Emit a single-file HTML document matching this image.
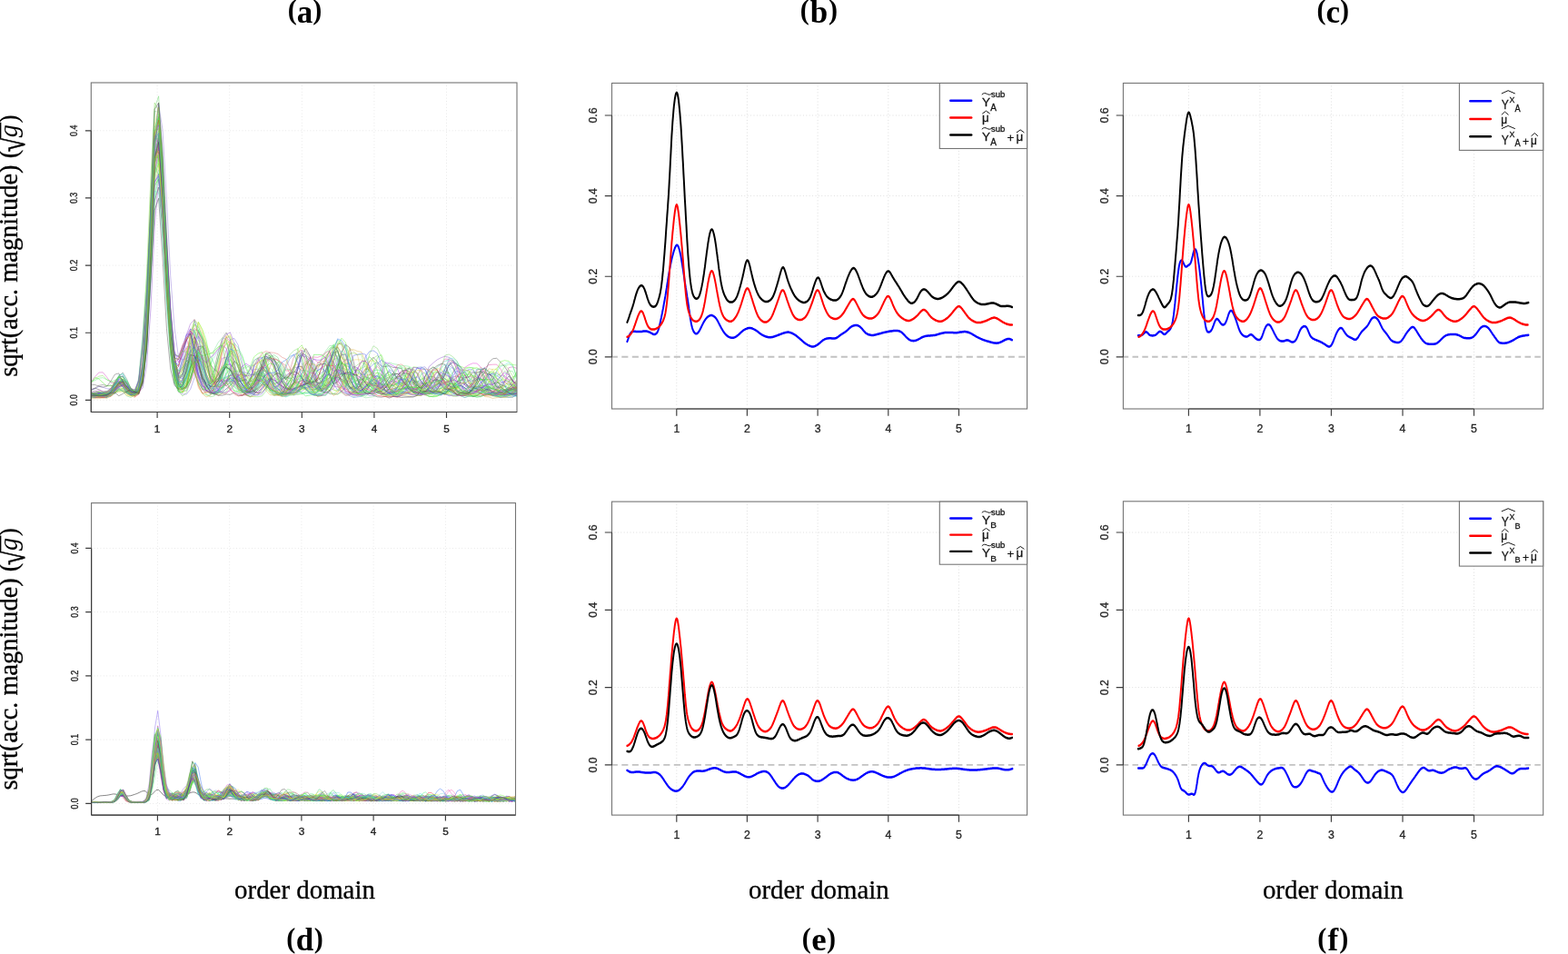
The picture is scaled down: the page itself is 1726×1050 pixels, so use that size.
<!DOCTYPE html>
<html lang="en"><head><meta charset="utf-8"><title>Order domain spectra</title>
<style>html,body{margin:0;padding:0;background:#fff}body{width:1726px;height:1050px;overflow:hidden}svg{display:block}</style>
</head><body>
<svg width="1726" height="1050" viewBox="0 0 1726 1050" role="img" aria-label="Order domain spectra, panels (a) to (f)">
<rect width="1726" height="1050" fill="#fff"/>
<g id="panel-a">
<path d="M173.1 94.0V451.5M252.7 94.0V451.5M332.3 94.0V451.5M411.9 94.0V451.5M491.5 94.0V451.5M103.3 440.3H566.0M103.3 366.2H566.0M103.3 292.1H566.0M103.3 217.9H566.0M103.3 143.8H566.0" fill="none" stroke="#e8e8e8" stroke-width="1" stroke-dasharray="1 2.4"/>
<clipPath id="cp-a"><rect x="100.3" y="91.0" width="468.7" height="362.5"/></clipPath>
<g fill="none" stroke-width="0.72" stroke-linejoin="round" stroke-opacity="0.58" clip-path="url(#cp-a)">
<path d="M100.2 436.4L104.6 437.7L108.9 436.8L113.3 437.1L117.7 435.6L122.1 433.8L126.5 430.2L130.8 428.8L135.2 430.4L139.6 435.8L144 437.4L148.3 435.1L152.7 430.5L157.1 409.7L161.5 345.3L165.9 228.2L170.2 119.7L174.6 105.8L179 174.4L183.4 272.8L187.7 357.5L192.1 406.2L196.5 420L200.9 412.5L205.3 400L209.6 396.1L214 408.5L218.4 422.8L222.8 432.8L227.1 434.9L231.5 434.8L235.9 431.5L240.3 423.5L244.7 413.4L249 401.6L253.4 396L257.8 399.9L262.2 412.1L266.6 423.7L270.9 425.1L275.3 418.2L279.7 410.7L284.1 408.5L288.4 410.4L292.8 417L297.2 422L301.6 427.5L306 434.3L310.3 433.5L314.7 432.6L319.1 431.2L323.5 427.8L327.8 424.9L332.2 424.2L336.6 426.9L341 430.7L345.4 433.6L349.7 434.3L354.1 430.8L358.5 421.6L362.9 407.5L367.2 395.6L371.6 394.1L376 398.8L380.4 409.7L384.8 422L389.1 427.5L393.5 428L397.9 427.3L402.3 423.9L406.6 422.2L411 422.3L415.4 426.8L419.8 432.3L424.2 432.7L428.5 433.3L432.9 435L437.3 433.8L441.7 428.3L446 421L450.4 416.6L454.8 418.2L459.2 420.6L463.6 417.9L467.9 414.2L472.3 408.5L476.7 410.9L481.1 419.7L485.5 427.1L489.8 431.8L494.2 430.8L498.6 428.6L503 426.9L507.3 425.6L511.7 430.6L516.1 431.3L520.5 430.4L524.9 430.7L529.2 432.8L533.6 432.4L538 434.4L542.4 435.9L546.7 436.7L551.1 436.7L555.5 434.9L559.9 434.7L564.3 433.9L568.6 431.3L569.5 431.1" stroke="#5fd35f"/>
<path d="M100.2 437.4L104.6 437.5L108.9 437.4L113.3 436.7L117.7 436.1L122.1 434.8L126.5 432.3L130.8 430.2L135.2 430.6L139.6 431.9L144 434.8L148.3 433.1L152.7 419.2L157.1 375.1L161.5 299.1L165.9 196.1L170.2 113.1L174.6 122.3L179 204.5L183.4 305.2L187.7 378.6L192.1 416.5L196.5 431L200.9 431.8L205.3 423.4L209.6 408.7L214 395.1L218.4 392L222.8 400.3L227.1 417.5L231.5 427.7L235.9 431.4L240.3 429.8L244.7 420.6L249 412.7L253.4 404L257.8 398L262.2 401.2L266.6 413.6L270.9 427.4L275.3 432.1L279.7 426.9L284.1 415.4L288.4 402.1L292.8 397.6L297.2 408.6L301.6 423.3L306 431.3L310.3 435.3L314.7 436.5L319.1 435.2L323.5 434.8L327.8 434.2L332.2 433.5L336.6 430.8L341 424.7L345.4 419L349.7 416.2L354.1 414L358.5 408.9L362.9 396.5L367.2 382L371.6 375.4L376 379.4L380.4 399.8L384.8 420.9L389.1 431.5L393.5 434.2L397.9 429.1L402.3 420.3L406.6 405L411 394.1L415.4 391.5L419.8 395L424.2 403L428.5 414.3L432.9 421.6L437.3 423.6L441.7 414.6L446 406.5L450.4 405.2L454.8 411.4L459.2 419.3L463.6 424.9L467.9 424.3L472.3 426.8L476.7 429.9L481.1 430.5L485.5 431L489.8 430.2L494.2 423.7L498.6 415.7L503 413.5L507.3 415L511.7 418.3L516.1 419.3L520.5 415.4L524.9 410.3L529.2 408.5L533.6 420.2L538 432.8L542.4 435.3L546.7 436.1L551.1 437L555.5 437.6L559.9 437.4L564.3 436.8L568.6 435.1L569.5 434.4" stroke="#7ad84a"/>
<path d="M100.2 430.2L104.6 427.1L108.9 424.3L113.3 423.5L117.7 424.6L122.1 423.9L126.5 427.3L130.8 425.5L135.2 423.6L139.6 425.1L144 429.9L148.3 432.9L152.7 433L157.1 418.4L161.5 371L165.9 271.1L170.2 159L174.6 128.3L179 181.5L183.4 276.9L187.7 359.2L192.1 401L196.5 411.4L200.9 406.5L205.3 397.4L209.6 394.5L214 401.6L218.4 414.6L222.8 424.9L227.1 426.6L231.5 419.5L235.9 406.2L240.3 387.1L244.7 372.5L249 366.1L253.4 373.6L257.8 402.4L262.2 422.6L266.6 431.4L270.9 430.1L275.3 419.8L279.7 402.3L284.1 394.2L288.4 403.6L292.8 419.9L297.2 430.3L301.6 435L306 435.1L310.3 434.3L314.7 434.9L319.1 433.4L323.5 431.5L327.8 430L332.2 427.6L336.6 426.1L341 425.7L345.4 424.4L349.7 423.3L354.1 420.9L358.5 418.5L362.9 415.6L367.2 409.3L371.6 405.9L376 410.4L380.4 418.4L384.8 425.5L389.1 428L393.5 424.6L397.9 416.2L402.3 406.1L406.6 407L411 414.3L415.4 423.6L419.8 430.6L424.2 435L428.5 436.4L432.9 436.2L437.3 436.4L441.7 435.7L446 436L450.4 436.6L454.8 436.3L459.2 435.2L463.6 428.7L467.9 420.2L472.3 414.9L476.7 414.2L481.1 417.5L485.5 420.1L489.8 413.2L494.2 401.3L498.6 396.5L503 401.7L507.3 414.1L511.7 423.9L516.1 426.8L520.5 424L524.9 417.6L529.2 410.4L533.6 408L538 414L542.4 420.6L546.7 426.1L551.1 431.6L555.5 434.6L559.9 434.5L564.3 431.7L568.6 429.2L569.5 428.7" stroke="#535353"/>
<path d="M100.2 435.6L104.6 436.7L108.9 436.9L113.3 437.3L117.7 436.6L122.1 435.3L126.5 432.2L130.8 428.8L135.2 428.8L139.6 432.1L144 434L148.3 435L152.7 430.9L157.1 412.6L161.5 361.9L165.9 270.1L170.2 183.8L174.6 157.2L179 196.7L183.4 274.6L187.7 348.8L192.1 397.3L196.5 419.3L200.9 420.8L205.3 408.7L209.6 397.7L214 397.6L218.4 411.2L222.8 426.3L227.1 434.2L231.5 436.7L235.9 435.8L240.3 430.8L244.7 425.3L249 422.6L253.4 416.2L257.8 420.8L262.2 427.7L266.6 431.2L270.9 434.7L275.3 436.3L279.7 436.6L284.1 436.7L288.4 435.8L292.8 430.4L297.2 419L301.6 403.8L306 398.1L310.3 400.7L314.7 413.2L319.1 416.3L323.5 405.1L327.8 391.4L332.2 392L336.6 407.7L341 425.9L345.4 431.8L349.7 430.5L354.1 420.2L358.5 396.3L362.9 385.5L367.2 379.7L371.6 383.6L376 406.1L380.4 414.9L384.8 416.7L389.1 416.9L393.5 419.4L397.9 421.8L402.3 418.7L406.6 416.4L411 413.6L415.4 413.4L419.8 420.6L424.2 429L428.5 432.9L432.9 435.5L437.3 434.2L441.7 432.6L446 433.2L450.4 432.4L454.8 431.2L459.2 430.8L463.6 431.3L467.9 433.1L472.3 432.6L476.7 430.2L481.1 423.2L485.5 414.3L489.8 403.8L494.2 399.6L498.6 403.5L503 412.4L507.3 422.6L511.7 427.6L516.1 426.9L520.5 422.2L524.9 416.7L529.2 417.3L533.6 421.6L538 427.4L542.4 433.1L546.7 435.5L551.1 435.8L555.5 433.6L559.9 432.3L564.3 432.2L568.6 431.1L569.5 431.3" stroke="#5edd58"/>
<path d="M100.2 435.1L104.6 434L108.9 436.3L113.3 434L117.7 434.9L122.1 435.8L126.5 432.9L130.8 425.7L135.2 422.7L139.6 428.4L144 432.4L148.3 434L152.7 429L157.1 406.3L161.5 339.7L165.9 234.6L170.2 143.1L174.6 142.4L179 200.2L183.4 281.4L187.7 353.8L192.1 399.8L196.5 422.4L200.9 427L205.3 414.4L209.6 385.3L214 352.4L218.4 358.8L222.8 372.6L227.1 403.5L231.5 415.3L235.9 408.3L240.3 393.4L244.7 378.7L249 376.7L253.4 389.6L257.8 406.9L262.2 422.1L266.6 431L270.9 434.5L275.3 434.6L279.7 432.6L284.1 424.5L288.4 411.8L292.8 394.8L297.2 390.9L301.6 392.9L306 396.7L310.3 408.9L314.7 418.4L319.1 425.8L323.5 431.6L327.8 434L332.2 432.8L336.6 432.4L341 431.3L345.4 429.8L349.7 426.9L354.1 424.5L358.5 424.2L362.9 426.3L367.2 418.9L371.6 415.3L376 417.2L380.4 423.4L384.8 432L389.1 433.4L393.5 433.5L397.9 434.1L402.3 436.1L406.6 433.4L411 433.8L415.4 427.2L419.8 417.9L424.2 404.1L428.5 398.8L432.9 400.6L437.3 401.2L441.7 403L446 417.8L450.4 425.4L454.8 431L459.2 433.9L463.6 433L467.9 429.7L472.3 427.2L476.7 426.7L481.1 423.8L485.5 417L489.8 411.5L494.2 415.5L498.6 424.6L503 431.1L507.3 430.7L511.7 430.1L516.1 431.9L520.5 433.4L524.9 435L529.2 432.2L533.6 431.5L538 431.8L542.4 432.7L546.7 433.8L551.1 435.5L555.5 434.4L559.9 432.5L564.3 430L568.6 427.1L569.5 428.4" stroke="#4fe66f"/>
<path d="M100.2 434.5L104.6 435L108.9 435L113.3 433.4L117.7 434.6L122.1 430.3L126.5 422.4L130.8 418.4L135.2 420.5L139.6 429.4L144 433.9L148.3 434.3L152.7 431.9L157.1 423.7L161.5 387L165.9 310.4L170.2 217.3L174.6 186.9L179 235.8L183.4 317.5L187.7 383.8L192.1 416.6L196.5 426.4L200.9 417.2L205.3 396.4L209.6 365.6L214 356.5L218.4 364.6L222.8 375.7L227.1 393.1L231.5 401L235.9 393L240.3 386.3L244.7 382.1L249 388.7L253.4 410.5L257.8 425.7L262.2 431.6L266.6 431.8L270.9 429.9L275.3 426.1L279.7 421.1L284.1 417L288.4 416.7L292.8 422.1L297.2 429.8L301.6 433.6L306 434.6L310.3 435.4L314.7 432.9L319.1 430.9L323.5 423.1L327.8 416.7L332.2 414.1L336.6 421.1L341 427.1L345.4 429.4L349.7 432.1L354.1 434.2L358.5 431.2L362.9 422.1L367.2 400.4L371.6 378L376 378L380.4 382.1L384.8 388.5L389.1 404.6L393.5 419.1L397.9 424.6L402.3 425.9L406.6 424.9L411 426.5L415.4 430.7L419.8 433.3L424.2 434.3L428.5 433.4L432.9 430.3L437.3 429.2L441.7 427.9L446 423.1L450.4 421.3L454.8 423.6L459.2 427.4L463.6 430.4L467.9 432.3L472.3 433.3L476.7 432.5L481.1 431.5L485.5 426L489.8 417.4L494.2 406.9L498.6 404.5L503 411.3L507.3 418.4L511.7 421.8L516.1 419.2L520.5 414.1L524.9 405.9L529.2 404.9L533.6 415.2L538 425.3L542.4 427.7L546.7 429.6L551.1 432.5L555.5 432.8L559.9 428.8L564.3 420.1L568.6 412.4L569.5 412.6" stroke="#70dfd4"/>
<path d="M100.2 437.1L104.6 437.7L108.9 437L113.3 437.6L117.7 437.4L122.1 431.8L126.5 422.9L130.8 416.9L135.2 419.8L139.6 427.8L144 434.4L148.3 435.9L152.7 429.9L157.1 403.9L161.5 343.3L165.9 247.8L170.2 165.8L174.6 160.9L179 223.2L183.4 309.1L187.7 378L192.1 412.9L196.5 414.4L200.9 392L205.3 372.7L209.6 362.3L214 363.9L218.4 394.5L222.8 416.1L227.1 421.2L231.5 421.1L235.9 417.9L240.3 412.7L244.7 406.9L249 401.4L253.4 401.2L257.8 405.9L262.2 413.8L266.6 423.5L270.9 429.3L275.3 432.2L279.7 431.7L284.1 426L288.4 418L292.8 418.1L297.2 426.6L301.6 430.7L306 433.3L310.3 436.3L314.7 435.8L319.1 434.2L323.5 433.5L327.8 430.1L332.2 426.2L336.6 426.7L341 428.5L345.4 428.9L349.7 428L354.1 419.2L358.5 407.6L362.9 397.7L367.2 398.2L371.6 409.6L376 423.4L380.4 432L384.8 435.4L389.1 437.5L393.5 436.8L397.9 436.3L402.3 432.5L406.6 424.4L411 411.8L415.4 400.4L419.8 396.3L424.2 399.1L428.5 403.3L432.9 408.4L437.3 416.5L441.7 422.4L446 427.9L450.4 428L454.8 431.3L459.2 434.8L463.6 435.1L467.9 433.2L472.3 426.7L476.7 420.9L481.1 414.5L485.5 409.5L489.8 407.5L494.2 414.4L498.6 423.6L503 431L507.3 435.6L511.7 437.6L516.1 435.7L520.5 436.2L524.9 435.5L529.2 432L533.6 429.6L538 428.7L542.4 430.5L546.7 432.8L551.1 432L555.5 431.9L559.9 427.3L564.3 423.5L568.6 418.9L569.5 419.4" stroke="#3568e7"/>
<path d="M100.2 435.2L104.6 434.9L108.9 436L113.3 437.1L117.7 437.6L122.1 435.3L126.5 430.2L130.8 421.6L135.2 421.2L139.6 429.3L144 433L148.3 432L152.7 415.9L157.1 366.4L161.5 306.1L165.9 238.3L170.2 182.9L174.6 193.1L179 258.3L183.4 337L187.7 394.2L192.1 421.8L196.5 427.7L200.9 416.7L205.3 395.6L209.6 367L214 353.6L218.4 363.2L222.8 387.1L227.1 404.6L231.5 402.3L235.9 385.1L240.3 376.7L244.7 371.8L249 373.6L253.4 396.6L257.8 408.3L262.2 409.7L266.6 406.4L270.9 402.1L275.3 405.1L279.7 409.1L284.1 412.3L288.4 409.6L292.8 407.8L297.2 414.4L301.6 425L306 432.9L310.3 435.7L314.7 435.4L319.1 431.1L323.5 429.2L327.8 428.9L332.2 428.1L336.6 427.3L341 423.9L345.4 418.2L349.7 407.9L354.1 393.8L358.5 386.3L362.9 380.4L367.2 380.4L371.6 396.2L376 412.1L380.4 425.5L384.8 433.1L389.1 436.7L393.5 435L397.9 435.9L402.3 437.8L406.6 437.4L411 436.7L415.4 434.3L419.8 428.9L424.2 422L428.5 416.3L432.9 415.6L437.3 416.4L441.7 412.6L446 411.2L450.4 412.1L454.8 418.4L459.2 427.1L463.6 430.5L467.9 431.6L472.3 430.7L476.7 429.6L481.1 428.2L485.5 427.3L489.8 422.5L494.2 416.1L498.6 417.7L503 428.8L507.3 436.1L511.7 437.4L516.1 436.3L520.5 435.9L524.9 437.5L529.2 436L533.6 433.3L538 426.4L542.4 419.9L546.7 416L551.1 419.6L555.5 424.6L559.9 432.6L564.3 434.3L568.6 435.7L569.5 437.3" stroke="#6bda84"/>
<path d="M100.2 433.2L104.6 432.5L108.9 434.5L113.3 435.2L117.7 434.2L122.1 431.9L126.5 426.8L130.8 416.3L135.2 413.7L139.6 421.7L144 431L148.3 433.9L152.7 430.9L157.1 417.7L161.5 373L165.9 285.1L170.2 191.9L174.6 167.1L179 206.1L183.4 274.8L187.7 342.7L192.1 391L196.5 414L200.9 417.1L205.3 409.4L209.6 395L214 381.3L218.4 370.2L222.8 377.6L227.1 387.2L231.5 406.2L235.9 420.5L240.3 429.9L244.7 431.5L249 428.1L253.4 424.2L257.8 418L262.2 414.3L266.6 418.9L270.9 423.9L275.3 418.8L279.7 402.8L284.1 397.4L288.4 393.8L292.8 392L297.2 395.3L301.6 399.5L306 415.8L310.3 427L314.7 430.6L319.1 428.6L323.5 420.5L327.8 406.3L332.2 391.4L336.6 392.8L341 396.9L345.4 413.5L349.7 426.5L354.1 428.2L358.5 426.6L362.9 419.7L367.2 416L371.6 415.3L376 417.5L380.4 421.8L384.8 426.7L389.1 431.3L393.5 432.5L397.9 430.5L402.3 425.9L406.6 422.3L411 422.8L415.4 425.4L419.8 421.9L424.2 412.2L428.5 408.7L432.9 412.7L437.3 415.5L441.7 418.6L446 420.4L450.4 426.7L454.8 431.4L459.2 432.3L463.6 433.4L467.9 430.8L472.3 427.9L476.7 425.5L481.1 422.7L485.5 422.8L489.8 427.7L494.2 430L498.6 432L503 434L507.3 434.3L511.7 433L516.1 432.6L520.5 433.9L524.9 431.7L529.2 428.1L533.6 425L538 425.6L542.4 428.4L546.7 430.5L551.1 432.8L555.5 429.9L559.9 428.3L564.3 428.5L568.6 428.1L569.5 428.1" stroke="#4a12f4"/>
<path d="M100.2 428.8L104.6 427.9L108.9 425.4L113.3 426.2L117.7 427.8L122.1 428L126.5 423.5L130.8 421.4L135.2 424.7L139.6 430.7L144 434.9L148.3 434.1L152.7 429.2L157.1 408.1L161.5 345L165.9 239.3L170.2 152L174.6 158.8L179 231.8L183.4 320.7L187.7 387.9L192.1 421.8L196.5 431.4L200.9 433.9L205.3 433.9L209.6 428.5L214 415.6L218.4 398.4L222.8 390.9L227.1 398.3L231.5 413.3L235.9 422.1L240.3 419.9L244.7 410.3L249 401.9L253.4 400.5L257.8 405L262.2 414.8L266.6 423.6L270.9 430.2L275.3 431.1L279.7 430.6L284.1 421.3L288.4 410.5L292.8 398.8L297.2 392.9L301.6 396.4L306 404.8L310.3 414.9L314.7 423.2L319.1 426.4L323.5 421.9L327.8 403.9L332.2 385.8L336.6 387.1L341 391.3L345.4 403.4L349.7 419.5L354.1 429.2L358.5 430.2L362.9 424.5L367.2 418.1L371.6 413.1L376 411.1L380.4 411.5L384.8 410.6L389.1 411.5L393.5 418L397.9 426.7L402.3 432.9L406.6 435.5L411 435.1L415.4 432.2L419.8 427L424.2 414.9L428.5 406.8L432.9 409.2L437.3 416.4L441.7 417.2L446 418.8L450.4 426.4L454.8 425.8L459.2 424.2L463.6 419.8L467.9 423.7L472.3 430.4L476.7 430.4L481.1 425.7L485.5 416.3L489.8 406.5L494.2 402.3L498.6 405.2L503 412.7L507.3 418.8L511.7 417.5L516.1 410.8L520.5 409L524.9 412.3L529.2 419.9L533.6 428.1L538 433.8L542.4 435.2L546.7 433L551.1 431L555.5 430.3L559.9 430.2L564.3 431.7L568.6 432.8L569.5 432" stroke="#715cda"/>
<path d="M100.2 419.9L104.6 414.7L108.9 410L113.3 409.8L117.7 415.3L122.1 421.2L126.5 421.6L130.8 419.2L135.2 420.7L139.6 426.4L144 432L148.3 433.2L152.7 431.4L157.1 418.9L161.5 376.6L165.9 278.8L170.2 163.2L174.6 127.9L179 187.9L183.4 287L187.7 368.1L192.1 410.2L196.5 423.6L200.9 420.5L205.3 405.1L209.6 382.6L214 370.6L218.4 380.3L222.8 401L227.1 417.4L231.5 428.1L235.9 431.6L240.3 429.1L244.7 423.9L249 418L253.4 413.6L257.8 413.9L262.2 419.7L266.6 426.2L270.9 430.5L275.3 431.3L279.7 431.2L284.1 422.2L288.4 409.1L292.8 394.9L297.2 395.2L301.6 403.2L306 416.7L310.3 427.6L314.7 432.9L319.1 433.3L323.5 432.2L327.8 431.2L332.2 421.6L336.6 405.6L341 394L345.4 395.3L349.7 398.6L354.1 400.7L358.5 414.8L362.9 422.7L367.2 425L371.6 425.8L376 426.8L380.4 428.4L384.8 427.9L389.1 424.5L393.5 417.9L397.9 411.6L402.3 405.8L406.6 404.1L411 411.1L415.4 417.3L419.8 424.5L424.2 429.6L428.5 431.4L432.9 430.9L437.3 429.3L441.7 427.2L446 428.2L450.4 426.9L454.8 427.7L459.2 427L463.6 423.1L467.9 422.3L472.3 424.4L476.7 416.8L481.1 409.4L485.5 413.7L489.8 420.3L494.2 419.6L498.6 414.5L503 413.9L507.3 415.7L511.7 415L516.1 414.5L520.5 415L524.9 417.5L529.2 424.8L533.6 428L538 429.8L542.4 430.3L546.7 432.3L551.1 429.5L555.5 421.5L559.9 404.7L564.3 403.8L568.6 405.3L569.5 405.8" stroke="#d031b9"/>
<path d="M100.2 435L104.6 435L108.9 434.3L113.3 436L117.7 436.1L122.1 434L126.5 431.7L130.8 428.9L135.2 427.2L139.6 430.7L144 431.4L148.3 430.3L152.7 426.1L157.1 400.9L161.5 335.2L165.9 234.5L170.2 151.8L174.6 153L179 221.5L183.4 313.5L187.7 380.1L192.1 410.2L196.5 415.8L200.9 406.5L205.3 390L209.6 378L214 375.7L218.4 384L222.8 400.8L227.1 417.8L231.5 425.5L235.9 430.2L240.3 434.9L244.7 433L249 431.4L253.4 423.6L257.8 414.5L262.2 411.2L266.6 418.1L270.9 425.2L275.3 431.3L279.7 430.8L284.1 426.7L288.4 419.3L292.8 410.4L297.2 404.9L301.6 409.2L306 422.1L310.3 430.5L314.7 431.1L319.1 428.3L323.5 422.1L327.8 413.5L332.2 407.4L336.6 407.8L341 409.4L345.4 407.4L349.7 401.4L354.1 395.4L358.5 388.4L362.9 383.1L367.2 381.6L371.6 398.2L376 414.2L380.4 423L384.8 422.8L389.1 419.9L393.5 418.4L397.9 417.2L402.3 416.9L406.6 418.8L411 423.8L415.4 429.6L419.8 430.6L424.2 430.6L428.5 431.5L432.9 429.4L437.3 426.4L441.7 422.3L446 420.4L450.4 419.8L454.8 420.8L459.2 420.6L463.6 417.7L467.9 415.9L472.3 418.7L476.7 423.4L481.1 428.6L485.5 433.2L489.8 433.7L494.2 434.3L498.6 436L503 436.3L507.3 435.1L511.7 433.5L516.1 433.9L520.5 435.3L524.9 434.3L529.2 432.5L533.6 427.6L538 420.7L542.4 417.3L546.7 414.3L551.1 411.2L555.5 403.2L559.9 401.1L564.3 401.4L568.6 401.9L569.5 402.1" stroke="#65f059"/>
<path d="M100.2 431.6L104.6 433L108.9 433.2L113.3 432.8L117.7 432.9L122.1 432.3L126.5 428L130.8 420.9L135.2 414.9L139.6 418.4L144 427L148.3 429.3L152.7 419.4L157.1 384.5L161.5 312.2L165.9 216.3L170.2 155L174.6 170.1L179 238.4L183.4 321.1L187.7 383.4L192.1 415.8L196.5 426.8L200.9 428L205.3 421.8L209.6 405.7L214 386.9L218.4 374.4L222.8 378L227.1 396.6L231.5 416.1L235.9 425.6L240.3 425.4L244.7 415.2L249 395.5L253.4 377L257.8 380.6L262.2 393.8L266.6 415.2L270.9 426.8L275.3 428.7L279.7 425.8L284.1 420.7L288.4 414.5L292.8 413.3L297.2 418.8L301.6 424.8L306 429.4L310.3 432.6L314.7 432.9L319.1 432.8L323.5 433.1L327.8 431.4L332.2 426.3L336.6 423L341 421.1L345.4 424.8L349.7 428.7L354.1 428.1L358.5 421.5L362.9 408.5L367.2 390.7L371.6 377.6L376 379.3L380.4 384L384.8 392.6L389.1 404.1L393.5 408L397.9 405.3L402.3 402.9L406.6 407.5L411 412.7L415.4 420.5L419.8 427.7L424.2 430.1L428.5 431.5L432.9 432.2L437.3 429.9L441.7 424.8L446 418.3L450.4 412.1L454.8 408.9L459.2 410.2L463.6 415L467.9 422.3L472.3 427.2L476.7 428.6L481.1 430.8L485.5 431.7L489.8 430.5L494.2 430.9L498.6 431L503 427.8L507.3 424.4L511.7 419.2L516.1 410.1L520.5 405.5L524.9 404.6L529.2 407.7L533.6 414L538 419.8L542.4 421.3L546.7 421.1L551.1 418.3L555.5 418L559.9 419.4L564.3 426L568.6 430L569.5 430.9" stroke="#83f913"/>
<path d="M100.2 433.8L104.6 433.3L108.9 433L113.3 432.9L117.7 433.6L122.1 431.6L126.5 426.9L130.8 421.3L135.2 420.6L139.6 426.7L144 431.4L148.3 432.6L152.7 432L157.1 426.7L161.5 402.3L165.9 341L170.2 249.9L174.6 197.6L179 225.6L183.4 296.9L187.7 365.3L192.1 405.2L196.5 413.2L200.9 399.8L205.3 381.8L209.6 380.9L214 399.9L218.4 419.7L222.8 428.7L227.1 429.8L231.5 425.6L235.9 412.6L240.3 394.2L244.7 374.7L249 368.2L253.4 365.8L257.8 377.5L262.2 395.4L266.6 410.1L270.9 423.6L275.3 430.5L279.7 429.4L284.1 423L288.4 406.8L292.8 394.7L297.2 395.2L301.6 401.8L306 412L310.3 423.1L314.7 431.7L319.1 432.2L323.5 428.5L327.8 426.9L332.2 421.3L336.6 419.1L341 420.1L345.4 422.9L349.7 427.8L354.1 431.2L358.5 431.5L362.9 432.8L367.2 433.8L371.6 433.6L376 430.5L380.4 426.6L384.8 412.1L389.1 403.3L393.5 404.9L397.9 413.4L402.3 422.2L406.6 425.1L411 424.3L415.4 421.6L419.8 421.9L424.2 425.6L428.5 429.6L432.9 432.1L437.3 431.8L441.7 431.1L446 431.9L450.4 433.7L454.8 432.8L459.2 428.4L463.6 422.7L467.9 414.2L472.3 403.6L476.7 399.6L481.1 396L485.5 393.7L489.8 392.2L494.2 393.3L498.6 396.1L503 407.7L507.3 423.9L511.7 431.4L516.1 431.7L520.5 428.5L524.9 427.2L529.2 426.7L533.6 424.5L538 422.4L542.4 422.3L546.7 421.7L551.1 420.5L555.5 420.4L559.9 422.9L564.3 423.7L568.6 427.1L569.5 427.3" stroke="#813bc8"/>
<path d="M100.2 432.3L104.6 433.7L108.9 435.6L113.3 434.3L117.7 434.8L122.1 434.2L126.5 430.3L130.8 424.1L135.2 418.4L139.6 419.7L144 427.6L148.3 431.7L152.7 429L157.1 417.2L161.5 374.5L165.9 283.7L170.2 181.7L174.6 147.8L179 192.3L183.4 272.1L187.7 347.4L192.1 398.1L196.5 421.7L200.9 429.9L205.3 430L209.6 419L214 401.3L218.4 389.4L222.8 396L227.1 414.1L231.5 427L235.9 432.7L240.3 430.1L244.7 419.9L249 410.6L253.4 407.4L257.8 409.7L262.2 412.8L266.6 419.2L270.9 425.5L275.3 422.7L279.7 414.8L284.1 410.3L288.4 409.6L292.8 413.4L297.2 421.8L301.6 427.2L306 428.5L310.3 428.2L314.7 422.7L319.1 422.8L323.5 427.8L327.8 430.6L332.2 433.1L336.6 433L341 433.2L345.4 434.5L349.7 435.5L354.1 432.4L358.5 429.4L362.9 425.9L367.2 419.4L371.6 418L376 417.3L380.4 420.3L384.8 425.7L389.1 430.3L393.5 429.5L397.9 420.5L402.3 410.6L406.6 407.1L411 416.3L415.4 427L419.8 431.7L424.2 434.2L428.5 435.3L432.9 434.1L437.3 436.1L441.7 433.2L446 434.1L450.4 431.8L454.8 428.6L459.2 422.6L463.6 411.7L467.9 409.9L472.3 420.2L476.7 428.4L481.1 427.5L485.5 418.5L489.8 406L494.2 394.3L498.6 394.4L503 397.6L507.3 405.2L511.7 417.9L516.1 428.3L520.5 432L524.9 434.2L529.2 433.8L533.6 430.3L538 424.6L542.4 417.5L546.7 409.6L551.1 403.1L555.5 401.8L559.9 398.9L564.3 403.3L568.6 414L569.5 414.8" stroke="#3edace"/>
<path d="M100.2 434.5L104.6 432.9L108.9 431.3L113.3 432L117.7 434.1L122.1 432.4L126.5 427.4L130.8 422.3L135.2 422.5L139.6 427.4L144 433.4L148.3 433.8L152.7 427L157.1 404.1L161.5 346L165.9 252.1L170.2 171.1L174.6 164.8L179 228L183.4 319.1L187.7 385.4L192.1 418.7L196.5 431.2L200.9 432L205.3 424.5L209.6 409.7L214 393.1L218.4 391L222.8 401.9L227.1 414.8L231.5 422.7L235.9 414.6L240.3 393.3L244.7 379.3L249 374.5L253.4 389.2L257.8 410.9L262.2 426.5L266.6 431.5L270.9 431.2L275.3 430.5L279.7 428.8L284.1 419.4L288.4 408.4L292.8 397L297.2 392.7L301.6 394.8L306 401.6L310.3 413.9L314.7 424.7L319.1 429.6L323.5 429.9L327.8 427.5L332.2 422.9L336.6 418.6L341 419.4L345.4 419.5L349.7 416.8L354.1 416.8L358.5 424.5L362.9 430.1L367.2 433.5L371.6 434.1L376 431.5L380.4 425L384.8 414.1L389.1 407.7L393.5 407.6L397.9 411.4L402.3 418.6L406.6 424.5L411 427.7L415.4 429.6L419.8 430.4L424.2 433L428.5 435L432.9 434.6L437.3 433.6L441.7 433.7L446 426.6L450.4 416L454.8 403.9L459.2 404.3L463.6 409.5L467.9 421.6L472.3 428.6L476.7 431.1L481.1 432.4L485.5 430.7L489.8 426.7L494.2 418L498.6 409.4L503 401.9L507.3 403.4L511.7 405.1L516.1 404.2L520.5 405.1L524.9 417.9L529.2 426.8L533.6 432.9L538 434.5L542.4 434L546.7 434.7L551.1 433.1L555.5 432.4L559.9 428.7L564.3 427.8L568.6 428.3L569.5 428.1" stroke="#5ef110"/>
<path d="M100.2 435.6L104.6 434.5L108.9 434.5L113.3 436L117.7 434.8L122.1 433.1L126.5 433.5L130.8 428L135.2 423.3L139.6 426.4L144 432.4L148.3 434L152.7 431L157.1 414.4L161.5 364L165.9 271.2L170.2 180.5L174.6 162.4L179 221.7L183.4 309.5L187.7 377.7L192.1 408.4L196.5 407.6L200.9 397L205.3 389.7L209.6 389.7L214 397.9L218.4 410.2L222.8 421.2L227.1 429.1L231.5 433.6L235.9 432.4L240.3 429.8L244.7 417.7L249 398.2L253.4 373.9L257.8 372.4L262.2 379.8L266.6 399.2L270.9 419.2L275.3 429.3L279.7 434.1L284.1 434.8L288.4 433.7L292.8 427L297.2 416.6L301.6 410.3L306 413L310.3 420.4L314.7 426.4L319.1 432.5L323.5 435L327.8 432.5L332.2 430.8L336.6 427.2L341 425.3L345.4 419.3L349.7 413.1L354.1 410.2L358.5 407.4L362.9 397.4L367.2 388.2L371.6 392.4L376 407.1L380.4 421.9L384.8 432.1L389.1 434.8L393.5 434.8L397.9 433.1L402.3 430.8L406.6 425.3L411 416.6L415.4 412.7L419.8 418.3L424.2 424.1L428.5 430.9L432.9 433.4L437.3 433.4L441.7 432.3L446 431.3L450.4 427.8L454.8 423.1L459.2 414L463.6 404.4L467.9 403.8L472.3 408.7L476.7 418.7L481.1 428.7L485.5 432.6L489.8 433.2L494.2 435.8L498.6 433.9L503 432.1L507.3 428.7L511.7 421.6L516.1 418.6L520.5 423.7L524.9 429.7L529.2 431.8L533.6 422.8L538 414.6L542.4 411L546.7 410L551.1 413.7L555.5 413.9L559.9 417.5L564.3 426L568.6 432.5L569.5 432.8" stroke="#7461db"/>
<path d="M100.2 434.6L104.6 436.3L108.9 435.6L113.3 435.7L117.7 435.3L122.1 434.6L126.5 430.5L130.8 424.2L135.2 422.4L139.6 426.7L144 431.2L148.3 433.6L152.7 432L157.1 413.6L161.5 351L165.9 231.4L170.2 122.4L174.6 123.4L179 206.5L183.4 312.4L187.7 386.6L192.1 421.1L196.5 430.4L200.9 431.5L205.3 425.8L209.6 414.1L214 401.8L218.4 390.5L222.8 386.6L227.1 392.7L231.5 403.6L235.9 414L240.3 418.9L244.7 415.3L249 401.5L253.4 388.2L257.8 382L262.2 388L266.6 402.1L270.9 416.7L275.3 420.7L279.7 412.5L284.1 401.2L288.4 395.7L292.8 402.5L297.2 420L301.6 427.2L306 432L310.3 433.5L314.7 432L319.1 430.2L323.5 428.7L327.8 423L332.2 415.2L336.6 411.7L341 415.2L345.4 420.8L349.7 427.2L354.1 430.7L358.5 427.6L362.9 421.1L367.2 416.3L371.6 417L376 419.7L380.4 425.3L384.8 430.2L389.1 431.7L393.5 433.8L397.9 434.3L402.3 431.7L406.6 426.1L411 418.1L415.4 414.8L419.8 416.8L424.2 418.8L428.5 419.7L432.9 420.4L437.3 423.5L441.7 428.8L446 426.7L450.4 421.7L454.8 421L459.2 426.6L463.6 425.9L467.9 420.3L472.3 410.4L476.7 403.7L481.1 407.1L485.5 418.2L489.8 425.2L494.2 429.1L498.6 430.9L503 426.7L507.3 419.1L511.7 413.5L516.1 410.3L520.5 413.9L524.9 422.5L529.2 429.2L533.6 433L538 433.7L542.4 435.2L546.7 436.6L551.1 436L555.5 436.6L559.9 434.2L564.3 432.9L568.6 434.3L569.5 436.2" stroke="#71d775"/>
<path d="M100.2 433.1L104.6 433.1L108.9 434.3L113.3 433.6L117.7 432.7L122.1 429.3L126.5 423.7L130.8 412.6L135.2 412L139.6 420.2L144 427.4L148.3 430.4L152.7 427.2L157.1 406.2L161.5 348.5L165.9 248.7L170.2 147.7L174.6 117.5L179 179.6L183.4 284.3L187.7 366.5L192.1 404.2L196.5 411.3L200.9 399.9L205.3 386.9L209.6 381.4L214 387.1L218.4 404.2L222.8 417.9L227.1 425L231.5 425.3L235.9 420.6L240.3 415.6L244.7 410L249 405L253.4 405.4L257.8 413.9L262.2 423.3L266.6 427.1L270.9 431.3L275.3 432.3L279.7 428.2L284.1 419.7L288.4 403.7L292.8 394L297.2 395L301.6 397.4L306 403L310.3 418L314.7 427.2L319.1 431.6L323.5 433.2L327.8 430.3L332.2 424.8L336.6 421.6L341 421L345.4 420.2L349.7 421.5L354.1 421.6L358.5 414.4L362.9 411.8L367.2 416.5L371.6 423.4L376 425.6L380.4 424.8L384.8 421.1L389.1 420.6L393.5 423.1L397.9 423.9L402.3 423.1L406.6 423.6L411 424.2L415.4 425.7L419.8 427.3L424.2 426.4L428.5 425.6L432.9 427.1L437.3 429.8L441.7 431.5L446 433.3L450.4 433.8L454.8 434.5L459.2 431.2L463.6 431.1L467.9 428.4L472.3 419.5L476.7 409L481.1 404.2L485.5 400.9L489.8 397.6L494.2 396L498.6 396.7L503 399.7L507.3 404L511.7 408.7L516.1 415.7L520.5 419.2L524.9 417.8L529.2 417.7L533.6 417.7L538 417.5L542.4 419.1L546.7 424.5L551.1 428.8L555.5 428.7L559.9 428.7L564.3 430.1L568.6 432.3L569.5 431.6" stroke="#3ec8a3"/>
<path d="M100.2 432.1L104.6 433.5L108.9 432.9L113.3 432L117.7 430.6L122.1 429.5L126.5 425.7L130.8 420L135.2 418.7L139.6 421.7L144 428.5L148.3 431.2L152.7 427.3L157.1 409.8L161.5 355.2L165.9 258.8L170.2 158.9L174.6 130.8L179 176L183.4 258.5L187.7 337.7L192.1 390.9L196.5 416.5L200.9 421.9L205.3 413.5L209.6 393.6L214 363.4L218.4 363.1L222.8 371.1L227.1 381.7L231.5 392L235.9 400.3L240.3 412.1L244.7 416.1L249 415.8L253.4 417.6L257.8 423.9L262.2 428.5L266.6 429.7L270.9 429.1L275.3 425.1L279.7 418.2L284.1 413.7L288.4 413.3L292.8 415.2L297.2 418.9L301.6 422.6L306 421.1L310.3 416.7L314.7 415.3L319.1 416.3L323.5 418.1L327.8 422.6L332.2 426.7L336.6 428.2L341 430.7L345.4 433.1L349.7 430.3L354.1 427.9L358.5 416.8L362.9 407.7L367.2 405L371.6 411.4L376 419.6L380.4 418.5L384.8 411.4L389.1 414.8L393.5 424.3L397.9 422.9L402.3 415.6L406.6 416.4L411 424.7L415.4 430.4L419.8 430.1L424.2 426.6L428.5 422.5L432.9 415.2L437.3 406L441.7 404.9L446 405.1L450.4 411.6L454.8 421.9L459.2 428.6L463.6 430.4L467.9 431.7L472.3 433.3L476.7 432.9L481.1 433.5L485.5 433.2L489.8 432.6L494.2 431.6L498.6 431.7L503 426.9L507.3 419.6L511.7 412L516.1 407.7L520.5 413.5L524.9 421.7L529.2 427.5L533.6 429L538 426.3L542.4 423.2L546.7 421.3L551.1 422.4L555.5 425.9L559.9 429.5L564.3 431.2L568.6 430.6L569.5 432.6" stroke="#34f351"/>
<path d="M100.2 434.7L104.6 433.8L108.9 434L113.3 433.4L117.7 432.8L122.1 432L126.5 427.4L130.8 421L135.2 421L139.6 428.1L144 433.1L148.3 432.1L152.7 425L157.1 406L161.5 353.4L165.9 267.7L170.2 192.4L174.6 180.1L179 228.4L183.4 304L187.7 370L192.1 411.1L196.5 425.2L200.9 428.7L205.3 425.2L209.6 405.7L214 374.6L218.4 354.4L222.8 362.7L227.1 374.9L231.5 396.7L235.9 416.3L240.3 418.1L244.7 408.6L249 395.5L253.4 386.3L257.8 387.5L262.2 397.7L266.6 410.3L270.9 413.1L275.3 404.5L279.7 392.7L284.1 389.2L288.4 387.5L292.8 397.4L297.2 415.5L301.6 428.6L306 433.5L310.3 434.6L314.7 433.7L319.1 432.7L323.5 432.4L327.8 431.8L332.2 427.9L336.6 419.7L341 412.6L345.4 407.9L349.7 408.1L354.1 413.6L358.5 417.1L362.9 410.2L367.2 396.4L371.6 381.1L376 372.2L380.4 377L384.8 393.3L389.1 413.4L393.5 427.9L397.9 432.2L402.3 430.5L406.6 422.8L411 409.5L415.4 393.7L419.8 390.5L424.2 401.6L428.5 414.9L432.9 418.9L437.3 415.2L441.7 412.3L446 413.9L450.4 420.1L454.8 420.9L459.2 424.9L463.6 428.3L467.9 429.9L472.3 433L476.7 433.7L481.1 431.5L485.5 432L489.8 433.7L494.2 430.7L498.6 425.4L503 420.8L507.3 414.2L511.7 413.3L516.1 412.6L520.5 413.6L524.9 414.9L529.2 418.2L533.6 418.2L538 417.7L542.4 418L546.7 407.9L551.1 398.1L555.5 396.7L559.9 397.5L564.3 401.2L568.6 414.8L569.5 418.3" stroke="#4cf81c"/>
<path d="M100.2 433.8L104.6 435.7L108.9 435L113.3 435.4L117.7 435.2L122.1 433.3L126.5 428.5L130.8 420.7L135.2 417.9L139.6 421.8L144 431L148.3 431L152.7 426.7L157.1 403.6L161.5 344.7L165.9 246.3L170.2 169.2L174.6 166.9L179 218.1L183.4 294.3L187.7 359.4L192.1 402.8L196.5 422.8L200.9 428.9L205.3 425.2L209.6 406.5L214 378.1L218.4 365.4L222.8 373.2L227.1 384.3L231.5 401.5L235.9 406.7L240.3 410.2L244.7 421L249 424.9L253.4 420.8L257.8 416L262.2 417.2L266.6 423.1L270.9 427.5L275.3 427.1L279.7 422L284.1 412.4L288.4 398.7L292.8 392.6L297.2 393.7L301.6 396.3L306 400.5L310.3 410.3L314.7 416.6L319.1 413.3L323.5 405.2L327.8 391.8L332.2 387.7L336.6 391.2L341 402.8L345.4 416.6L349.7 422L354.1 420.3L358.5 412.9L362.9 400.1L367.2 386.8L371.6 381.9L376 388.5L380.4 402.9L384.8 417.4L389.1 425.5L393.5 427.6L397.9 422.1L402.3 409.8L406.6 397.7L411 393.4L415.4 398.2L419.8 403.1L424.2 403.5L428.5 402.6L432.9 404.5L437.3 404.3L441.7 405.5L446 412.8L450.4 421.1L454.8 428L459.2 432.9L463.6 429.7L467.9 426.3L472.3 421.4L476.7 413.9L481.1 409.5L485.5 412.8L489.8 416.7L494.2 421.8L498.6 428L503 422.8L507.3 420.9L511.7 422.2L516.1 425.4L520.5 426.2L524.9 425.1L529.2 426L533.6 431.1L538 431.7L542.4 434.1L546.7 432.4L551.1 432.2L555.5 429.6L559.9 428.1L564.3 428.9L568.6 430.4L569.5 430.7" stroke="#444444"/>
<path d="M100.2 434.3L104.6 433.3L108.9 434.6L113.3 434.6L117.7 433.1L122.1 431.6L126.5 429.1L130.8 426.9L135.2 430.6L139.6 431.4L144 434.2L148.3 433.7L152.7 432.2L157.1 421.9L161.5 383.1L165.9 293.4L170.2 179.3L174.6 114.8L179 142.8L183.4 219.3L187.7 303.3L192.1 361.3L196.5 393.1L200.9 396.2L205.3 394.5L209.6 392.9L214 398.2L218.4 407.1L222.8 418.2L227.1 425.1L231.5 429.7L235.9 428.9L240.3 427L244.7 423.2L249 420.2L253.4 420.5L257.8 421.8L262.2 425.5L266.6 428.8L270.9 426.2L275.3 416L279.7 406.4L284.1 406.8L288.4 411.6L292.8 422.4L297.2 429.4L301.6 430.4L306 429.5L310.3 428.9L314.7 422.8L319.1 412.7L323.5 404.2L327.8 404.4L332.2 407.9L336.6 414L341 422.9L345.4 427.8L349.7 427.6L354.1 422.6L358.5 407.3L362.9 391.7L367.2 390.3L371.6 403.4L376 420.1L380.4 430.8L384.8 432.8L389.1 434.7L393.5 431.5L397.9 429.7L402.3 425.4L406.6 421.2L411 419.1L415.4 419.2L419.8 422.7L424.2 425.7L428.5 423.9L432.9 417.6L437.3 413.6L441.7 417.3L446 422.6L450.4 424.6L454.8 421.6L459.2 419.7L463.6 421.8L467.9 423.9L472.3 419.3L476.7 415.6L481.1 420.1L485.5 424.3L489.8 423.1L494.2 424.2L498.6 427.3L503 430.4L507.3 429.4L511.7 426.7L516.1 421.7L520.5 422.5L524.9 428.1L529.2 430L533.6 432.5L538 434.4L542.4 432L546.7 431.8L551.1 432.7L555.5 432.8L559.9 433.3L564.3 433.6L568.6 431.1L569.5 429.9" stroke="#8567d5"/>
<path d="M100.2 434L104.6 433.4L108.9 433.5L113.3 432.2L117.7 431.4L122.1 432.9L126.5 429.9L130.8 422.7L135.2 417.1L139.6 419.9L144 428L148.3 431.6L152.7 425.1L157.1 399.5L161.5 337.6L165.9 245.3L170.2 173.2L174.6 173.7L179 234.1L183.4 313.9L187.7 377L192.1 411.6L196.5 424.3L200.9 427.8L205.3 427.1L209.6 416.5L214 405.2L218.4 395.8L222.8 394.7L227.1 404.9L231.5 417.2L235.9 422.7L240.3 419.7L244.7 408.7L249 395.1L253.4 387.6L257.8 391.8L262.2 403.6L266.6 416.6L270.9 425.6L275.3 427.8L279.7 421.3L284.1 413.4L288.4 411.2L292.8 415.7L297.2 424.6L301.6 430.9L306 433.1L310.3 432.1L314.7 430L319.1 427L323.5 421.5L327.8 417.6L332.2 416.5L336.6 418.2L341 420.6L345.4 424.5L349.7 430.7L354.1 429.8L358.5 426.7L362.9 423.5L367.2 420.2L371.6 414L376 411.2L380.4 412.3L384.8 412.5L389.1 414.4L393.5 417.7L397.9 417.8L402.3 420.6L406.6 424.6L411 428.8L415.4 431.6L419.8 432.8L424.2 434L428.5 432.9L432.9 431.6L437.3 434L441.7 430.1L446 431L450.4 431.6L454.8 429L459.2 428.5L463.6 426.8L467.9 427.6L472.3 429.7L476.7 432.6L481.1 431.9L485.5 432.2L489.8 432.6L494.2 429.4L498.6 425.6L503 422.3L507.3 414.6L511.7 409.3L516.1 415.6L520.5 425.9L524.9 430.1L529.2 427.9L533.6 418L538 409.8L542.4 409.1L546.7 416.6L551.1 425.2L555.5 431.7L559.9 431.1L564.3 430.3L568.6 428.7L569.5 428.5" stroke="#3ef221"/>
<path d="M100.2 437L104.6 435.7L108.9 436.3L113.3 437.5L117.7 436L122.1 436.3L126.5 431.5L130.8 431.6L135.2 431.1L139.6 435.2L144 435.1L148.3 435.4L152.7 425.3L157.1 396.7L161.5 334L165.9 242.7L170.2 172.3L174.6 172.5L179 226.1L183.4 301.2L187.7 366L192.1 403.6L196.5 415.4L200.9 407.1L205.3 388.7L209.6 367.8L214 357.4L218.4 365.7L222.8 378.9L227.1 402L231.5 418.9L235.9 424L240.3 417.8L244.7 407.2L249 400.3L253.4 402.7L257.8 413L262.2 424.8L266.6 432.6L270.9 435L275.3 437.1L279.7 435.8L284.1 433.9L288.4 429.9L292.8 425.2L297.2 423.3L301.6 422.6L306 424.9L310.3 429.8L314.7 433L319.1 433.4L323.5 433.3L327.8 431.1L332.2 428.9L336.6 428.4L341 426.4L345.4 424.5L349.7 423.8L354.1 427.6L358.5 429.2L362.9 422.1L367.2 405.3L371.6 391.4L376 392.3L380.4 399.2L384.8 399L389.1 396L393.5 395.8L397.9 396L402.3 399.7L406.6 407.9L411 416.6L415.4 425.7L419.8 431.9L424.2 431.3L428.5 425.4L432.9 422.9L437.3 429.2L441.7 434.1L446 434.5L450.4 435.5L454.8 433.7L459.2 432L463.6 430.5L467.9 430.4L472.3 432.5L476.7 431.2L481.1 430.5L485.5 427.8L489.8 430.2L494.2 433.4L498.6 435.8L503 435.7L507.3 433.5L511.7 435L516.1 427.6L520.5 421.9L524.9 408.9L529.2 404.3L533.6 407.3L538 419.2L542.4 426.2L546.7 431L551.1 435.3L555.5 436.5L559.9 435.6L564.3 437.4L568.6 433.4L569.5 434.2" stroke="#eed147"/>
<path d="M100.2 435.1L104.6 435.3L108.9 434.1L113.3 433.8L117.7 433.9L122.1 433.1L126.5 428.9L130.8 421L135.2 421.3L139.6 427.8L144 432.1L148.3 432.5L152.7 428.2L157.1 411L161.5 354.9L165.9 245.2L170.2 137.1L174.6 118L179 187.3L183.4 288.3L187.7 371.1L192.1 412.6L196.5 427.4L200.9 431.2L205.3 423.8L209.6 403.9L214 373.4L218.4 354.6L222.8 363.8L227.1 380.1L231.5 407.7L235.9 419.9L240.3 409L244.7 388.6L249 371L253.4 368.5L257.8 382.6L262.2 404L266.6 419.3L270.9 424.1L275.3 420.1L279.7 409.1L284.1 399.2L288.4 395.3L292.8 400.7L297.2 410.3L301.6 421.9L306 428.2L310.3 431.4L314.7 430L319.1 427.4L323.5 423.4L327.8 422.4L332.2 423.2L336.6 426.2L341 429.6L345.4 428.6L349.7 425.4L354.1 420.8L358.5 420L362.9 422.2L367.2 428.5L371.6 431.5L376 427.4L380.4 420.5L384.8 415.4L389.1 412.3L393.5 412.1L397.9 411.8L402.3 406.4L406.6 397.7L411 396.6L415.4 400.6L419.8 406.4L424.2 416.2L428.5 425.3L432.9 430.3L437.3 430.8L441.7 427.8L446 417.5L450.4 408.5L454.8 409.8L459.2 420.9L463.6 429.2L467.9 430.4L472.3 424.3L476.7 413L481.1 405.5L485.5 406.6L489.8 411.8L494.2 420.5L498.6 427.5L503 427.5L507.3 421.8L511.7 421.3L516.1 420.7L520.5 423.2L524.9 419.8L529.2 418.7L533.6 417.1L538 411.6L542.4 406.2L546.7 406.5L551.1 413.9L555.5 420.6L559.9 424.5L564.3 426.4L568.6 425.5L569.5 425.4" stroke="#e7e524"/>
<path d="M100.2 434.4L104.6 432.4L108.9 430.7L113.3 433.7L117.7 432.7L122.1 432.4L126.5 429.4L130.8 423.4L135.2 423L139.6 428.3L144 432.4L148.3 432.8L152.7 430.5L157.1 417.4L161.5 372.6L165.9 283.9L170.2 191.3L174.6 172.4L179 232.2L183.4 319L187.7 385.2L192.1 420.2L196.5 430.1L200.9 432.1L205.3 426.2L209.6 414.8L214 399.2L218.4 385L222.8 382.2L227.1 394.8L231.5 409.3L235.9 419.2L240.3 420.5L244.7 413L249 401.2L253.4 391L257.8 385.1L262.2 385.4L266.6 392.9L270.9 406.4L275.3 416.1L279.7 417.8L284.1 411.6L288.4 406.3L292.8 407L297.2 413.8L301.6 422.4L306 428.7L310.3 431.9L314.7 431.4L319.1 428.5L323.5 421.4L327.8 415.2L332.2 413.4L336.6 415.8L341 417.6L345.4 422.3L349.7 425.9L354.1 425L358.5 414.2L362.9 401.2L367.2 400.9L371.6 404.5L376 404.9L380.4 406.4L384.8 411.6L389.1 418L393.5 425.2L397.9 429.7L402.3 432.2L406.6 430.2L411 423.7L415.4 419.7L419.8 417.8L424.2 414.3L428.5 412.5L432.9 411.4L437.3 417L441.7 425.5L446 428.9L450.4 430.8L454.8 428.1L459.2 423.8L463.6 422L467.9 421L472.3 423.6L476.7 427.3L481.1 424L485.5 418.3L489.8 410.6L494.2 410.5L498.6 417.4L503 425.3L507.3 430.2L511.7 430.7L516.1 429.8L520.5 428.2L524.9 427.7L529.2 424.4L533.6 425.1L538 430L542.4 431.3L546.7 432.3L551.1 433.3L555.5 431.2L559.9 429.3L564.3 426.2L568.6 423L569.5 424" stroke="#5af649"/>
<path d="M100.2 434.6L104.6 434.8L108.9 436L113.3 435.9L117.7 433.6L122.1 433.5L126.5 432.9L130.8 427L135.2 419.7L139.6 421.3L144 428.7L148.3 433.6L152.7 431.7L157.1 412.3L161.5 353.2L165.9 245.1L170.2 146.6L174.6 141.4L179 199.7L183.4 283.9L187.7 357.1L192.1 400.8L196.5 422.6L200.9 431.8L205.3 429.5L209.6 421L214 405.9L218.4 393.2L222.8 392.7L227.1 404.4L231.5 417.6L235.9 424.2L240.3 416.2L244.7 404.2L249 394.2L253.4 386.1L257.8 390L262.2 404.2L266.6 413.3L270.9 414.2L275.3 406L279.7 401.2L284.1 399.2L288.4 397.2L292.8 395.3L297.2 397.5L301.6 405.2L306 414.8L310.3 424.1L314.7 429.1L319.1 429.3L323.5 423.2L327.8 412.6L332.2 402.8L336.6 397.6L341 401L345.4 409.7L349.7 419.6L354.1 426.3L358.5 424.9L362.9 420.1L367.2 413.9L371.6 413.1L376 417.1L380.4 420.6L384.8 420.9L389.1 415L393.5 406L397.9 398.1L402.3 396.9L406.6 405.4L411 417.4L415.4 425.9L419.8 431.8L424.2 434.8L428.5 434.7L432.9 434.8L437.3 434.7L441.7 433.7L446 432L450.4 430.2L454.8 425.4L459.2 413.5L463.6 407.1L467.9 406.1L472.3 407.2L476.7 410.2L481.1 423.8L485.5 432.5L489.8 434.8L494.2 431.7L498.6 425.8L503 415.2L507.3 406.9L511.7 407.4L516.1 407.7L520.5 415.1L524.9 427.5L529.2 433.5L533.6 435.3L538 436L542.4 435.6L546.7 434.3L551.1 434.7L555.5 435.7L559.9 435.5L564.3 434.6L568.6 433.5L569.5 434.5" stroke="#d49e49"/>
<path d="M100.2 428.5L104.6 427.3L108.9 428.8L113.3 431L117.7 430.8L122.1 427.2L126.5 420.1L130.8 414.9L135.2 417.9L139.6 425.8L144 431.6L148.3 433.9L152.7 428.9L157.1 403L161.5 335.1L165.9 220.5L170.2 120.4L174.6 113.2L179 177.9L183.4 276L187.7 358.2L192.1 405.2L196.5 423.1L200.9 423.2L205.3 415L209.6 403.9L214 398.3L218.4 403L222.8 413.4L227.1 423.4L231.5 430.7L235.9 434.4L240.3 432.1L244.7 427.1L249 419.7L253.4 416.7L257.8 419.5L262.2 424.8L266.6 429.4L270.9 434.5L275.3 436.4L279.7 434.3L284.1 428.5L288.4 423.9L292.8 422.7L297.2 427L301.6 433.1L306 434L310.3 433.8L314.7 425.5L319.1 419L323.5 410.4L327.8 403.6L332.2 403.3L336.6 411L341 419.7L345.4 421.1L349.7 416L354.1 405L358.5 393.4L362.9 386.7L367.2 381.7L371.6 385.5L376 401.7L380.4 415.7L384.8 425.8L389.1 428.9L393.5 425.9L397.9 425.6L402.3 429.6L406.6 432.1L411 435.2L415.4 436.8L419.8 437.1L424.2 436.3L428.5 438.1L432.9 436.4L437.3 436.6L441.7 437.5L446 437.2L450.4 437.1L454.8 437L459.2 435.4L463.6 429L467.9 414.6L472.3 406.8L476.7 404.2L481.1 406.4L485.5 416.2L489.8 420.8L494.2 424.4L498.6 427L503 425.8L507.3 424.1L511.7 426.7L516.1 432.1L520.5 436.7L524.9 435.6L529.2 436L533.6 434.6L538 433L542.4 432.1L546.7 428.8L551.1 426.4L555.5 419.8L559.9 414L564.3 418.9L568.6 428L569.5 427.5" stroke="#3a3a3a"/>
<path d="M100.2 421.5L104.6 415.6L108.9 417.1L113.3 421.3L117.7 424.8L122.1 424.8L126.5 423.1L130.8 421.4L135.2 426.2L139.6 431.5L144 433.1L148.3 434.7L152.7 433.3L157.1 417.4L161.5 368.5L165.9 268.5L170.2 158L174.6 132.9L179 183.8L183.4 265.1L187.7 341.9L192.1 393.9L196.5 419.2L200.9 427.7L205.3 425.6L209.6 417.3L214 404L218.4 388.7L222.8 380.9L227.1 387.3L231.5 399.5L235.9 415.4L240.3 425.4L244.7 426.9L249 420.4L253.4 412.1L257.8 409.1L262.2 407.9L266.6 409.2L270.9 413.9L275.3 419.5L279.7 419.2L284.1 408L288.4 395.6L292.8 388.3L297.2 391.1L301.6 404.5L306 419L310.3 430L314.7 433L319.1 433.5L323.5 431.5L327.8 426.7L332.2 424.4L336.6 428.1L341 432.4L345.4 435.2L349.7 435.7L354.1 435.5L358.5 434.7L362.9 430L367.2 420.3L371.6 403.9L376 390.5L380.4 389.6L384.8 402L389.1 412.9L393.5 412.8L397.9 404L402.3 397.7L406.6 392.6L411 397L415.4 407.9L419.8 422.1L424.2 430.4L428.5 433.5L432.9 433.1L437.3 432.8L441.7 430.8L446 426.8L450.4 425.9L454.8 426.5L459.2 426.5L463.6 426.6L467.9 422.1L472.3 419.9L476.7 410.3L481.1 408.8L485.5 414.7L489.8 419L494.2 423.9L498.6 430.1L503 434.1L507.3 434.2L511.7 435.5L516.1 435L520.5 435.7L524.9 435.3L529.2 433.2L533.6 429.5L538 426.9L542.4 427.2L546.7 429L551.1 432.8L555.5 433.7L559.9 431.7L564.3 427.2L568.6 425.2L569.5 425.8" stroke="#3af212"/>
<path d="M100.2 436.8L104.6 437.6L108.9 437.3L113.3 437.2L117.7 437L122.1 433.9L126.5 426.4L130.8 422.3L135.2 423.7L139.6 431.2L144 435.3L148.3 435.4L152.7 433.9L157.1 422.5L161.5 379.5L165.9 288.2L170.2 188.2L174.6 165.6L179 223.5L183.4 312.3L187.7 381.8L192.1 417.5L196.5 429.5L200.9 428.9L205.3 420.9L209.6 406.1L214 389.6L218.4 383.4L222.8 395L227.1 412L231.5 420.1L235.9 419.4L240.3 413.6L244.7 400.6L249 385.7L253.4 377.3L257.8 379.6L262.2 392.5L266.6 409.7L270.9 420.8L275.3 427.1L279.7 430.3L284.1 433L288.4 425.4L292.8 416.7L297.2 403.7L301.6 394.9L306 396.8L310.3 399.5L314.7 408.1L319.1 407.8L323.5 392.4L327.8 387.7L332.2 385.2L336.6 400.5L341 420.6L345.4 431.4L349.7 436.7L354.1 435.5L358.5 430.7L362.9 418.9L367.2 398.9L371.6 379.1L376 377.5L380.4 389.5L384.8 410L389.1 426L393.5 433.7L397.9 431.4L402.3 426.9L406.6 417.3L411 407L415.4 403.3L419.8 408.3L424.2 418.4L428.5 426.7L432.9 430.6L437.3 430.5L441.7 428.2L446 421.1L450.4 411.1L454.8 405.5L459.2 410.8L463.6 420.2L467.9 425.6L472.3 425L476.7 418.8L481.1 415.4L485.5 416.3L489.8 419.9L494.2 425.6L498.6 431.2L503 433.9L507.3 435L511.7 435.6L516.1 435.2L520.5 433.1L524.9 430L529.2 429.2L533.6 428L538 429.1L542.4 431.5L546.7 433.2L551.1 434.6L555.5 434.7L559.9 434.4L564.3 433.6L568.6 428.7L569.5 429" stroke="#d2566c"/>
<path d="M100.2 436.3L104.6 436.5L108.9 436.2L113.3 436.3L117.7 434.9L122.1 433.8L126.5 428.1L130.8 424.3L135.2 425L139.6 430.8L144 432.8L148.3 434.5L152.7 433.6L157.1 420.9L161.5 378L165.9 286L170.2 180.7L174.6 149.5L179 193.5L183.4 270.5L187.7 343.3L192.1 394.1L196.5 414.6L200.9 412.1L205.3 400.9L209.6 396.2L214 401.9L218.4 412.7L222.8 418.9L227.1 423.9L231.5 427.9L235.9 426L240.3 418.1L244.7 406L249 395.5L253.4 391.7L257.8 396.4L262.2 405.1L266.6 412.2L270.9 414.2L275.3 406.9L279.7 396.6L284.1 393.9L288.4 393.6L292.8 404.5L297.2 417.3L301.6 425.5L306 425.1L310.3 417.9L314.7 404L319.1 394.6L323.5 390.5L327.8 388.5L332.2 399.3L336.6 417.1L341 428.7L345.4 433.5L349.7 434.5L354.1 434.9L358.5 435L362.9 431L367.2 422.9L371.6 413.2L376 406L380.4 400.7L384.8 400L389.1 406.6L393.5 409.8L397.9 412.1L402.3 412.3L406.6 405.3L411 400.8L415.4 398.8L419.8 407.6L424.2 420.5L428.5 427.3L432.9 431.1L437.3 435.6L441.7 432.9L446 429.3L450.4 423.1L454.8 413.2L459.2 404.4L463.6 404L467.9 406.2L472.3 416.2L476.7 418.9L481.1 417.8L485.5 419.2L489.8 424.2L494.2 429.7L498.6 432.8L503 435.1L507.3 435L511.7 434.1L516.1 433.5L520.5 426.1L524.9 420L529.2 406.7L533.6 404.7L538 415L542.4 424.1L546.7 430L551.1 433.4L555.5 435.2L559.9 432.7L564.3 432.8L568.6 435.4L569.5 434.3" stroke="#3673cc"/>
<path d="M100.2 433.1L104.6 432.7L108.9 433.4L113.3 434.6L117.7 432.8L122.1 431.7L126.5 430.2L130.8 425.7L135.2 424L139.6 427.1L144 430.8L148.3 431.2L152.7 418.3L157.1 378.4L161.5 321.5L165.9 242L170.2 169.3L174.6 163.1L179 220.4L183.4 300.2L187.7 363.9L192.1 398L196.5 401.9L200.9 383.3L205.3 368L209.6 367.9L214 389.9L218.4 412.1L222.8 424.2L227.1 430L231.5 432.3L235.9 433.2L240.3 429L244.7 426.1L249 421.2L253.4 415.7L257.8 416.1L262.2 418.5L266.6 422L270.9 428.4L275.3 429.1L279.7 423.5L284.1 414.2L288.4 405.3L292.8 404.6L297.2 414.4L301.6 425L306 427.9L310.3 432.3L314.7 433.8L319.1 432.6L323.5 429.3L327.8 426.8L332.2 425.4L336.6 422.2L341 419.4L345.4 414.2L349.7 407.8L354.1 405.5L358.5 408.5L362.9 414.1L367.2 422.6L371.6 429.2L376 430.6L380.4 432.8L384.8 433.9L389.1 431.3L393.5 425.1L397.9 411.6L402.3 392.8L406.6 386.9L411 385.8L415.4 389L419.8 401.9L424.2 415.5L428.5 422.1L432.9 423.9L437.3 421.5L441.7 420.6L446 423.3L450.4 426.5L454.8 427.4L459.2 429.3L463.6 433.6L467.9 433L472.3 433.8L476.7 432.5L481.1 428.8L485.5 421.4L489.8 411.4L494.2 402L498.6 398.4L503 401.2L507.3 410.5L511.7 420.6L516.1 426.4L520.5 427.2L524.9 427.4L529.2 426.1L533.6 427.5L538 429.9L542.4 431.8L546.7 433.6L551.1 431.8L555.5 431.8L559.9 433.1L564.3 433.6L568.6 433L569.5 432.4" stroke="#3158e9"/>
<path d="M100.2 421.3L104.6 416.9L108.9 414.1L113.3 413.4L117.7 417.9L122.1 419.5L126.5 421.9L130.8 421.1L135.2 421.7L139.6 425.9L144 431L148.3 431.4L152.7 427.3L157.1 411.6L161.5 366L165.9 284.3L170.2 199.9L174.6 174.4L179 213.2L183.4 287.3L187.7 356.1L192.1 399.7L196.5 416.3L200.9 411.1L205.3 394L209.6 371.9L214 357.2L218.4 360L222.8 369.4L227.1 379.2L231.5 389L235.9 388.6L240.3 383L244.7 377L249 371.8L253.4 370.5L257.8 389L262.2 404.6L266.6 419.4L270.9 426.1L275.3 422.7L279.7 421.9L284.1 416.8L288.4 417.5L292.8 422.4L297.2 426.5L301.6 430.3L306 431.9L310.3 432.6L314.7 434.4L319.1 429.9L323.5 423.5L327.8 414.6L332.2 411.5L336.6 417.3L341 426.7L345.4 432.1L349.7 432.2L354.1 429L358.5 420.1L362.9 404.7L367.2 391.3L371.6 387.9L376 394L380.4 396.7L384.8 389.5L389.1 388.4L393.5 390.2L397.9 390.4L402.3 405.7L406.6 420.9L411 428.8L415.4 432L419.8 433.3L424.2 435L428.5 434.3L432.9 431.1L437.3 426.4L441.7 421.4L446 421.2L450.4 426.8L454.8 432.3L459.2 435.1L463.6 435.4L467.9 431.8L472.3 425.1L476.7 420.1L481.1 419.5L485.5 420.9L489.8 421.6L494.2 424.8L498.6 428.7L503 431.1L507.3 433L511.7 430.4L516.1 425.1L520.5 418.6L524.9 412.5L529.2 411.2L533.6 415L538 420.7L542.4 425.5L546.7 427.2L551.1 425.9L555.5 424L559.9 420.5L564.3 414.6L568.6 413.8L569.5 414.7" stroke="#79de3b"/>
<path d="M100.2 433.5L104.6 431.4L108.9 429.7L113.3 431L117.7 431.3L122.1 429.3L126.5 428.2L130.8 424.1L135.2 419.1L139.6 421.9L144 428L148.3 431.4L152.7 423.2L157.1 400.7L161.5 338.7L165.9 245.4L170.2 162.2L174.6 147.1L179 193.8L183.4 267.6L187.7 339.3L192.1 391.6L196.5 417.7L200.9 426.6L205.3 427.4L209.6 420.7L214 408.8L218.4 396.3L222.8 398.6L227.1 411.5L231.5 422L235.9 422.3L240.3 410.8L244.7 387.5L249 371.3L253.4 375.3L257.8 400.2L262.2 419.8L266.6 429.5L270.9 432.4L275.3 430.9L279.7 426.8L284.1 415.9L288.4 404.5L292.8 402L297.2 412.9L301.6 425.2L306 431.2L310.3 433.4L314.7 432.4L319.1 430.9L323.5 431L327.8 427.9L332.2 420.6L336.6 415.3L341 409.9L345.4 410.9L349.7 414.9L354.1 421L358.5 424.9L362.9 423L367.2 418.2L371.6 411.8L376 400.4L380.4 395.9L384.8 396L389.1 404.5L393.5 415.1L397.9 422L402.3 426.4L406.6 430.6L411 430L415.4 427L419.8 426.9L424.2 426.7L428.5 423.2L432.9 418L437.3 415L441.7 413.2L446 408.8L450.4 405.8L454.8 407.5L459.2 411.7L463.6 420.8L467.9 427.9L472.3 431.2L476.7 432.1L481.1 432.2L485.5 431.3L489.8 428L494.2 424.4L498.6 418.4L503 415.1L507.3 410.6L511.7 404.5L516.1 401.6L520.5 399.8L524.9 400L529.2 404.1L533.6 410.5L538 416.9L542.4 423.4L546.7 428.7L551.1 431L555.5 428.8L559.9 427.5L564.3 426.6L568.6 426.9L569.5 428" stroke="#e323d1"/>
<path d="M100.2 431.5L104.6 430.2L108.9 431.7L113.3 432.7L117.7 431.6L122.1 428.6L126.5 422.4L130.8 414.1L135.2 410.1L139.6 417.4L144 427.6L148.3 430.4L152.7 430L157.1 418.2L161.5 371.5L165.9 270L170.2 151.9L174.6 113.1L179 165.2L183.4 258.5L187.7 343L192.1 394.9L196.5 415.9L200.9 414.3L205.3 397.3L209.6 377.1L214 371.1L218.4 385L222.8 408.8L227.1 424L231.5 430.5L235.9 432.3L240.3 432.7L244.7 430.2L249 421.4L253.4 406.7L257.8 397.4L262.2 401L266.6 413L270.9 423L275.3 428.5L279.7 426.6L284.1 417.3L288.4 401.3L292.8 390L297.2 392.1L301.6 400.7L306 414L310.3 417.6L314.7 415.1L319.1 410L323.5 403.2L327.8 394.6L332.2 389.4L336.6 395.2L341 408.7L345.4 422.4L349.7 429.7L354.1 430.8L358.5 424.6L362.9 414.8L367.2 404.3L371.6 400.6L376 409.4L380.4 421L384.8 427.6L389.1 426L393.5 422L397.9 418.1L402.3 414.5L406.6 416.1L411 420.1L415.4 424.1L419.8 428.3L424.2 429.4L428.5 428.7L432.9 428.1L437.3 426.6L441.7 424.6L446 423.2L450.4 419.4L454.8 418.7L459.2 420.5L463.6 425.9L467.9 430.4L472.3 432.1L476.7 431.7L481.1 428.7L485.5 423.1L489.8 412.2L494.2 401.7L498.6 399.2L503 401.2L507.3 404.2L511.7 411.6L516.1 421.5L520.5 426.5L524.9 428.3L529.2 430L533.6 429.8L538 428L542.4 427L546.7 429.4L551.1 431.4L555.5 433.1L559.9 429.7L564.3 429.1L568.6 427.4L569.5 425.7" stroke="#616161"/>
<path d="M100.2 433.5L104.6 432.8L108.9 434L113.3 434L117.7 432.6L122.1 428.3L126.5 419.9L130.8 415.5L135.2 417.9L139.6 426.8L144 432L148.3 431.4L152.7 427.9L157.1 415.1L161.5 372L165.9 281.9L170.2 183.1L174.6 157.8L179 205.7L183.4 283L187.7 354.5L192.1 397.7L196.5 411.7L200.9 403.6L205.3 387.7L209.6 371.5L214 361.4L218.4 365L222.8 375.2L227.1 393.7L231.5 413.4L235.9 421.9L240.3 425.7L244.7 424.5L249 420.9L253.4 413.7L257.8 410.9L262.2 412.5L266.6 415.4L270.9 422.5L275.3 421L279.7 416.3L284.1 412L288.4 407.3L292.8 400L297.2 394.2L301.6 394.9L306 396.3L310.3 399.3L314.7 402.5L319.1 411.7L323.5 416.2L327.8 421.4L332.2 422.3L336.6 422.4L341 418.2L345.4 410.4L349.7 399.1L354.1 396.6L358.5 391.3L362.9 387.7L367.2 400.3L371.6 416.4L376 427.2L380.4 430.7L384.8 431.7L389.1 430.8L393.5 429.7L397.9 420.2L402.3 413.5L406.6 412L411 413.8L415.4 419L419.8 423.9L424.2 426.6L428.5 426.3L432.9 421.1L437.3 419.5L441.7 418.7L446 422.2L450.4 426.2L454.8 429.6L459.2 432.8L463.6 431.1L467.9 426.8L472.3 422.9L476.7 418L481.1 417.8L485.5 421.9L489.8 427.3L494.2 428.2L498.6 428.7L503 431.5L507.3 432.6L511.7 429.9L516.1 427.3L520.5 421.2L524.9 415.1L529.2 412.6L533.6 420.7L538 427.8L542.4 432L546.7 432.9L551.1 433.2L555.5 432.9L559.9 429.2L564.3 422.6L568.6 419.2L569.5 417.7" stroke="#ee5374"/>
<path d="M100.2 435.1L104.6 435L108.9 435.7L113.3 435.3L117.7 436.2L122.1 432.9L126.5 428.3L130.8 422.1L135.2 421.6L139.6 430.4L144 434.8L148.3 435.2L152.7 432.8L157.1 418.4L161.5 371L165.9 285.4L170.2 204.7L174.6 196.7L179 241.1L183.4 307.3L187.7 366.9L192.1 398.4L196.5 408.8L200.9 404.6L205.3 397.2L209.6 399.9L214 410.7L218.4 421.1L222.8 428.6L227.1 427.9L231.5 426.7L235.9 419.9L240.3 411.1L244.7 404.7L249 404.5L253.4 407.5L257.8 419.1L262.2 425.5L266.6 430.6L270.9 432.7L275.3 426.9L279.7 419.2L284.1 418.2L288.4 420.6L292.8 427.2L297.2 432.2L301.6 435.2L306 434.2L310.3 433L314.7 426.6L319.1 418.5L323.5 419.4L327.8 423.6L332.2 426.2L336.6 424L341 409.4L345.4 390.3L349.7 390.4L354.1 390.4L358.5 394.2L362.9 413.3L367.2 417.6L371.6 408.9L376 399.4L380.4 401.5L384.8 415.1L389.1 426.4L393.5 432.6L397.9 435.9L402.3 434.1L406.6 432.6L411 426.8L415.4 418.2L419.8 412.1L424.2 418L428.5 427.5L432.9 433.3L437.3 431.1L441.7 424.3L446 414.3L450.4 404.4L454.8 407.7L459.2 422L463.6 430.6L467.9 434.7L472.3 436.1L476.7 436.4L481.1 435.4L485.5 434.5L489.8 431L494.2 427.3L498.6 427.6L503 425.7L507.3 428.7L511.7 432.5L516.1 431.7L520.5 430.6L524.9 428.5L529.2 429.2L533.6 432.9L538 433.7L542.4 434.5L546.7 435.6L551.1 435L555.5 433L559.9 424.9L564.3 418.4L568.6 409.5L569.5 409.2" stroke="#26ef14"/>
<path d="M100.2 435.2L104.6 435.9L108.9 433.1L113.3 433.1L117.7 434.2L122.1 429.7L126.5 421.5L130.8 418.9L135.2 422.1L139.6 427L144 431.7L148.3 434.3L152.7 430L157.1 409.8L161.5 357.7L165.9 267L170.2 178.1L174.6 161.7L179 209.2L183.4 286.9L187.7 357L192.1 401.5L196.5 419.3L200.9 418.5L205.3 404.7L209.6 395.7L214 401.3L218.4 416.2L222.8 429.3L227.1 432.1L231.5 431.8L235.9 432.8L240.3 435.5L244.7 433L249 433.3L253.4 428L257.8 419.6L262.2 413.1L266.6 412.2L270.9 412.8L275.3 417.6L279.7 412.2L284.1 396.7L288.4 388.7L292.8 386.6L297.2 387.8L301.6 388.3L306 389.6L310.3 393.2L314.7 395.1L319.1 405L323.5 412.7L327.8 411.3L332.2 405.3L336.6 400L341 401.8L345.4 406.9L349.7 405.1L354.1 398.3L358.5 397L362.9 402.9L367.2 412.5L371.6 421.9L376 430.4L380.4 433.7L384.8 434.2L389.1 433.5L393.5 435.8L397.9 433.7L402.3 433.3L406.6 433.3L411 429L415.4 425.3L419.8 420L424.2 417.8L428.5 414.7L432.9 411L437.3 401.9L441.7 400.9L446 404L450.4 417.7L454.8 430.2L459.2 430.9L463.6 432.4L467.9 433.8L472.3 431.3L476.7 426.2L481.1 423L485.5 419.6L489.8 421.3L494.2 428.5L498.6 429.9L503 432.3L507.3 434.8L511.7 435.6L516.1 433.6L520.5 431.1L524.9 430L529.2 429.7L533.6 430.4L538 429.4L542.4 430.4L546.7 431.3L551.1 431.4L555.5 433.1L559.9 434.9L564.3 435L568.6 433.3L569.5 432.1" stroke="#de655f"/>
<path d="M100.2 438.4L104.6 438.7L108.9 438.6L113.3 438L117.7 438.3L122.1 436.3L126.5 431.1L130.8 424.6L135.2 425.6L139.6 433.5L144 435.4L148.3 437.4L152.7 430.9L157.1 413L161.5 362.5L165.9 270.2L170.2 178.2L174.6 153.4L179 207.1L183.4 297.1L187.7 369.5L192.1 402.6L196.5 402.5L200.9 389.2L205.3 383.1L209.6 392.5L214 409.1L218.4 423.9L222.8 433.4L227.1 436.9L231.5 435.2L235.9 426.9L240.3 406.9L244.7 381L249 369.5L253.4 382.5L257.8 412L262.2 428.8L266.6 435.4L270.9 433L275.3 428.8L279.7 422.9L284.1 421L288.4 423.6L292.8 429.9L297.2 434.6L301.6 435.1L306 433.8L310.3 430L314.7 422L319.1 410.8L323.5 402.6L327.8 400.7L332.2 404.4L336.6 414.1L341 423.7L345.4 431.1L349.7 428.6L354.1 424.8L358.5 427.2L362.9 430.2L367.2 435.6L371.6 432L376 425.3L380.4 409.6L384.8 385.4L389.1 384.7L393.5 386.6L397.9 387.4L402.3 398.1L406.6 408.6L411 415.4L415.4 424.7L419.8 433.6L424.2 436.6L428.5 434.9L432.9 434.9L437.3 435.8L441.7 434.2L446 431.6L450.4 432.3L454.8 433.5L459.2 435.3L463.6 435.6L467.9 431.9L472.3 428.8L476.7 424.6L481.1 421.7L485.5 422L489.8 421.8L494.2 419.9L498.6 418.9L503 414.7L507.3 410.8L511.7 412.9L516.1 420.4L520.5 429.6L524.9 430.7L529.2 432.2L533.6 436.6L538 436.9L542.4 438.4L546.7 437.7L551.1 437.4L555.5 437.3L559.9 436.2L564.3 432L568.6 425.6L569.5 425.8" stroke="#dba82f"/>
<path d="M100.2 434L104.6 434.5L108.9 432.1L113.3 433.2L117.7 434L122.1 429L126.5 421L130.8 414.4L135.2 414.5L139.6 422.3L144 430.4L148.3 431.9L152.7 427.3L157.1 406.9L161.5 350.3L165.9 254.8L170.2 166L174.6 152.4L179 215L183.4 306.3L187.7 370.8L192.1 389.2L196.5 393.1L200.9 381.4L205.3 371.8L209.6 366.9L214 394.6L218.4 415L222.8 426.3L227.1 430.5L231.5 430.5L235.9 430.9L240.3 425.5L244.7 420.1L249 418.5L253.4 419.3L257.8 419.4L262.2 421.6L266.6 425.1L270.9 428.9L275.3 429.8L279.7 424.7L284.1 419.6L288.4 419.5L292.8 425.8L297.2 427.7L301.6 430.9L306 433.7L310.3 432.3L314.7 429.8L319.1 424.2L323.5 416.5L327.8 402.8L332.2 389.8L336.6 391.1L341 394.5L345.4 399.1L349.7 407.9L354.1 404.4L358.5 397.2L362.9 390.4L367.2 386.4L371.6 395L376 407.2L380.4 417.7L384.8 420.3L389.1 411.8L393.5 404.9L397.9 408.6L402.3 414.2L406.6 419.3L411 425.8L415.4 429.9L419.8 432.5L424.2 434.3L428.5 432.1L432.9 429.1L437.3 428.1L441.7 429.4L446 427.6L450.4 427.1L454.8 429.6L459.2 431.2L463.6 432.5L467.9 433.9L472.3 432.3L476.7 432.1L481.1 433.4L485.5 431.6L489.8 427L494.2 422.2L498.6 410.5L503 404.5L507.3 407L511.7 412.5L516.1 419L520.5 419.4L524.9 415L529.2 415.9L533.6 423.1L538 429.1L542.4 432.5L546.7 433.5L551.1 434.6L555.5 434.7L559.9 433.9L564.3 434.6L568.6 433.6L569.5 432.7" stroke="#7047ea"/>
<path d="M100.2 437L104.6 435.6L108.9 436.7L113.3 435.4L117.7 435.9L122.1 433.3L126.5 423.2L130.8 414.8L135.2 418.1L139.6 428.8L144 435L148.3 435.1L152.7 420.2L157.1 378.7L161.5 321.2L165.9 232.1L170.2 140.5L174.6 129.2L179 197.7L183.4 293.5L187.7 372.1L192.1 414L196.5 427.3L200.9 422.9L205.3 405.9L209.6 387.2L214 382.4L218.4 396.6L222.8 414.4L227.1 427.4L231.5 432.8L235.9 433.2L240.3 430.8L244.7 426.6L249 422.5L253.4 422.2L257.8 425.7L262.2 429.2L266.6 431.7L270.9 431.9L275.3 432.5L279.7 429.8L284.1 423.5L288.4 412.6L292.8 404.1L297.2 399.8L301.6 401.2L306 407.5L310.3 413.3L314.7 417.1L319.1 421.6L323.5 426.8L327.8 429.7L332.2 432.5L336.6 435.8L341 435.1L345.4 434.4L349.7 435.7L354.1 434.2L358.5 429.8L362.9 423L367.2 412.7L371.6 401.8L376 400.1L380.4 402.3L384.8 404L389.1 410.7L393.5 416.8L397.9 425.3L402.3 429.6L406.6 431.2L411 430.8L415.4 428.1L419.8 423.4L424.2 422.7L428.5 423.9L432.9 424.7L437.3 427.7L441.7 428.3L446 426.2L450.4 425.6L454.8 426.5L459.2 429.5L463.6 432.5L467.9 434.1L472.3 436L476.7 436.8L481.1 436.4L485.5 433.7L489.8 428.2L494.2 422.7L498.6 421.9L503 423L507.3 429.7L511.7 434.8L516.1 434.8L520.5 435.8L524.9 436.8L529.2 436.8L533.6 434.9L538 433.3L542.4 433.5L546.7 432L551.1 429L555.5 425.7L559.9 422.7L564.3 423.4L568.6 426.1L569.5 425.9" stroke="#2fed3a"/>
<path d="M100.2 435.9L104.6 436.2L108.9 436.3L113.3 435.6L117.7 434.2L122.1 433.5L126.5 429.1L130.8 421.7L135.2 417.2L139.6 423.8L144 431.2L148.3 433.8L152.7 429.8L157.1 415.4L161.5 378.4L165.9 305.3L170.2 223.2L174.6 190.7L179 218.8L183.4 282.4L187.7 346.6L192.1 393.4L196.5 420.1L200.9 425.4L205.3 416.9L209.6 400.5L214 379.8L218.4 363.6L222.8 372.4L227.1 393.6L231.5 417.9L235.9 430.6L240.3 432.5L244.7 426.2L249 409.3L253.4 386L257.8 377.5L262.2 382.8L266.6 391L270.9 404.7L275.3 412.6L279.7 411.3L284.1 408.6L288.4 413L292.8 421.3L297.2 429.7L301.6 433.3L306 433.2L310.3 435.8L314.7 433L319.1 434.2L323.5 434.4L327.8 430.9L332.2 428.6L336.6 424.8L341 423.2L345.4 425.5L349.7 428.1L354.1 425.6L358.5 416.8L362.9 400.7L367.2 381.2L371.6 374.1L376 376.9L380.4 384L384.8 402.2L389.1 418.8L393.5 425.8L397.9 424.8L402.3 419L406.6 412.6L411 408.4L415.4 407.1L419.8 407.7L424.2 413.4L428.5 421.8L432.9 424.5L437.3 421.3L441.7 416.5L446 412.9L450.4 413L454.8 418.3L459.2 423.8L463.6 427.7L467.9 432L472.3 433.1L476.7 430.8L481.1 429L485.5 427.3L489.8 427.3L494.2 430.7L498.6 434.9L503 434L507.3 434.6L511.7 429L516.1 424.9L520.5 420.9L524.9 417.4L529.2 416.3L533.6 420.6L538 428.1L542.4 432.3L546.7 433.4L551.1 435L555.5 435.9L559.9 435.4L564.3 433.8L568.6 429.3L569.5 429.3" stroke="#3be660"/>
<path d="M100.2 435.9L104.6 436.9L108.9 437.1L113.3 437.6L117.7 436.7L122.1 432.7L126.5 427.3L130.8 422.9L135.2 424.2L139.6 428.5L144 432.4L148.3 436.7L152.7 434L157.1 418.9L161.5 365.7L165.9 257.4L170.2 146.9L174.6 132.1L179 207.2L183.4 305.3L187.7 380.8L192.1 408L196.5 403.4L200.9 385L205.3 373.1L209.6 364.2L214 371.6L218.4 398L222.8 419.9L227.1 430.7L231.5 432.2L235.9 427.9L240.3 421.5L244.7 417.3L249 420.3L253.4 428.4L257.8 433.7L262.2 435.9L266.6 435.3L270.9 430.9L275.3 427L279.7 418.8L284.1 407.2L288.4 402.9L292.8 408.8L297.2 421.1L301.6 430.8L306 434.8L310.3 434.8L314.7 432.3L319.1 425.2L323.5 421L327.8 420.9L332.2 418.6L336.6 420.5L341 423.1L345.4 423.2L349.7 416.4L354.1 404.7L358.5 402L362.9 402.2L367.2 402.6L371.6 409.4L376 419.7L380.4 427.5L384.8 431.7L389.1 432.7L393.5 431.3L397.9 428.8L402.3 427.4L406.6 429.1L411 432.7L415.4 435.3L419.8 435.9L424.2 436.5L428.5 437L432.9 436.4L437.3 437.3L441.7 435.3L446 432.9L450.4 432.2L454.8 429.4L459.2 427.3L463.6 425.2L467.9 421.5L472.3 412.2L476.7 407L481.1 407.1L485.5 413.8L489.8 422.8L494.2 428.3L498.6 431.4L503 434.3L507.3 435.7L511.7 434.8L516.1 431.6L520.5 429.7L524.9 431.1L529.2 433.5L533.6 435.1L538 434.6L542.4 434.7L546.7 434.4L551.1 434.3L555.5 434.1L559.9 430.3L564.3 426.2L568.6 427.3L569.5 427.8" stroke="#f81c28"/>
<path d="M100.2 437.8L104.6 436.9L108.9 434.7L113.3 435.8L117.7 437.2L122.1 435.7L126.5 432.3L130.8 430.4L135.2 428.7L139.6 433.2L144 435.5L148.3 435.2L152.7 433.1L157.1 415.5L161.5 360.2L165.9 264.3L170.2 178.7L174.6 170L179 229.9L183.4 313L187.7 378.8L192.1 414.1L196.5 430.2L200.9 436L205.3 432.2L209.6 420L214 399.7L218.4 387.2L222.8 393.6L227.1 411.8L231.5 426.6L235.9 429.5L240.3 423L244.7 411.8L249 397.8L253.4 394.8L257.8 406.2L262.2 422.9L266.6 426.7L270.9 424.8L275.3 416.7L279.7 423.3L284.1 430.3L288.4 428L292.8 422.8L297.2 416.9L301.6 411.7L306 410L310.3 418.4L314.7 426.2L319.1 426.4L323.5 421.8L327.8 420.2L332.2 418.7L336.6 416L341 414.7L345.4 419.4L349.7 421.1L354.1 422.9L358.5 428.1L362.9 433.9L367.2 433.5L371.6 430L376 423.8L380.4 418.1L384.8 412.4L389.1 405.4L393.5 401.5L397.9 398.8L402.3 401L406.6 409.7L411 420.1L415.4 428.8L419.8 434.7L424.2 434.6L428.5 432L432.9 428.6L437.3 423.9L441.7 413.2L446 405.1L450.4 405.4L454.8 412.5L459.2 422.8L463.6 429.7L467.9 433.5L472.3 436.6L476.7 436.1L481.1 432.7L485.5 426.9L489.8 425.6L494.2 421L498.6 423.3L503 427.7L507.3 431.7L511.7 434.8L516.1 436.4L520.5 436.4L524.9 435.2L529.2 433L533.6 431L538 430.2L542.4 427.5L546.7 421.4L551.1 414.2L555.5 408.3L559.9 411.5L564.3 422.5L568.6 431.3L569.5 433" stroke="#73d15b"/>
<path d="M100.2 419.7L104.6 418.7L108.9 416.2L113.3 415.7L117.7 418L122.1 420.4L126.5 418.4L130.8 415.8L135.2 419L139.6 425L144 429.2L148.3 431.1L152.7 428.2L157.1 412.5L161.5 362.7L165.9 269.7L170.2 175.7L174.6 148.4L179 196.5L183.4 280.5L187.7 354.1L192.1 401.2L196.5 421.1L200.9 424.1L205.3 411.4L209.6 397.8L214 385L218.4 387.8L222.8 404.5L227.1 416.5L231.5 422.1L235.9 419.8L240.3 416L244.7 416.4L249 421.2L253.4 426.7L257.8 430.1L262.2 432.4L266.6 432.4L270.9 429.1L275.3 424L279.7 416.8L284.1 406.9L288.4 402.8L292.8 405L297.2 412.7L301.6 419.3L306 417.3L310.3 412.3L314.7 406.1L319.1 406.6L323.5 416.7L327.8 427.5L332.2 432.3L336.6 432.3L341 432.4L345.4 431.2L349.7 425.6L354.1 414.2L358.5 397.8L362.9 384.6L367.2 378.8L371.6 386.5L376 403.9L380.4 419.4L384.8 427.8L389.1 431.7L393.5 432.9L397.9 431.9L402.3 431.1L406.6 431.6L411 428.1L415.4 424.9L419.8 420.2L424.2 416.6L428.5 414.8L432.9 410.8L437.3 404.9L441.7 402.8L446 402.7L450.4 403.3L454.8 406L459.2 411.2L463.6 419.7L467.9 428.3L472.3 430.9L476.7 431.5L481.1 432.4L485.5 433.9L489.8 432L494.2 429.5L498.6 426L503 420L507.3 412.3L511.7 406.3L516.1 404.9L520.5 404.5L524.9 406.3L529.2 406.7L533.6 406.4L538 408.1L542.4 412.7L546.7 416.8L551.1 419.2L555.5 413.3L559.9 408.1L564.3 408.7L568.6 417.3L569.5 419.4" stroke="#53ec74"/>
<path d="M100.2 436.2L104.6 436.6L108.9 436L113.3 436.6L117.7 435.6L122.1 436.2L126.5 431.4L130.8 423.1L135.2 420.5L139.6 428.2L144 433.9L148.3 435L152.7 431.9L157.1 420.7L161.5 372.3L165.9 277.2L170.2 172.9L174.6 151.5L179 210.9L183.4 299.7L187.7 369L192.1 398.9L196.5 395.9L200.9 380.1L205.3 373.4L209.6 386.9L214 407.9L218.4 424.6L222.8 432.9L227.1 430.9L231.5 427.2L235.9 421.8L240.3 419.1L244.7 419.2L249 424.4L253.4 428.9L257.8 432L262.2 433.5L266.6 435L270.9 434.9L275.3 432.5L279.7 425.8L284.1 418.7L288.4 418.2L292.8 422.5L297.2 426.6L301.6 429.4L306 432.9L310.3 435.1L314.7 434.4L319.1 431.5L323.5 425.3L327.8 417.7L332.2 410.2L336.6 401.2L341 393.3L345.4 393L349.7 393.3L354.1 391.7L358.5 388.1L362.9 386.1L367.2 408L371.6 424.3L376 431.4L380.4 435.3L384.8 435.1L389.1 432L393.5 427.1L397.9 423.3L402.3 420.2L406.6 420.7L411 426.5L415.4 431.2L419.8 432.8L424.2 433.7L428.5 432L432.9 425.5L437.3 416.3L441.7 409L446 408.6L450.4 411.7L454.8 421.2L459.2 430.5L463.6 434.1L467.9 434.9L472.3 433.3L476.7 427.3L481.1 416.2L485.5 402L489.8 395.1L494.2 395.4L498.6 398.3L503 404.7L507.3 415L511.7 421.7L516.1 424.9L520.5 422.5L524.9 417.5L529.2 411.2L533.6 405L538 401.6L542.4 401.2L546.7 401.1L551.1 406L555.5 415.9L559.9 418L564.3 417.9L568.6 424L569.5 426.6" stroke="#e92f9e"/>
<path d="M100.2 435.4L104.6 435.6L108.9 434.2L113.3 433.8L117.7 434.4L122.1 431.8L126.5 432.4L130.8 428.4L135.2 430.4L139.6 432.2L144 434.9L148.3 434.6L152.7 429.9L157.1 409.4L161.5 353.1L165.9 257.3L170.2 174.6L174.6 170.2L179 228.6L183.4 309.6L187.7 371.7L192.1 408.1L196.5 418.5L200.9 410.4L205.3 392.2L209.6 374.8L214 364.5L218.4 372.2L222.8 391.8L227.1 410.8L231.5 423.1L235.9 425.2L240.3 424.3L244.7 421.4L249 416.1L253.4 413.1L257.8 415.3L262.2 420.5L266.6 425.7L270.9 431.2L275.3 433L279.7 432.9L284.1 429.3L288.4 422.4L292.8 408.7L297.2 393.3L301.6 390.6L306 393.6L310.3 405.6L314.7 415L319.1 417.3L323.5 415L327.8 413.8L332.2 414.4L336.6 421.9L341 426.4L345.4 431.8L349.7 433.5L354.1 433.3L358.5 431L362.9 424.9L367.2 415.3L371.6 410.4L376 412.3L380.4 413.2L384.8 417L389.1 425.2L393.5 428.7L397.9 429.5L402.3 425.8L406.6 423.5L411 421.2L415.4 423L419.8 423.3L424.2 423.1L428.5 424L432.9 424.8L437.3 422L441.7 415.8L446 416.5L450.4 425.8L454.8 432.2L459.2 434.8L463.6 434.7L467.9 433.5L472.3 430.5L476.7 426.3L481.1 422.5L485.5 422.1L489.8 425.9L494.2 427.7L498.6 431.5L503 433.1L507.3 431.6L511.7 430.8L516.1 429.5L520.5 427.2L524.9 426.3L529.2 428.5L533.6 430.1L538 429.1L542.4 426.7L546.7 425.1L551.1 427.4L555.5 431.1L559.9 434.8L564.3 434.4L568.6 435.6L569.5 435" stroke="#4bd463"/>
<path d="M100.2 437.2L104.6 436.4L108.9 435L113.3 435.8L117.7 435.6L122.1 433.1L126.5 425L130.8 414L135.2 410.9L139.6 418.7L144 430.4L148.3 432.5L152.7 429.8L157.1 416.5L161.5 366.9L165.9 282.8L170.2 210.4L174.6 212.1L179 264.9L183.4 334.7L187.7 387.5L192.1 419.2L196.5 430.2L200.9 428L205.3 416.5L209.6 397.5L214 384.2L218.4 386.8L222.8 402L227.1 419.2L231.5 430.4L235.9 433.9L240.3 431.4L244.7 427.8L249 421L253.4 418.5L257.8 418.7L262.2 423.4L266.6 429.3L270.9 432.8L275.3 431.7L279.7 427.8L284.1 424.1L288.4 421.1L292.8 424L297.2 428.7L301.6 432.5L306 433.1L310.3 434.9L314.7 437L319.1 435L323.5 431.8L327.8 422.9L332.2 411.1L336.6 407.1L341 412L345.4 419.2L349.7 425.4L354.1 426.9L358.5 423.5L362.9 416.6L367.2 404.8L371.6 394.3L376 386L380.4 390L384.8 404.7L389.1 418.4L393.5 429.2L397.9 431.3L402.3 434.3L406.6 431.6L411 424.9L415.4 414.2L419.8 404.2L424.2 400.7L428.5 406.9L432.9 417.6L437.3 422.2L441.7 420.3L446 417.1L450.4 415.9L454.8 417.1L459.2 423.1L463.6 431L467.9 432.9L472.3 431L476.7 425.1L481.1 415.1L485.5 404.9L489.8 401.4L494.2 403.8L498.6 413.4L503 423.7L507.3 430.1L511.7 432.9L516.1 431.9L520.5 430.1L524.9 431L529.2 431.7L533.6 431.5L538 432.4L542.4 434.3L546.7 435.1L551.1 435L555.5 435.3L559.9 435.5L564.3 436.1L568.6 436.5L569.5 436" stroke="#53e9e5"/>
<path d="M100.2 434.5L104.6 433.9L108.9 435.3L113.3 434.5L117.7 433.7L122.1 430.8L126.5 425.8L130.8 420.7L135.2 421.5L139.6 426.7L144 431.8L148.3 433.3L152.7 427.8L157.1 413.6L161.5 370.5L165.9 289.1L170.2 207.1L174.6 182L179 226.5L183.4 305.7L187.7 371.8L192.1 407.9L196.5 418.7L200.9 411.3L205.3 391.6L209.6 368L214 351.5L218.4 356.9L222.8 367.4L227.1 384L231.5 404.2L235.9 419.7L240.3 427.1L244.7 425.8L249 421.8L253.4 419.1L257.8 422.5L262.2 426.8L266.6 426.7L270.9 425.6L275.3 422.6L279.7 418L284.1 414L288.4 414.3L292.8 418.1L297.2 423.7L301.6 429.2L306 431L310.3 430.5L314.7 430.3L319.1 424.2L323.5 410L327.8 388.9L332.2 382.3L336.6 385.2L341 396.3L345.4 416.6L349.7 426.9L354.1 428.8L358.5 426.5L362.9 415.5L367.2 410.4L371.6 413.2L376 411.3L380.4 396.7L384.8 383L389.1 386.6L393.5 390.7L397.9 410.1L402.3 419.5L406.6 422.5L411 423.6L415.4 423.7L419.8 425.3L424.2 429.2L428.5 428.9L432.9 427.4L437.3 427.2L441.7 421.2L446 416.1L450.4 415L454.8 416.4L459.2 422.1L463.6 427.2L467.9 431.3L472.3 432.4L476.7 430.8L481.1 428.4L485.5 424.2L489.8 420.5L494.2 418.5L498.6 421.8L503 426.4L507.3 429.2L511.7 431.9L516.1 434L520.5 433.6L524.9 432.1L529.2 424.8L533.6 413.5L538 405.8L542.4 406.7L546.7 416.6L551.1 426.5L555.5 428.7L559.9 427.5L564.3 421.9L568.6 420.8L569.5 421.8" stroke="#d3b95b"/>
<path d="M100.2 434.7L104.6 434.7L108.9 435.6L113.3 436.3L117.7 437.2L122.1 434.3L126.5 429.7L130.8 423.2L135.2 419.4L139.6 424.1L144 430.9L148.3 433.9L152.7 429.7L157.1 408.7L161.5 357.3L165.9 274.5L170.2 200.1L174.6 194.1L179 238L183.4 307.9L187.7 369.1L192.1 406.3L196.5 421.2L200.9 419L205.3 404.2L209.6 386.9L214 381.3L218.4 391.6L222.8 409.9L227.1 424.5L231.5 429.6L235.9 426.4L240.3 421.5L244.7 418.7L249 414.6L253.4 413.1L257.8 410.9L262.2 416.1L266.6 421.9L270.9 429.1L275.3 432.6L279.7 434.9L284.1 434.7L288.4 428.1L292.8 421.7L297.2 416.9L301.6 420.8L306 426.4L310.3 432.8L314.7 434.2L319.1 432.3L323.5 427.5L327.8 422.4L332.2 418.4L336.6 418L341 421L345.4 425.1L349.7 428L354.1 429.5L358.5 428.5L362.9 423L367.2 413.7L371.6 408.7L376 411.4L380.4 411.4L384.8 405.2L389.1 391.3L393.5 390.3L397.9 389.1L402.3 390.1L406.6 404.1L411 415.1L415.4 414.2L419.8 415.7L424.2 424.7L428.5 432.7L432.9 435.7L437.3 436.7L441.7 434.7L446 431L450.4 423.3L454.8 411.5L459.2 405.3L463.6 405.5L467.9 406.8L472.3 415.8L476.7 428L481.1 430.8L485.5 434.5L489.8 430.7L494.2 424.2L498.6 413.6L503 408L507.3 411.3L511.7 409.3L516.1 406.6L520.5 407L524.9 411.7L529.2 420.7L533.6 425.9L538 431.4L542.4 435.3L546.7 435.6L551.1 437.5L555.5 436.1L559.9 437.3L564.3 437.1L568.6 434.7L569.5 434.9" stroke="#465cf2"/>
<path d="M100.2 434.8L104.6 433.4L108.9 433L113.3 432.9L117.7 433.2L122.1 432.7L126.5 427.7L130.8 420.8L135.2 422.6L139.6 429L144 433.9L148.3 432.1L152.7 428.9L157.1 411.6L161.5 356.6L165.9 253.7L170.2 154.4L174.6 137.6L179 189L183.4 267.8L187.7 339.8L192.1 386L196.5 399L200.9 390.9L205.3 375L209.6 365.3L214 368.3L218.4 382.3L222.8 395.4L227.1 399.3L231.5 393.3L235.9 390.2L240.3 384.2L244.7 380.4L249 383.2L253.4 402.3L257.8 418.6L262.2 427.7L266.6 431.4L270.9 433.1L275.3 433L279.7 433L284.1 431.4L288.4 427.3L292.8 422.6L297.2 418.1L301.6 416.7L306 422L310.3 424.7L314.7 428.2L319.1 429.6L323.5 427.8L327.8 426.4L332.2 423.3L336.6 423.3L341 426L345.4 426.7L349.7 423.1L354.1 419.4L358.5 413.5L362.9 411.4L367.2 414.4L371.6 419.4L376 424.6L380.4 429.3L384.8 432.9L389.1 434.9L393.5 434.6L397.9 434.7L402.3 433.8L406.6 433.2L411 432.4L415.4 425.4L419.8 411.7L424.2 398.8L428.5 400.3L432.9 402.7L437.3 405.2L441.7 416.6L446 427.2L450.4 433.5L454.8 434.7L459.2 434.1L463.6 434.6L467.9 433L472.3 428.4L476.7 424L481.1 417.7L485.5 410.4L489.8 411.8L494.2 414.5L498.6 416.2L503 420.6L507.3 424.1L511.7 429L516.1 432.7L520.5 433.1L524.9 430.3L529.2 427.2L533.6 424.4L538 423.1L542.4 423.7L546.7 418.8L551.1 414L555.5 410.2L559.9 412.6L564.3 418.1L568.6 425.1L569.5 424.2" stroke="#9c15f3"/>
<path d="M100.2 432.2L104.6 432.9L108.9 435.2L113.3 433.9L117.7 435.3L122.1 434.2L126.5 430.8L130.8 427.8L135.2 427.4L139.6 430.6L144 433.2L148.3 432.5L152.7 428.8L157.1 409.1L161.5 356.1L165.9 260.6L170.2 176.5L174.6 169.4L179 232.8L183.4 319.6L187.7 387.5L192.1 421.1L196.5 430.3L200.9 427.7L205.3 412L209.6 390.8L214 373.6L218.4 378L222.8 397.8L227.1 416.3L231.5 422.8L235.9 417.8L240.3 401.3L244.7 379.4L249 373.6L253.4 377.3L257.8 399.3L262.2 418.1L266.6 423.5L270.9 418.8L275.3 410L279.7 397.8L284.1 393.5L288.4 391.6L292.8 398.1L297.2 410.1L301.6 415.4L306 417.9L310.3 420.9L314.7 425L319.1 428.8L323.5 425.3L327.8 424.3L332.2 426.8L336.6 429.4L341 432.5L345.4 432.7L349.7 430.8L354.1 429.3L358.5 426.9L362.9 426.2L367.2 429.4L371.6 429.6L376 424.9L380.4 418.5L384.8 414.5L389.1 415.3L393.5 419.8L397.9 423.2L402.3 418.9L406.6 412.2L411 410.4L415.4 410.2L419.8 417.3L424.2 424.6L428.5 425.9L432.9 425L437.3 422L441.7 422.3L446 423.5L450.4 423.4L454.8 422L459.2 423.9L463.6 427.4L467.9 431.2L472.3 433.6L476.7 434.9L481.1 435.3L485.5 434.1L489.8 433.5L494.2 433.5L498.6 432.7L503 426.8L507.3 414.8L511.7 406.8L516.1 409.4L520.5 419.7L524.9 426.1L529.2 424.2L533.6 419L538 412.5L542.4 410.2L546.7 405L551.1 401.9L555.5 402L559.9 406.2L564.3 413.9L568.6 422.1L569.5 424.1" stroke="#8de44e"/>
<path d="M100.2 431.6L104.6 432.5L108.9 432.9L113.3 432.9L117.7 433.2L122.1 430.7L126.5 428.7L130.8 425.5L135.2 422.8L139.6 424.9L144 427.9L148.3 429L152.7 420.4L157.1 391.1L161.5 341.3L165.9 269.6L170.2 200.5L174.6 191.8L179 235.9L183.4 302.4L187.7 361.1L192.1 390.6L196.5 392.4L200.9 380.6L205.3 369.1L209.6 361.8L214 388.5L218.4 413.1L222.8 424.3L227.1 429.3L231.5 432.7L235.9 432.7L240.3 431.3L244.7 432.2L249 432L253.4 429.9L257.8 423.8L262.2 411.9L266.6 403.1L270.9 400.2L275.3 403.3L279.7 412.6L284.1 419.3L288.4 416.6L292.8 412L297.2 409.7L301.6 414.8L306 423.9L310.3 429.8L314.7 432.5L319.1 432.9L323.5 432.1L327.8 431.6L332.2 426.6L336.6 419.9L341 403.4L345.4 395.1L349.7 396.4L354.1 396L358.5 393L362.9 402.6L367.2 408.1L371.6 407.8L376 407.7L380.4 411L384.8 412.1L389.1 412.9L393.5 405.9L397.9 397.5L402.3 397.4L406.6 402.3L411 410.5L415.4 420.8L419.8 428.2L424.2 431.3L428.5 432.6L432.9 432.2L437.3 430.7L441.7 428.6L446 423.7L450.4 412.2L454.8 404.4L459.2 404.9L463.6 406.5L467.9 418.1L472.3 426.1L476.7 427.8L481.1 425.9L485.5 423.3L489.8 421.5L494.2 419.8L498.6 418.2L503 419.5L507.3 421.8L511.7 423.4L516.1 428L520.5 432.3L524.9 431.6L529.2 433.3L533.6 433.5L538 432.5L542.4 430.8L546.7 427.8L551.1 422.9L555.5 418.9L559.9 420.1L564.3 425.5L568.6 430L569.5 430.6" stroke="#9724e6"/>
<path d="M100.2 435.1L104.6 435.3L108.9 435.4L113.3 436L117.7 434.5L122.1 431.9L126.5 424.8L130.8 417.6L135.2 418.2L139.6 424.8L144 431.5L148.3 434.7L152.7 426.9L157.1 406.1L161.5 352.1L165.9 259.8L170.2 172.5L174.6 155.5L179 208.8L183.4 292.8L187.7 364.6L192.1 404.7L196.5 418.6L200.9 411.8L205.3 395.2L209.6 385.3L214 391.5L218.4 405.1L222.8 419.1L227.1 430.1L231.5 431.6L235.9 432.3L240.3 427L244.7 423.1L249 418.2L253.4 416L257.8 416.4L262.2 413.7L266.6 409.6L270.9 410.2L275.3 411.9L279.7 412.8L284.1 411.1L288.4 413.9L292.8 419.4L297.2 425.1L301.6 427.9L306 424.2L310.3 419.3L314.7 421.6L319.1 427.2L323.5 429L327.8 429.4L332.2 424.3L336.6 421.8L341 421.8L345.4 422.2L349.7 426.2L354.1 427.4L358.5 428.2L362.9 422.8L367.2 412.6L371.6 398.3L376 390.5L380.4 390.4L384.8 403.6L389.1 415.2L393.5 425.2L397.9 431.4L402.3 429L406.6 425.5L411 421.7L415.4 421.8L419.8 425.8L424.2 429L428.5 433.4L432.9 430.9L437.3 426.1L441.7 416.1L446 407.9L450.4 405.1L454.8 412.1L459.2 422.9L463.6 427.3L467.9 425.7L472.3 424.2L476.7 429L481.1 432.1L485.5 433L489.8 433.5L494.2 435L498.6 435.6L503 435.6L507.3 435.2L511.7 435.4L516.1 432.2L520.5 421L524.9 407.2L529.2 406.4L533.6 418.7L538 426.6L542.4 431.9L546.7 435.1L551.1 429.9L555.5 429L559.9 429.7L564.3 426.3L568.6 424.4L569.5 424.9" stroke="#8753d5"/>
<path d="M100.2 435.2L104.6 433.5L108.9 432.4L113.3 434.2L117.7 434.5L122.1 433.3L126.5 430.5L130.8 426.6L135.2 423.4L139.6 426L144 431.2L148.3 431.5L152.7 418.1L157.1 378.8L161.5 319.3L165.9 228.1L170.2 149.1L174.6 157L179 219.6L183.4 296.8L187.7 362.5L192.1 397.1L196.5 403.7L200.9 389.6L205.3 368.5L209.6 356.4L214 351.7L218.4 368.9L222.8 395.5L227.1 416L231.5 425.9L235.9 422.3L240.3 406.6L244.7 394.3L249 393.1L253.4 400.5L257.8 411.4L262.2 417.9L266.6 416.1L270.9 413.6L275.3 413.4L279.7 412L284.1 408.9L288.4 406.3L292.8 409.2L297.2 414.9L301.6 418.6L306 421.5L310.3 419.5L314.7 413.1L319.1 410.4L323.5 412L327.8 419.4L332.2 425.1L336.6 428.4L341 432L345.4 434.7L349.7 435.2L354.1 435.2L358.5 432.3L362.9 430.2L367.2 427.6L371.6 417L376 409.8L380.4 410.6L384.8 417.5L389.1 424.3L393.5 427.9L397.9 429.7L402.3 424.6L406.6 421.7L411 424.3L415.4 425.1L419.8 426.3L424.2 424.2L428.5 420.6L432.9 418.9L437.3 420.9L441.7 424.5L446 427.6L450.4 430.1L454.8 428L459.2 428.6L463.6 430.4L467.9 431.2L472.3 431.8L476.7 431.7L481.1 429.3L485.5 420.8L489.8 406.3L494.2 396.8L498.6 404.2L503 418.7L507.3 428.1L511.7 434L516.1 434.4L520.5 432.1L524.9 429.7L529.2 422.5L533.6 414.4L538 411.5L542.4 414.5L546.7 422.5L551.1 429.6L555.5 430.9L559.9 430.2L564.3 431L568.6 428.7L569.5 427.6" stroke="#9344c9"/>
<path d="M100.2 433.8L104.6 432L108.9 434.6L113.3 434.1L117.7 433.4L122.1 431.5L126.5 426.1L130.8 420.7L135.2 420.6L139.6 426.9L144 432.2L148.3 433.9L152.7 428.6L157.1 406.4L161.5 347.4L165.9 251.5L170.2 161.3L174.6 140.6L179 195.8L183.4 287.4L187.7 365.6L192.1 409.9L196.5 424.5L200.9 421L205.3 403.7L209.6 384.7L214 384.4L218.4 404.2L222.8 420.4L227.1 426.6L231.5 418.7L235.9 407.8L240.3 398.2L244.7 386.1L249 378L253.4 381.1L257.8 391.8L262.2 401.2L266.6 405.3L270.9 404.8L275.3 402.3L279.7 402.1L284.1 405.5L288.4 414.2L292.8 424L297.2 429.5L301.6 430.4L306 426L310.3 420.8L314.7 416.8L319.1 419.6L323.5 422L327.8 426.2L332.2 426.4L336.6 422.3L341 420.1L345.4 423.1L349.7 426.2L354.1 425.4L358.5 420.4L362.9 415.3L367.2 417.6L371.6 425.5L376 432.3L380.4 434.9L384.8 434.7L389.1 430.9L393.5 422.5L397.9 414.3L402.3 415.5L406.6 420.7L411 422.6L415.4 417.7L419.8 407L424.2 400.1L428.5 402.2L432.9 409L437.3 417.1L441.7 423.7L446 427.5L450.4 429L454.8 431.9L459.2 433.1L463.6 431.4L467.9 428L472.3 423.8L476.7 418.9L481.1 416.5L485.5 414.1L489.8 409.1L494.2 409.6L498.6 419L503 429L507.3 434.8L511.7 435L516.1 432.7L520.5 431.8L524.9 433.2L529.2 432.9L533.6 428.7L538 420.7L542.4 412.9L546.7 411.4L551.1 414.2L555.5 417.9L559.9 420.6L564.3 416.4L568.6 411.3L569.5 412" stroke="#7ed975"/>
<path d="M100.2 423.2L104.6 423.5L108.9 425.2L113.3 426.1L117.7 425.1L122.1 419.3L126.5 412L130.8 410.9L135.2 420.5L139.6 427.3L144 432.3L148.3 431.8L152.7 430.1L157.1 419.5L161.5 382.7L165.9 305.5L170.2 220.8L174.6 206.2L179 253.1L183.4 324.4L187.7 381.7L192.1 413.9L196.5 428.4L200.9 428.1L205.3 424.4L209.6 416.1L214 399.7L218.4 381.6L222.8 380.9L227.1 397.7L231.5 415.6L235.9 421.3L240.3 416.5L244.7 408.5L249 404.2L253.4 406.9L257.8 414L262.2 422.5L266.6 428.7L270.9 431L275.3 431.5L279.7 430.5L284.1 427.3L288.4 422.5L292.8 419.6L297.2 416.2L301.6 418.4L306 422.2L310.3 425.1L314.7 427.8L319.1 428.7L323.5 427.5L327.8 425.9L332.2 424.2L336.6 422.9L341 421.9L345.4 420.4L349.7 418.5L354.1 415.3L358.5 409.7L362.9 398.4L367.2 388.3L371.6 386.5L376 398.8L380.4 416.8L384.8 425.9L389.1 429.8L393.5 432.3L397.9 433.1L402.3 432.2L406.6 432.4L411 430.5L415.4 428.6L419.8 426.8L424.2 422L428.5 416L432.9 411L437.3 411.6L441.7 410.8L446 410.6L450.4 411.4L454.8 419.4L459.2 426.5L463.6 430.7L467.9 430.8L472.3 426.6L476.7 419.3L481.1 417.6L485.5 424.2L489.8 428.8L494.2 427.8L498.6 424L503 420.1L507.3 418.4L511.7 415.6L516.1 415.2L520.5 409.9L524.9 410.2L529.2 409.1L533.6 410.5L538 411.8L542.4 414.1L546.7 420.1L551.1 423.5L555.5 425L559.9 426.8L564.3 428L568.6 426.3L569.5 426.5" stroke="#4e4e4e"/>
<path d="M100.2 433.7L104.6 433.6L108.9 434.1L113.3 433.2L117.7 433.7L122.1 431.6L126.5 424L130.8 414.6L135.2 414.3L139.6 422.2L144 428.8L148.3 430.8L152.7 430.3L157.1 422.1L161.5 380.9L165.9 287L170.2 179.2L174.6 149.3L179 198.6L183.4 283L187.7 359.6L192.1 406.8L196.5 424.3L200.9 426.5L205.3 418.3L209.6 404.9L214 394.1L218.4 388.2L222.8 391.4L227.1 390.5L231.5 389.3L235.9 386.2L240.3 381.7L244.7 380L249 401.3L253.4 421.4L257.8 430.1L262.2 430.8L266.6 427.7L270.9 423.4L275.3 417.2L279.7 412.3L284.1 411.4L288.4 418.4L292.8 425.4L297.2 428.6L301.6 430.4L306 431.5L310.3 433.3L314.7 433.5L319.1 432.2L323.5 430.3L327.8 424L332.2 413L336.6 401.3L341 396.2L345.4 401.1L349.7 412.4L354.1 421.6L358.5 425L362.9 420.6L367.2 413.3L371.6 401.8L376 397.8L380.4 403.7L384.8 408.9L389.1 417.8L393.5 428.8L397.9 431.6L402.3 428L406.6 420.6L411 413.6L415.4 410.2L419.8 412.2L424.2 420.6L428.5 428.6L432.9 431L437.3 432.4L441.7 428.8L446 426.6L450.4 428L454.8 430.1L459.2 429.4L463.6 425.5L467.9 422.8L472.3 420.9L476.7 421.5L481.1 420L485.5 417.7L489.8 416.8L494.2 419.4L498.6 425.6L503 431.4L507.3 432.6L511.7 433.1L516.1 431.7L520.5 429.4L524.9 422.1L529.2 417.4L533.6 418.3L538 425.2L542.4 428.7L546.7 429.6L551.1 429.6L555.5 429.8L559.9 430.8L564.3 429.3L568.6 428.1L569.5 428.5" stroke="#3deb24"/>
<path d="M100.2 434.4L104.6 436.1L108.9 433.2L113.3 432.3L117.7 434.1L122.1 430.7L126.5 422.2L130.8 419.7L135.2 426.3L139.6 432.7L144 434.7L148.3 433.9L152.7 428.6L157.1 405.1L161.5 342.5L165.9 242L170.2 154.9L174.6 146.2L179 206L183.4 293.4L187.7 368L192.1 407.7L196.5 425.5L200.9 425.8L205.3 415.6L209.6 402.3L214 393.2L218.4 394.5L222.8 403.7L227.1 415.2L231.5 425L235.9 428.5L240.3 423.4L244.7 411L249 395L253.4 383.9L257.8 386.3L262.2 396.3L266.6 408.2L270.9 421.7L275.3 427.2L279.7 425.8L284.1 422L288.4 417.7L292.8 412.6L297.2 410.6L301.6 410L306 407.5L310.3 398.8L314.7 396.2L319.1 392.4L323.5 390.3L327.8 399.1L332.2 416.1L336.6 428.2L341 433.1L345.4 434.8L349.7 431.3L354.1 424.4L358.5 413.9L362.9 401.5L367.2 387.2L371.6 372.9L376 374.9L380.4 380.9L384.8 405.5L389.1 424.4L393.5 429.9L397.9 429.9L402.3 424.9L406.6 420.7L411 417L415.4 419.9L419.8 424L424.2 430.3L428.5 433.6L432.9 433.2L437.3 426.8L441.7 417.4L446 417.3L450.4 421L454.8 416.2L459.2 414.7L463.6 419.3L467.9 424.3L472.3 430L476.7 433.1L481.1 434L485.5 435.1L489.8 432.1L494.2 428.9L498.6 425.6L503 423.7L507.3 424.6L511.7 427L516.1 429.9L520.5 429.7L524.9 426.5L529.2 420.8L533.6 418.2L538 412.3L542.4 411.3L546.7 413.3L551.1 416.4L555.5 423.6L559.9 431.4L564.3 435.4L568.6 435.2L569.5 435.7" stroke="#2171f3"/>
<path d="M100.2 435.6L104.6 436L108.9 436.7L113.3 436.1L117.7 436.1L122.1 433.6L126.5 426.8L130.8 422.6L135.2 428.9L139.6 433.6L144 436.3L148.3 434.5L152.7 430.8L157.1 417.7L161.5 367L165.9 267.8L170.2 174.7L174.6 166.2L179 227.1L183.4 309.7L187.7 372.4L192.1 397.1L196.5 393.9L200.9 380.8L205.3 371.6L209.6 372.2L214 405.8L218.4 426.9L222.8 432.9L227.1 432.5L231.5 430L235.9 420.5L240.3 402.9L244.7 385L249 378.5L253.4 375.2L257.8 382.1L262.2 392.2L266.6 413.1L270.9 426.1L275.3 429.4L279.7 426.5L284.1 420.8L288.4 419.1L292.8 423.9L297.2 430.7L301.6 433.5L306 435.1L310.3 436.6L314.7 435.1L319.1 434.3L323.5 434L327.8 427.2L332.2 419.9L336.6 407.5L341 400.7L345.4 400.8L349.7 403.3L354.1 401.8L358.5 395.8L362.9 389.5L367.2 384.1L371.6 380.9L376 394L380.4 409.1L384.8 420.8L389.1 427.9L393.5 429.5L397.9 426.3L402.3 422.5L406.6 422.9L411 424.9L415.4 426.5L419.8 428.3L424.2 425.5L428.5 423.6L432.9 422.4L437.3 425.6L441.7 424.8L446 422.9L450.4 419.5L454.8 409.9L459.2 407.5L463.6 408L467.9 411.4L472.3 421.3L476.7 428.2L481.1 431.4L485.5 429.3L489.8 426.8L494.2 427.3L498.6 426.6L503 427.9L507.3 431.1L511.7 434.1L516.1 433.7L520.5 434.1L524.9 435L529.2 433.9L533.6 432.2L538 431.3L542.4 430.4L546.7 429.1L551.1 427.5L555.5 424.1L559.9 420.7L564.3 422L568.6 427.6L569.5 428.4" stroke="#eec532"/>
<path d="M100.2 432.9L104.6 434.7L108.9 434.9L113.3 434.8L117.7 434.4L122.1 431.7L126.5 426.8L130.8 421.4L135.2 420L139.6 425.7L144 430.5L148.3 432.5L152.7 431.5L157.1 417.4L161.5 370L165.9 276.6L170.2 174.5L174.6 156.5L179 215.4L183.4 302.1L187.7 367.7L192.1 393.9L196.5 395.6L200.9 385L205.3 374.8L209.6 367L214 381.2L218.4 400.2L222.8 416.3L227.1 422.1L231.5 425.2L235.9 425.5L240.3 418.8L244.7 409.9L249 403L253.4 406.9L257.8 414.9L262.2 419.6L266.6 418.8L270.9 417.7L275.3 424.3L279.7 430.9L284.1 432.8L288.4 431.9L292.8 427.3L297.2 418.9L301.6 412.9L306 410.6L310.3 413L314.7 417.8L319.1 411.7L323.5 408.9L327.8 410.6L332.2 416L336.6 422.6L341 420.4L345.4 409.6L349.7 401.9L354.1 400.8L358.5 400.2L362.9 412.6L367.2 422.6L371.6 420.3L376 413.6L380.4 410.2L384.8 409.6L389.1 411.8L393.5 413.5L397.9 416.3L402.3 421.2L406.6 427.6L411 430.7L415.4 432.4L419.8 434.3L424.2 432.1L428.5 427.9L432.9 421.3L437.3 413.8L441.7 408.7L446 407.2L450.4 408.9L454.8 416.6L459.2 424.4L463.6 427.4L467.9 424.3L472.3 415L476.7 406.3L481.1 402.5L485.5 400.4L489.8 401.1L494.2 412.7L498.6 422.7L503 429.8L507.3 432.5L511.7 433.2L516.1 433.7L520.5 428.1L524.9 419.9L529.2 408L533.6 405.1L538 409.5L542.4 417.4L546.7 426.2L551.1 425.8L555.5 429.3L559.9 432.4L564.3 433L568.6 433.3L569.5 431.5" stroke="#373737"/>
<path d="M100.2 433.3L104.6 432.3L108.9 431.8L113.3 432L117.7 433.2L122.1 431.8L126.5 427.7L130.8 424.2L135.2 423.1L139.6 427.5L144 429.7L148.3 429.1L152.7 423.2L157.1 399.9L161.5 339.6L165.9 243.9L170.2 158.3L174.6 144.1L179 206.3L183.4 297.6L187.7 363.5L192.1 390.1L196.5 391.8L200.9 386.4L205.3 387.4L209.6 393.6L214 407L218.4 421L222.8 427.1L227.1 430.3L231.5 433.5L235.9 433.7L240.3 433.1L244.7 432L249 428L253.4 424.6L257.8 419.9L262.2 415.5L266.6 417.2L270.9 421.5L275.3 423.3L279.7 421.4L284.1 412.3L288.4 406.5L292.8 409.3L297.2 413.5L301.6 422L306 421.2L310.3 413.2L314.7 401L319.1 390.3L323.5 386L327.8 383.6L332.2 394.8L336.6 412.3L341 423.1L345.4 429.2L349.7 426.3L354.1 418.9L358.5 407.6L362.9 394.9L367.2 387.3L371.6 394L376 408.3L380.4 420L384.8 424.7L389.1 428.4L393.5 430.6L397.9 425.6L402.3 411.7L406.6 389.9L411 380.8L415.4 383.5L419.8 392.8L424.2 412.3L428.5 418.4L432.9 417.2L437.3 414.3L441.7 415.1L446 418.2L450.4 426.2L454.8 428.7L459.2 430.7L463.6 431.6L467.9 432.6L472.3 431.4L476.7 426.8L481.1 419.9L485.5 406.3L489.8 391.2L494.2 390L498.6 392.7L503 397.4L507.3 408.5L511.7 420.9L516.1 426.4L520.5 428.4L524.9 425.6L529.2 423.9L533.6 425.9L538 426L542.4 425.2L546.7 423.7L551.1 424.7L555.5 428.8L559.9 429.2L564.3 425.6L568.6 420.6L569.5 419.8" stroke="#6cd256"/>
<path d="M100.2 435L104.6 434.7L108.9 435.2L113.3 433.6L117.7 432.8L122.1 429.2L126.5 419.1L130.8 414.1L135.2 417.9L139.6 427.2L144 432.9L148.3 434.4L152.7 431.1L157.1 415L161.5 365.8L165.9 260L170.2 150.3L174.6 125.6L179 194.2L183.4 294.7L187.7 374.4L192.1 415.5L196.5 428.8L200.9 428.7L205.3 421L209.6 408.5L214 398.9L218.4 398.5L222.8 408.5L227.1 420L231.5 422.5L235.9 418.2L240.3 411.6L244.7 403.3L249 400.7L253.4 405.2L257.8 412.3L262.2 421.6L266.6 426.5L270.9 427.3L275.3 425.1L279.7 419L284.1 415.4L288.4 417.6L292.8 424L297.2 428.8L301.6 430.8L306 433.8L310.3 434.8L314.7 432.8L319.1 425.2L323.5 406.5L327.8 384.2L332.2 379.8L336.6 389.6L341 414.3L345.4 427.9L349.7 429.7L354.1 427.6L358.5 423.2L362.9 418.7L367.2 414.8L371.6 414.4L376 419.2L380.4 422.5L384.8 427.7L389.1 432.7L393.5 433L397.9 431.7L402.3 429L406.6 422.6L411 417.8L415.4 416.7L419.8 416.3L424.2 412.1L428.5 409.6L432.9 418.3L437.3 425.2L441.7 430.4L446 425.6L450.4 425.1L454.8 425.9L459.2 426.6L463.6 430.4L467.9 433L472.3 434.1L476.7 431.2L481.1 430L485.5 431.6L489.8 426.1L494.2 422.7L498.6 422.6L503 424.8L507.3 428.7L511.7 431.3L516.1 432.7L520.5 433.8L524.9 432.9L529.2 429.2L533.6 426.9L538 425.8L542.4 428.2L546.7 428.4L551.1 432.5L555.5 429.8L559.9 426.3L564.3 424.4L568.6 423.2L569.5 422.5" stroke="#6aee31"/>
<path d="M100.2 435.6L104.6 435.3L108.9 435.7L113.3 435.5L117.7 435.5L122.1 432.4L126.5 432L130.8 435.7L135.2 433.4L139.6 431L144 428.9L148.3 431.1L152.7 433.3L157.1 420.4L161.5 383.9L165.9 309.3L170.2 231.3L174.6 218.3L179 283.4L183.4 361.4L187.7 406L192.1 423.9L196.5 428.4L200.9 424L205.3 407.3L209.6 390.5L214 391.7L218.4 400.3L222.8 416.2L227.1 424.9L231.5 431.6L235.9 433.5L240.3 435L244.7 435.2L249 433.9L253.4 434.3L257.8 432.1L262.2 435.1L266.6 435.1L270.9 433.4L275.3 430.6L279.7 423L284.1 412.3L288.4 404.1L292.8 389.2L297.2 388.3L301.6 394.9L306 405.4L310.3 419.7L314.7 426.8L319.1 428.1L323.5 420.3L327.8 406.4L332.2 391.3L336.6 383.5L341 391.1L345.4 408.6L349.7 423.5L354.1 429.8L358.5 433L362.9 429.5L367.2 423.6L371.6 405.1L376 387.5L380.4 379.3L384.8 382.6L389.1 397.6L393.5 417.3L397.9 427.8L402.3 432.8L406.6 433.1L411 433.1L415.4 431.1L419.8 430.8L424.2 426.9L428.5 420.6L432.9 412.8L437.3 411L441.7 415.8L446 422.7L450.4 428.7L454.8 431.3L459.2 432.7L463.6 433.1L467.9 430.7L472.3 429.9L476.7 431.2L481.1 430.8L485.5 431.7L489.8 434L494.2 428.1L498.6 429.7L503 435L507.3 432.3L511.7 432.2L516.1 432L520.5 427.9L524.9 423.3L529.2 414.5L533.6 410.1L538 399.2L542.4 394.8L546.7 394.3L551.1 398.6L555.5 403.5L559.9 410.5L564.3 419.6L568.6 422.3L569.5 422.2" stroke="#3a3a3a"/>
</g>
<rect x="100.3" y="91.0" width="468.7" height="362.5" fill="none" stroke="#747474" stroke-width="1.1"/>
<path d="M100.3 453.5H569.0M100.3 453.5V143.8M173.1 453.5v6.4M252.7 453.5v6.4M332.3 453.5v6.4M411.9 453.5v6.4M491.5 453.5v6.4M100.3 440.3h-6.4M100.3 366.2h-6.4M100.3 292.1h-6.4M100.3 217.9h-6.4M100.3 143.8h-6.4" fill="none" stroke="#3c3c3c" stroke-width="1.15"/>
<g font-family="'Liberation Sans', Arial, Helvetica, sans-serif" font-size="10.2" fill="#262626" stroke="#262626" stroke-width="0.35" text-anchor="middle">
<text transform="translate(173.1 475.5) scale(1.15 1)">1</text>
<text transform="translate(252.7 475.5) scale(1.15 1)">2</text>
<text transform="translate(332.3 475.5) scale(1.15 1)">3</text>
<text transform="translate(411.9 475.5) scale(1.15 1)">4</text>
<text transform="translate(491.5 475.5) scale(1.15 1)">5</text>
</g>
<g font-family="'Liberation Sans', Arial, Helvetica, sans-serif" font-size="10.2" fill="#262626" stroke="#262626" stroke-width="0.35" text-anchor="middle">
<text transform="translate(85.4 440.3) rotate(-90) scale(0.875 1)">0.0</text>
<text transform="translate(85.4 366.2) rotate(-90) scale(0.875 1)">0.1</text>
<text transform="translate(85.4 292.1) rotate(-90) scale(0.875 1)">0.2</text>
<text transform="translate(85.4 217.9) rotate(-90) scale(0.875 1)">0.3</text>
<text transform="translate(85.4 143.8) rotate(-90) scale(0.875 1)">0.4</text>
</g>
</g>
<g id="panel-d">
<path d="M173.4 556.6V895.1M252.7 556.6V895.1M331.9 556.6V895.1M411.1 556.6V895.1M490.4 556.6V895.1M103.6 884.4H564.5M103.6 814.1H564.5M103.6 743.9H564.5M103.6 673.6H564.5M103.6 603.4H564.5" fill="none" stroke="#e8e8e8" stroke-width="1" stroke-dasharray="1 2.4"/>
<clipPath id="cp-d"><rect x="100.6" y="553.6" width="466.9" height="343.5"/></clipPath>
<g fill="none" stroke-width="0.72" stroke-linejoin="round" stroke-opacity="0.58" clip-path="url(#cp-d)">
<path d="M100.8 881.6L103.2 879.6L105.6 877.8L107.9 876.6L110.3 875.9L112.7 875.7L115.1 875.5L117.4 875.3L119.8 874.9L122.2 874.4L124.6 873.9L127 874L129.3 874.7L131.7 875.6L134.1 876L136.5 876L138.8 876L141.2 876L143.6 875.8L146 875.1L148.4 874.3L150.7 873.5L153.1 872.4L155.5 871.2L157.9 870.5L160.2 870.7L162.6 873.2L165 875.2L167.4 874.3L169.8 871.7L172.1 869.4L174.5 869.3L176.9 871.6L179.3 874.5L181.6 876.1L184 876.7L186.4 877.2L188.8 877.4L191.2 877.3L193.5 877.1L195.9 876.8L198.3 876.5L200.7 876.1L203 875.4L205.4 874.4L207.8 873.3L210.2 872.3L212.5 871.8L214.9 872.2L217.3 873.7L219.7 875.4L222.1 876.4L224.4 877.2L226.8 877.8L229.2 878.1L231.6 878.3L233.9 878.4L236.3 878.5L238.7 878.6L241.1 878.7L243.5 878.7L245.8 878.8L248.2 878.9L250.6 879L253 879.1L255.3 879.1L257.7 879.2L260.1 879.3L262.5 879.3L264.9 879.4L267.2 879.5" stroke="#3a3a3a" stroke-opacity="0.85"/>
<path d="M100.8 882.8L104 882.7L107.1 882.6L110.3 882.8L113.5 882.7L116.7 882.9L119.8 883.1L123 882.8L126.2 880.7L129.3 874.6L132.5 869.8L135.7 873.5L138.8 879.7L142 882.3L145.2 882.7L148.4 882.8L151.5 882.9L154.7 883L157.9 882.9L161 882.4L164.2 879.4L167.4 859.2L170.5 838.3L173.7 821.5L176.9 833.9L180.1 857.8L183.2 874.7L186.4 879.5L189.6 876.5L192.7 876.2L195.9 879.3L199.1 876.6L202.2 875.9L205.4 871.6L208.6 863.4L211.8 855.2L214.9 860.6L218.1 872.3L221.3 876.8L224.4 877.8L227.6 879.2L230.8 879.6L233.9 874.4L237.1 871.5L240.3 872.3L243.5 872.1L246.6 873L249.8 869L253 865.7L256.1 869.8L259.3 874.9L262.5 879L265.6 880.6L268.8 880.4L272 881.2L275.2 881.4L278.3 881.3L281.5 880.6L284.7 880.7L287.8 877.5L291 873.3L294.2 870.6L297.3 872.2L300.5 877L303.7 879.2L306.9 878.5L310 877.3L313.2 877.3L316.4 877L319.5 878.2L322.7 877.2L325.9 878.3L329 879.3L332.2 878.7L335.4 880.2L338.6 880.8L341.7 880.1L344.9 880.2L348.1 873.7L351.2 868.7L354.4 870.7L357.6 876.5L360.7 880.2L363.9 880.2L367.1 879.3L370.3 878.1L373.4 878.9L376.6 879.6L379.8 880.8L382.9 879.7L386.1 877.9L389.3 879.1L392.4 879.3L395.6 880.4L398.8 881L402 879.6L405.1 881.4L408.3 881.6L411.5 881L414.6 878.4L417.8 878.2L421 880.6L424.1 881.4L427.3 879.9L430.5 878.2L433.7 879.6L436.8 879.9L440 881.7L443.2 879.1L446.3 878.6L449.5 877.9L452.7 879.4L455.8 880.8L459 881.8L462.2 881.4L465.4 880.9L468.5 879.2L471.7 878.7L474.9 878.9L478 877.4L481.2 877L484.4 877.3L487.5 878L490.7 880.9L493.9 881.4L497.1 881.6L500.2 881.5L503.4 878.5L506.6 877.7L509.7 880.4L512.9 880.6L516.1 880.1L519.2 879.9L522.4 878.6L525.6 880.4L528.8 881.3L531.9 880.3L535.1 878.2L538.3 880.5L541.4 881.7L544.6 881.6L547.8 881.8L550.9 880.2L554.1 880L557.3 880.2L560.5 881.8L563.6 880.5L566.8 880.4L568.1 881.5" stroke="#3dd271"/>
<path d="M100.8 882.8L104 883L107.1 882.8L110.3 883L113.5 883L116.7 883.1L119.8 883L123 882.8L126.2 880.8L129.3 875.5L132.5 871.9L135.7 876L138.8 881L142 882.5L145.2 882.9L148.4 883L151.5 882.9L154.7 883L157.9 882.8L161 881.5L164.2 874.5L167.4 849.8L170.5 824.8L173.7 818.2L176.9 841.3L180.1 867.7L183.2 877.9L186.4 879.1L189.6 875.9L192.7 872L195.9 871.9L199.1 873.4L202.2 872.8L205.4 864.5L208.6 852L211.8 844.3L214.9 855.6L218.1 869.5L221.3 873.4L224.4 873.4L227.6 872.7L230.8 875.9L233.9 874.1L237.1 877.6L240.3 874.7L243.5 876L246.6 873.3L249.8 871L253 869.3L256.1 871.8L259.3 877.5L262.5 878.9L265.6 877L268.8 878.9L272 881L275.2 880.1L278.3 881L281.5 879.9L284.7 881L287.8 877.8L291 874.8L294.2 875.6L297.3 880.1L300.5 878.1L303.7 878L306.9 879.8L310 880.9L313.2 878.6L316.4 876.7L319.5 876.8L322.7 878.4L325.9 879.9L329 880.1L332.2 881.4L335.4 879.6L338.6 877.5L341.7 875.7L344.9 874.8L348.1 876.7L351.2 879L354.4 880.7L357.6 881.6L360.7 880.7L363.9 879.1L367.1 879.8L370.3 880.8L373.4 879.8L376.6 879.6L379.8 880.7L382.9 880.5L386.1 880.7L389.3 879.2L392.4 879L395.6 878.9L398.8 881.6L402 881L405.1 880.9L408.3 879.7L411.5 880.6L414.6 881.6L417.8 880.8L421 880.1L424.1 879.3L427.3 878.5L430.5 878.3L433.7 879.1L436.8 881.4L440 879.9L443.2 880.9L446.3 880.9L449.5 880L452.7 879.1L455.8 878.3L459 880.5L462.2 881.7L465.4 880L468.5 877.8L471.7 874L474.9 875.7L478 877.2L481.2 880.8L484.4 881.1L487.5 880.2L490.7 881.9L493.9 880.7L497.1 879.4L500.2 877.7L503.4 877.6L506.6 879.3L509.7 880.9L512.9 876.9L516.1 876.4L519.2 877.1L522.4 877.2L525.6 878.8L528.8 877.5L531.9 876.3L535.1 878.7L538.3 881.5L541.4 878.3L544.6 877.4L547.8 877.9L550.9 877.8L554.1 878.2L557.3 880.7L560.5 880.9L563.6 879.6L566.8 879.2L568.1 880" stroke="#82d75f"/>
<path d="M100.8 882.9L104 882.9L107.1 882.9L110.3 882.9L113.5 882.8L116.7 882.8L119.8 882.8L123 882.7L126.2 881.5L129.3 878L132.5 874.1L135.7 874.8L138.8 879.3L142 882.2L145.2 882.9L148.4 883L151.5 883.1L154.7 882.9L157.9 882.3L161 881.5L164.2 876.9L167.4 857.6L170.5 819.8L173.7 799L176.9 816.9L180.1 853.8L183.2 872.8L186.4 878L189.6 880.4L192.7 879.8L195.9 880.2L199.1 878L202.2 878.9L205.4 878.7L208.6 869.8L211.8 853.5L214.9 852.5L218.1 864.4L221.3 872.8L224.4 875.1L227.6 876.2L230.8 874.9L233.9 878.2L237.1 880.2L240.3 879L243.5 878.2L246.6 874.4L249.8 871.9L253 868.3L256.1 871.2L259.3 877.9L262.5 879.6L265.6 880.2L268.8 880.6L272 879.7L275.2 875.5L278.3 871.6L281.5 874.2L284.7 876.8L287.8 875.7L291 872.4L294.2 870.7L297.3 872.6L300.5 875.1L303.7 875.8L306.9 875.6L310 875.3L313.2 876.2L316.4 878.3L319.5 879.6L322.7 879.5L325.9 877.3L329 878.8L332.2 880.8L335.4 878.5L338.6 878.4L341.7 878.3L344.9 879.7L348.1 881.5L351.2 880.2L354.4 880.1L357.6 880.5L360.7 881.6L363.9 880.6L367.1 881.6L370.3 881.5L373.4 880.7L376.6 880.3L379.8 881L382.9 880.1L386.1 878.4L389.3 878.6L392.4 876.3L395.6 876L398.8 874.7L402 876.8L405.1 881.3L408.3 881L411.5 881.8L414.6 879.5L417.8 878.3L421 880.7L424.1 881.5L427.3 879.9L430.5 879.3L433.7 880.1L436.8 879.5L440 880.3L443.2 881.3L446.3 880.5L449.5 881.1L452.7 881.3L455.8 881L459 879.5L462.2 878.2L465.4 878.9L468.5 879L471.7 879L474.9 877.6L478 877L481.2 877.9L484.4 881.7L487.5 879.4L490.7 879.9L493.9 881.8L497.1 878.7L500.2 877.6L503.4 879.9L506.6 881L509.7 881.4L512.9 881L516.1 880.8L519.2 880.4L522.4 881.5L525.6 881.3L528.8 881.4L531.9 880.6L535.1 880.4L538.3 878.9L541.4 880.6L544.6 880.6L547.8 879.5L550.9 880.1L554.1 879.4L557.3 876.5L560.5 876.5L563.6 878.8L566.8 880.8L568.1 881.5" stroke="#e11e89"/>
<path d="M100.8 882.8L104 882.9L107.1 883.1L110.3 882.9L113.5 882.6L116.7 882.5L119.8 882.7L123 882.6L126.2 881.4L129.3 876.8L132.5 871.3L135.7 872.3L138.8 878.4L142 881.7L145.2 882.4L148.4 882.4L151.5 882.7L154.7 883.1L157.9 883.1L161 882.5L164.2 878.8L167.4 864.9L170.5 839.4L173.7 828.8L176.9 842.6L180.1 865.7L183.2 876.9L186.4 876.8L189.6 876.3L192.7 879.1L195.9 878.1L199.1 874.4L202.2 875.7L205.4 877.8L208.6 868.1L211.8 854.2L214.9 852.2L218.1 862.4L221.3 873.2L224.4 877.4L227.6 875.7L230.8 873.7L233.9 874.9L237.1 876L240.3 877.6L243.5 871.5L246.6 868.2L249.8 867.2L253 868.4L256.1 870L259.3 877.3L262.5 878.7L265.6 879L268.8 879.3L272 880.1L275.2 880.6L278.3 879.4L281.5 879.6L284.7 879.2L287.8 876.8L291 872.5L294.2 871.4L297.3 872.7L300.5 874.5L303.7 876.4L306.9 879.4L310 878.1L313.2 879.2L316.4 879.9L319.5 881L322.7 878.8L325.9 879.3L329 879.1L332.2 880.3L335.4 881L338.6 880.7L341.7 881L344.9 881.2L348.1 880.8L351.2 881L354.4 880.9L357.6 877L360.7 877.8L363.9 879.3L367.1 880.8L370.3 879.4L373.4 878.4L376.6 877.1L379.8 877.7L382.9 878.1L386.1 880.5L389.3 879.8L392.4 880.2L395.6 879.7L398.8 881L402 881.5L405.1 877L408.3 875.2L411.5 874.5L414.6 875.9L417.8 881.5L421 879.5L424.1 878.7L427.3 879.5L430.5 881.8L433.7 881.1L436.8 877.4L440 875.4L443.2 874.1L446.3 875.9L449.5 878.1L452.7 877.6L455.8 877.6L459 874.4L462.2 876.4L465.4 879.4L468.5 880.8L471.7 879.7L474.9 877.9L478 878.5L481.2 878.4L484.4 878.5L487.5 879.5L490.7 881.6L493.9 880.1L497.1 881.2L500.2 877.6L503.4 876.4L506.6 877.5L509.7 878.6L512.9 881.8L516.1 880.2L519.2 878.8L522.4 879.3L525.6 881.6L528.8 880L531.9 878.6L535.1 879.3L538.3 880.6L541.4 879.9L544.6 880.9L547.8 881.8L550.9 881.2L554.1 879.9L557.3 879.1L560.5 881.1L563.6 878.8L566.8 876.8L568.1 877.5" stroke="#6be140"/>
<path d="M100.8 883L104 882.9L107.1 882.7L110.3 882.4L113.5 882.4L116.7 882.5L119.8 882.8L123 883L126.2 882L129.3 878.7L132.5 875.4L135.7 876.2L138.8 879.8L142 882.1L145.2 882.9L148.4 883L151.5 883L154.7 882.8L157.9 882.9L161 882.2L164.2 877.8L167.4 860.3L170.5 838.2L173.7 828.4L176.9 845.4L180.1 868.6L183.2 879.3L186.4 881L189.6 879.4L192.7 880.2L195.9 879.1L199.1 876.4L202.2 877.5L205.4 875L208.6 860.8L211.8 849L214.9 849.2L218.1 862.9L221.3 873.7L224.4 880.2L227.6 880.3L230.8 881.1L233.9 877.9L237.1 877L240.3 880.3L243.5 878.8L246.6 875.4L249.8 869.6L253 869.6L256.1 875.5L259.3 876.3L262.5 878.2L265.6 880.5L268.8 876.2L272 873.8L275.2 875.2L278.3 877.5L281.5 878.6L284.7 876.3L287.8 875.7L291 876L294.2 875.9L297.3 878.2L300.5 879.6L303.7 879.4L306.9 880.8L310 880L313.2 879.9L316.4 877L319.5 877L322.7 878.5L325.9 880.9L329 881.1L332.2 881.1L335.4 880.2L338.6 880.7L341.7 878.9L344.9 880.5L348.1 881.4L351.2 878.6L354.4 878.1L357.6 879.9L360.7 881.2L363.9 880L367.1 880.9L370.3 879.4L373.4 878.2L376.6 878.9L379.8 879.9L382.9 881.6L386.1 877.6L389.3 873.9L392.4 871.7L395.6 873.4L398.8 875.7L402 876.1L405.1 878.3L408.3 880.1L411.5 881.4L414.6 878.7L417.8 878.8L421 879.7L424.1 879.3L427.3 881.6L430.5 880.2L433.7 880.5L436.8 880.9L440 879.7L443.2 877.5L446.3 877.8L449.5 878.5L452.7 879.9L455.8 881.3L459 880.1L462.2 881L465.4 881.3L468.5 880.8L471.7 877.5L474.9 877.1L478 876.7L481.2 877.6L484.4 878.5L487.5 878L490.7 878.6L493.9 878.8L497.1 879.3L500.2 879.6L503.4 881.1L506.6 880.6L509.7 878.9L512.9 875.9L516.1 875.8L519.2 876.8L522.4 879L525.6 880.5L528.8 880L531.9 880.9L535.1 881.6L538.3 879.3L541.4 879.4L544.6 881.9L547.8 878.8L550.9 879L554.1 881L557.3 881.2L560.5 880.9L563.6 882L566.8 880.8L568.1 880.6" stroke="#9e41d3"/>
<path d="M100.8 883L104 883.1L107.1 883.1L110.3 882.8L113.5 882.5L116.7 882.4L119.8 882.4L123 882.3L126.2 880.8L129.3 874.8L132.5 870.4L135.7 875L138.8 880.3L142 882L145.2 882.1L148.4 882.4L151.5 882.6L154.7 882.9L157.9 882.3L161 879.2L164.2 868.2L167.4 837.9L170.5 818.3L173.7 814.2L176.9 835.7L180.1 862.1L183.2 876.4L186.4 879.2L189.6 876.2L192.7 872.1L195.9 872.9L199.1 876.8L202.2 880.6L205.4 876.8L208.6 870.5L211.8 858.2L214.9 852.6L218.1 862.2L221.3 876L224.4 879.8L227.6 878.1L230.8 875.7L233.9 878L237.1 877.3L240.3 879.7L243.5 876.2L246.6 876.1L249.8 873.4L253 868.5L256.1 871.3L259.3 869.8L262.5 871.3L265.6 874.1L268.8 878.3L272 879.7L275.2 880.9L278.3 880.9L281.5 880.5L284.7 880.7L287.8 877.7L291 876.7L294.2 876L297.3 876.7L300.5 878.9L303.7 878.9L306.9 878.4L310 874.8L313.2 877.7L316.4 880.5L319.5 879.8L322.7 878.1L325.9 877.8L329 878.4L332.2 881.1L335.4 877.2L338.6 876L341.7 878.6L344.9 880.7L348.1 881.2L351.2 878.4L354.4 875.9L357.6 875.8L360.7 878.1L363.9 879.6L367.1 881.2L370.3 881.6L373.4 881.4L376.6 881.6L379.8 880.1L382.9 880.2L386.1 878.1L389.3 875.1L392.4 875L395.6 878.1L398.8 881.1L402 879.2L405.1 880.8L408.3 881.4L411.5 881.3L414.6 880.7L417.8 879.5L421 877.8L424.1 876.7L427.3 876.1L430.5 878.7L433.7 880.3L436.8 881.3L440 880.6L443.2 881.5L446.3 880.7L449.5 881.1L452.7 881.4L455.8 879L459 877.4L462.2 878.1L465.4 880.3L468.5 881.9L471.7 880.8L474.9 881.7L478 881.1L481.2 880.3L484.4 878.6L487.5 877.2L490.7 878L493.9 878.9L497.1 880.6L500.2 881.9L503.4 881.7L506.6 881L509.7 878.4L512.9 877.9L516.1 879.1L519.2 881.7L522.4 880.8L525.6 881.4L528.8 881.3L531.9 881.7L535.1 880.3L538.3 879.5L541.4 880.8L544.6 881.2L547.8 881.5L550.9 881.7L554.1 880.5L557.3 879.1L560.5 879.9L563.6 880.2L566.8 881.8L568.1 881.8" stroke="#f66454"/>
<path d="M100.8 883L104 882.9L107.1 882.7L110.3 882.6L113.5 882.7L116.7 882.9L119.8 883L123 883L126.2 881.8L129.3 877.5L132.5 872.2L135.7 873.7L138.8 879.7L142 882.6L145.2 883.1L148.4 882.9L151.5 882.8L154.7 882.9L157.9 882.7L161 880.3L164.2 868.8L167.4 838.5L170.5 811.3L173.7 815.9L176.9 844.4L180.1 867.8L183.2 875.9L186.4 879.2L189.6 880.2L192.7 876.6L195.9 875L199.1 879.8L202.2 879.7L205.4 876.4L208.6 862.9L211.8 848.7L214.9 848.6L218.1 863.8L221.3 876.6L224.4 879.8L227.6 878.3L230.8 877.3L233.9 879.5L237.1 880.9L240.3 878.1L243.5 878.7L246.6 878.7L249.8 873.6L253 871.5L256.1 871.3L259.3 872.5L262.5 875.5L265.6 877.9L268.8 881.1L272 877.5L275.2 876.4L278.3 878L281.5 880.7L284.7 879.1L287.8 878L291 876.7L294.2 874.7L297.3 876L300.5 877.6L303.7 880.5L306.9 879L310 878.2L313.2 880.3L316.4 878.5L319.5 876.9L322.7 876.9L325.9 880.8L329 876.9L332.2 877.4L335.4 879.3L338.6 880.7L341.7 879L344.9 879L348.1 879.9L351.2 878.8L354.4 881.4L357.6 879.3L360.7 877L363.9 874.8L367.1 876.6L370.3 877.8L373.4 878.1L376.6 879L379.8 880.9L382.9 881.4L386.1 880.3L389.3 881.7L392.4 879L395.6 877.8L398.8 879.2L402 881.4L405.1 878.4L408.3 876.7L411.5 876.2L414.6 877.6L417.8 878.5L421 878.7L424.1 876.7L427.3 874.6L430.5 875.8L433.7 877.9L436.8 880.5L440 880.4L443.2 878.9L446.3 878.8L449.5 880.7L452.7 881.2L455.8 881.1L459 879.2L462.2 877.9L465.4 873.1L468.5 871.7L471.7 875.4L474.9 878.8L478 880.3L481.2 880.3L484.4 881.8L487.5 881.7L490.7 881.4L493.9 879.4L497.1 877.8L500.2 878.2L503.4 878.8L506.6 880.3L509.7 880.6L512.9 879.4L516.1 879.4L519.2 880L522.4 880.6L525.6 879L528.8 878.1L531.9 880.4L535.1 881.6L538.3 881.4L541.4 880.8L544.6 879.9L547.8 881.6L550.9 881.1L554.1 881.2L557.3 879.4L560.5 878.8L563.6 877.3L566.8 879L568.1 881.4" stroke="#3ff57d"/>
<path d="M100.8 882.7L104 882.7L107.1 882.9L110.3 883.1L113.5 883L116.7 882.8L119.8 882.8L123 882.7L126.2 881.6L129.3 878.7L132.5 875.2L135.7 875.9L138.8 879.5L142 881.9L145.2 882.8L148.4 882.8L151.5 882.7L154.7 882.8L157.9 882.9L161 881.1L164.2 872L167.4 840.8L170.5 801.1L173.7 782.3L176.9 808.5L180.1 848.4L183.2 872.4L186.4 876.8L189.6 873.2L192.7 875.8L195.9 880.4L199.1 875.5L202.2 872L205.4 872.1L208.6 865.5L211.8 855.4L214.9 859.1L218.1 869.8L221.3 879.2L224.4 875.2L227.6 871.1L230.8 868.1L233.9 870.7L237.1 875L240.3 877.8L243.5 879.3L246.6 879.4L249.8 875.2L253 872.7L256.1 873.6L259.3 877.3L262.5 879.7L265.6 881.2L268.8 879.1L272 877.7L275.2 879.6L278.3 879.1L281.5 877.4L284.7 875.6L287.8 874.4L291 873.7L294.2 875.1L297.3 876.8L300.5 879.2L303.7 878.7L306.9 879.2L310 880L313.2 877.8L316.4 877.9L319.5 879.1L322.7 880L325.9 878.5L329 878L332.2 879L335.4 881.2L338.6 878.8L341.7 877.1L344.9 877L348.1 878.6L351.2 878.4L354.4 879.4L357.6 881.4L360.7 878.6L363.9 877.4L367.1 879.1L370.3 881.6L373.4 879.9L376.6 880.6L379.8 881.7L382.9 880.5L386.1 880L389.3 880.5L392.4 880.8L395.6 881L398.8 881.3L402 881.4L405.1 881.3L408.3 880.5L411.5 878.4L414.6 877.5L417.8 877.9L421 878.1L424.1 876.6L427.3 874.6L430.5 875.8L433.7 879.5L436.8 880.5L440 878L443.2 875.2L446.3 876.3L449.5 878.9L452.7 880.4L455.8 880.7L459 880.1L462.2 879.1L465.4 879.9L468.5 879.8L471.7 879.7L474.9 881.1L478 878.5L481.2 877.6L484.4 880.2L487.5 881.8L490.7 879.8L493.9 878.6L497.1 878.9L500.2 879.8L503.4 880.4L506.6 881L509.7 881.4L512.9 881.4L516.1 879.1L519.2 880.5L522.4 881.6L525.6 879.4L528.8 877.7L531.9 878.3L535.1 879.1L538.3 879.9L541.4 880.6L544.6 879.9L547.8 880.3L550.9 879.5L554.1 879.3L557.3 879.8L560.5 879.2L563.6 880.3L566.8 878.9L568.1 879.2" stroke="#7352ed"/>
<path d="M100.8 882.9L104 882.9L107.1 882.8L110.3 883L113.5 883.2L116.7 883.1L119.8 882.9L123 883L126.2 882.1L129.3 878.1L132.5 871.5L135.7 870.1L138.8 875.8L142 880.8L145.2 882.6L148.4 883.1L151.5 883.1L154.7 883.1L157.9 883L161 882.8L164.2 880.1L167.4 864.7L170.5 836.1L173.7 815.3L176.9 825.7L180.1 857.7L183.2 872.6L186.4 877.2L189.6 876.5L192.7 876.5L195.9 874L199.1 874.3L202.2 879.4L205.4 875.9L208.6 863.7L211.8 851.7L214.9 851.4L218.1 861.6L221.3 872.1L224.4 876.9L227.6 879.3L230.8 881.3L233.9 879.9L237.1 879L240.3 880.1L243.5 874.9L246.6 869.4L249.8 866L253 866.4L256.1 870.9L259.3 876L262.5 880.4L265.6 876.7L268.8 876.9L272 877.5L275.2 879.5L278.3 879.7L281.5 878.1L284.7 879.2L287.8 877.3L291 875.1L294.2 875L297.3 877.4L300.5 878.3L303.7 877L306.9 876.2L310 878.5L313.2 880.1L316.4 881.1L319.5 880.5L322.7 879.5L325.9 880.6L329 880.8L332.2 880L335.4 879.2L338.6 880.8L341.7 880.1L344.9 879.7L348.1 876.7L351.2 874.2L354.4 872.7L357.6 874.1L360.7 877.6L363.9 879.8L367.1 880.1L370.3 880.6L373.4 880L376.6 881L379.8 879.2L382.9 878.3L386.1 878.9L389.3 880.3L392.4 876.1L395.6 876.3L398.8 876.8L402 878.5L405.1 879L408.3 880.1L411.5 880L414.6 878.6L417.8 880.8L421 880.9L424.1 880.4L427.3 879.6L430.5 879.5L433.7 880.8L436.8 881.6L440 878.9L443.2 878.7L446.3 880.2L449.5 880.4L452.7 880.8L455.8 881.6L459 880.3L462.2 878.7L465.4 877.6L468.5 878.6L471.7 880.8L474.9 881.5L478 880.5L481.2 879.1L484.4 880.7L487.5 880.3L490.7 879.4L493.9 878.9L497.1 879L500.2 879.4L503.4 876.5L506.6 876.9L509.7 878.1L512.9 879L516.1 881.3L519.2 879.6L522.4 881.5L525.6 881.5L528.8 881.7L531.9 880L535.1 879.7L538.3 879L541.4 881.7L544.6 880.8L547.8 882L550.9 881.7L554.1 878.3L557.3 879L560.5 879.5L563.6 880.4L566.8 880.9L568.1 881" stroke="#edac1d"/>
<path d="M100.8 882.9L104 882.8L107.1 882.8L110.3 883.2L113.5 883.1L116.7 883.1L119.8 883.1L123 882.9L126.2 882L129.3 878.4L132.5 872.3L135.7 870.8L138.8 876.3L142 880.8L145.2 882.5L148.4 882.9L151.5 882.9L154.7 882.7L157.9 882.5L161 880.7L164.2 872.2L167.4 848.7L170.5 820.2L173.7 811.7L176.9 830.6L180.1 857.5L183.2 874.8L186.4 874.3L189.6 872.9L192.7 878.4L195.9 879.2L199.1 878.3L202.2 880.1L205.4 875.6L208.6 862.2L211.8 845.7L214.9 845.1L218.1 861.6L221.3 876.9L224.4 877.5L227.6 879.8L230.8 880.9L233.9 879.5L237.1 878.3L240.3 877.5L243.5 875.7L246.6 874.1L249.8 871.2L253 871.1L256.1 873.4L259.3 878L262.5 879.9L265.6 880.4L268.8 879.9L272 879.9L275.2 879.6L278.3 879.7L281.5 879.1L284.7 877.4L287.8 875.5L291 870.7L294.2 872.6L297.3 876.9L300.5 880.3L303.7 881.4L306.9 881L310 881.2L313.2 880.1L316.4 879.7L319.5 880.9L322.7 881.2L325.9 880.8L329 879.5L332.2 878.4L335.4 877.9L338.6 876.4L341.7 873.8L344.9 874L348.1 877.9L351.2 880.4L354.4 878.2L357.6 879.2L360.7 879.8L363.9 879.8L367.1 881L370.3 880.1L373.4 877.5L376.6 877.1L379.8 877.5L382.9 878.3L386.1 881.2L389.3 881.4L392.4 879.1L395.6 877.3L398.8 879.9L402 880.6L405.1 878.2L408.3 876.8L411.5 880.1L414.6 880.8L417.8 881.1L421 879.9L424.1 878.4L427.3 876.8L430.5 877.2L433.7 879.9L436.8 880.5L440 881.4L443.2 880.5L446.3 880.9L449.5 881.5L452.7 881.1L455.8 881.6L459 881.5L462.2 881.8L465.4 881.3L468.5 879.5L471.7 878.8L474.9 879.5L478 880.7L481.2 881.2L484.4 881.8L487.5 880.8L490.7 880.3L493.9 881.5L497.1 881.4L500.2 880.2L503.4 877.1L506.6 875L509.7 877.5L512.9 876.4L516.1 877L519.2 877.1L522.4 878.3L525.6 880.4L528.8 879.6L531.9 881.5L535.1 882L538.3 880.8L541.4 882L544.6 879.6L547.8 880.1L550.9 882L554.1 879L557.3 879.2L560.5 880.3L563.6 880.8L566.8 880.1L568.1 880.1" stroke="#25e568"/>
<path d="M100.8 883.1L104 883.1L107.1 883L110.3 883.1L113.5 883.1L116.7 882.9L119.8 882.9L123 882.6L126.2 880.6L129.3 874.3L132.5 869L135.7 873.2L138.8 880L142 882.5L145.2 883.1L148.4 883L151.5 883L154.7 883.1L157.9 882.8L161 882.8L164.2 880.1L167.4 864.9L170.5 842.3L173.7 826.6L176.9 837.1L180.1 859.9L183.2 872.2L186.4 877.1L189.6 875.3L192.7 877.8L195.9 881.1L199.1 880.7L202.2 878.7L205.4 877.6L208.6 868.7L211.8 859.8L214.9 859.6L218.1 869.8L221.3 875.3L224.4 875.3L227.6 875.1L230.8 878L233.9 881.2L237.1 878.3L240.3 878.3L243.5 878.1L246.6 876.5L249.8 869.6L253 867.7L256.1 872.1L259.3 877.8L262.5 879.3L265.6 878.6L268.8 878.5L272 878.9L275.2 877.1L278.3 877.7L281.5 881L284.7 878.6L287.8 874L291 873.6L294.2 875.4L297.3 877.5L300.5 878.6L303.7 881L306.9 877.6L310 875.8L313.2 874.4L316.4 875.6L319.5 877.2L322.7 878.1L325.9 881.4L329 880.1L332.2 878.2L335.4 878.8L338.6 878.5L341.7 878.6L344.9 879.9L348.1 880.2L351.2 875.4L354.4 873.7L357.6 875.5L360.7 878.5L363.9 879.6L367.1 879.7L370.3 880.7L373.4 878.6L376.6 876.5L379.8 879.7L382.9 880.5L386.1 878L389.3 878.4L392.4 879.9L395.6 878.5L398.8 880.6L402 877.4L405.1 874.4L408.3 874.9L411.5 877.3L414.6 878.9L417.8 879L421 877.1L424.1 877.6L427.3 877.9L430.5 880.3L433.7 881.5L436.8 880.4L440 877.6L443.2 876.4L446.3 877.6L449.5 881.7L452.7 880.4L455.8 879.3L459 879.5L462.2 880.4L465.4 880.1L468.5 880.3L471.7 879.4L474.9 880.7L478 880.4L481.2 878.8L484.4 880.8L487.5 881.7L490.7 881.4L493.9 880.8L497.1 879.8L500.2 879.3L503.4 878.5L506.6 877.9L509.7 876.7L512.9 876.2L516.1 874.7L519.2 877.1L522.4 880.7L525.6 879.6L528.8 878.4L531.9 879L535.1 879.9L538.3 880L541.4 879L544.6 879.6L547.8 878L550.9 878.4L554.1 879.8L557.3 880.7L560.5 881.1L563.6 879.8L566.8 880.1L568.1 880.8" stroke="#581fee"/>
<path d="M100.8 883.1L104 883.1L107.1 883L110.3 882.9L113.5 883.1L116.7 883.1L119.8 882.9L123 882.8L126.2 882.1L129.3 878.1L132.5 872.8L135.7 872.5L138.8 877.2L142 881.3L145.2 882.4L148.4 882.9L151.5 883L154.7 883.2L157.9 882.9L161 882.3L164.2 877L167.4 854L170.5 820.9L173.7 804.6L176.9 826.6L180.1 854.7L183.2 868.8L186.4 874.5L189.6 878.8L192.7 880L195.9 880.7L199.1 880L202.2 878.7L205.4 875L208.6 861.7L211.8 847.2L214.9 849.9L218.1 864.7L221.3 877.4L224.4 877.5L227.6 876.6L230.8 877.3L233.9 879.6L237.1 879.5L240.3 878.5L243.5 875.5L246.6 871.5L249.8 868.6L253 869.6L256.1 874.8L259.3 877.8L262.5 879.3L265.6 879.2L268.8 880.8L272 878.6L275.2 878.4L278.3 879.1L281.5 879.7L284.7 880.3L287.8 876.2L291 873.1L294.2 871.3L297.3 875.1L300.5 878L303.7 878.8L306.9 881L310 877.1L313.2 876.5L316.4 875.7L319.5 879.8L322.7 880.3L325.9 878.3L329 879.5L332.2 876.8L335.4 877.3L338.6 880.4L341.7 880.6L344.9 880.8L348.1 880.6L351.2 881.3L354.4 879.9L357.6 878.2L360.7 881.2L363.9 880.4L367.1 879.8L370.3 878.8L373.4 881.5L376.6 880.5L379.8 879.3L382.9 877.3L386.1 876.9L389.3 876.6L392.4 877.8L395.6 880.6L398.8 879.4L402 877.6L405.1 878L408.3 879.6L411.5 879.9L414.6 880.4L417.8 878.8L421 879.6L424.1 881.8L427.3 878.3L430.5 879.5L433.7 881.3L436.8 876.9L440 872.3L443.2 870.1L446.3 872.5L449.5 878.2L452.7 880.4L455.8 878.9L459 879.3L462.2 878.5L465.4 878.7L468.5 879.8L471.7 880.3L474.9 879.1L478 878.6L481.2 879L484.4 878.9L487.5 881L490.7 880.4L493.9 881.8L497.1 880.7L500.2 880.3L503.4 880.1L506.6 880.9L509.7 879.6L512.9 876.9L516.1 878.2L519.2 880.3L522.4 878.6L525.6 878L528.8 880.3L531.9 881.8L535.1 879.5L538.3 880.8L541.4 881.8L544.6 880.7L547.8 881.7L550.9 881.9L554.1 882L557.3 880.3L560.5 880.8L563.6 880.5L566.8 879.5L568.1 880.3" stroke="#ee42ab"/>
<path d="M100.8 883L104 882.9L107.1 882.8L110.3 882.7L113.5 883.1L116.7 883.1L119.8 883L123 882.9L126.2 882.4L129.3 879.2L132.5 874.3L135.7 874.6L138.8 879.6L142 882.5L145.2 882.8L148.4 882.9L151.5 883.2L154.7 883L157.9 882.8L161 881.9L164.2 875.8L167.4 854.9L170.5 830L173.7 819.9L176.9 837.7L180.1 864.5L183.2 875.3L186.4 876.6L189.6 876.7L192.7 876.2L195.9 876.1L199.1 877.2L202.2 879.8L205.4 871.1L208.6 858L211.8 848.3L214.9 851.7L218.1 867.2L221.3 873.4L224.4 879.5L227.6 879.6L230.8 876.3L233.9 871.9L237.1 869.9L240.3 870.8L243.5 872.2L246.6 875.7L249.8 873.5L253 872.9L256.1 871.3L259.3 873.2L262.5 877.5L265.6 880.4L268.8 880L272 877.8L275.2 878.5L278.3 875.4L281.5 873.3L284.7 871.6L287.8 869.9L291 868.1L294.2 869.4L297.3 873.5L300.5 877.7L303.7 881L306.9 879.9L310 879.3L313.2 877.3L316.4 875.6L319.5 877.7L322.7 880.3L325.9 879.2L329 878.4L332.2 877.4L335.4 876.8L338.6 878.8L341.7 879.5L344.9 878.1L348.1 878.6L351.2 875.4L354.4 875.6L357.6 877.6L360.7 877.1L363.9 876.4L367.1 872.6L370.3 875.1L373.4 877.8L376.6 880L379.8 880.4L382.9 877.1L386.1 878.6L389.3 876.9L392.4 877.9L395.6 878.9L398.8 879.1L402 881.5L405.1 880.9L408.3 881L411.5 881.3L414.6 881.7L417.8 881.2L421 881.7L424.1 881.3L427.3 879.9L430.5 877.8L433.7 876.3L436.8 879.7L440 881.4L443.2 880.5L446.3 880.1L449.5 880L452.7 875.9L455.8 876.3L459 878.4L462.2 881.3L465.4 881.6L468.5 879.8L471.7 881L474.9 881.3L478 881.2L481.2 880.4L484.4 876.9L487.5 876.5L490.7 876.6L493.9 879.8L497.1 879.5L500.2 877.9L503.4 880.4L506.6 881.4L509.7 880.4L512.9 881.3L516.1 881.4L519.2 880L522.4 882L525.6 878.9L528.8 875.6L531.9 875.1L535.1 878L538.3 880.4L541.4 881.8L544.6 881.8L547.8 881.6L550.9 881.4L554.1 881.8L557.3 881.8L560.5 881L563.6 880.5L566.8 880.8L568.1 880.6" stroke="#6887e0"/>
<path d="M100.8 883.1L104 883L107.1 883L110.3 883.1L113.5 883.2L116.7 882.9L119.8 882.9L123 882.9L126.2 882.3L129.3 879.7L132.5 874.9L135.7 874.1L138.8 878.7L142 882L145.2 883L148.4 883L151.5 882.8L154.7 882.6L157.9 882.6L161 881.9L164.2 876.4L167.4 854.5L170.5 832.3L173.7 818.1L176.9 829.2L180.1 852.9L183.2 867.7L186.4 869.5L189.6 872.1L192.7 876.7L195.9 879.2L199.1 879.2L202.2 876.3L205.4 869.3L208.6 862.8L211.8 857L214.9 862.3L218.1 869.9L221.3 874.3L224.4 874.7L227.6 872.6L230.8 875.3L233.9 879L237.1 881.3L240.3 878L243.5 878.8L246.6 872.8L249.8 868.5L253 868.9L256.1 868.8L259.3 874.2L262.5 875.2L265.6 875.1L268.8 875.1L272 874.3L275.2 877.9L278.3 881.3L281.5 879.8L284.7 876.5L287.8 874.1L291 874L294.2 873.8L297.3 876.6L300.5 876.1L303.7 873.7L306.9 877.9L310 880.8L313.2 876.7L316.4 878.6L319.5 876.9L322.7 872.3L325.9 873L329 879.6L332.2 881.4L335.4 878.9L338.6 876.5L341.7 877L344.9 881.6L348.1 878.6L351.2 880.6L354.4 881.6L357.6 880.3L360.7 881.5L363.9 880.2L367.1 880.5L370.3 880.5L373.4 881.1L376.6 877.1L379.8 875.3L382.9 879.5L386.1 881.6L389.3 880.6L392.4 881.5L395.6 879.7L398.8 880.3L402 881L405.1 879.2L408.3 877.4L411.5 876.3L414.6 877.5L417.8 877.6L421 879.8L424.1 881.2L427.3 880.5L430.5 879.9L433.7 881.7L436.8 880.5L440 879.2L443.2 881.3L446.3 881.8L449.5 881L452.7 881.4L455.8 879.5L459 878.8L462.2 881.8L465.4 879.1L468.5 875.7L471.7 877.4L474.9 878.4L478 880.7L481.2 879.3L484.4 878.8L487.5 879.2L490.7 881.7L493.9 881.3L497.1 881.3L500.2 880.1L503.4 879.6L506.6 880.4L509.7 881.8L512.9 880.3L516.1 881.2L519.2 880.9L522.4 881.5L525.6 881.4L528.8 879.6L531.9 880L535.1 879.2L538.3 880.9L541.4 881.6L544.6 880.6L547.8 880.5L550.9 882L554.1 880.3L557.3 880.5L560.5 879.8L563.6 879.6L566.8 881.5L568.1 880.4" stroke="#64e893"/>
<path d="M100.8 883.1L104 882.9L107.1 882.8L110.3 882.9L113.5 883L116.7 882.9L119.8 882.9L123 882.9L126.2 880.6L129.3 874.7L132.5 868.7L135.7 870.9L138.8 877.8L142 881.5L145.2 882.3L148.4 882.5L151.5 882.7L154.7 882.7L157.9 882.7L161 881.9L164.2 876.6L167.4 849.8L170.5 816.5L173.7 805.9L176.9 829.8L180.1 862.8L183.2 876.6L186.4 876.9L189.6 876.8L192.7 880.8L195.9 880.6L199.1 879.3L202.2 880.4L205.4 873.4L208.6 860.5L211.8 844.9L214.9 843.1L218.1 856.6L221.3 871.9L224.4 878.7L227.6 880.6L230.8 880.1L233.9 878.5L237.1 877.2L240.3 875.4L243.5 874.3L246.6 872.6L249.8 869.5L253 871.2L256.1 871L259.3 872.8L262.5 874.7L265.6 875.9L268.8 874.7L272 879L275.2 879L278.3 874.3L281.5 872.1L284.7 872.3L287.8 870.1L291 873.2L294.2 874.8L297.3 877.6L300.5 879.3L303.7 881L306.9 880.1L310 876.2L313.2 873.4L316.4 872.5L319.5 875.2L322.7 877.1L325.9 876.2L329 874.5L332.2 874.7L335.4 879L338.6 878.9L341.7 877.6L344.9 879.2L348.1 880.7L351.2 879.4L354.4 879.6L357.6 878.8L360.7 876.2L363.9 873.4L367.1 871.9L370.3 872.5L373.4 872.6L376.6 875.5L379.8 879.7L382.9 881L386.1 880.1L389.3 879.1L392.4 878.4L395.6 875.9L398.8 873L402 874L405.1 879L408.3 881.3L411.5 880.4L414.6 879.4L417.8 879.7L421 881.2L424.1 880.6L427.3 880.2L430.5 879.3L433.7 879.8L436.8 881.2L440 880.7L443.2 879L446.3 880.6L449.5 880.6L452.7 881L455.8 880.7L459 880L462.2 881.7L465.4 881.5L468.5 881.9L471.7 880.1L474.9 877.8L478 876.1L481.2 878.7L484.4 880.7L487.5 878.9L490.7 880.6L493.9 880.8L497.1 879L500.2 879.3L503.4 880.3L506.6 881.4L509.7 878.4L512.9 876.4L516.1 876.2L519.2 876.4L522.4 877L525.6 877.1L528.8 879L531.9 881.1L535.1 881.3L538.3 881.5L541.4 880.2L544.6 877.8L547.8 877.2L550.9 881.9L554.1 878.4L557.3 877.3L560.5 879.1L563.6 882.1L566.8 881.2L568.1 880.5" stroke="#73dada"/>
<path d="M100.8 882.9L104 883.1L107.1 883.1L110.3 883.2L113.5 883.1L116.7 882.9L119.8 883L123 882.6L126.2 882.2L129.3 880.7L132.5 876.1L135.7 874.8L138.8 878.7L142 881.8L145.2 882.6L148.4 883L151.5 883.1L154.7 882.9L157.9 882.8L161 881.5L164.2 875.5L167.4 857.7L170.5 836L173.7 828.1L176.9 842.2L180.1 862.5L183.2 875.3L186.4 877.5L189.6 878.5L192.7 878.5L195.9 880.2L199.1 879.6L202.2 880.8L205.4 875.7L208.6 864.6L211.8 853.9L214.9 855.3L218.1 867.5L221.3 877L224.4 878.4L227.6 879.9L230.8 878.4L233.9 874.7L237.1 872.8L240.3 871.1L243.5 873.7L246.6 872.8L249.8 867.4L253 863.9L256.1 866.4L259.3 872.5L262.5 877.9L265.6 878.2L268.8 874.9L272 874.5L275.2 873.4L278.3 875.5L281.5 879.3L284.7 880.2L287.8 873.4L291 872.6L294.2 873L297.3 875L300.5 877.1L303.7 875.3L306.9 880.3L310 879.2L313.2 878.1L316.4 879.7L319.5 881.2L322.7 879.2L325.9 877.9L329 880.7L332.2 880.4L335.4 880.1L338.6 880.6L341.7 877.2L344.9 876.4L348.1 878.4L351.2 881L354.4 879L357.6 879.5L360.7 881.1L363.9 881.6L367.1 881.4L370.3 880.4L373.4 880.5L376.6 880.8L379.8 881.1L382.9 880.4L386.1 877.7L389.3 876.7L392.4 877.4L395.6 879.4L398.8 879.4L402 879.6L405.1 879.5L408.3 880.1L411.5 879.8L414.6 878.1L417.8 879.1L421 881.1L424.1 880.2L427.3 876.5L430.5 874.9L433.7 874.6L436.8 876.7L440 877.5L443.2 877.6L446.3 878.2L449.5 878L452.7 879.5L455.8 879.6L459 879.7L462.2 878.9L465.4 878L468.5 877.4L471.7 879.7L474.9 881L478 881.4L481.2 881.9L484.4 880.7L487.5 879.4L490.7 880L493.9 878.5L497.1 879.1L500.2 881.2L503.4 881L506.6 877.8L509.7 878.7L512.9 880.2L516.1 880.8L519.2 879.6L522.4 879.8L525.6 878.8L528.8 879.4L531.9 879.4L535.1 880.7L538.3 880.1L541.4 881.3L544.6 880.9L547.8 879.6L550.9 881.3L554.1 881.7L557.3 881.4L560.5 882L563.6 882.1L566.8 881.1L568.1 881.7" stroke="#ec38b9"/>
<path d="M100.8 883.1L104 883L107.1 883.1L110.3 883.1L113.5 883.1L116.7 883.1L119.8 883.1L123 882.9L126.2 881.2L129.3 876.2L132.5 869.9L135.7 870.7L138.8 877.1L142 881.5L145.2 882.8L148.4 883L151.5 882.9L154.7 883L157.9 882.9L161 882.1L164.2 877L167.4 852.7L170.5 823.1L173.7 803.2L176.9 818.7L180.1 851.2L183.2 872.9L186.4 879.6L189.6 877.4L192.7 874.2L195.9 872.3L199.1 875.1L202.2 879.8L205.4 877L208.6 868.1L211.8 852.7L214.9 839.5L218.1 844.3L221.3 861.1L224.4 874.4L227.6 879.8L230.8 880.5L233.9 877.8L237.1 878L240.3 879.8L243.5 879.5L246.6 876.1L249.8 876.3L253 871.7L256.1 873.8L259.3 875.6L262.5 879.2L265.6 879.3L268.8 880.8L272 879.6L275.2 881L278.3 880.2L281.5 880.4L284.7 878.4L287.8 875.9L291 876.2L294.2 876.6L297.3 877.8L300.5 878.3L303.7 874L306.9 872L310 874.2L313.2 874.4L316.4 875.8L319.5 878.4L322.7 881.5L325.9 880.8L329 881L332.2 879.7L335.4 881.2L338.6 877.4L341.7 878.1L344.9 880L348.1 878.9L351.2 876.8L354.4 878.8L357.6 881L360.7 879.4L363.9 878.1L367.1 880.2L370.3 881.2L373.4 881.3L376.6 880.5L379.8 877.6L382.9 876.6L386.1 877.5L389.3 877.4L392.4 877.4L395.6 879.9L398.8 879.9L402 877L405.1 874.6L408.3 877.1L411.5 879.6L414.6 879.2L417.8 879.5L421 877.9L424.1 881.4L427.3 879.2L430.5 878.1L433.7 878.4L436.8 879.6L440 877.7L443.2 878.5L446.3 880.6L449.5 879.8L452.7 877.9L455.8 877.2L459 877.2L462.2 878.7L465.4 881L468.5 880.6L471.7 878.9L474.9 877.4L478 875.8L481.2 870.8L484.4 868.1L487.5 870.1L490.7 874.9L493.9 881L497.1 879.9L500.2 879.2L503.4 880.9L506.6 881.3L509.7 880.3L512.9 880.3L516.1 880.8L519.2 881.9L522.4 881.1L525.6 880.3L528.8 879.2L531.9 878.1L535.1 878.7L538.3 879.6L541.4 881.5L544.6 879.2L547.8 879.7L550.9 881.8L554.1 878.9L557.3 877.3L560.5 878.6L563.6 881.4L566.8 881.5L568.1 881.7" stroke="#2163f5"/>
<path d="M100.8 883.2L104 883L107.1 882.9L110.3 883.1L113.5 883.1L116.7 883L119.8 883.2L123 882.7L126.2 882.1L129.3 878.7L132.5 873L135.7 871.3L138.8 876.3L142 880.9L145.2 882.7L148.4 883L151.5 882.8L154.7 882.8L157.9 883.1L161 882.6L164.2 879.5L167.4 860.5L170.5 833.9L173.7 817.4L176.9 831.6L180.1 857.7L183.2 871.2L186.4 874.8L189.6 880.1L192.7 879.8L195.9 878.9L199.1 880.6L202.2 879.6L205.4 872.2L208.6 855.7L211.8 839.2L214.9 840.8L218.1 857.9L221.3 874.3L224.4 879.1L227.6 879.3L230.8 879.3L233.9 880.4L237.1 879L240.3 877.8L243.5 877.5L246.6 876.9L249.8 868.3L253 868.9L256.1 873.6L259.3 877.1L262.5 880.5L265.6 879.8L268.8 879.9L272 878.1L275.2 880.2L278.3 881.4L281.5 879.1L284.7 876L287.8 877.2L291 876.4L294.2 877.1L297.3 878.4L300.5 878L303.7 878.8L306.9 879.6L310 880.8L313.2 881.5L316.4 880L319.5 879.5L322.7 879.1L325.9 878.9L329 879.6L332.2 876.7L335.4 875.9L338.6 876.8L341.7 878.1L344.9 881.3L348.1 878.6L351.2 877.7L354.4 876.9L357.6 880.5L360.7 878.8L363.9 880.5L367.1 880.6L370.3 877L373.4 876.9L376.6 880.2L379.8 881L382.9 880.9L386.1 881.5L389.3 880.5L392.4 880.2L395.6 878.8L398.8 878.1L402 879.2L405.1 880.7L408.3 881.3L411.5 880.5L414.6 880.9L417.8 880.2L421 880.9L424.1 881L427.3 879.5L430.5 877.2L433.7 878L436.8 880.9L440 881.7L443.2 881.2L446.3 879.7L449.5 877.2L452.7 876.9L455.8 879.4L459 880.1L462.2 880.6L465.4 878L468.5 877L471.7 878.6L474.9 881.6L478 879.8L481.2 880.6L484.4 881.6L487.5 879.9L490.7 881.9L493.9 880.1L497.1 877.9L500.2 877.2L503.4 877.4L506.6 878L509.7 880.6L512.9 881.9L516.1 881.2L519.2 881.2L522.4 879.2L525.6 879.1L528.8 880L531.9 881.6L535.1 881L538.3 879.9L541.4 878.6L544.6 879.5L547.8 880.6L550.9 880.7L554.1 880.9L557.3 880.2L560.5 879.5L563.6 879.8L566.8 879.2L568.1 879.6" stroke="#31efb4"/>
<path d="M100.8 882.8L104 882.7L107.1 882.7L110.3 882.8L113.5 882.9L116.7 882.8L119.8 882.7L123 882.6L126.2 882L129.3 879L132.5 874.2L135.7 874L138.8 878.7L142 882.1L145.2 882.9L148.4 883.1L151.5 883.1L154.7 883.1L157.9 883L161 881.7L164.2 875.4L167.4 848.4L170.5 822.5L173.7 812.6L176.9 826.9L180.1 849.4L183.2 866.5L186.4 875.6L189.6 878.1L192.7 880.2L195.9 877.7L199.1 876.4L202.2 878.1L205.4 875.4L208.6 866L211.8 849.6L214.9 848.5L218.1 862.5L221.3 875.1L224.4 880.9L227.6 878.9L230.8 877.4L233.9 872.5L237.1 875.9L240.3 877L243.5 874.3L246.6 873.1L249.8 871L253 866.6L256.1 870.2L259.3 875.8L262.5 878.8L265.6 878.2L268.8 881L272 878.5L275.2 879.6L278.3 880.1L281.5 879.1L284.7 877.7L287.8 878.7L291 876.8L294.2 877L297.3 878.7L300.5 880.6L303.7 880.6L306.9 880.6L310 879.1L313.2 876.7L316.4 875.5L319.5 876.7L322.7 877.4L325.9 877.2L329 877.4L332.2 879.5L335.4 879.2L338.6 879.5L341.7 880.4L344.9 881.3L348.1 877L351.2 873.6L354.4 872L357.6 874.1L360.7 879.6L363.9 878.8L367.1 876.2L370.3 875.1L373.4 876.2L376.6 879.2L379.8 880.9L382.9 878.7L386.1 879L389.3 879L392.4 878.8L395.6 878.8L398.8 878.7L402 879.3L405.1 879.8L408.3 881.1L411.5 878.4L414.6 879.9L417.8 881.3L421 880.5L424.1 879.8L427.3 876.8L430.5 875.5L433.7 876.3L436.8 878.6L440 881.1L443.2 881.7L446.3 878.7L449.5 877.3L452.7 876.2L455.8 877L459 876.2L462.2 873.4L465.4 874.8L468.5 878L471.7 879.8L474.9 880.4L478 879.6L481.2 880.3L484.4 880.6L487.5 881.3L490.7 881.6L493.9 880L497.1 880.8L500.2 881.3L503.4 881.5L506.6 880.7L509.7 880.4L512.9 880L516.1 878.9L519.2 878.8L522.4 881.8L525.6 882L528.8 879.8L531.9 880L535.1 881.6L538.3 882L541.4 881.4L544.6 881L547.8 879.2L550.9 879.1L554.1 879.9L557.3 880.7L560.5 881.6L563.6 879.9L566.8 880.8L568.1 881.7" stroke="#1fdef4"/>
<path d="M100.8 882.9L104 882.9L107.1 883.1L110.3 883L113.5 883.2L116.7 882.9L119.8 882.8L123 882.7L126.2 882.1L129.3 878.8L132.5 872.4L135.7 870L138.8 875.7L142 881.2L145.2 882.8L148.4 883L151.5 882.9L154.7 882.9L157.9 883L161 882.1L164.2 877.9L167.4 855.6L170.5 825L173.7 803.5L176.9 823.1L180.1 856.7L183.2 876.3L186.4 878.5L189.6 878L192.7 875.7L195.9 872.4L199.1 872.7L202.2 876L205.4 874.9L208.6 863.5L211.8 844.3L214.9 841.4L218.1 860.1L221.3 871.9L224.4 873.3L227.6 874L230.8 880.9L233.9 877.1L237.1 876.1L240.3 875.8L243.5 879.2L246.6 877.2L249.8 876.5L253 874.7L256.1 877.7L259.3 875.7L262.5 878L265.6 876.9L268.8 878.6L272 879.9L275.2 879.5L278.3 878.3L281.5 879.7L284.7 878.6L287.8 877L291 874.7L294.2 876.2L297.3 879.7L300.5 880.2L303.7 881L306.9 880.9L310 879.2L313.2 877L316.4 873.2L319.5 872.6L322.7 871.5L325.9 872.7L329 874.8L332.2 879L335.4 881.5L338.6 879.9L341.7 879.1L344.9 879.8L348.1 879.7L351.2 880.3L354.4 878.7L357.6 878.5L360.7 880.5L363.9 881.5L367.1 879.7L370.3 876.9L373.4 879.4L376.6 881.1L379.8 879.2L382.9 877.3L386.1 876.4L389.3 872.5L392.4 872L395.6 875.7L398.8 881L402 879.3L405.1 879.5L408.3 879.5L411.5 879.2L414.6 878.1L417.8 877.9L421 880.3L424.1 879.9L427.3 879.6L430.5 880.3L433.7 880.5L436.8 878.3L440 876.3L443.2 876.3L446.3 878.1L449.5 880.6L452.7 881.2L455.8 879.7L459 881.2L462.2 880L465.4 879.6L468.5 880.9L471.7 881.6L474.9 880.7L478 879.5L481.2 879.5L484.4 881L487.5 881.4L490.7 881.5L493.9 880.2L497.1 879.9L500.2 881.8L503.4 881.6L506.6 881.4L509.7 880L512.9 878.8L516.1 880.1L519.2 881.4L522.4 881.8L525.6 880.7L528.8 879.7L531.9 880.7L535.1 881.8L538.3 881.3L541.4 881.4L544.6 882L547.8 881.9L550.9 882L554.1 881L557.3 878.2L560.5 876.6L563.6 877.7L566.8 879.2L568.1 880.4" stroke="#d23e5e"/>
<path d="M100.8 882.7L104 882.6L107.1 882.8L110.3 883L113.5 882.5L116.7 882.7L119.8 882.9L123 883L126.2 882.6L129.3 880.1L132.5 875.7L135.7 875.6L138.8 879.6L142 882.1L145.2 882.5L148.4 882.5L151.5 882.8L154.7 883.1L157.9 882.7L161 880.5L164.2 872.6L167.4 852.5L170.5 833.2L173.7 830.9L176.9 850.5L180.1 868.8L183.2 878.1L186.4 876.9L189.6 878.2L192.7 877.3L195.9 879.7L199.1 878.1L202.2 875.1L205.4 874.8L208.6 865.4L211.8 850L214.9 849.2L218.1 861.9L221.3 875.2L224.4 880.7L227.6 875L230.8 872.7L233.9 879.2L237.1 878L240.3 872.6L243.5 871.4L246.6 872.3L249.8 870L253 870.3L256.1 872.9L259.3 876.5L262.5 876.2L265.6 877.4L268.8 877.2L272 877.5L275.2 880.9L278.3 881.1L281.5 879.2L284.7 876.9L287.8 875.1L291 872L294.2 872.3L297.3 875.2L300.5 875.4L303.7 874.3L306.9 875.4L310 872.2L313.2 875.6L316.4 878.1L319.5 880.9L322.7 879.6L325.9 876.6L329 875.3L332.2 875.3L335.4 877.5L338.6 881.3L341.7 878.7L344.9 880.4L348.1 880.6L351.2 881L354.4 880.8L357.6 879.5L360.7 881.3L363.9 879.1L367.1 876.4L370.3 875.7L373.4 875.2L376.6 876.7L379.8 877.2L382.9 875.9L386.1 875.1L389.3 876.2L392.4 877.2L395.6 879.2L398.8 878.6L402 878.4L405.1 879.1L408.3 881.6L411.5 880.8L414.6 881.7L417.8 881.7L421 879.1L424.1 879L427.3 880.3L430.5 879.8L433.7 881.4L436.8 879.2L440 878.5L443.2 877.5L446.3 879.6L449.5 881L452.7 881.3L455.8 880.9L459 879.1L462.2 878.7L465.4 880.4L468.5 881L471.7 879L474.9 877.5L478 877.6L481.2 878.8L484.4 879.4L487.5 881.6L490.7 881.8L493.9 881.9L497.1 880.9L500.2 879.6L503.4 877.7L506.6 878.4L509.7 881.5L512.9 879.6L516.1 877.4L519.2 877.4L522.4 878.5L525.6 879.9L528.8 881.3L531.9 882L535.1 881.1L538.3 880.9L541.4 880.9L544.6 881.3L547.8 881.3L550.9 880.9L554.1 881.9L557.3 881.3L560.5 880.6L563.6 881.2L566.8 882.1L568.1 880.1" stroke="#2deb44"/>
<path d="M100.8 882.9L104 882.7L107.1 882.8L110.3 882.9L113.5 883.1L116.7 882.9L119.8 882.8L123 882.6L126.2 882.3L129.3 879.5L132.5 873.8L135.7 871.5L138.8 876.1L142 880.9L145.2 882.5L148.4 882.6L151.5 882.7L154.7 883.1L157.9 882.9L161 882.5L164.2 881.1L167.4 870.7L170.5 854.9L173.7 837.4L176.9 837.3L180.1 856.6L183.2 871.8L186.4 879.4L189.6 880.1L192.7 878.8L195.9 874.7L199.1 874.7L202.2 879.5L205.4 878.3L208.6 869.6L211.8 860L214.9 858.9L218.1 865.9L221.3 874.5L224.4 879.3L227.6 880.8L230.8 879.1L233.9 878.7L237.1 878.6L240.3 879.3L243.5 878.9L246.6 873.9L249.8 869.6L253 866.9L256.1 868.2L259.3 874.2L262.5 877.3L265.6 878.7L268.8 877.2L272 875.3L275.2 878.8L278.3 881L281.5 880.3L284.7 879.6L287.8 878L291 875.8L294.2 875.7L297.3 876.9L300.5 878.2L303.7 878.7L306.9 881.5L310 879.8L313.2 880.8L316.4 878.7L319.5 873.5L322.7 873.3L325.9 876.2L329 879.3L332.2 879.4L335.4 880.3L338.6 881.4L341.7 879.1L344.9 880.4L348.1 880.6L351.2 877L354.4 876.6L357.6 878.6L360.7 880.8L363.9 880.8L367.1 879.9L370.3 879L373.4 880.7L376.6 880.2L379.8 879.3L382.9 877.5L386.1 878.9L389.3 877.8L392.4 881.1L395.6 881.1L398.8 880.4L402 878.9L405.1 874L408.3 873.4L411.5 876.9L414.6 880.7L417.8 877.3L421 878.4L424.1 881.3L427.3 880L430.5 880.1L433.7 879.8L436.8 880.6L440 879.2L443.2 877.2L446.3 876.6L449.5 876.1L452.7 879.3L455.8 881.3L459 881.1L462.2 880.5L465.4 879.7L468.5 880.4L471.7 881.8L474.9 880.6L478 880.7L481.2 880.5L484.4 878.5L487.5 878.2L490.7 878.5L493.9 880.4L497.1 880.5L500.2 880L503.4 880.9L506.6 879.7L509.7 878.1L512.9 878.6L516.1 879.4L519.2 880.9L522.4 880.3L525.6 878.4L528.8 876.8L531.9 876.7L535.1 876.6L538.3 878.1L541.4 877.5L544.6 877.5L547.8 879.9L550.9 881.1L554.1 880.2L557.3 879.3L560.5 880.8L563.6 879.5L566.8 878.6L568.1 879.4" stroke="#46f177"/>
<path d="M100.8 883L104 882.9L107.1 882.9L110.3 883.1L113.5 883.1L116.7 883L119.8 883L123 883.1L126.2 882.1L129.3 878.7L132.5 874.3L135.7 875.5L138.8 880L142 882.7L145.2 883.1L148.4 883.1L151.5 883.2L154.7 883.2L157.9 882.9L161 881.6L164.2 875.8L167.4 855.4L170.5 831.5L173.7 822L176.9 832L180.1 856.2L183.2 873.1L186.4 878.6L189.6 877.4L192.7 878.5L195.9 880.9L199.1 881.2L202.2 877.4L205.4 871.6L208.6 860.6L211.8 850.9L214.9 850.2L218.1 862.4L221.3 874.2L224.4 879.6L227.6 878.8L230.8 879.8L233.9 880.3L237.1 880.3L240.3 876.9L243.5 872.6L246.6 870.2L249.8 868.4L253 867L256.1 865.8L259.3 868L262.5 874.5L265.6 878.6L268.8 877.5L272 877.4L275.2 880.1L278.3 880.5L281.5 876.8L284.7 875.3L287.8 873.7L291 873L294.2 876.5L297.3 878.4L300.5 878L303.7 878.7L306.9 879.3L310 880.4L313.2 881.3L316.4 878.3L319.5 878.6L322.7 879L325.9 880.2L329 881.1L332.2 879.2L335.4 877.7L338.6 876.9L341.7 875.8L344.9 877.2L348.1 876.1L351.2 877.2L354.4 878.1L357.6 877.7L360.7 878L363.9 879L367.1 881.5L370.3 880L373.4 878.5L376.6 881L379.8 880.2L382.9 878.1L386.1 878.3L389.3 880L392.4 880.3L395.6 880.3L398.8 880.6L402 881.7L405.1 879.5L408.3 879.7L411.5 881.2L414.6 877.2L417.8 879L421 881.3L424.1 881L427.3 879.5L430.5 875.4L433.7 878L436.8 880.4L440 878.9L443.2 877.5L446.3 878.1L449.5 877.1L452.7 877.4L455.8 879.3L459 881L462.2 881.4L465.4 880L468.5 880.9L471.7 881.2L474.9 880.6L478 881.7L481.2 880.9L484.4 879.3L487.5 880.1L490.7 881.7L493.9 881.1L497.1 879.9L500.2 877.1L503.4 870.6L506.6 869.2L509.7 874.2L512.9 879.4L516.1 881.5L519.2 879.8L522.4 879.6L525.6 879.1L528.8 879.8L531.9 881.9L535.1 881L538.3 880.2L541.4 879.6L544.6 880.1L547.8 878.1L550.9 877.1L554.1 877.4L557.3 877.9L560.5 880.5L563.6 880.8L566.8 880.9L568.1 880.5" stroke="#185bf6"/>
<path d="M100.8 883L104 883.1L107.1 883L110.3 883.2L113.5 883.2L116.7 883.1L119.8 882.9L123 883.1L126.2 881.8L129.3 877.2L132.5 870L135.7 870.8L138.8 878.4L142 882.1L145.2 882.7L148.4 882.9L151.5 883L154.7 882.7L157.9 882.7L161 882.7L164.2 880.1L167.4 859.8L170.5 830.5L173.7 802.7L176.9 812L180.1 842.4L183.2 868.8L186.4 875.7L189.6 879L192.7 879.6L195.9 879.6L199.1 880.2L202.2 876.4L205.4 870.4L208.6 859.1L211.8 847L214.9 851.5L218.1 864.7L221.3 873.3L224.4 871.3L227.6 868.9L230.8 868.8L233.9 871.7L237.1 875.4L240.3 877.5L243.5 877.1L246.6 876.4L249.8 873.5L253 874.4L256.1 874.6L259.3 874.3L262.5 872.5L265.6 870.7L268.8 872.9L272 877.5L275.2 879.8L278.3 878.9L281.5 879.3L284.7 876.7L287.8 871.5L291 867.6L294.2 867.3L297.3 874.4L300.5 877.5L303.7 879.5L306.9 880L310 879L313.2 879L316.4 880.9L319.5 881L322.7 879.3L325.9 878.7L329 881.3L332.2 876.5L335.4 872.6L338.6 875L341.7 879.5L344.9 880.7L348.1 879L351.2 878.9L354.4 879.3L357.6 878.8L360.7 879L363.9 878.5L367.1 879.9L370.3 881.6L373.4 880.6L376.6 879.9L379.8 877.6L382.9 876.7L386.1 879.2L389.3 880.8L392.4 880.3L395.6 881.6L398.8 879.2L402 878.9L405.1 878.3L408.3 881L411.5 881.3L414.6 880.8L417.8 878.9L421 879.8L424.1 880.9L427.3 881.7L430.5 880.7L433.7 877.6L436.8 874.2L440 874.2L443.2 877.3L446.3 881.7L449.5 878.5L452.7 878.6L455.8 880.1L459 881.1L462.2 879.9L465.4 879.3L468.5 878.2L471.7 879.9L474.9 880.3L478 879.3L481.2 877.1L484.4 880.1L487.5 881.5L490.7 880L493.9 879.5L497.1 881L500.2 881.9L503.4 881L506.6 878.7L509.7 878.9L512.9 880.1L516.1 879.8L519.2 876.6L522.4 878.4L525.6 881.5L528.8 878.3L531.9 876.2L535.1 876.7L538.3 877.1L541.4 879.1L544.6 880.1L547.8 880.2L550.9 880L554.1 880.5L557.3 881.6L560.5 881.2L563.6 880.3L566.8 880L568.1 880.9" stroke="#40cd3c"/>
<path d="M100.8 882.9L104 882.7L107.1 882.8L110.3 882.7L113.5 882.8L116.7 882.7L119.8 882.6L123 882.6L126.2 881.6L129.3 878.4L132.5 874L135.7 874.4L138.8 879L142 882.2L145.2 883L148.4 883L151.5 882.9L154.7 882.9L157.9 883L161 882.4L164.2 877.8L167.4 858.8L170.5 833.2L173.7 825.5L176.9 846.4L180.1 869.6L183.2 877.9L186.4 877.6L189.6 875.9L192.7 874.4L195.9 875.8L199.1 878.1L202.2 877.2L205.4 869.2L208.6 857L211.8 848L214.9 847.8L218.1 864.1L221.3 874.7L224.4 877.6L227.6 876.8L230.8 873.3L233.9 876L237.1 879.7L240.3 879.5L243.5 879.3L246.6 876.1L249.8 868L253 863.3L256.1 868.1L259.3 871.7L262.5 876.1L265.6 877.3L268.8 880.3L272 877L275.2 873.5L278.3 873.2L281.5 877.3L284.7 879.4L287.8 878L291 874.3L294.2 873.8L297.3 878.2L300.5 877.8L303.7 877.5L306.9 878.8L310 880.2L313.2 880.6L316.4 880.2L319.5 880.7L322.7 881.5L325.9 880.4L329 881L332.2 878.2L335.4 879.2L338.6 881.4L341.7 881.5L344.9 878.3L348.1 875.2L351.2 878L354.4 881.5L357.6 880.5L360.7 881L363.9 880.7L367.1 881.2L370.3 881.3L373.4 881L376.6 881.2L379.8 879.7L382.9 879.5L386.1 880.3L389.3 881.6L392.4 878L395.6 876.4L398.8 875.9L402 877.7L405.1 880.2L408.3 881.7L411.5 881.2L414.6 881L417.8 878.6L421 878.8L424.1 879.6L427.3 880.8L430.5 881.7L433.7 879.3L436.8 877.8L440 877.2L443.2 876.7L446.3 876.8L449.5 876.9L452.7 880.2L455.8 881.8L459 880.4L462.2 877.8L465.4 875.4L468.5 876.7L471.7 877.9L474.9 877.3L478 877.9L481.2 877.2L484.4 878.2L487.5 880.6L490.7 881.3L493.9 881.3L497.1 881.6L500.2 880.1L503.4 880.3L506.6 880L509.7 881L512.9 880.9L516.1 881.5L519.2 880.5L522.4 880.8L525.6 879L528.8 879.4L531.9 879.9L535.1 880.6L538.3 881.3L541.4 881.3L544.6 880.7L547.8 880L550.9 879.8L554.1 880.3L557.3 880.8L560.5 881.1L563.6 881.7L566.8 880.4L568.1 880" stroke="#f14334"/>
<path d="M100.8 882.8L104 882.6L107.1 882.7L110.3 882.8L113.5 883.1L116.7 882.7L119.8 882.6L123 882.1L126.2 879.7L129.3 873.2L132.5 869.3L135.7 873.2L138.8 879.5L142 882.4L145.2 882.7L148.4 882.9L151.5 883L154.7 882.9L157.9 882.7L161 881L164.2 872.7L167.4 849.1L170.5 816.1L173.7 800L176.9 818.6L180.1 851.8L183.2 868.4L186.4 874.6L189.6 879.1L192.7 877.3L195.9 876.1L199.1 877.5L202.2 880.6L205.4 875.6L208.6 867.2L211.8 858.4L214.9 861.8L218.1 874.6L221.3 878L224.4 875.9L227.6 876.4L230.8 876.2L233.9 877.6L237.1 880.1L240.3 880.8L243.5 878.6L246.6 877L249.8 875L253 874.3L256.1 876.1L259.3 879.8L262.5 880L265.6 879L268.8 881.2L272 879.3L275.2 878.7L278.3 877.2L281.5 876.4L284.7 873.5L287.8 871L291 869.3L294.2 870.3L297.3 875.3L300.5 879.9L303.7 881.4L306.9 880.2L310 875.8L313.2 871.4L316.4 872.2L319.5 873.2L322.7 875.8L325.9 879.8L329 879.9L332.2 880.3L335.4 880L338.6 881.5L341.7 878.4L344.9 879.3L348.1 876.8L351.2 876.6L354.4 880.1L357.6 880.7L360.7 878.9L363.9 878.1L367.1 880.9L370.3 880.4L373.4 881.6L376.6 881.5L379.8 880L382.9 879.9L386.1 881.2L389.3 880.1L392.4 878.6L395.6 878.3L398.8 876.9L402 880.4L405.1 878.2L408.3 878.1L411.5 880.6L414.6 880.7L417.8 880L421 881L424.1 881.3L427.3 879.5L430.5 878.6L433.7 878.2L436.8 881.5L440 877L443.2 873L446.3 873.6L449.5 876.4L452.7 876.6L455.8 878.5L459 880.9L462.2 880.3L465.4 879L468.5 878.6L471.7 876.4L474.9 877.7L478 879.9L481.2 881.7L484.4 879L487.5 879.2L490.7 880.7L493.9 881.7L497.1 881.5L500.2 880.1L503.4 878.3L506.6 876.4L509.7 878.3L512.9 879.7L516.1 881.8L519.2 881.1L522.4 881.3L525.6 880.8L528.8 880.9L531.9 881.4L535.1 881.9L538.3 881.4L541.4 882L544.6 880.9L547.8 881.4L550.9 881.4L554.1 880L557.3 881.1L560.5 881.4L563.6 879L566.8 878.4L568.1 879.1" stroke="#5fdfd2"/>
<path d="M100.8 882.8L104 882.7L107.1 882.7L110.3 883L113.5 883L116.7 882.9L119.8 882.6L123 882.6L126.2 881.5L129.3 877.4L132.5 872.1L135.7 872.7L138.8 878.2L142 881.8L145.2 882.9L148.4 882.9L151.5 883.1L154.7 883.1L157.9 882.8L161 882.1L164.2 877L167.4 853.6L170.5 831.1L173.7 828.1L176.9 845.9L180.1 864.2L183.2 877L186.4 880.6L189.6 877.5L192.7 874.2L195.9 877.9L199.1 879.5L202.2 874.5L205.4 868.9L208.6 858.8L211.8 845.6L214.9 848.1L218.1 861.7L221.3 872.9L224.4 875.5L227.6 877.3L230.8 877.1L233.9 878.3L237.1 880.1L240.3 878L243.5 874.7L246.6 873.8L249.8 875.6L253 873.8L256.1 875.5L259.3 878.7L262.5 879.7L265.6 879.6L268.8 880.9L272 878.6L275.2 876.3L278.3 874.6L281.5 878.3L284.7 880.2L287.8 877.6L291 875.2L294.2 874.5L297.3 874.7L300.5 876.7L303.7 878.7L306.9 879.6L310 879.2L313.2 875.5L316.4 872.4L319.5 871.4L322.7 875.1L325.9 879.7L329 878.9L332.2 878.3L335.4 880.3L338.6 877.2L341.7 876L344.9 880.3L348.1 881.5L351.2 878.5L354.4 875.2L357.6 878.5L360.7 881.2L363.9 879.8L367.1 880L370.3 881L373.4 880.9L376.6 878.5L379.8 875.9L382.9 875.2L386.1 879L389.3 880.1L392.4 879.8L395.6 881.6L398.8 878.9L402 878.5L405.1 878.4L408.3 881L411.5 881.6L414.6 881.4L417.8 880.6L421 879.3L424.1 878.1L427.3 877.4L430.5 877.5L433.7 877.8L436.8 878L440 878.5L443.2 880.1L446.3 880L449.5 878.5L452.7 878.6L455.8 879.5L459 881.6L462.2 880.4L465.4 881.9L468.5 881.3L471.7 879.4L474.9 877.6L478 878.3L481.2 881L484.4 880.8L487.5 879.5L490.7 877.3L493.9 876.2L497.1 878.4L500.2 881.1L503.4 878.5L506.6 877.9L509.7 878.6L512.9 880.8L516.1 881L519.2 880.7L522.4 881.7L525.6 881.3L528.8 881.8L531.9 880.1L535.1 879.2L538.3 879.8L541.4 879.4L544.6 879.6L547.8 879.1L550.9 877.6L554.1 880.5L557.3 880.7L560.5 878.3L563.6 878.6L566.8 880.5L568.1 878.2" stroke="#67c936"/>
<path d="M100.8 883L104 883.1L107.1 883.1L110.3 883.1L113.5 883L116.7 883.1L119.8 883.1L123 882.9L126.2 882.3L129.3 879.8L132.5 874.5L135.7 873.2L138.8 877.4L142 881.7L145.2 883L148.4 883L151.5 882.9L154.7 882.8L157.9 882.8L161 881.7L164.2 876.4L167.4 853.5L170.5 827.5L173.7 813.6L176.9 827.7L180.1 852.7L183.2 868.5L186.4 878.8L189.6 881.1L192.7 880.1L195.9 880.8L199.1 876.2L202.2 878.3L205.4 875.1L208.6 863.9L211.8 855.7L214.9 861.4L218.1 869.8L221.3 875.8L224.4 874.9L227.6 876L230.8 879.4L233.9 879.1L237.1 875L240.3 875.8L243.5 877.4L246.6 877.2L249.8 872.1L253 870.5L256.1 874.1L259.3 875.1L262.5 876.4L265.6 878L268.8 877.7L272 876.1L275.2 874.1L278.3 876.5L281.5 878.9L284.7 878.8L287.8 875.8L291 876.1L294.2 875.8L297.3 878.3L300.5 879.4L303.7 881.2L306.9 879.5L310 879.3L313.2 881L316.4 880.6L319.5 881.1L322.7 879.8L325.9 878.9L329 881.5L332.2 879.3L335.4 878.8L338.6 881.6L341.7 877.5L344.9 875.5L348.1 874.3L351.2 875.9L354.4 876.9L357.6 876.6L360.7 877.3L363.9 878.6L367.1 880.4L370.3 877.7L373.4 878.1L376.6 879.4L379.8 881.4L382.9 880.4L386.1 881.3L389.3 880.4L392.4 881L395.6 881.7L398.8 880.8L402 880.9L405.1 880.1L408.3 881.6L411.5 879.8L414.6 879.6L417.8 878.9L421 879.7L424.1 878.8L427.3 876.9L430.5 876.5L433.7 877.6L436.8 880.9L440 879.8L443.2 881L446.3 880.5L449.5 879.7L452.7 880.2L455.8 881.6L459 881.1L462.2 879.5L465.4 878.1L468.5 880.4L471.7 881.3L474.9 879L478 874.8L481.2 874.2L484.4 876.7L487.5 881.7L490.7 877.8L493.9 879.1L497.1 881.9L500.2 881.6L503.4 879.5L506.6 878.6L509.7 877.6L512.9 878.8L516.1 880.9L519.2 879.8L522.4 878.6L525.6 879.2L528.8 880.1L531.9 879L535.1 880.7L538.3 881.9L541.4 880.1L544.6 877.8L547.8 876.4L550.9 878.9L554.1 881.8L557.3 877.8L560.5 877.5L563.6 881.6L566.8 880.5L568.1 880.2" stroke="#ebe619"/>
<path d="M100.8 883L104 882.9L107.1 882.8L110.3 882.9L113.5 883L116.7 882.9L119.8 882.9L123 882.7L126.2 881.7L129.3 877.6L132.5 872.2L135.7 873.9L138.8 879.9L142 882.3L145.2 882.9L148.4 883.1L151.5 882.7L154.7 882.6L157.9 882.8L161 881.6L164.2 874.9L167.4 845.1L170.5 815L173.7 807.9L176.9 831.4L180.1 861.5L183.2 877.7L186.4 880.1L189.6 880.6L192.7 877.9L195.9 879.9L199.1 878.3L202.2 877L205.4 876.7L208.6 870.5L211.8 857.2L214.9 853.3L218.1 863.8L221.3 875.2L224.4 877.5L227.6 873.7L230.8 872.4L233.9 873.8L237.1 878.8L240.3 879.2L243.5 876.5L246.6 877.8L249.8 877.1L253 875.9L256.1 875.1L259.3 877.4L262.5 880.1L265.6 880L268.8 878.8L272 879.2L275.2 880.2L278.3 878.8L281.5 874.7L284.7 874.8L287.8 876.9L291 876.8L294.2 877.1L297.3 878.4L300.5 878L303.7 876.7L306.9 875.9L310 878.3L313.2 881.2L316.4 879.4L319.5 878.1L322.7 879.5L325.9 880L329 881.5L332.2 880.8L335.4 879.2L338.6 880.5L341.7 880.6L344.9 878.2L348.1 873.8L351.2 871L354.4 871.7L357.6 874.5L360.7 876.5L363.9 876.7L367.1 876.9L370.3 878.6L373.4 880.8L376.6 879.7L379.8 878.7L382.9 879.9L386.1 880L389.3 879.7L392.4 878.7L395.6 879.9L398.8 880.2L402 879.3L405.1 880.2L408.3 879.2L411.5 881.1L414.6 879.2L417.8 879.7L421 881.4L424.1 879.5L427.3 876.5L430.5 878.1L433.7 880.9L436.8 879.7L440 878.9L443.2 879.3L446.3 881.4L449.5 880.1L452.7 880.2L455.8 879L459 881.6L462.2 881.2L465.4 881.8L468.5 880.6L471.7 878.7L474.9 881.7L478 881.2L481.2 880.9L484.4 880.9L487.5 880.2L490.7 881.5L493.9 879.1L497.1 877.2L500.2 875.7L503.4 877L506.6 881.3L509.7 880L512.9 880.4L516.1 880.6L519.2 881.9L522.4 880L525.6 878.6L528.8 880.1L531.9 881.1L535.1 881.1L538.3 880L541.4 878.2L544.6 878.6L547.8 879.8L550.9 878.8L554.1 878.7L557.3 877.8L560.5 876.6L563.6 877.9L566.8 881.8L568.1 879.8" stroke="#e4d144"/>
<path d="M100.8 882.8L104 882.8L107.1 883L110.3 883.2L113.5 883.1L116.7 882.8L119.8 882.7L123 882.8L126.2 882L129.3 878.3L132.5 872.9L135.7 874L138.8 879.5L142 882.4L145.2 882.9L148.4 882.7L151.5 882.7L154.7 882.6L157.9 882.7L161 881.4L164.2 874.6L167.4 855.2L170.5 830.2L173.7 820.3L176.9 834.5L180.1 857.1L183.2 875.9L186.4 875L189.6 877.5L192.7 877.8L195.9 880.5L199.1 878.8L202.2 880.9L205.4 873.3L208.6 865.7L211.8 852.3L214.9 850.4L218.1 863.8L221.3 874.3L224.4 879.8L227.6 878L230.8 877.5L233.9 879.9L237.1 880.9L240.3 876.3L243.5 876.6L246.6 877.1L249.8 871.5L253 869.4L256.1 873.9L259.3 878.3L262.5 875.9L265.6 875.9L268.8 873.6L272 875.9L275.2 876.2L278.3 877.8L281.5 880.3L284.7 880.4L287.8 877.1L291 872.3L294.2 869.2L297.3 874.6L300.5 877.6L303.7 874.6L306.9 874.8L310 878.7L313.2 881.5L316.4 878.6L319.5 877.9L322.7 876.1L325.9 878.2L329 881.5L332.2 880.8L335.4 881.3L338.6 875.8L341.7 875.6L344.9 877.4L348.1 881L351.2 878.9L354.4 880L357.6 880.9L360.7 880.5L363.9 880.6L367.1 880.3L370.3 881.1L373.4 880.3L376.6 879.6L379.8 878.9L382.9 879.6L386.1 877.9L389.3 881L392.4 880.9L395.6 879.4L398.8 875.8L402 876.1L405.1 876.2L408.3 876.3L411.5 878.5L414.6 877.7L417.8 876.9L421 880.5L424.1 880.5L427.3 877.3L430.5 876.3L433.7 879.7L436.8 879.9L440 878.5L443.2 877L446.3 874.9L449.5 876.7L452.7 878.2L455.8 878.9L459 879.3L462.2 877.2L465.4 877.2L468.5 876.8L471.7 877.5L474.9 877.9L478 877.5L481.2 881.4L484.4 880.6L487.5 879L490.7 879.1L493.9 880.2L497.1 879L500.2 878.3L503.4 878.2L506.6 880.8L509.7 881.6L512.9 878.9L516.1 879.6L519.2 880.8L522.4 881.3L525.6 880.7L528.8 881.2L531.9 882L535.1 881.6L538.3 881.6L541.4 880.7L544.6 878.7L547.8 879.8L550.9 881.3L554.1 880.2L557.3 880.9L560.5 880L563.6 880.6L566.8 880.7L568.1 879.3" stroke="#db6274"/>
<path d="M100.8 883.2L104 883L107.1 883L110.3 882.8L113.5 882.6L116.7 882.6L119.8 882.8L123 883L126.2 882.5L129.3 879.5L132.5 872.7L135.7 870.7L138.8 876.5L142 881.4L145.2 883L148.4 882.8L151.5 882.7L154.7 882.7L157.9 882.7L161 882.2L164.2 877.8L167.4 857.8L170.5 826.2L173.7 808L176.9 827.3L180.1 860.6L183.2 876.1L186.4 878.3L189.6 875.1L192.7 871.7L195.9 870.1L199.1 872.6L202.2 876L205.4 873.7L208.6 858.2L211.8 847.4L214.9 847.1L218.1 860.4L221.3 873.6L224.4 880.5L227.6 880.5L230.8 880.3L233.9 880.5L237.1 880.7L240.3 877.5L243.5 875.9L246.6 868.5L249.8 865.6L253 863.4L256.1 867.6L259.3 875.9L262.5 879.5L265.6 881.1L268.8 880.9L272 879.3L275.2 878.2L278.3 879.9L281.5 881.1L284.7 875.5L287.8 871.8L291 871.8L294.2 874.4L297.3 878.4L300.5 877.7L303.7 879.6L306.9 876.7L310 874.9L313.2 875L316.4 877.8L319.5 877.5L322.7 880L325.9 881L329 878.7L332.2 880.9L335.4 880.7L338.6 880.1L341.7 877.8L344.9 876.2L348.1 875.6L351.2 877.5L354.4 881.4L357.6 878.7L360.7 877.5L363.9 878.7L367.1 879.3L370.3 878.3L373.4 879.6L376.6 881L379.8 881L382.9 879.6L386.1 879.8L389.3 879.2L392.4 879.2L395.6 881.7L398.8 879.5L402 877L405.1 879.6L408.3 879.7L411.5 877L414.6 877.2L417.8 880.9L421 880.3L424.1 876.9L427.3 877.4L430.5 879.2L433.7 881.4L436.8 879.3L440 881.8L443.2 880.2L446.3 879.7L449.5 880.9L452.7 881L455.8 880.9L459 878.5L462.2 879.5L465.4 880.7L468.5 880.9L471.7 880.5L474.9 881.8L478 881.4L481.2 881L484.4 880.3L487.5 881.1L490.7 878.4L493.9 875.6L497.1 875.1L500.2 879.7L503.4 881.8L506.6 880.1L509.7 881.5L512.9 881.3L516.1 881.3L519.2 879.3L522.4 878L525.6 879.5L528.8 881.8L531.9 878.7L535.1 880.6L538.3 881.9L541.4 881.8L544.6 880.9L547.8 880.4L550.9 881.6L554.1 881.8L557.3 880.9L560.5 880L563.6 880.3L566.8 880.9L568.1 881.1" stroke="#35d16a"/>
<path d="M100.8 883L104 882.9L107.1 883L110.3 883L113.5 883L116.7 883L119.8 883L123 882.9L126.2 881.4L129.3 876.1L132.5 870L135.7 871.1L138.8 877.8L142 882.1L145.2 883L148.4 883L151.5 882.9L154.7 883L157.9 883.1L161 882.3L164.2 877.7L167.4 858.1L170.5 837.5L173.7 831.9L176.9 849L180.1 869.8L183.2 878.6L186.4 876.9L189.6 874.4L192.7 872L195.9 870.7L199.1 873.4L202.2 875.1L205.4 873.1L208.6 866.3L211.8 857.3L214.9 857.4L218.1 869L221.3 874.9L224.4 880.7L227.6 877L230.8 879.9L233.9 879.7L237.1 878.3L240.3 879.1L243.5 877.4L246.6 872.1L249.8 866.5L253 866.7L256.1 869.3L259.3 874.8L262.5 879.5L265.6 880L268.8 879.9L272 879.9L275.2 878L278.3 879.4L281.5 880.2L284.7 876.1L287.8 872.1L291 872.7L294.2 874.4L297.3 878.4L300.5 877.9L303.7 878.3L306.9 879.1L310 879.7L313.2 880.1L316.4 881L319.5 879.2L322.7 877.9L325.9 875.6L329 876L332.2 878.2L335.4 879.5L338.6 880.7L341.7 878.7L344.9 880.2L348.1 878.3L351.2 878.3L354.4 876.2L357.6 875.5L360.7 877.3L363.9 878.9L367.1 880.6L370.3 880L373.4 874.9L376.6 875L379.8 877.7L382.9 881.4L386.1 878.8L389.3 879.7L392.4 880.1L395.6 881.5L398.8 879.1L402 879.5L405.1 880L408.3 881.4L411.5 880.2L414.6 880.9L417.8 879.5L421 879.7L424.1 881.1L427.3 879.6L430.5 878.5L433.7 878.3L436.8 878.6L440 877L443.2 877.2L446.3 877.9L449.5 881L452.7 880.3L455.8 880.6L459 881.1L462.2 881.4L465.4 881.6L468.5 881L471.7 881.5L474.9 881.7L478 880.7L481.2 880.4L484.4 880.7L487.5 880.9L490.7 880.2L493.9 879.1L497.1 878.9L500.2 880.2L503.4 881.7L506.6 881.8L509.7 881.7L512.9 881.4L516.1 882L519.2 880.8L522.4 878.3L525.6 878.7L528.8 878.9L531.9 879.5L535.1 879.6L538.3 878.2L541.4 879.3L544.6 878.2L547.8 878.6L550.9 878.6L554.1 879.5L557.3 881.5L560.5 880.8L563.6 880.7L566.8 881.2L568.1 881.5" stroke="#82f514"/>
<path d="M100.8 883L104 882.8L107.1 882.7L110.3 882.9L113.5 882.9L116.7 883L119.8 883L123 882.8L126.2 881.6L129.3 877.7L132.5 874.9L135.7 878L138.8 881.9L142 882.8L145.2 883L148.4 883.1L151.5 883.1L154.7 883L157.9 882.7L161 880L164.2 870.1L167.4 844.5L170.5 820.5L173.7 814.4L176.9 831.8L180.1 856.9L183.2 873.7L186.4 878.9L189.6 877.2L192.7 876.9L195.9 875.4L199.1 878.6L202.2 880.3L205.4 872.3L208.6 859.7L211.8 850.1L214.9 856.4L218.1 868L221.3 877L224.4 879.2L227.6 880.7L230.8 881.2L233.9 878.3L237.1 873.4L240.3 869.8L243.5 871.8L246.6 874.1L249.8 870.7L253 867.4L256.1 871.9L259.3 876.8L262.5 878.4L265.6 878.4L268.8 877.9L272 879.7L275.2 880.9L278.3 881L281.5 880.5L284.7 879.1L287.8 874.8L291 870.8L294.2 871.1L297.3 872.2L300.5 875.8L303.7 879.7L306.9 878.7L310 875.4L313.2 874.4L316.4 876.7L319.5 879L322.7 880.7L325.9 879.5L329 878.7L332.2 877.7L335.4 876.9L338.6 877.7L341.7 877.5L344.9 877.6L348.1 879.3L351.2 881.6L354.4 881.5L357.6 881.1L360.7 879.3L363.9 880.3L367.1 880.1L370.3 879.7L373.4 881L376.6 878.8L379.8 877.1L382.9 876.4L386.1 877.3L389.3 879.1L392.4 880.1L395.6 879.1L398.8 877.1L402 876.7L405.1 878.8L408.3 879.7L411.5 878.3L414.6 876.5L417.8 876.1L421 878.3L424.1 881L427.3 879.1L430.5 880.6L433.7 880.2L436.8 880.9L440 880.3L443.2 877.7L446.3 879.6L449.5 881.5L452.7 880.1L455.8 878.4L459 878.8L462.2 879.5L465.4 879.5L468.5 876.7L471.7 872.3L474.9 872.5L478 875.1L481.2 876.8L484.4 878.7L487.5 880.2L490.7 881.7L493.9 881L497.1 879.6L500.2 878.9L503.4 877.8L506.6 879.3L509.7 880.7L512.9 881.6L516.1 880.4L519.2 877.4L522.4 877.8L525.6 878.3L528.8 880.4L531.9 880.4L535.1 880.4L538.3 880.2L541.4 879.4L544.6 879.6L547.8 878.4L550.9 879.8L554.1 880.6L557.3 881L560.5 881.3L563.6 880.1L566.8 879.1L568.1 879.6" stroke="#f01025"/>
<path d="M100.8 882.8L104 882.5L107.1 882.4L110.3 882.5L113.5 882.7L116.7 882.7L119.8 882.9L123 882.8L126.2 881.7L129.3 877.7L132.5 873.8L135.7 876.6L138.8 881.1L142 882.8L145.2 882.8L148.4 882.8L151.5 882.8L154.7 882.8L157.9 882.6L161 881.8L164.2 875.9L167.4 854.3L170.5 825.4L173.7 805.9L176.9 816.1L180.1 845.2L183.2 866.6L186.4 873.3L189.6 876.6L192.7 877.9L195.9 876.5L199.1 877.3L202.2 876.9L205.4 876.5L208.6 870L211.8 857.9L214.9 855L218.1 864.3L221.3 871.5L224.4 872.1L227.6 872.3L230.8 874.4L233.9 879.2L237.1 880.8L240.3 879.3L243.5 877.5L246.6 873.2L249.8 867.9L253 864.8L256.1 867.6L259.3 872.9L262.5 876.5L265.6 876.3L268.8 875.5L272 875.8L275.2 876.9L278.3 880L281.5 881.3L284.7 880.3L287.8 877L291 875.7L294.2 875.9L297.3 876.3L300.5 879.6L303.7 880.5L306.9 879.4L310 879.5L313.2 879.8L316.4 878L319.5 880.7L322.7 880.9L325.9 878.4L329 876.7L332.2 880.1L335.4 880.4L338.6 879.5L341.7 879.1L344.9 880.9L348.1 879.6L351.2 879L354.4 880.6L357.6 878.4L360.7 876L363.9 879.6L367.1 879.4L370.3 875.6L373.4 879L376.6 878.5L379.8 877.3L382.9 879.8L386.1 878.3L389.3 877.8L392.4 877.6L395.6 879.3L398.8 881.2L402 880.4L405.1 877.3L408.3 875.4L411.5 876.4L414.6 876L417.8 880.1L421 879.6L424.1 879.1L427.3 878.1L430.5 881.5L433.7 880.5L436.8 881.5L440 880L443.2 877.8L446.3 879L449.5 879.7L452.7 879.5L455.8 878.5L459 878.7L462.2 880.9L465.4 881L468.5 879.5L471.7 877.4L474.9 877.6L478 881.1L481.2 880.2L484.4 880.3L487.5 879.4L490.7 878.9L493.9 880.8L497.1 881.7L500.2 881.1L503.4 880.7L506.6 878.6L509.7 881.8L512.9 879.7L516.1 879.6L519.2 881.9L522.4 879.9L525.6 880.9L528.8 881.9L531.9 881.2L535.1 880.7L538.3 881.2L541.4 880.7L544.6 880.8L547.8 879.5L550.9 880.7L554.1 880.9L557.3 881.9L560.5 879.4L563.6 880L566.8 880.4L568.1 881" stroke="#a056d2"/>
<path d="M100.8 883L104 882.8L107.1 882.7L110.3 882.6L113.5 882.5L116.7 882.8L119.8 883L123 882.8L126.2 881L129.3 876L132.5 871.7L135.7 873.6L138.8 879.1L142 882.2L145.2 882.7L148.4 882.7L151.5 883L154.7 883L157.9 883.1L161 881.9L164.2 875.1L167.4 846.2L170.5 811.6L173.7 805L176.9 832.6L180.1 864.5L183.2 875.8L186.4 874.2L189.6 872.7L192.7 874.4L195.9 874.6L199.1 875.7L202.2 873.4L205.4 867.4L208.6 855.7L211.8 845.4L214.9 849.3L218.1 863.2L221.3 875.2L224.4 880.1L227.6 880.8L230.8 879.6L233.9 878.4L237.1 879L240.3 881L243.5 877.4L246.6 874.3L249.8 873.8L253 870.8L256.1 871.1L259.3 872.1L262.5 875.7L265.6 877L268.8 878.4L272 879.3L275.2 878.7L278.3 881.1L281.5 879.1L284.7 879.4L287.8 875.6L291 875.1L294.2 875L297.3 878.5L300.5 880.5L303.7 881.1L306.9 879.9L310 880.8L313.2 880.5L316.4 880L319.5 879.4L322.7 879.3L325.9 877.4L329 876.2L332.2 875.1L335.4 875.4L338.6 879.1L341.7 881.2L344.9 880.6L348.1 880.4L351.2 877.2L354.4 874.5L357.6 875.6L360.7 880L363.9 871.8L367.1 869.5L370.3 873.5L373.4 877L376.6 878.2L379.8 878.9L382.9 881.7L386.1 877.3L389.3 875.8L392.4 874.6L395.6 874.1L398.8 874.4L402 877.1L405.1 880.5L408.3 879.5L411.5 879.3L414.6 880L417.8 879.5L421 875.4L424.1 874.8L427.3 874.4L430.5 877.5L433.7 877.8L436.8 876.6L440 877.7L443.2 876.4L446.3 880.5L449.5 879.6L452.7 876.8L455.8 876.8L459 878L462.2 881.6L465.4 881.6L468.5 881.2L471.7 879L474.9 878.6L478 879.8L481.2 879.6L484.4 877.1L487.5 877.8L490.7 878.9L493.9 880.5L497.1 881L500.2 881.8L503.4 879.8L506.6 878.9L509.7 879L512.9 878.1L516.1 876.4L519.2 876.3L522.4 878.2L525.6 881.7L528.8 880.5L531.9 881.8L535.1 880.7L538.3 878.5L541.4 879.4L544.6 881.2L547.8 882.1L550.9 881.5L554.1 881.5L557.3 881.8L560.5 880.7L563.6 879.4L566.8 878.8L568.1 879.9" stroke="#40d15f"/>
<path d="M100.8 883L104 882.9L107.1 883L110.3 882.8L113.5 882.7L116.7 882.7L119.8 883.1L123 882.6L126.2 882L129.3 880.1L132.5 876.7L135.7 875.6L138.8 878.6L142 881.6L145.2 882.6L148.4 882.7L151.5 882.9L154.7 883.1L157.9 883L161 881.9L164.2 877.1L167.4 859.8L170.5 841.4L173.7 835.4L176.9 848.8L180.1 865.5L183.2 873.1L186.4 875.1L189.6 877.1L192.7 878.9L195.9 877.8L199.1 874.1L202.2 871.2L205.4 868.5L208.6 863.5L211.8 853.3L214.9 850.4L218.1 857.9L221.3 865.8L224.4 870.6L227.6 878.8L230.8 878.1L233.9 879.5L237.1 877.9L240.3 875.7L243.5 878.5L246.6 876.7L249.8 873.8L253 875.7L256.1 876.2L259.3 876.9L262.5 880.9L265.6 879.7L268.8 878.3L272 877.7L275.2 872.6L278.3 872L281.5 873.2L284.7 874.9L287.8 877.4L291 876.5L294.2 875.1L297.3 875.2L300.5 878.4L303.7 881L306.9 881.4L310 878.5L313.2 876.7L316.4 880.4L319.5 881.2L322.7 880.5L325.9 880.4L329 881.2L332.2 878.7L335.4 877.5L338.6 878.2L341.7 879.6L344.9 880.8L348.1 880.7L351.2 879.1L354.4 878L357.6 878.1L360.7 881.1L363.9 881.4L367.1 879.6L370.3 878.5L373.4 879.1L376.6 880L379.8 881.5L382.9 881.5L386.1 880.8L389.3 879.2L392.4 879.5L395.6 878.9L398.8 878.1L402 878.1L405.1 875.8L408.3 877.1L411.5 879.5L414.6 880.6L417.8 880.9L421 881.3L424.1 880.1L427.3 880.9L430.5 879.8L433.7 880.3L436.8 880.4L440 881.8L443.2 877.2L446.3 875.9L449.5 875.1L452.7 877.2L455.8 880.4L459 880.2L462.2 879.4L465.4 879.7L468.5 878.8L471.7 879.7L474.9 879.1L478 878.6L481.2 881.5L484.4 879.4L487.5 876.7L490.7 877.3L493.9 880.6L497.1 881.2L500.2 881.3L503.4 880.9L506.6 879L509.7 878.8L512.9 880.6L516.1 880.7L519.2 878.8L522.4 879.7L525.6 881.2L528.8 880.8L531.9 879.8L535.1 880.8L538.3 880.8L541.4 880.6L544.6 881.7L547.8 881L550.9 879.7L554.1 880.6L557.3 881.6L560.5 881L563.6 881L566.8 880.4L568.1 880.5" stroke="#5626f0"/>
<path d="M100.8 883.1L104 883.1L107.1 883.1L110.3 883.1L113.5 883L116.7 883.2L119.8 882.9L123 882.7L126.2 881.9L129.3 878.5L132.5 871.2L135.7 869L138.8 875.1L142 880.9L145.2 882.9L148.4 882.9L151.5 883L154.7 882.9L157.9 882L161 878L164.2 862.9L167.4 828.2L170.5 808.1L173.7 822.1L176.9 850.5L180.1 871.8L183.2 879.3L186.4 877.4L189.6 874.2L192.7 874.6L195.9 875.9L199.1 880L202.2 876.3L205.4 874.9L208.6 872.2L211.8 860.8L214.9 858.3L218.1 864.8L221.3 875.9L224.4 876.9L227.6 877.2L230.8 877.8L233.9 877.1L237.1 880.9L240.3 880.9L243.5 878.6L246.6 876L249.8 872.2L253 871.9L256.1 873L259.3 876.5L262.5 878.3L265.6 879.1L268.8 878L272 877.2L275.2 878.9L278.3 880.5L281.5 880.2L284.7 877.7L287.8 877.3L291 873.4L294.2 874.4L297.3 873.5L300.5 871.9L303.7 873.8L306.9 874L310 876.4L313.2 878.1L316.4 880.5L319.5 879.2L322.7 877.5L325.9 879.7L329 878.5L332.2 878.7L335.4 881.4L338.6 878.8L341.7 877.5L344.9 880.8L348.1 880.8L351.2 879.4L354.4 876.4L357.6 877.8L360.7 880L363.9 880L367.1 878.4L370.3 880.5L373.4 878.3L376.6 878.7L379.8 881.7L382.9 879.1L386.1 878.5L389.3 878.4L392.4 877.1L395.6 875.6L398.8 877.2L402 879.5L405.1 880.3L408.3 879.8L411.5 880L414.6 881.7L417.8 881.3L421 881.2L424.1 880.8L427.3 880.8L430.5 880.8L433.7 881.4L436.8 879.6L440 881.6L443.2 879.2L446.3 876L449.5 875.4L452.7 878.8L455.8 881.6L459 879.1L462.2 877.9L465.4 876.7L468.5 877.3L471.7 878.1L474.9 878.3L478 879.4L481.2 881.5L484.4 878.2L487.5 877.7L490.7 876.3L493.9 877.1L497.1 877.4L500.2 875.9L503.4 880.7L506.6 880.9L509.7 881.7L512.9 881.7L516.1 878.1L519.2 879.3L522.4 881.9L525.6 881.6L528.8 880.6L531.9 880.9L535.1 881.1L538.3 880.8L541.4 881.8L544.6 880.8L547.8 880.5L550.9 881.1L554.1 881.6L557.3 880.4L560.5 879.6L563.6 879.3L566.8 879.6L568.1 880.3" stroke="#a131d6"/>
<path d="M100.8 883L104 883L107.1 883.1L110.3 883L113.5 883L116.7 883.1L119.8 883.1L123 883L126.2 882L129.3 879.1L132.5 875.8L135.7 876.1L138.8 879.8L142 882.3L145.2 883L148.4 882.9L151.5 882.7L154.7 882.7L157.9 882.8L161 880.6L164.2 871.4L167.4 843.6L170.5 810.9L173.7 802.7L176.9 822.7L180.1 856.2L183.2 870.9L186.4 876.5L189.6 878.1L192.7 880.6L195.9 874.9L199.1 872.5L202.2 871.5L205.4 872.8L208.6 873.3L211.8 859.8L214.9 851.8L218.1 859.8L221.3 872.5L224.4 876.9L227.6 876.5L230.8 880.4L233.9 879.3L237.1 878.3L240.3 878.5L243.5 876.5L246.6 869.4L249.8 863.9L253 863L256.1 868.3L259.3 875.1L262.5 878L265.6 881.1L268.8 881.4L272 879.8L275.2 877.3L278.3 875.6L281.5 877.8L284.7 873.5L287.8 870.5L291 870.2L294.2 874.8L297.3 877.4L300.5 877.4L303.7 880.4L306.9 880.9L310 877.5L313.2 876.2L316.4 880.4L319.5 880.5L322.7 880.7L325.9 881.5L329 875.8L332.2 877.5L335.4 879.7L338.6 879.1L341.7 880.9L344.9 879.3L348.1 879L351.2 880.4L354.4 879.8L357.6 880.9L360.7 880.8L363.9 881.4L367.1 878.8L370.3 879.5L373.4 881.5L376.6 879.3L379.8 879.7L382.9 881.3L386.1 880.8L389.3 880.7L392.4 879.5L395.6 881.4L398.8 878.9L402 879.4L405.1 879.7L408.3 879.6L411.5 878.9L414.6 879.1L417.8 881.7L421 878.9L424.1 877.4L427.3 879.4L430.5 881.5L433.7 879.7L436.8 879L440 880L443.2 881.3L446.3 878.2L449.5 878L452.7 878.1L455.8 880L459 881.1L462.2 879.8L465.4 879.1L468.5 880.5L471.7 880.8L474.9 880.8L478 881.8L481.2 879.1L484.4 878.5L487.5 878.4L490.7 871.7L493.9 869.1L497.1 873.9L500.2 875.6L503.4 879.7L506.6 880L509.7 878.2L512.9 876.6L516.1 876.7L519.2 878.5L522.4 881.6L525.6 880.8L528.8 880.4L531.9 881.9L535.1 880.1L538.3 878.9L541.4 881.1L544.6 879.5L547.8 879.1L550.9 880.2L554.1 880.9L557.3 879.7L560.5 881.1L563.6 882L566.8 880.9L568.1 880.2" stroke="#e459c2"/>
<path d="M100.8 883L104 882.9L107.1 883L110.3 883L113.5 883.1L116.7 883L119.8 883.1L123 883.1L126.2 882.6L129.3 879.1L132.5 872L135.7 871.3L138.8 878.1L142 881.9L145.2 882.8L148.4 883.1L151.5 883.2L154.7 883L157.9 883.1L161 882.5L164.2 880.4L167.4 862.7L170.5 843.3L173.7 826.1L176.9 830.6L180.1 852.8L183.2 865.2L186.4 872.7L189.6 880.9L192.7 872.1L195.9 870.6L199.1 875.6L202.2 879.8L205.4 872.5L208.6 863L211.8 854.2L214.9 856.6L218.1 870L221.3 877.4L224.4 876.4L227.6 875.8L230.8 874.2L233.9 874.7L237.1 879.1L240.3 878.1L243.5 873L246.6 870.9L249.8 868.2L253 865L256.1 868.8L259.3 875.1L262.5 872.7L265.6 871.5L268.8 873L272 877.1L275.2 880.7L278.3 880.5L281.5 879.2L284.7 878.4L287.8 872.6L291 869L294.2 872.4L297.3 875.4L300.5 877.3L303.7 879.4L306.9 877.5L310 878.9L313.2 879.1L316.4 880.9L319.5 876.6L322.7 875.7L325.9 876.3L329 876.7L332.2 877.7L335.4 877L338.6 875.6L341.7 878.8L344.9 881.1L348.1 880.4L351.2 880.8L354.4 877.8L357.6 878.5L360.7 880.3L363.9 880.2L367.1 879.8L370.3 881.5L373.4 880.6L376.6 879.5L379.8 877.1L382.9 877.6L386.1 878.7L389.3 880.6L392.4 879.3L395.6 881.2L398.8 879.7L402 881.6L405.1 881.6L408.3 880.6L411.5 880L414.6 878.9L417.8 878.2L421 879.5L424.1 880.4L427.3 881.7L430.5 880.8L433.7 878.1L436.8 877L440 877.2L443.2 880.6L446.3 880.8L449.5 880.3L452.7 878.3L455.8 876.6L459 878.6L462.2 881.3L465.4 878.9L468.5 876.2L471.7 877.2L474.9 877.2L478 880L481.2 879.9L484.4 878.6L487.5 879.4L490.7 880.1L493.9 881.5L497.1 880L500.2 880.6L503.4 882L506.6 881.1L509.7 880.4L512.9 879.7L516.1 879.6L519.2 878.1L522.4 879.5L525.6 881.2L528.8 881.1L531.9 881.2L535.1 880.7L538.3 879.4L541.4 877.1L544.6 877.7L547.8 877.4L550.9 878L554.1 879.8L557.3 881.1L560.5 882L563.6 880L566.8 879.7L568.1 879.6" stroke="#a034e4"/>
<path d="M100.8 882.7L104 882.5L107.1 882.5L110.3 882.7L113.5 883.2L116.7 882.7L119.8 882.7L123 882.6L126.2 881.5L129.3 877.3L132.5 873.2L135.7 874.6L138.8 879.4L142 882.3L145.2 883.1L148.4 882.9L151.5 882.5L154.7 882.4L157.9 882.5L161 881.4L164.2 874.5L167.4 849.5L170.5 830.9L173.7 831.7L176.9 849.4L180.1 867.2L183.2 875.8L186.4 872.9L189.6 873.9L192.7 873.7L195.9 873.6L199.1 874.6L202.2 873.7L205.4 872.9L208.6 862.4L211.8 856.1L214.9 860.9L218.1 867.6L221.3 869.4L224.4 873.5L227.6 877.3L230.8 878.9L233.9 879.3L237.1 878.1L240.3 877.2L243.5 877.1L246.6 877.1L249.8 872.1L253 871.4L256.1 873.4L259.3 877.2L262.5 880L265.6 881.1L268.8 879.9L272 878.9L275.2 880.1L278.3 881.3L281.5 880.3L284.7 878.8L287.8 875.3L291 873.5L294.2 873.8L297.3 876L300.5 878.2L303.7 880.8L306.9 879.9L310 877.6L313.2 878.3L316.4 880.6L319.5 880.2L322.7 879.4L325.9 881.6L329 879.9L332.2 880.7L335.4 881L338.6 880.1L341.7 880.1L344.9 880.6L348.1 881.5L351.2 881L354.4 879.1L357.6 879.1L360.7 881L363.9 879.8L367.1 881.6L370.3 880.6L373.4 877.9L376.6 877.1L379.8 877.3L382.9 877.3L386.1 876.2L389.3 873.8L392.4 878L395.6 880.6L398.8 878.7L402 875.8L405.1 875.8L408.3 875.4L411.5 879.1L414.6 879.5L417.8 881.7L421 879.3L424.1 879L427.3 878.8L430.5 880.2L433.7 878.2L436.8 881.3L440 880.2L443.2 880.8L446.3 881.3L449.5 878.2L452.7 878.3L455.8 878.5L459 879.6L462.2 881.1L465.4 879.6L468.5 877.9L471.7 875.8L474.9 876.9L478 880L481.2 881.6L484.4 881.8L487.5 879.9L490.7 879.9L493.9 879.7L497.1 878.9L500.2 879.2L503.4 878.6L506.6 881.6L509.7 880.7L512.9 881.2L516.1 881.5L519.2 881.4L522.4 882L525.6 881.9L528.8 879.5L531.9 877.5L535.1 877.2L538.3 877.9L541.4 881.4L544.6 881.8L547.8 880L550.9 879.1L554.1 878.5L557.3 877.9L560.5 879.3L563.6 880.4L566.8 882L568.1 880.9" stroke="#3483d3"/>
<path d="M100.8 882.9L104 883L107.1 882.9L110.3 882.8L113.5 883L116.7 883.1L119.8 882.7L123 882.1L126.2 879.8L129.3 873.6L132.5 868.5L135.7 871.7L138.8 878.6L142 882.3L145.2 883L148.4 883L151.5 883L154.7 883L157.9 882.9L161 882.3L164.2 876.9L167.4 851.8L170.5 819.7L173.7 808.1L176.9 827.9L180.1 859L183.2 874.9L186.4 879.3L189.6 881.2L192.7 879.8L195.9 879.7L199.1 879.4L202.2 878.8L205.4 877.3L208.6 870.9L211.8 860.8L214.9 862.3L218.1 870.4L221.3 877.9L224.4 880.9L227.6 881L230.8 879.2L233.9 876.6L237.1 878.5L240.3 879.3L243.5 879.6L246.6 879.2L249.8 875.8L253 875L256.1 876.6L259.3 878.8L262.5 880.7L265.6 879.5L268.8 881.4L272 879.1L275.2 876.9L278.3 877.3L281.5 880.7L284.7 876.3L287.8 872.1L291 871.4L294.2 873.9L297.3 875.5L300.5 875.7L303.7 878.4L306.9 881.4L310 881L313.2 880.4L316.4 879.5L319.5 879.9L322.7 879.4L325.9 880.5L329 876.9L332.2 879.1L335.4 879.9L338.6 880.9L341.7 881.1L344.9 881.3L348.1 881L351.2 881.3L354.4 881L357.6 880.7L360.7 879.2L363.9 878.5L367.1 880.8L370.3 881.3L373.4 881.5L376.6 879.6L379.8 880.5L382.9 880.6L386.1 879.2L389.3 876.1L392.4 877.3L395.6 877.9L398.8 880.7L402 878.4L405.1 879.9L408.3 881.7L411.5 879.8L414.6 878.7L417.8 881.3L421 881.8L424.1 881.3L427.3 879.9L430.5 878.8L433.7 880L436.8 881.4L440 881.6L443.2 879.6L446.3 879.1L449.5 880.6L452.7 879.7L455.8 877.3L459 878L462.2 880.2L465.4 881.2L468.5 879.1L471.7 876.7L474.9 877.9L478 881.6L481.2 879.7L484.4 877.5L487.5 878.1L490.7 878.9L493.9 879.6L497.1 881.7L500.2 881.9L503.4 880.9L506.6 880.8L509.7 880.7L512.9 880.5L516.1 880.2L519.2 881.2L522.4 880.9L525.6 879.2L528.8 878.1L531.9 879.4L535.1 879.4L538.3 878.7L541.4 877.8L544.6 878L547.8 881L550.9 881.9L554.1 879.9L557.3 879L560.5 881.2L563.6 881.6L566.8 881.2L568.1 881.2" stroke="#50de60"/>
<path d="M100.8 882.8L104 882.9L107.1 883L110.3 883.1L113.5 883.1L116.7 883.1L119.8 883.1L123 883L126.2 882L129.3 878.7L132.5 875.3L135.7 876L138.8 879.8L142 882.3L145.2 883L148.4 883L151.5 883.1L154.7 882.9L157.9 882.9L161 882.4L164.2 877.5L167.4 856.3L170.5 819.2L173.7 801.9L176.9 825.6L180.1 859.2L183.2 876.3L186.4 879.8L189.6 877.1L192.7 878.7L195.9 880.3L199.1 874.8L202.2 871.8L205.4 870.1L208.6 865.5L211.8 854.4L214.9 852.3L218.1 865L221.3 876.5L224.4 880.3L227.6 881.1L230.8 879.4L233.9 879.5L237.1 879.3L240.3 879.3L243.5 880.3L246.6 879.2L249.8 876.9L253 871.7L256.1 869L259.3 870.2L262.5 873.4L265.6 878.2L268.8 880.5L272 877.5L275.2 877.7L278.3 879.1L281.5 879.3L284.7 878.1L287.8 873.9L291 871.7L294.2 871.9L297.3 872.4L300.5 874.2L303.7 877.6L306.9 879.5L310 879.4L313.2 876.2L316.4 876.3L319.5 877.1L322.7 879L325.9 879.8L329 880.6L332.2 879.8L335.4 879.7L338.6 879.1L341.7 878.5L344.9 880.1L348.1 880L351.2 881.5L354.4 878.4L357.6 877.4L360.7 879.6L363.9 880.3L367.1 875.3L370.3 875.4L373.4 878.2L376.6 881.3L379.8 879.6L382.9 877.8L386.1 876.2L389.3 873.7L392.4 875.4L395.6 878.1L398.8 880.3L402 878L405.1 881.3L408.3 880.6L411.5 880.9L414.6 880.2L417.8 879.3L421 876.2L424.1 876.8L427.3 874.1L430.5 877.2L433.7 880.6L436.8 876.4L440 875.1L443.2 877.4L446.3 879.6L449.5 881.4L452.7 880.4L455.8 881.4L459 881.7L462.2 880.7L465.4 879.9L468.5 878.3L471.7 879.7L474.9 881.2L478 880.2L481.2 880.6L484.4 879.8L487.5 880.6L490.7 877.6L493.9 877.7L497.1 878.9L500.2 881.9L503.4 881.3L506.6 881.1L509.7 880.3L512.9 880.3L516.1 880.2L519.2 878.6L522.4 877.3L525.6 877.1L528.8 877.4L531.9 879.2L535.1 879.1L538.3 877.4L541.4 875.7L544.6 874.2L547.8 875.6L550.9 878.6L554.1 880.7L557.3 881.5L560.5 881L563.6 881.3L566.8 880.4L568.1 880.6" stroke="#422df2"/>
<path d="M100.8 883.1L104 883L107.1 883L110.3 882.9L113.5 883.1L116.7 883.1L119.8 883.1L123 883L126.2 882.2L129.3 879.4L132.5 874.4L135.7 872.6L138.8 876.3L142 880.8L145.2 882.5L148.4 883.1L151.5 883.1L154.7 882.8L157.9 882.2L161 878.9L164.2 865.9L167.4 833.6L170.5 807L173.7 803.7L176.9 830.6L180.1 858.9L183.2 876.2L186.4 876.7L189.6 877.4L192.7 881.1L195.9 879.4L199.1 877.9L202.2 876.9L205.4 877.1L208.6 871.8L211.8 861L214.9 859.2L218.1 870.2L221.3 877.2L224.4 880.1L227.6 880.5L230.8 876.8L233.9 875.5L237.1 875.6L240.3 879.3L243.5 877.7L246.6 874L249.8 869L253 868.5L256.1 871.4L259.3 877.9L262.5 878.1L265.6 877.7L268.8 878.9L272 880.9L275.2 880.9L278.3 881.2L281.5 878.9L284.7 876.5L287.8 877.2L291 877L294.2 876.7L297.3 876.5L300.5 873.3L303.7 873.7L306.9 875.8L310 875.6L313.2 872.6L316.4 868.8L319.5 869.3L322.7 873.5L325.9 878L329 878L332.2 879.3L335.4 879.2L338.6 880.6L341.7 879.4L344.9 878.8L348.1 878.3L351.2 877.8L354.4 881.5L357.6 881.1L360.7 880L363.9 879.7L367.1 879.5L370.3 877.1L373.4 877.6L376.6 880.1L379.8 881.2L382.9 879.9L386.1 879.6L389.3 878.9L392.4 880.3L395.6 880.6L398.8 880.3L402 880L405.1 876.9L408.3 877.6L411.5 877.4L414.6 879.7L417.8 881L421 880.2L424.1 880.7L427.3 881.3L430.5 879.4L433.7 879.7L436.8 880.1L440 879.6L443.2 876.6L446.3 879.3L449.5 880.8L452.7 879.8L455.8 878.3L459 879.6L462.2 878.7L465.4 880.3L468.5 880.8L471.7 879.8L474.9 879.6L478 880.1L481.2 880.8L484.4 881.6L487.5 881.9L490.7 881.6L493.9 880.8L497.1 880.5L500.2 881.1L503.4 880.7L506.6 878.1L509.7 878L512.9 879.1L516.1 880.5L519.2 881.6L522.4 881.6L525.6 880.9L528.8 881.6L531.9 880.6L535.1 879.6L538.3 878.6L541.4 879.4L544.6 881.4L547.8 880.3L550.9 878.5L554.1 878.1L557.3 879L560.5 879.7L563.6 879.9L566.8 881.8L568.1 881" stroke="#5cdb68"/>
<path d="M100.8 882.9L104 883L107.1 883.1L110.3 882.9L113.5 883.1L116.7 883.1L119.8 883.1L123 883.1L126.2 881.7L129.3 877.1L132.5 871.6L135.7 874.2L138.8 880.3L142 882.8L145.2 883.1L148.4 883L151.5 882.9L154.7 882.8L157.9 882.7L161 881.4L164.2 874.6L167.4 852.7L170.5 820.6L173.7 801.3L176.9 810.6L180.1 840.1L183.2 863.8L186.4 875.4L189.6 879.5L192.7 876.4L195.9 878.5L199.1 880L202.2 877.2L205.4 873.6L208.6 867.4L211.8 859.6L214.9 858.2L218.1 862.3L221.3 871.1L224.4 878.8L227.6 878.9L230.8 876.7L233.9 877.6L237.1 879.8L240.3 879.8L243.5 880.1L246.6 876L249.8 874.3L253 871.6L256.1 871.2L259.3 877.8L262.5 878.5L265.6 878.2L268.8 878.2L272 879L275.2 879.8L278.3 878L281.5 876.7L284.7 873.2L287.8 873.3L291 876.5L294.2 876.5L297.3 879.6L300.5 880.9L303.7 881.2L306.9 880.1L310 881.3L313.2 879.5L316.4 879.5L319.5 879.2L322.7 880.9L325.9 881L329 880.9L332.2 879.2L335.4 879.6L338.6 878.1L341.7 877.8L344.9 877.1L348.1 875.3L351.2 874.8L354.4 875.8L357.6 878.4L360.7 880L363.9 879.8L367.1 879.4L370.3 881L373.4 879.8L376.6 877.8L379.8 878L382.9 879.9L386.1 881L389.3 881L392.4 880.7L395.6 879.5L398.8 878.2L402 876.8L405.1 876.3L408.3 877.8L411.5 881.2L414.6 878L417.8 877.8L421 880.1L424.1 880.9L427.3 880.8L430.5 881L433.7 881.6L436.8 878.4L440 873.9L443.2 872.6L446.3 873.4L449.5 874.4L452.7 878.7L455.8 880.3L459 881.3L462.2 880.5L465.4 879.4L468.5 875.5L471.7 874.2L474.9 874.8L478 878.7L481.2 880L484.4 881.5L487.5 880.6L490.7 881.5L493.9 880.3L497.1 879.2L500.2 879.5L503.4 878.4L506.6 878.5L509.7 879.9L512.9 880.6L516.1 881.5L519.2 880.1L522.4 880L525.6 879.8L528.8 878.9L531.9 879.6L535.1 880.6L538.3 877.5L541.4 877.8L544.6 879L547.8 882L550.9 881.7L554.1 881.7L557.3 881.1L560.5 879.8L563.6 880.1L566.8 880.5L568.1 881.9" stroke="#7fdf4e"/>
<path d="M100.8 883.1L104 883.2L107.1 883.2L110.3 883.1L113.5 882.9L116.7 882.8L119.8 882.8L123 882.6L126.2 881.9L129.3 878.8L132.5 874.3L135.7 874.7L138.8 879.2L142 882.4L145.2 882.6L148.4 882.6L151.5 882.7L154.7 882.9L157.9 882.6L161 880.7L164.2 871.3L167.4 843.4L170.5 811.1L173.7 802L176.9 829.5L180.1 860.9L183.2 876.3L186.4 880.6L189.6 878.2L192.7 877.4L195.9 876.7L199.1 878.9L202.2 878.2L205.4 875.8L208.6 870.8L211.8 861.5L214.9 860.4L218.1 869.5L221.3 877.3L224.4 877.6L227.6 876.1L230.8 875.1L233.9 871L237.1 871.1L240.3 873.7L243.5 877.3L246.6 875L249.8 869.9L253 865.8L256.1 865.4L259.3 872.2L262.5 871.4L265.6 871.3L268.8 873L272 877.7L275.2 878.9L278.3 879.1L281.5 877.9L284.7 873.8L287.8 873.8L291 873L294.2 874.6L297.3 877.5L300.5 880.1L303.7 879.7L306.9 879.2L310 880.3L313.2 879.7L316.4 880.6L319.5 881.5L322.7 879.3L325.9 878.2L329 881.4L332.2 880.3L335.4 876.7L338.6 877L341.7 879L344.9 878.1L348.1 879.8L351.2 881.3L354.4 881.1L357.6 880.9L360.7 875.6L363.9 872.3L367.1 876.3L370.3 879.4L373.4 879.5L376.6 880L379.8 881.5L382.9 880L386.1 878.3L389.3 879.8L392.4 881.4L395.6 879L398.8 879.1L402 878.3L405.1 878.9L408.3 878.6L411.5 879.7L414.6 881.1L417.8 880.8L421 881.7L424.1 881.3L427.3 880L430.5 879.2L433.7 879.3L436.8 881L440 880.9L443.2 881.2L446.3 880.9L449.5 880L452.7 878.7L455.8 878.5L459 878.9L462.2 879.4L465.4 879.6L468.5 879.7L471.7 877.6L474.9 874.9L478 874.2L481.2 878L484.4 880.3L487.5 881L490.7 881.2L493.9 880.7L497.1 881.2L500.2 880.1L503.4 880.6L506.6 881.5L509.7 880L512.9 876.5L516.1 877.3L519.2 878.2L522.4 880.3L525.6 880.1L528.8 879.2L531.9 880.6L535.1 881.7L538.3 878.5L541.4 876.3L544.6 877.6L547.8 876.8L550.9 877L554.1 878.6L557.3 878.8L560.5 879.7L563.6 880.3L566.8 879.4L568.1 880" stroke="#50f91a"/>
<path d="M100.8 883.2L104 883.2L107.1 883.2L110.3 883.2L113.5 883.1L116.7 883.1L119.8 883.1L123 883.1L126.2 882.3L129.3 878.9L132.5 872.5L135.7 871.3L138.8 877.2L142 881.7L145.2 883.1L148.4 883.2L151.5 883.1L154.7 883L157.9 882.8L161 882.2L164.2 879.9L167.4 866.3L170.5 841.2L173.7 816.8L176.9 823.8L180.1 849.6L183.2 871.9L186.4 878.8L189.6 880.7L192.7 879.6L195.9 878.2L199.1 877.6L202.2 877.6L205.4 870.8L208.6 858L211.8 844.4L214.9 849.8L218.1 863.4L221.3 874.4L224.4 873.8L227.6 874.3L230.8 879.7L233.9 880.1L237.1 878.3L240.3 879.4L243.5 878.8L246.6 877.1L249.8 867.8L253 862.5L256.1 866.8L259.3 874.2L262.5 878.8L265.6 880.7L268.8 878.9L272 880.1L275.2 880.7L278.3 879.4L281.5 877L284.7 875.9L287.8 869.3L291 871.5L294.2 874.7L297.3 878.4L300.5 879.9L303.7 879.5L306.9 880.7L310 881.3L313.2 880.6L316.4 880.8L319.5 878.2L322.7 876L325.9 875.2L329 875.6L332.2 877.4L335.4 877.7L338.6 879.3L341.7 878.3L344.9 878.5L348.1 877.7L351.2 875.8L354.4 878.7L357.6 880.9L360.7 881.4L363.9 881.5L367.1 879.9L370.3 880.4L373.4 881.6L376.6 880.5L379.8 877.7L382.9 878.9L386.1 879.5L389.3 879.3L392.4 880L395.6 880.1L398.8 881.1L402 881.5L405.1 881.3L408.3 879.7L411.5 878.3L414.6 877.9L417.8 874.9L421 877.7L424.1 877.6L427.3 877.9L430.5 877.9L433.7 878.6L436.8 880.2L440 879.8L443.2 881.8L446.3 881.5L449.5 881.6L452.7 880.9L455.8 879.6L459 879.4L462.2 879.2L465.4 877.6L468.5 877.8L471.7 879.2L474.9 879.9L478 881.3L481.2 880.2L484.4 878.1L487.5 879L490.7 880.4L493.9 880.2L497.1 881L500.2 878.7L503.4 878.5L506.6 877.7L509.7 878.8L512.9 880.4L516.1 876L519.2 878L522.4 881L525.6 878.3L528.8 875.9L531.9 879.5L535.1 879.5L538.3 880.1L541.4 881.6L544.6 880L547.8 880.1L550.9 881.4L554.1 879.8L557.3 876.1L560.5 876.9L563.6 879.9L566.8 881L568.1 882.1" stroke="#4070e7"/>
<path d="M100.8 883L104 883L107.1 883L110.3 883L113.5 883.1L116.7 882.9L119.8 883.1L123 883L126.2 881.7L129.3 877.3L132.5 870.2L135.7 870.5L138.8 877.5L142 881.8L145.2 883L148.4 883.2L151.5 883.1L154.7 882.9L157.9 882.7L161 880.7L164.2 872.3L167.4 848.9L170.5 820.4L173.7 806.4L176.9 825.8L180.1 852.9L183.2 871.6L186.4 876.7L189.6 876.1L192.7 879L195.9 880.3L199.1 876.6L202.2 874.1L205.4 868.3L208.6 863.6L211.8 857.9L214.9 858.5L218.1 869.3L221.3 876.8L224.4 878.8L227.6 880.2L230.8 881.3L233.9 879.2L237.1 876.5L240.3 875.1L243.5 875.8L246.6 876.9L249.8 877.6L253 876.3L256.1 876.5L259.3 877.4L262.5 879.1L265.6 880.8L268.8 880.2L272 879.5L275.2 880.5L278.3 881L281.5 879.7L284.7 880.1L287.8 877.6L291 874.2L294.2 871.8L297.3 873.9L300.5 875.4L303.7 878.9L306.9 880.1L310 878.9L313.2 878.3L316.4 880.4L319.5 878L322.7 874.3L325.9 875.2L329 876.9L332.2 877.5L335.4 880.9L338.6 881.2L341.7 878.5L344.9 880.2L348.1 879.7L351.2 880.3L354.4 879.6L357.6 881.2L360.7 879.6L363.9 877.6L367.1 879.5L370.3 881.2L373.4 878.9L376.6 879.2L379.8 879L382.9 875.9L386.1 873.9L389.3 874.5L392.4 876.7L395.6 878.3L398.8 880.3L402 881.1L405.1 881.2L408.3 880.5L411.5 881.6L414.6 879.5L417.8 878.5L421 877.5L424.1 877.7L427.3 878.7L430.5 881.6L433.7 878.6L436.8 877.6L440 877.7L443.2 881.1L446.3 878.8L449.5 880.3L452.7 879.8L455.8 880.1L459 877.8L462.2 876.2L465.4 879.1L468.5 881.9L471.7 881.6L474.9 880.9L478 880.2L481.2 881.4L484.4 879L487.5 877.3L490.7 878.9L493.9 881L497.1 880.3L500.2 878.3L503.4 877L506.6 877.1L509.7 879.1L512.9 880.7L516.1 881.9L519.2 881.7L522.4 881.2L525.6 881.2L528.8 881.9L531.9 881.8L535.1 881.7L538.3 879.8L541.4 876.3L544.6 874.7L547.8 876L550.9 878.1L554.1 881.3L557.3 881.6L560.5 880.3L563.6 878.7L566.8 878.4L568.1 879.4" stroke="#474747"/>
<path d="M100.8 883.1L104 883.1L107.1 883.1L110.3 882.9L113.5 882.7L116.7 882.7L119.8 882.9L123 882.7L126.2 881L129.3 875.9L132.5 870.2L135.7 871.4L138.8 877.7L142 881.8L145.2 882.6L148.4 882.8L151.5 882.9L154.7 883.1L157.9 882.9L161 881.9L164.2 877.7L167.4 861.1L170.5 841.8L173.7 829.1L176.9 837.7L180.1 859.1L183.2 875.1L186.4 875.9L189.6 879.1L192.7 881L195.9 878.5L199.1 878.4L202.2 880L205.4 871.4L208.6 853.6L211.8 838.2L214.9 843.6L218.1 863.7L221.3 875.6L224.4 879.8L227.6 879.9L230.8 878.4L233.9 880.4L237.1 881.1L240.3 880.4L243.5 878.5L246.6 876L249.8 876.4L253 876L256.1 871.3L259.3 872.5L262.5 873.8L265.6 876.1L268.8 879.6L272 876.1L275.2 874.5L278.3 873.8L281.5 876.4L284.7 877.1L287.8 875.4L291 875.7L294.2 876.1L297.3 878.6L300.5 878.7L303.7 880.3L306.9 878.6L310 877.6L313.2 878.7L316.4 877.8L319.5 881.5L322.7 880.1L325.9 878.9L329 877.3L332.2 877.2L335.4 876.1L338.6 877.2L341.7 879.2L344.9 879.7L348.1 879.8L351.2 881.1L354.4 878.8L357.6 876.6L360.7 877.2L363.9 879.1L367.1 881.4L370.3 880.4L373.4 878.7L376.6 877.8L379.8 879.9L382.9 879.9L386.1 880.4L389.3 878.2L392.4 877.3L395.6 877.9L398.8 879.4L402 880.4L405.1 878.1L408.3 877.5L411.5 873.5L414.6 873.7L417.8 875.7L421 876.7L424.1 880.9L427.3 880.8L430.5 879.7L433.7 879.2L436.8 878.6L440 880.4L443.2 881.6L446.3 881.7L449.5 881L452.7 881.1L455.8 878.8L459 876.8L462.2 875.5L465.4 875.9L468.5 876.4L471.7 876.4L474.9 877.9L478 878.5L481.2 880L484.4 881.9L487.5 881.1L490.7 879.8L493.9 879.7L497.1 879.8L500.2 879.5L503.4 880.1L506.6 881.7L509.7 881.8L512.9 881.5L516.1 881.1L519.2 878.9L522.4 878.9L525.6 879.6L528.8 881.3L531.9 881.4L535.1 880.6L538.3 879.7L541.4 879.6L544.6 880.1L547.8 881.5L550.9 881.3L554.1 880.5L557.3 881.7L560.5 881.2L563.6 880.4L566.8 879L568.1 879.4" stroke="#65d030"/>
<path d="M100.8 883L104 882.9L107.1 883L110.3 883.2L113.5 882.7L116.7 882.6L119.8 882.7L123 882.9L126.2 882.6L129.3 880L132.5 875.2L135.7 874.3L138.8 878.6L142 881.9L145.2 882.6L148.4 883L151.5 883L154.7 882.6L157.9 882.2L161 881.1L164.2 875.1L167.4 856.1L170.5 834.4L173.7 823.8L176.9 838.5L180.1 860L183.2 874.2L186.4 877.8L189.6 880.7L192.7 879.8L195.9 878.8L199.1 878L202.2 877.5L205.4 874.5L208.6 863L211.8 853.6L214.9 859.8L218.1 872.7L221.3 878.5L224.4 876.5L227.6 875.8L230.8 875.1L233.9 874.9L237.1 877.9L240.3 880.3L243.5 879.2L246.6 874.5L249.8 874.8L253 876L256.1 877.6L259.3 880.2L262.5 879.3L265.6 879.4L268.8 879.5L272 878.2L275.2 878.4L278.3 881.4L281.5 878.2L284.7 876.2L287.8 877.1L291 875.2L294.2 877.2L297.3 874.7L300.5 873.8L303.7 873.7L306.9 876.3L310 877.4L313.2 877.4L316.4 879.9L319.5 880.5L322.7 878.5L325.9 877.3L329 879.4L332.2 879.2L335.4 880.3L338.6 878.1L341.7 875.7L344.9 875.9L348.1 877.4L351.2 881.6L354.4 877.9L357.6 877.3L360.7 880L363.9 880.1L367.1 877.8L370.3 878.1L373.4 877.7L376.6 877.5L379.8 878.5L382.9 879.9L386.1 880.9L389.3 880.2L392.4 880.3L395.6 881.1L398.8 880.9L402 880.3L405.1 881.1L408.3 880.8L411.5 881.6L414.6 880.2L417.8 880L421 880.4L424.1 878.3L427.3 878.3L430.5 876.5L433.7 878L436.8 879.1L440 879.9L443.2 880.1L446.3 880.6L449.5 881L452.7 879.2L455.8 875.2L459 875L462.2 876.4L465.4 879.5L468.5 881L471.7 879.8L474.9 879.9L478 879.9L481.2 880.6L484.4 879L487.5 877.3L490.7 876.3L493.9 878.3L497.1 881.6L500.2 880L503.4 879.8L506.6 880.5L509.7 881.3L512.9 881.8L516.1 879.4L519.2 878.3L522.4 878.8L525.6 879.6L528.8 881.3L531.9 881.5L535.1 880.7L538.3 881.1L541.4 882.1L544.6 880.4L547.8 878.9L550.9 877.2L554.1 878.1L557.3 880.6L560.5 881.6L563.6 881.6L566.8 881.5L568.1 882" stroke="#4b90f9"/>
<path d="M100.8 882.4L104 882.2L107.1 882.3L110.3 882.6L113.5 882.9L116.7 883.1L119.8 883L123 883L126.2 882.5L129.3 880.3L132.5 874.9L135.7 872.6L138.8 877.4L142 881.8L145.2 883L148.4 883.1L151.5 882.9L154.7 883L157.9 882.9L161 881.8L164.2 876.2L167.4 851.7L170.5 820.9L173.7 809.8L176.9 831.1L180.1 859.9L183.2 876.9L186.4 878.9L189.6 876.7L192.7 877.3L195.9 880.2L199.1 879L202.2 877.6L205.4 874.9L208.6 868.2L211.8 855.3L214.9 855L218.1 865.1L221.3 870.2L224.4 875.3L227.6 876.5L230.8 877.7L233.9 877.5L237.1 879L240.3 880.1L243.5 877.2L246.6 875.9L249.8 873.4L253 871.3L256.1 874L259.3 878L262.5 878.7L265.6 875.9L268.8 876.2L272 877.7L275.2 878.1L278.3 879.9L281.5 879.9L284.7 879.9L287.8 877.3L291 872.4L294.2 873.2L297.3 876.4L300.5 879.8L303.7 879.4L306.9 881.1L310 879.5L313.2 878.3L316.4 878.4L319.5 879.7L322.7 880.7L325.9 880.1L329 879.1L332.2 875L335.4 873.3L338.6 872.1L341.7 875.9L344.9 877.8L348.1 879.9L351.2 880.9L354.4 880.1L357.6 879.5L360.7 879.7L363.9 880L367.1 881L370.3 879.4L373.4 878.8L376.6 878.8L379.8 881.1L382.9 877.6L386.1 878L389.3 877.9L392.4 879.6L395.6 880.6L398.8 876.9L402 879.1L405.1 875.7L408.3 875.4L411.5 879.8L414.6 878.9L417.8 881.3L421 881.4L424.1 881.5L427.3 881L430.5 880L433.7 877.6L436.8 879.5L440 881L443.2 879.3L446.3 880.8L449.5 880.1L452.7 879.5L455.8 881.8L459 877.3L462.2 876.5L465.4 878.9L468.5 880.8L471.7 878.2L474.9 879.6L478 881L481.2 880.5L484.4 881.9L487.5 880L490.7 879.9L493.9 881L497.1 878.9L500.2 881.6L503.4 877.8L506.6 875.3L509.7 874.4L512.9 878L516.1 882L519.2 881.8L522.4 881.5L525.6 880L528.8 879.3L531.9 879.2L535.1 881.1L538.3 880.6L541.4 881.7L544.6 880.3L547.8 878.9L550.9 880.1L554.1 880.7L557.3 880.2L560.5 879.8L563.6 881.5L566.8 881.7L568.1 881.7" stroke="#3bfa66"/>
<path d="M100.8 883.1L104 883.1L107.1 883.2L110.3 883.1L113.5 883L116.7 883L119.8 882.8L123 882.5L126.2 881.7L129.3 878.2L132.5 872.6L135.7 873.2L138.8 879.5L142 882.6L145.2 883.1L148.4 883.1L151.5 882.8L154.7 882.9L157.9 883L161 882.1L164.2 877L167.4 855.9L170.5 826L173.7 802.6L176.9 815.7L180.1 848.9L183.2 873L186.4 878.8L189.6 880.2L192.7 880.5L195.9 881L199.1 880.9L202.2 879.3L205.4 875.7L208.6 869.1L211.8 860.2L214.9 859.5L218.1 866.9L221.3 873L224.4 876.9L227.6 880.5L230.8 880.5L233.9 881L237.1 880.5L240.3 880.6L243.5 876.9L246.6 870.9L249.8 867L253 869.1L256.1 872.9L259.3 875.5L262.5 876.8L265.6 878.5L268.8 880L272 877.8L275.2 876.5L278.3 874.9L281.5 873.3L284.7 875L287.8 876.5L291 876.5L294.2 873.2L297.3 878.2L300.5 880.5L303.7 879.2L306.9 880.3L310 881.5L313.2 881.2L316.4 880.9L319.5 880L322.7 881.2L325.9 880.9L329 879.9L332.2 880L335.4 881.3L338.6 879.3L341.7 879.8L344.9 880.9L348.1 880.8L351.2 880.2L354.4 880.6L357.6 880.6L360.7 881.6L363.9 881.5L367.1 878.3L370.3 877.1L373.4 876.8L376.6 876.9L379.8 879.8L382.9 880.8L386.1 880.5L389.3 878.5L392.4 874.2L395.6 873L398.8 873.9L402 879.3L405.1 880L408.3 877.6L411.5 879.2L414.6 881L417.8 880L421 877.4L424.1 875L427.3 874L430.5 876.2L433.7 878.3L436.8 879.6L440 879.8L443.2 881.7L446.3 879.2L449.5 878.7L452.7 880.7L455.8 881.1L459 881.1L462.2 881.1L465.4 880.9L468.5 877.9L471.7 878.2L474.9 880.6L478 881L481.2 881.6L484.4 880.8L487.5 881L490.7 881.1L493.9 879.4L497.1 878.4L500.2 879.2L503.4 881.2L506.6 881L509.7 881.7L512.9 881.4L516.1 880.7L519.2 879.2L522.4 881.5L525.6 881.7L528.8 881.5L531.9 881.1L535.1 881.2L538.3 880.5L541.4 879.1L544.6 878.8L547.8 880.4L550.9 881.4L554.1 881.7L557.3 880.4L560.5 880.5L563.6 880.4L566.8 877.6L568.1 877.6" stroke="#45d560"/>
<path d="M100.8 883.1L104 883.1L107.1 883.1L110.3 882.8L113.5 882.6L116.7 882.6L119.8 882.8L123 883L126.2 881.9L129.3 877.4L132.5 871L135.7 871L138.8 877.5L142 881.6L145.2 882.6L148.4 882.9L151.5 883L154.7 883.1L157.9 883.1L161 882.3L164.2 878.9L167.4 862.1L170.5 842.4L173.7 826.3L176.9 833.6L180.1 854.3L183.2 873L186.4 876.8L189.6 874.4L192.7 873L195.9 878.2L199.1 879.5L202.2 878.8L205.4 875.9L208.6 869.5L211.8 861.6L214.9 863.6L218.1 873.5L221.3 878.6L224.4 880.8L227.6 881.1L230.8 879.7L233.9 880.9L237.1 880.7L240.3 879.7L243.5 879.6L246.6 874.9L249.8 873.1L253 871.4L256.1 872L259.3 874.9L262.5 877.8L265.6 880.2L268.8 879L272 879.8L275.2 880.4L278.3 881L281.5 879.9L284.7 879.5L287.8 877.1L291 871.6L294.2 868.7L297.3 868.2L300.5 873.7L303.7 880.4L306.9 879.7L310 878.8L313.2 880.1L316.4 879.8L319.5 881.5L322.7 880.6L325.9 880.6L329 881.3L332.2 880.3L335.4 880.9L338.6 881.5L341.7 881.4L344.9 881.4L348.1 881.4L351.2 881.2L354.4 881L357.6 881L360.7 879.3L363.9 880L367.1 881.4L370.3 878.1L373.4 877.9L376.6 879.4L379.8 881.2L382.9 881.4L386.1 880.8L389.3 879.7L392.4 879.3L395.6 879.9L398.8 881L402 880.2L405.1 881L408.3 879.2L411.5 880.3L414.6 881.2L417.8 881.7L421 880.3L424.1 880.7L427.3 881.1L430.5 881L433.7 879.4L436.8 879.7L440 880.5L443.2 880.1L446.3 877.3L449.5 877.8L452.7 878.2L455.8 879.2L459 880.4L462.2 881L465.4 879.9L468.5 878.7L471.7 878.4L474.9 879.2L478 878.2L481.2 880.5L484.4 879.7L487.5 877L490.7 875.3L493.9 875.7L497.1 879L500.2 880.4L503.4 880L506.6 880.6L509.7 880.9L512.9 880.1L516.1 879.1L519.2 879.5L522.4 880.2L525.6 879.5L528.8 880.1L531.9 881L535.1 881.3L538.3 882L541.4 879.9L544.6 880.3L547.8 881.1L550.9 881L554.1 881.5L557.3 880.5L560.5 880.6L563.6 880.7L566.8 882L568.1 880.9" stroke="#45e17b"/>
<path d="M100.8 883.2L104 883.1L107.1 883L110.3 882.8L113.5 883L116.7 882.9L119.8 882.9L123 882.4L126.2 881.2L129.3 876.7L132.5 870.5L135.7 870.6L138.8 877L142 881.3L145.2 882.4L148.4 882.4L151.5 882.5L154.7 882.7L157.9 882.8L161 882.7L164.2 880.3L167.4 862.8L170.5 836.2L173.7 812.9L176.9 823.1L180.1 853.4L183.2 870.9L186.4 878.5L189.6 879.5L192.7 878.9L195.9 877.9L199.1 876.9L202.2 877.7L205.4 878.9L208.6 866.9L211.8 850.8L214.9 849.3L218.1 869L221.3 871.8L224.4 870.8L227.6 872.2L230.8 879.4L233.9 879.3L237.1 877.4L240.3 876.5L243.5 873.6L246.6 876L249.8 874.5L253 873.3L256.1 876.3L259.3 879.3L262.5 877.8L265.6 874.7L268.8 874.6L272 878L275.2 880.1L278.3 880.7L281.5 880.7L284.7 876.9L287.8 874.3L291 874.9L294.2 877.7L297.3 879.8L300.5 880.8L303.7 879.9L306.9 875.9L310 875.1L313.2 876.3L316.4 879.1L319.5 881.2L322.7 878.4L325.9 877L329 877L332.2 878.3L335.4 880.2L338.6 881.4L341.7 880.2L344.9 879L348.1 879.7L351.2 881.4L354.4 879.6L357.6 876.5L360.7 873.3L363.9 872.6L367.1 875.5L370.3 879L373.4 881.4L376.6 881.4L379.8 879.9L382.9 878.6L386.1 876.8L389.3 878.3L392.4 880.3L395.6 879.5L398.8 877.4L402 879.3L405.1 878L408.3 878.3L411.5 880.8L414.6 879.1L417.8 874.9L421 871.6L424.1 874.2L427.3 878.4L430.5 880.7L433.7 880.3L436.8 881.1L440 881.5L443.2 880.5L446.3 880.7L449.5 880L452.7 876.9L455.8 875.5L459 878.2L462.2 881.8L465.4 880.8L468.5 879.9L471.7 877.5L474.9 876.1L478 876.1L481.2 876.2L484.4 873.9L487.5 873.3L490.7 874.6L493.9 876.2L497.1 879L500.2 881.3L503.4 881.3L506.6 881.3L509.7 880.9L512.9 878.6L516.1 877.1L519.2 877.4L522.4 877.3L525.6 878.5L528.8 881.4L531.9 881.5L535.1 881.9L538.3 880.3L541.4 878.8L544.6 877.8L547.8 878.1L550.9 878.2L554.1 879.4L557.3 881.2L560.5 880.9L563.6 879.3L566.8 878.4L568.1 878.9" stroke="#71d2d7"/>
<path d="M100.8 882.6L104 882.4L107.1 882.5L110.3 882.9L113.5 883L116.7 882.9L119.8 883.2L123 882.9L126.2 881.8L129.3 877.8L132.5 873.1L135.7 874L138.8 878.8L142 882L145.2 883L148.4 882.9L151.5 883L154.7 883L157.9 883L161 882.4L164.2 878.6L167.4 861L170.5 838.5L173.7 819.7L176.9 829.3L180.1 853.8L183.2 871.2L186.4 877L189.6 875.1L192.7 876.7L195.9 878.6L199.1 881.1L202.2 878.4L205.4 869.3L208.6 852.9L211.8 837.7L214.9 846.1L218.1 867.5L221.3 877.7L224.4 873.9L227.6 875.8L230.8 878.8L233.9 880.4L237.1 878.5L240.3 876.8L243.5 876.8L246.6 875.3L249.8 872L253 869.5L256.1 874.2L259.3 877.8L262.5 878.5L265.6 880.6L268.8 878.2L272 877.3L275.2 880.1L278.3 880.7L281.5 878.9L284.7 877.5L287.8 877.7L291 876.5L294.2 877.3L297.3 877.2L300.5 874.3L303.7 874.8L306.9 875.9L310 881L313.2 877.5L316.4 875.9L319.5 876.8L322.7 879.3L325.9 880.8L329 880.2L332.2 877.2L335.4 876.8L338.6 878.7L341.7 880.5L344.9 877.1L348.1 877.3L351.2 880.2L354.4 879.6L357.6 878.7L360.7 878L363.9 881.1L367.1 877.4L370.3 877.1L373.4 878.3L376.6 880.9L379.8 878.6L382.9 878.9L386.1 881L389.3 877.8L392.4 878L395.6 879.5L398.8 880.6L402 880.7L405.1 879.5L408.3 880.8L411.5 880.6L414.6 881L417.8 879.1L421 880.1L424.1 880.9L427.3 879L430.5 879L433.7 878.5L436.8 879.7L440 881.2L443.2 880L446.3 880.9L449.5 880.8L452.7 880.4L455.8 881.4L459 880.6L462.2 881.1L465.4 880.9L468.5 881L471.7 881.1L474.9 881.6L478 879.5L481.2 879.8L484.4 878.6L487.5 878L490.7 879.9L493.9 881.4L497.1 881L500.2 881.3L503.4 881.4L506.6 879.6L509.7 878.7L512.9 878.9L516.1 879.6L519.2 880.1L522.4 880.8L525.6 880.1L528.8 881.7L531.9 879.1L535.1 879.7L538.3 880L541.4 881L544.6 880.1L547.8 881.1L550.9 880.9L554.1 881.6L557.3 880.1L560.5 879L563.6 880.4L566.8 880.7L568.1 881.8" stroke="#565656"/>
<path d="M100.8 883.1L104 883.1L107.1 883.1L110.3 883.2L113.5 883L116.7 883L119.8 882.9L123 882.8L126.2 882L129.3 878.5L132.5 873.3L135.7 873.5L138.8 878.8L142 882.2L145.2 882.8L148.4 882.6L151.5 882.5L154.7 882.6L157.9 882.9L161 881.7L164.2 875.2L167.4 851.4L170.5 820.8L173.7 804.3L176.9 815.7L180.1 844.8L183.2 866.9L186.4 878.9L189.6 879.8L192.7 878.4L195.9 878.3L199.1 879.8L202.2 879.8L205.4 876.2L208.6 867.3L211.8 855.2L214.9 852.6L218.1 860.3L221.3 874.9L224.4 879.8L227.6 881.2L230.8 879.6L233.9 874.1L237.1 876L240.3 878.6L243.5 876.4L246.6 874.2L249.8 868.1L253 865.4L256.1 870L259.3 877.1L262.5 880.6L265.6 880.5L268.8 879.9L272 880L275.2 881.3L278.3 881.1L281.5 878.5L284.7 877.1L287.8 873.8L291 872.5L294.2 874.8L297.3 876L300.5 877.3L303.7 879.4L306.9 880.4L310 880.2L313.2 879L316.4 879.2L319.5 879.5L322.7 879.7L325.9 881.3L329 878.4L332.2 874L335.4 871.9L338.6 872L341.7 875.4L344.9 876.7L348.1 877.2L351.2 878.2L354.4 878L357.6 879L360.7 880L363.9 877.9L367.1 876.8L370.3 877.9L373.4 880.2L376.6 880.8L379.8 879.8L382.9 881.7L386.1 880.1L389.3 880.4L392.4 880.4L395.6 878.3L398.8 878.9L402 881.3L405.1 877.7L408.3 878.8L411.5 881.5L414.6 878.5L417.8 878.1L421 880.5L424.1 880.5L427.3 880.5L430.5 881.4L433.7 879.8L436.8 880.6L440 880.2L443.2 877.8L446.3 874.8L449.5 873.8L452.7 875.3L455.8 876.4L459 878.4L462.2 878.5L465.4 878.8L468.5 880.2L471.7 881L474.9 879.8L478 878L481.2 878.2L484.4 877.5L487.5 878.7L490.7 875.8L493.9 870.7L497.1 869.3L500.2 872.3L503.4 878.1L506.6 881.5L509.7 881.9L512.9 882L516.1 879.9L519.2 878.4L522.4 877.8L525.6 878.1L528.8 879.8L531.9 879.9L535.1 880.5L538.3 881.1L541.4 880.7L544.6 878.4L547.8 878.4L550.9 881.3L554.1 880L557.3 879.4L560.5 880L563.6 881L566.8 880.4L568.1 880.2" stroke="#f652b0"/>
<path d="M100.8 882.9L104 882.8L107.1 882.8L110.3 883L113.5 883.1L116.7 883.1L119.8 883.1L123 882.7L126.2 881.2L129.3 876.5L132.5 872.1L135.7 874.7L138.8 880L142 882.3L145.2 882.8L148.4 882.8L151.5 883L154.7 883.2L157.9 883.1L161 882L164.2 878L167.4 859.5L170.5 834.8L173.7 819.5L176.9 830.5L180.1 855L183.2 872.6L186.4 873.2L189.6 873.5L192.7 877.3L195.9 879.5L199.1 879.6L202.2 879.8L205.4 872L208.6 862L211.8 854.7L214.9 858.7L218.1 870.2L221.3 877.1L224.4 878.4L227.6 878.6L230.8 879.7L233.9 879L237.1 880.7L240.3 880.9L243.5 880L246.6 877.4L249.8 874.9L253 873.1L256.1 872.3L259.3 874.9L262.5 876.6L265.6 878.1L268.8 878.3L272 881.4L275.2 876.5L278.3 875.5L281.5 876.7L284.7 878.6L287.8 874.4L291 871.9L294.2 873.4L297.3 877.9L300.5 876.8L303.7 874.1L306.9 872.7L310 874.6L313.2 878.6L316.4 880L319.5 880.2L322.7 881.2L325.9 881L329 880L332.2 878.9L335.4 880.9L338.6 881.5L341.7 878.5L344.9 879.6L348.1 878.5L351.2 877.6L354.4 877.2L357.6 879.7L360.7 880.1L363.9 879.4L367.1 877.7L370.3 877.6L373.4 880.8L376.6 881.5L379.8 878.7L382.9 881.4L386.1 877.2L389.3 876.3L392.4 877.4L395.6 880.3L398.8 881.6L402 881.6L405.1 880.8L408.3 881.4L411.5 879.8L414.6 880L417.8 881.2L421 880.7L424.1 880.6L427.3 880.8L430.5 879.4L433.7 880.6L436.8 881.7L440 881.1L443.2 880.7L446.3 881.7L449.5 880.9L452.7 878.3L455.8 877.3L459 876.8L462.2 876.2L465.4 878.5L468.5 878.9L471.7 879.8L474.9 880.8L478 880.2L481.2 879.9L484.4 881.1L487.5 881.2L490.7 881.8L493.9 881.9L497.1 880.6L500.2 881.8L503.4 881.1L506.6 881.9L509.7 879.9L512.9 877.2L516.1 875.6L519.2 878.4L522.4 881.9L525.6 878.2L528.8 877.3L531.9 878.7L535.1 880.4L538.3 880.9L541.4 880.1L544.6 878.3L547.8 876.6L550.9 877.3L554.1 877.8L557.3 880.9L560.5 880L563.6 878.4L566.8 877.1L568.1 878.4" stroke="#d46379"/>
<path d="M100.8 883L104 883.1L107.1 883L110.3 882.7L113.5 882.7L116.7 882.9L119.8 882.8L123 882.7L126.2 881.6L129.3 877.5L132.5 872.3L135.7 872.7L138.8 878.2L142 881.7L145.2 882.5L148.4 882.6L151.5 883L154.7 883.2L157.9 882.7L161 880.8L164.2 871.1L167.4 842.7L170.5 808.6L173.7 805.6L176.9 834.9L180.1 864.2L183.2 875.9L186.4 874.6L189.6 874.2L192.7 875.3L195.9 873.3L199.1 875L202.2 875.5L205.4 875.7L208.6 863.3L211.8 855.8L214.9 857.3L218.1 867.6L221.3 877.3L224.4 877.7L227.6 874.7L230.8 877.4L233.9 880L237.1 877.2L240.3 878.4L243.5 880L246.6 877.3L249.8 873.1L253 873L256.1 872.5L259.3 876.5L262.5 878.2L265.6 877.2L268.8 880.1L272 881L275.2 879.8L278.3 880.7L281.5 879.9L284.7 877.9L287.8 873.1L291 872.6L294.2 874.3L297.3 879.1L300.5 878.2L303.7 880.3L306.9 881.5L310 881L313.2 881.2L316.4 881.4L319.5 878.8L322.7 878.6L325.9 878.2L329 876.1L332.2 874.9L335.4 873.3L338.6 876.2L341.7 879.6L344.9 878.7L348.1 877.1L351.2 875.2L354.4 874.9L357.6 875.5L360.7 876L363.9 878.5L367.1 880.9L370.3 880.1L373.4 880.5L376.6 880.8L379.8 881.2L382.9 880L386.1 878.3L389.3 877L392.4 878.4L395.6 880.9L398.8 877.6L402 877.5L405.1 879.3L408.3 880.9L411.5 879.9L414.6 878.2L417.8 878.8L421 877.9L424.1 879.8L427.3 881L430.5 879.1L433.7 879.8L436.8 880L440 881L443.2 876.5L446.3 875.9L449.5 877.6L452.7 880.3L455.8 880.5L459 879.1L462.2 877.8L465.4 880L468.5 881.1L471.7 879.6L474.9 877.8L478 880.1L481.2 879.8L484.4 879.3L487.5 880L490.7 879.4L493.9 879.7L497.1 878.5L500.2 878.1L503.4 875.8L506.6 874.5L509.7 877.1L512.9 879.1L516.1 880.5L519.2 880.8L522.4 878.5L525.6 876.3L528.8 876.3L531.9 879.5L535.1 881.3L538.3 881.8L541.4 880L544.6 877.8L547.8 875.9L550.9 875L554.1 875.8L557.3 877.3L560.5 879.1L563.6 879.4L566.8 881L568.1 881.1" stroke="#58f027"/>
<path d="M100.8 883L104 882.9L107.1 882.9L110.3 882.9L113.5 882.4L116.7 882.4L119.8 882.8L123 882.7L126.2 881.3L129.3 876.4L132.5 869.9L135.7 871.9L138.8 878.8L142 881.9L145.2 882.4L148.4 882.4L151.5 882.3L154.7 882.4L157.9 882.3L161 881.2L164.2 874.9L167.4 856L170.5 835.9L173.7 835.2L176.9 854.9L180.1 869.7L183.2 876.4L186.4 879.6L189.6 880.6L192.7 880.8L195.9 880.5L199.1 879.4L202.2 876.5L205.4 871.4L208.6 863L211.8 857.2L214.9 857.1L218.1 867.7L221.3 872.3L224.4 875L227.6 879L230.8 879.9L233.9 879L237.1 878.5L240.3 878.6L243.5 880.4L246.6 875.7L249.8 872.1L253 875.3L256.1 869.6L259.3 870.2L262.5 873.1L265.6 881.3L268.8 877.7L272 876.6L275.2 879L278.3 880.7L281.5 880.2L284.7 879.9L287.8 876.6L291 875.6L294.2 874.8L297.3 874.7L300.5 877L303.7 880.7L306.9 881.2L310 881.3L313.2 877.9L316.4 876.4L319.5 878.6L322.7 878.8L325.9 877.2L329 875.4L332.2 877.5L335.4 880.2L338.6 877.4L341.7 878.8L344.9 879L348.1 877.5L351.2 877L354.4 879.5L357.6 877.6L360.7 875.9L363.9 877.6L367.1 878.6L370.3 879.5L373.4 877.2L376.6 878.8L379.8 880.8L382.9 880.4L386.1 881.1L389.3 878.8L392.4 878.7L395.6 880L398.8 880.7L402 881.4L405.1 879.5L408.3 879.1L411.5 880.2L414.6 881.5L417.8 881L421 880.6L424.1 878.9L427.3 878.5L430.5 880.4L433.7 880.8L436.8 878.9L440 879.6L443.2 880.3L446.3 878.9L449.5 878L452.7 876.6L455.8 877L459 878.5L462.2 879.2L465.4 878.2L468.5 878.6L471.7 881.2L474.9 880.9L478 880.9L481.2 881.9L484.4 881.7L487.5 880.6L490.7 879.9L493.9 881.2L497.1 881.9L500.2 881.6L503.4 879.9L506.6 877.2L509.7 875.2L512.9 874.6L516.1 877.9L519.2 879.6L522.4 881.9L525.6 881.7L528.8 880.2L531.9 879.7L535.1 879L538.3 880.6L541.4 881.2L544.6 880.2L547.8 881.6L550.9 880.9L554.1 879L557.3 879.8L560.5 881.7L563.6 882L566.8 880.6L568.1 880.9" stroke="#f1419e"/>
<path d="M100.8 883.2L104 882.9L107.1 882.9L110.3 882.8L113.5 882.8L116.7 882.9L119.8 882.7L123 882.5L126.2 880.2L129.3 874L132.5 868.7L135.7 871.7L138.8 878.4L142 882L145.2 882.7L148.4 883.2L151.5 882.6L154.7 882.4L157.9 882.7L161 882.7L164.2 880.5L167.4 865L170.5 842.3L173.7 823.1L176.9 831.6L180.1 852.5L183.2 871.5L186.4 878.9L189.6 879.4L192.7 879.6L195.9 878.9L199.1 880.2L202.2 879.6L205.4 875.3L208.6 866.9L211.8 852.1L214.9 846L218.1 860.2L221.3 876L224.4 877.8L227.6 879L230.8 880.6L233.9 879.7L237.1 877.4L240.3 879.1L243.5 879.3L246.6 877.2L249.8 875.2L253 875L256.1 875.4L259.3 876.1L262.5 879.3L265.6 880L268.8 876.9L272 880.8L275.2 878.9L278.3 876.8L281.5 877.6L284.7 877.9L287.8 874.9L291 872.1L294.2 870.3L297.3 873.8L300.5 875.6L303.7 877.3L306.9 880.9L310 881.4L313.2 877.5L316.4 875.4L319.5 875.4L322.7 875L325.9 877.6L329 880.3L332.2 880.4L335.4 877.4L338.6 876.2L341.7 878.6L344.9 881.5L348.1 878.9L351.2 876.5L354.4 875.7L357.6 878.4L360.7 880.4L363.9 880.9L367.1 879.7L370.3 880.6L373.4 880.3L376.6 881.2L379.8 879.3L382.9 876.7L386.1 876.5L389.3 878.1L392.4 880.9L395.6 877.8L398.8 877.3L402 878.1L405.1 877.8L408.3 879.1L411.5 880.8L414.6 879.7L417.8 876.9L421 877.1L424.1 878.3L427.3 879.3L430.5 880.7L433.7 880.8L436.8 881.8L440 879.2L443.2 879.6L446.3 880.4L449.5 880.9L452.7 880.6L455.8 881.7L459 880.6L462.2 881.6L465.4 879.9L468.5 880L471.7 881.1L474.9 880.3L478 880.2L481.2 881.3L484.4 880.2L487.5 879.4L490.7 879.8L493.9 880.3L497.1 880.9L500.2 879.1L503.4 879.8L506.6 881.8L509.7 881.1L512.9 880.8L516.1 881.7L519.2 881.6L522.4 881.3L525.6 878.6L528.8 879.8L531.9 880.2L535.1 881.8L538.3 881.8L541.4 881.3L544.6 880.4L547.8 879.7L550.9 882L554.1 881L557.3 880L560.5 880.5L563.6 882L566.8 881.2L568.1 880.6" stroke="#74e55a"/>
<path d="M100.8 882.8L104 882.6L107.1 882.6L110.3 882.7L113.5 882.8L116.7 882.6L119.8 882.9L123 883.1L126.2 882.3L129.3 878.6L132.5 871.5L135.7 870.9L138.8 877.7L142 882.1L145.2 882.7L148.4 882.5L151.5 882.3L154.7 882.3L157.9 882.7L161 880.7L164.2 872.6L167.4 844.7L170.5 822.9L173.7 812.6L176.9 834.2L180.1 857.9L183.2 870.7L186.4 875L189.6 874.9L192.7 877.2L195.9 879.7L199.1 878.7L202.2 875.9L205.4 873.3L208.6 862.9L211.8 856.1L214.9 861.4L218.1 870.5L221.3 877.1L224.4 880.7L227.6 880.9L230.8 879L233.9 880L237.1 880.7L240.3 880.8L243.5 877.1L246.6 871L249.8 868.3L253 867.9L256.1 869.5L259.3 874.1L262.5 878.5L265.6 881.2L268.8 878.6L272 879.2L275.2 879.3L278.3 881.2L281.5 877.5L284.7 875.1L287.8 874L291 874.3L294.2 873.3L297.3 875.7L300.5 878.5L303.7 879.5L306.9 878.1L310 879.1L313.2 878.5L316.4 881.5L319.5 880.4L322.7 880.5L325.9 880.8L329 881.4L332.2 876.4L335.4 875.5L338.6 877.2L341.7 880.6L344.9 878.3L348.1 879.9L351.2 877.1L354.4 875.4L357.6 878L360.7 881.5L363.9 879.4L367.1 877.2L370.3 875.8L373.4 879L376.6 881.7L379.8 880.9L382.9 879.7L386.1 880.9L389.3 881L392.4 880.2L395.6 881.7L398.8 880.5L402 880.7L405.1 879.7L408.3 880.8L411.5 879.8L414.6 879.3L417.8 881L421 881.4L424.1 881.6L427.3 877.9L430.5 875.2L433.7 875.8L436.8 877L440 881.1L443.2 880.7L446.3 881.7L449.5 880.1L452.7 879.8L455.8 881.3L459 881.1L462.2 881.4L465.4 881.5L468.5 879.9L471.7 879.4L474.9 881L478 880L481.2 877.4L484.4 876.6L487.5 879L490.7 881.9L493.9 880.7L497.1 881.1L500.2 880.3L503.4 880.8L506.6 882L509.7 881.7L512.9 881.1L516.1 878.6L519.2 877L522.4 878L525.6 878.2L528.8 877.7L531.9 877.4L535.1 876.7L538.3 879L541.4 881.7L544.6 878.9L547.8 878L550.9 879.9L554.1 882L557.3 880.4L560.5 881.5L563.6 881.9L566.8 880.1L568.1 879" stroke="#931ef3"/>
<path d="M100.8 882.9L104 882.9L107.1 883L110.3 883.1L113.5 883L116.7 883.1L119.8 883L123 883L126.2 881.6L129.3 876.7L132.5 870.9L135.7 873.1L138.8 879.7L142 882.6L145.2 882.9L148.4 882.7L151.5 882.7L154.7 883L157.9 882.9L161 880.7L164.2 872L167.4 847L170.5 830.3L173.7 829.5L176.9 846.2L180.1 862.6L183.2 872.9L186.4 879.4L189.6 880.7L192.7 880.2L195.9 880.9L199.1 879L202.2 872.4L205.4 866.7L208.6 860.5L211.8 851.6L214.9 852L218.1 861.1L221.3 873.2L224.4 877.1L227.6 881L230.8 881.1L233.9 879.6L237.1 879.3L240.3 881.1L243.5 879.3L246.6 876.5L249.8 870.1L253 867L256.1 869.1L259.3 877L262.5 880.2L265.6 881L268.8 879.4L272 879.4L275.2 878.9L278.3 877.4L281.5 879.7L284.7 880.6L287.8 877.2L291 875.8L294.2 874.9L297.3 875.7L300.5 877.7L303.7 880.5L306.9 879.3L310 875.3L313.2 873.4L316.4 873.9L319.5 877.1L322.7 881L325.9 878.7L329 878.2L332.2 875.6L335.4 876.5L338.6 879.8L341.7 881.4L344.9 878.7L348.1 881.3L351.2 879.4L354.4 878.6L357.6 878.4L360.7 878.2L363.9 879.5L367.1 879.5L370.3 879.8L373.4 880.1L376.6 878.5L379.8 877.8L382.9 878.7L386.1 880.8L389.3 880.7L392.4 879.1L395.6 879.8L398.8 880.1L402 879.7L405.1 878.5L408.3 877.3L411.5 875.5L414.6 875.2L417.8 879.4L421 878.6L424.1 876L427.3 876.1L430.5 880L433.7 880.6L436.8 879.4L440 879.9L443.2 881.3L446.3 880.6L449.5 880.6L452.7 881.5L455.8 881.4L459 881L462.2 881.1L465.4 881.1L468.5 878.7L471.7 878.6L474.9 879L478 879.5L481.2 880.4L484.4 879.1L487.5 879.2L490.7 881.3L493.9 880.2L497.1 877.7L500.2 877.9L503.4 877.3L506.6 878.2L509.7 880.8L512.9 881.4L516.1 879L519.2 877.9L522.4 878.1L525.6 879.5L528.8 881.1L531.9 881L535.1 880L538.3 882L541.4 880.6L544.6 882L547.8 881.7L550.9 881L554.1 882.1L557.3 880.3L560.5 877.9L563.6 877L566.8 876.5L568.1 878.2" stroke="#f6ac2c"/>
<path d="M100.8 883L104 883.1L107.1 883.1L110.3 883.1L113.5 883.1L116.7 882.8L119.8 882.8L123 883L126.2 882.2L129.3 878.5L132.5 873L135.7 872.3L138.8 877.6L142 881.7L145.2 882.7L148.4 882.9L151.5 883L154.7 883.1L157.9 882.8L161 882.4L164.2 879.6L167.4 867.7L170.5 844.7L173.7 828L176.9 836.1L180.1 857.8L183.2 872L186.4 879.3L189.6 878.1L192.7 879.7L195.9 880.6L199.1 880.1L202.2 879.7L205.4 871.4L208.6 855L211.8 842.7L214.9 844.5L218.1 858.4L221.3 866.9L224.4 872L227.6 874.1L230.8 873.6L233.9 876.6L237.1 876.6L240.3 877.2L243.5 877.9L246.6 872.6L249.8 867.6L253 865.1L256.1 871.1L259.3 878.9L262.5 880.2L265.6 880.7L268.8 879.6L272 881.4L275.2 879.1L278.3 880.9L281.5 880.9L284.7 878.5L287.8 876.9L291 874.8L294.2 875.4L297.3 879.1L300.5 879.3L303.7 878.4L306.9 881.4L310 879.5L313.2 880.7L316.4 878.9L319.5 881.5L322.7 880.8L325.9 878.4L329 881.5L332.2 877.9L335.4 879.9L338.6 881.2L341.7 881L344.9 879.6L348.1 877.5L351.2 875.2L354.4 876.6L357.6 880.2L360.7 880.8L363.9 878.3L367.1 879.7L370.3 881.2L373.4 881.6L376.6 878.6L379.8 877.1L382.9 879.7L386.1 881.1L389.3 879.5L392.4 880.7L395.6 879.8L398.8 876.5L402 874.7L405.1 875.4L408.3 878.8L411.5 878.8L414.6 878.9L417.8 878.6L421 877.8L424.1 879.1L427.3 877.1L430.5 876.9L433.7 877.2L436.8 879.2L440 880.9L443.2 881.6L446.3 881.1L449.5 880.2L452.7 879.8L455.8 881.3L459 881.4L462.2 880.5L465.4 881.1L468.5 879.9L471.7 881.8L474.9 881L478 879.8L481.2 880L484.4 879.4L487.5 880.9L490.7 880.2L493.9 880.2L497.1 880.6L500.2 880L503.4 880.1L506.6 880.9L509.7 881.6L512.9 880.8L516.1 880.6L519.2 881.1L522.4 880.8L525.6 880.3L528.8 880.3L531.9 880.3L535.1 879.1L538.3 878.9L541.4 879.8L544.6 880L547.8 879L550.9 879.5L554.1 880.5L557.3 879.4L560.5 877.2L563.6 878L566.8 879.6L568.1 881.8" stroke="#84e32a"/>
<path d="M100.8 883.1L104 883L107.1 883.2L110.3 883.2L113.5 883.1L116.7 882.8L119.8 882.7L123 882.6L126.2 881.8L129.3 877.6L132.5 870.9L135.7 870.9L138.8 877.9L142 882.2L145.2 883.1L148.4 883.2L151.5 883.1L154.7 882.8L157.9 882.8L161 881.4L164.2 874L167.4 851.7L170.5 825.7L173.7 814.6L176.9 827.2L180.1 856.4L183.2 871.1L186.4 873.4L189.6 875.8L192.7 876.3L195.9 880.9L199.1 879.1L202.2 879.6L205.4 876.5L208.6 868.5L211.8 860.6L214.9 855.4L218.1 860.9L221.3 873.5L224.4 878L227.6 876.1L230.8 876.3L233.9 877.4L237.1 879.2L240.3 879.8L243.5 877.4L246.6 876.3L249.8 876L253 872.5L256.1 871.7L259.3 876.5L262.5 878L265.6 878.3L268.8 877.9L272 879.3L275.2 879.8L278.3 876.7L281.5 874.7L284.7 876.9L287.8 878.1L291 875L294.2 877.7L297.3 877.8L300.5 878.3L303.7 878.8L306.9 879.6L310 877.5L313.2 878L316.4 878.5L319.5 879.1L322.7 879.2L325.9 880.5L329 879.9L332.2 878.5L335.4 881.3L338.6 877.7L341.7 875.5L344.9 876.2L348.1 880.2L351.2 877.3L354.4 875.7L357.6 877.5L360.7 879.8L363.9 878.9L367.1 877.7L370.3 875.9L373.4 876.8L376.6 876.7L379.8 881.5L382.9 879.7L386.1 877.7L389.3 877.8L392.4 880.9L395.6 881.1L398.8 881.1L402 879.6L405.1 879.1L408.3 878.9L411.5 878.8L414.6 880.2L417.8 879.3L421 881L424.1 879.6L427.3 879.1L430.5 879.3L433.7 877.5L436.8 877.9L440 878.8L443.2 881.8L446.3 879.9L449.5 880.1L452.7 880.9L455.8 880.3L459 879.6L462.2 878.4L465.4 880L468.5 880.7L471.7 881L474.9 879.4L478 881.2L481.2 880.6L484.4 881.5L487.5 880.9L490.7 881.7L493.9 878.9L497.1 879L500.2 880.3L503.4 881L506.6 878.9L509.7 878.7L512.9 876.7L516.1 876.2L519.2 876L522.4 877.9L525.6 880.1L528.8 881.5L531.9 879.6L535.1 881.7L538.3 881.9L541.4 880.1L544.6 878.6L547.8 879.4L550.9 879L554.1 880.1L557.3 881.5L560.5 881.9L563.6 879.5L566.8 879.6L568.1 879.7" stroke="#7bf01a"/>
<path d="M100.8 883L104 883L107.1 883L110.3 883.2L113.5 882.8L116.7 882.7L119.8 882.7L123 882.7L126.2 882.2L129.3 878.4L132.5 871L135.7 869.3L138.8 876L142 881.3L145.2 882.8L148.4 882.8L151.5 882.6L154.7 882.9L157.9 882.9L161 881.9L164.2 876.2L167.4 853L170.5 828.6L173.7 815.1L176.9 831.1L180.1 856.6L183.2 871.9L186.4 877.4L189.6 879.4L192.7 879.1L195.9 880.3L199.1 879.2L202.2 878.9L205.4 875.9L208.6 863.5L211.8 850.6L214.9 849.7L218.1 864L221.3 876.1L224.4 878.1L227.6 879.5L230.8 878.4L233.9 879.1L237.1 880.6L240.3 879L243.5 879.8L246.6 879.4L249.8 875L253 870.8L256.1 870.3L259.3 874.8L262.5 876.3L265.6 876.1L268.8 877.9L272 877.4L275.2 880.3L278.3 880.8L281.5 880.4L284.7 877.8L287.8 874.3L291 874.6L294.2 870.2L297.3 873.3L300.5 877.2L303.7 877.6L306.9 874.1L310 869.2L313.2 868.5L316.4 871.6L319.5 876.4L322.7 880L325.9 878.1L329 877.4L332.2 877.1L335.4 879.3L338.6 879.5L341.7 878L344.9 877.1L348.1 879.6L351.2 880.5L354.4 881.6L357.6 879.5L360.7 879.8L363.9 881.6L367.1 879.6L370.3 881L373.4 880.5L376.6 880.6L379.8 880.9L382.9 879.3L386.1 878.7L389.3 881.1L392.4 880.8L395.6 878.8L398.8 878.5L402 878.8L405.1 879.3L408.3 881.7L411.5 880.3L414.6 880.2L417.8 879.9L421 878.9L424.1 881.4L427.3 881L430.5 881.2L433.7 880.9L436.8 876.6L440 876.2L443.2 876.6L446.3 881.1L449.5 878.8L452.7 880.8L455.8 880.8L459 880.9L462.2 880.9L465.4 880.9L468.5 881.6L471.7 878.2L474.9 876.8L478 877.6L481.2 879.2L484.4 880.6L487.5 879.9L490.7 880.4L493.9 879.4L497.1 876.4L500.2 876.2L503.4 878.3L506.6 881.5L509.7 881L512.9 880.1L516.1 880.1L519.2 880.9L522.4 881.8L525.6 881L528.8 881.7L531.9 880.5L535.1 881.1L538.3 881.9L541.4 881.2L544.6 879.6L547.8 877.7L550.9 877.2L554.1 877.8L557.3 879.3L560.5 880.5L563.6 881.1L566.8 880.3L568.1 879.7" stroke="#3a3a3a"/>
<path d="M100.8 883.1L104 883L107.1 882.9L110.3 882.6L113.5 882.8L116.7 883L119.8 883L123 882.9L126.2 882.1L129.3 877.6L132.5 870.3L135.7 870.2L138.8 877.6L142 882.2L145.2 882.9L148.4 882.8L151.5 883.1L154.7 883.1L157.9 883L161 882.6L164.2 879L167.4 863.8L170.5 840.7L173.7 835.1L176.9 847.8L180.1 868.6L183.2 878.6L186.4 876L189.6 877.4L192.7 879.2L195.9 877.3L199.1 877.2L202.2 880.4L205.4 874.5L208.6 863.4L211.8 850.6L214.9 846L218.1 856.8L221.3 870.4L224.4 875.6L227.6 880L230.8 881.4L233.9 880.7L237.1 879.2L240.3 880.2L243.5 878.5L246.6 873.2L249.8 869.4L253 869.3L256.1 874.7L259.3 877.6L262.5 879.7L265.6 879.3L268.8 874.7L272 871.1L275.2 872.6L278.3 876.3L281.5 879.7L284.7 879.7L287.8 879.4L291 878.3L294.2 878.8L297.3 879.7L300.5 880.2L303.7 880.9L306.9 880.1L310 878.1L313.2 878.5L316.4 879.2L319.5 881.5L322.7 880L325.9 881.1L329 881.3L332.2 880.5L335.4 879L338.6 878.6L341.7 880.9L344.9 880L348.1 881.4L351.2 880.6L354.4 880.4L357.6 880.6L360.7 881.5L363.9 880.5L367.1 879.5L370.3 876.6L373.4 877.1L376.6 880.2L379.8 877.9L382.9 872L386.1 872L389.3 874.5L392.4 879.1L395.6 879.5L398.8 877.7L402 878.1L405.1 878.1L408.3 879.5L411.5 879.9L414.6 880.1L417.8 878.9L421 878.7L424.1 877.7L427.3 875.6L430.5 874.4L433.7 875.3L436.8 879.1L440 880.8L443.2 881.7L446.3 880.9L449.5 881.3L452.7 880.2L455.8 880.9L459 881.4L462.2 881.2L465.4 880.7L468.5 881.8L471.7 878.4L474.9 875.8L478 875.1L481.2 878.5L484.4 881L487.5 881.5L490.7 880.9L493.9 881L497.1 879.9L500.2 879.1L503.4 880.1L506.6 881.8L509.7 879.2L512.9 878.6L516.1 880.8L519.2 880.9L522.4 878.3L525.6 879.2L528.8 878.3L531.9 878L535.1 880.8L538.3 881.4L541.4 878.4L544.6 877.2L547.8 878.1L550.9 880.1L554.1 880.1L557.3 879.5L560.5 881.9L563.6 881.1L566.8 881.4L568.1 881.6" stroke="#123df3"/>
<path d="M100.8 882.8L104 882.4L107.1 882.4L110.3 882.7L113.5 883L116.7 883.1L119.8 882.9L123 882.6L126.2 880.8L129.3 875.5L132.5 870.4L135.7 872.7L138.8 878.8L142 882.2L145.2 882.7L148.4 882.7L151.5 882.6L154.7 883L157.9 882.8L161 881.8L164.2 876.9L167.4 858.9L170.5 830.9L173.7 810.6L176.9 817.5L180.1 844.8L183.2 870.3L186.4 876.3L189.6 877L192.7 880L195.9 878.4L199.1 875.6L202.2 871.6L205.4 865.6L208.6 855.9L211.8 848.9L214.9 852.1L218.1 858.1L221.3 866.9L224.4 874.2L227.6 880.2L230.8 881.3L233.9 876.7L237.1 874.4L240.3 875.1L243.5 876.8L246.6 877.7L249.8 871L253 866.3L256.1 867.8L259.3 872.9L262.5 876.2L265.6 877.6L268.8 876.5L272 879.5L275.2 880.6L278.3 880.3L281.5 878.7L284.7 876.8L287.8 876.2L291 871.9L294.2 871.9L297.3 875.8L300.5 877.3L303.7 874.7L306.9 874.6L310 876.2L313.2 871.6L316.4 872.8L319.5 877.9L322.7 879.6L325.9 881.3L329 878.7L332.2 878.4L335.4 877.9L338.6 876.5L341.7 878.2L344.9 880L348.1 880.7L351.2 879.6L354.4 880.4L357.6 879.6L360.7 880.4L363.9 878.1L367.1 879.1L370.3 879.1L373.4 879.2L376.6 880L379.8 879.7L382.9 881.4L386.1 881.1L389.3 880.3L392.4 879.3L395.6 877.8L398.8 879.9L402 880.6L405.1 878.3L408.3 878L411.5 881.7L414.6 878.7L417.8 877.4L421 879.2L424.1 881.2L427.3 880.7L430.5 879.6L433.7 879L436.8 878.5L440 878.3L443.2 879L446.3 881.1L449.5 880.7L452.7 876.6L455.8 875L459 876.6L462.2 880.3L465.4 879.1L468.5 878.9L471.7 881.5L474.9 881L478 880.5L481.2 880.6L484.4 881.7L487.5 879L490.7 878.8L493.9 880.3L497.1 881.5L500.2 879.4L503.4 879L506.6 880.1L509.7 881L512.9 880.7L516.1 881.7L519.2 881.6L522.4 880.8L525.6 881.9L528.8 881.4L531.9 881.3L535.1 881.5L538.3 881.8L541.4 880.9L544.6 882L547.8 880.9L550.9 878.8L554.1 877.8L557.3 877.7L560.5 878.3L563.6 879.6L566.8 880L568.1 880.6" stroke="#f1db36"/>
<path d="M100.8 883.1L104 883.1L107.1 882.9L110.3 882.8L113.5 883L116.7 883.1L119.8 883.1L123 883L126.2 882.2L129.3 879.1L132.5 873.9L135.7 873.4L138.8 878.3L142 881.9L145.2 883.1L148.4 882.8L151.5 882.8L154.7 882.8L157.9 882.9L161 881.4L164.2 874.2L167.4 848.1L170.5 815.8L173.7 805.5L176.9 829.2L180.1 859.2L183.2 874.9L186.4 879.8L189.6 879.2L192.7 878.2L195.9 879.2L199.1 879.3L202.2 877.5L205.4 869.3L208.6 857.9L211.8 847.4L214.9 856.8L218.1 872.2L221.3 874.3L224.4 877.6L227.6 879.2L230.8 881.2L233.9 876.6L237.1 872.6L240.3 873.4L243.5 875.8L246.6 878.3L249.8 876.8L253 874.7L256.1 876.4L259.3 877.3L262.5 879.7L265.6 880.4L268.8 879.6L272 880.5L275.2 880.3L278.3 877.4L281.5 877.7L284.7 877.9L287.8 875.6L291 870.9L294.2 871.6L297.3 875.8L300.5 880.3L303.7 880.2L306.9 881.3L310 880.5L313.2 880L316.4 878.5L319.5 880.8L322.7 879.3L325.9 879.8L329 878.1L332.2 876.9L335.4 875.2L338.6 875.4L341.7 878.7L344.9 879.4L348.1 877.5L351.2 875.7L354.4 875.2L357.6 878.4L360.7 881.4L363.9 880.9L367.1 879.5L370.3 879.3L373.4 880.9L376.6 878.5L379.8 877.5L382.9 877.6L386.1 881.6L389.3 879.6L392.4 877.6L395.6 876.9L398.8 876.4L402 876.9L405.1 876.9L408.3 877.1L411.5 878L414.6 879.5L417.8 881.8L421 879.9L424.1 881.3L427.3 881.4L430.5 881.2L433.7 880.7L436.8 880L440 881.2L443.2 879.9L446.3 879.5L449.5 879.4L452.7 879.8L455.8 879.2L459 877.2L462.2 875.9L465.4 876.3L468.5 878.6L471.7 879.9L474.9 879.6L478 877.6L481.2 876L484.4 879L487.5 880.9L490.7 879.8L493.9 881.2L497.1 880.3L500.2 881.5L503.4 879.6L506.6 878.9L509.7 880L512.9 880.5L516.1 881.7L519.2 881L522.4 880.8L525.6 879.5L528.8 879.9L531.9 878.3L535.1 878.1L538.3 879.7L541.4 881.9L544.6 880.8L547.8 881.5L550.9 881.3L554.1 881.8L557.3 880.9L560.5 878.5L563.6 880.6L566.8 880.8L568.1 879.3" stroke="#1af8c7"/>
<path d="M100.8 883.1L104 883.1L107.1 883.1L110.3 883.2L113.5 883.1L116.7 882.9L119.8 882.8L123 882.6L126.2 880.9L129.3 875.1L132.5 869.5L135.7 871.3L138.8 877.9L142 882.1L145.2 882.9L148.4 883.1L151.5 883.1L154.7 882.9L157.9 882.7L161 881.3L164.2 874.5L167.4 853.1L170.5 822.4L173.7 804.1L176.9 815.1L180.1 845.8L183.2 864L186.4 871.2L189.6 876.6L192.7 878.6L195.9 878.6L199.1 872.7L202.2 867.7L205.4 864.7L208.6 857L211.8 850L214.9 857.6L218.1 870.6L221.3 878.8L224.4 879.6L227.6 879.2L230.8 878.5L233.9 878.7L237.1 876.7L240.3 876.4L243.5 878.2L246.6 879.6L249.8 876.6L253 872.8L256.1 870.9L259.3 873.1L262.5 879.5L265.6 877.4L268.8 873.2L272 871.4L275.2 876.5L278.3 880L281.5 879L284.7 877.7L287.8 877.8L291 876L294.2 877L297.3 877L300.5 877.1L303.7 877.7L306.9 879.3L310 881.5L313.2 879.1L316.4 878.6L319.5 880.5L322.7 880.3L325.9 878.9L329 878.8L332.2 879.6L335.4 879.6L338.6 880.1L341.7 879.7L344.9 880.3L348.1 880.4L351.2 880.3L354.4 880.5L357.6 880.3L360.7 880.5L363.9 877.6L367.1 878.5L370.3 879.3L373.4 880.9L376.6 880L379.8 880.4L382.9 881L386.1 881.6L389.3 877.4L392.4 877.7L395.6 875.9L398.8 875.4L402 876L405.1 874.9L408.3 878.3L411.5 879.7L414.6 881.4L417.8 880.5L421 881.2L424.1 881.5L427.3 881.5L430.5 880.3L433.7 879.6L436.8 879.4L440 880.1L443.2 881.2L446.3 881.7L449.5 881.3L452.7 877.9L455.8 876.6L459 879.1L462.2 880.8L465.4 878.4L468.5 876.1L471.7 876.8L474.9 879.3L478 881.3L481.2 880.9L484.4 879.8L487.5 878L490.7 881.6L493.9 881.3L497.1 881.8L500.2 881.1L503.4 879.6L506.6 881.9L509.7 880.9L512.9 879.6L516.1 878.3L519.2 877L522.4 875.9L525.6 878L528.8 879.7L531.9 880.2L535.1 880.1L538.3 879.4L541.4 879.3L544.6 880.4L547.8 881.3L550.9 881L554.1 880.4L557.3 880.6L560.5 880.7L563.6 881.7L566.8 881.9L568.1 881.8" stroke="#8c5bf1"/>
<path d="M100.8 882.7L104 882.6L107.1 882.6L110.3 882.9L113.5 883L116.7 883.2L119.8 883.1L123 883.1L126.2 882.6L129.3 879.6L132.5 872.7L135.7 870L138.8 876.4L142 881.4L145.2 883L148.4 883.1L151.5 882.9L154.7 883.1L157.9 883L161 881.5L164.2 874.5L167.4 850L170.5 818.1L173.7 802L176.9 820.7L180.1 850.9L183.2 871.9L186.4 877.8L189.6 875.2L192.7 873L195.9 872L199.1 872L202.2 873.4L205.4 869.9L208.6 859.8L211.8 851.6L214.9 857.5L218.1 869L221.3 875.7L224.4 878.8L227.6 880.2L230.8 880.4L233.9 878.1L237.1 877.6L240.3 880.5L243.5 878.7L246.6 872.3L249.8 865.7L253 864.2L256.1 869.2L259.3 869.9L262.5 868.8L265.6 873.7L268.8 875.8L272 878.9L275.2 879.2L278.3 877.5L281.5 879.3L284.7 879.3L287.8 873.8L291 872.4L294.2 874.8L297.3 877.6L300.5 879.2L303.7 878.8L306.9 879L310 880.3L313.2 881.4L316.4 880.8L319.5 878L322.7 878.3L325.9 877.4L329 878.6L332.2 881.5L335.4 879.1L338.6 878.1L341.7 877.4L344.9 878.1L348.1 876.7L351.2 875.8L354.4 876.1L357.6 877.3L360.7 879.3L363.9 880.5L367.1 880L370.3 881.1L373.4 880.7L376.6 881.4L379.8 881.5L382.9 881.5L386.1 880.9L389.3 879.9L392.4 881.1L395.6 881.7L398.8 881L402 881.2L405.1 880.7L408.3 881L411.5 880.2L414.6 879.4L417.8 878.5L421 880.8L424.1 879.9L427.3 879.4L430.5 879.8L433.7 881.4L436.8 880.9L440 879.3L443.2 878.5L446.3 878.8L449.5 879.6L452.7 878.6L455.8 879.5L459 881.7L462.2 881L465.4 881.7L468.5 880.6L471.7 879.3L474.9 877.1L478 877.6L481.2 879.6L484.4 879.5L487.5 877.8L490.7 881.3L493.9 879.1L497.1 878.7L500.2 881.4L503.4 881L506.6 881.9L509.7 879.7L512.9 880.2L516.1 880.7L519.2 881.1L522.4 880.4L525.6 879.9L528.8 881L531.9 878L535.1 877L538.3 877.4L541.4 879.6L544.6 881.5L547.8 880.4L550.9 879.9L554.1 880.5L557.3 881.6L560.5 881L563.6 879.2L566.8 878.7L568.1 879.7" stroke="#eee555"/>
<path d="M100.8 883L104 882.9L107.1 883L110.3 883.1L113.5 882.8L116.7 882.8L119.8 883L123 883L126.2 882.4L129.3 879.5L132.5 875.6L135.7 875.5L138.8 879.4L142 882.4L145.2 883L148.4 883.1L151.5 883.1L154.7 882.9L157.9 882.8L161 882.3L164.2 878.6L167.4 863.7L170.5 841.7L173.7 832.8L176.9 848.7L180.1 868.6L183.2 874.7L186.4 879L189.6 880.5L192.7 877.9L195.9 877L199.1 880.3L202.2 880L205.4 875.1L208.6 861.6L211.8 848.2L214.9 851.7L218.1 869.2L221.3 876.7L224.4 880.5L227.6 879.8L230.8 878.6L233.9 878.8L237.1 880.2L240.3 878.1L243.5 877.5L246.6 879.1L249.8 874.3L253 869.6L256.1 870L259.3 872.9L262.5 875.4L265.6 877.8L268.8 881.4L272 880.7L275.2 878.2L278.3 876.7L281.5 878.1L284.7 877.5L287.8 874.3L291 872.4L294.2 875.1L297.3 873.4L300.5 877.1L303.7 880.5L306.9 879.1L310 877.5L313.2 878.5L316.4 879.8L319.5 881.5L322.7 880.6L325.9 878.6L329 878.3L332.2 880.5L335.4 879.5L338.6 877.8L341.7 879L344.9 881.5L348.1 879.5L351.2 877L354.4 872.4L357.6 870.5L360.7 875.5L363.9 878.6L367.1 880.5L370.3 880.7L373.4 880.4L376.6 881.3L379.8 880.2L382.9 880.4L386.1 880L389.3 879.3L392.4 877.5L395.6 876.9L398.8 879L402 881.5L405.1 879.5L408.3 881.4L411.5 880.4L414.6 881.6L417.8 880.3L421 879.6L424.1 881L427.3 880.6L430.5 879.3L433.7 877.8L436.8 877L440 877.5L443.2 881.3L446.3 880L449.5 879.3L452.7 878.5L455.8 878.4L459 877.2L462.2 876.5L465.4 878.8L468.5 880.7L471.7 881.6L474.9 881.8L478 881.8L481.2 881.3L484.4 880.9L487.5 880.7L490.7 879.4L493.9 879.6L497.1 880.1L500.2 880.3L503.4 881.6L506.6 880.3L509.7 879.9L512.9 881.3L516.1 881.9L519.2 880.7L522.4 880.2L525.6 878.6L528.8 878.7L531.9 881.2L535.1 880.2L538.3 881.1L541.4 880.9L544.6 881.5L547.8 881.6L550.9 879.1L554.1 877.2L557.3 878.8L560.5 880.5L563.6 879.7L566.8 878.5L568.1 880.6" stroke="#5b5b5b"/>
</g>
<rect x="100.6" y="553.6" width="466.9" height="343.5" fill="none" stroke="#747474" stroke-width="1.1"/>
<path d="M100.6 897.1H567.5M100.6 897.1V603.4M173.4 897.1v6.4M252.7 897.1v6.4M331.9 897.1v6.4M411.1 897.1v6.4M490.4 897.1v6.4M100.6 884.4h-6.4M100.6 814.1h-6.4M100.6 743.9h-6.4M100.6 673.6h-6.4M100.6 603.4h-6.4" fill="none" stroke="#3c3c3c" stroke-width="1.15"/>
<g font-family="'Liberation Sans', Arial, Helvetica, sans-serif" font-size="10.2" fill="#262626" stroke="#262626" stroke-width="0.35" text-anchor="middle">
<text transform="translate(173.4 919.1) scale(1.15 1)">1</text>
<text transform="translate(252.7 919.1) scale(1.15 1)">2</text>
<text transform="translate(331.9 919.1) scale(1.15 1)">3</text>
<text transform="translate(411.1 919.1) scale(1.15 1)">4</text>
<text transform="translate(490.4 919.1) scale(1.15 1)">5</text>
</g>
<g font-family="'Liberation Sans', Arial, Helvetica, sans-serif" font-size="10.2" fill="#262626" stroke="#262626" stroke-width="0.35" text-anchor="middle">
<text transform="translate(85.7 884.4) rotate(-90) scale(0.875 1)">0.0</text>
<text transform="translate(85.7 814.1) rotate(-90) scale(0.875 1)">0.1</text>
<text transform="translate(85.7 743.9) rotate(-90) scale(0.875 1)">0.2</text>
<text transform="translate(85.7 673.6) rotate(-90) scale(0.875 1)">0.3</text>
<text transform="translate(85.7 603.4) rotate(-90) scale(0.875 1)">0.4</text>
</g>
</g>
<g id="panel-b">
<path d="M744.8 94.5V448.0M822.4 94.5V448.0M900.1 94.5V448.0M977.8 94.5V448.0M1055.5 94.5V448.0M676.5 304.2H1127.6M676.5 215.6H1127.6M676.5 127.0H1127.6" fill="none" stroke="#dedede" stroke-width="1" stroke-dasharray="1 2.4"/>
<clipPath id="cp-b"><rect x="673.5" y="91.5" width="457.1" height="358.5"/></clipPath>
<path d="M672.8 392.8H1130.6" stroke="#c2c2c2" stroke-width="1.9" stroke-dasharray="7.1 4.4" fill="none" clip-path="url(#cp-b)"/>
<g fill="none" stroke-width="2.5" stroke-linejoin="round" stroke-linecap="round" transform="scale(0.78 1)">
<path d="M885.1 375.9L885.7 374.7L886.4 373.2L887 371.8L887.7 370.3L888.3 369L888.9 367.9L889.6 367L890.2 366.3L890.9 365.8L891.5 365.4L892.1 365.1L892.8 364.9L893.4 364.8L894.1 364.8L894.7 364.8L895.3 364.8L896 364.8L896.6 364.8L897.3 364.9L897.9 364.9L898.6 365L899.2 365L899.8 365.1L900.5 365.1L901.1 365.1L901.8 365.1L902.4 365.1L903 365.1L903.7 365.1L904.3 365L905 364.9L905.6 364.9L906.3 364.8L906.9 364.7L907.5 364.6L908.2 364.6L908.8 364.5L909.5 364.5L910.1 364.5L910.7 364.5L911.4 364.5L912 364.6L912.7 364.6L913.3 364.7L913.9 364.9L914.6 365L915.2 365.2L915.9 365.4L916.5 365.6L917.2 365.8L917.8 366L918.4 366.3L919.1 366.6L919.7 366.9L920.4 367.2L921 367.5L921.6 367.7L922.3 367.9L922.9 368L923.6 368L924.2 367.9L924.9 367.8L925.5 367.5L926.1 367.2L926.8 366.6L927.4 365.9L928.1 365L928.7 363.8L929.3 362.4L930 360.7L930.6 358.8L931.3 356.7L931.9 354.4L932.5 352.1L933.2 349.6L933.8 347.2L934.5 344.6L935.1 342.1L935.8 339.5L936.4 336.9L937 334.2L937.7 331.4L938.3 328.6L939 325.7L939.6 322.8L940.2 319.7L940.9 316.5L941.5 313.2L942.2 310L942.8 306.7L943.5 303.6L944.1 300.6L944.7 297.7L945.4 295L946 292.4L946.7 289.9L947.3 287.6L947.9 285.3L948.6 283.2L949.2 281.3L949.9 279.4L950.5 277.6L951.1 276L951.8 274.4L952.4 273L953.1 271.8L953.7 270.8L954.4 270.1L955 269.8L955.6 269.8L956.3 270.2L956.9 270.9L957.6 272L958.2 273.4L958.8 275.1L959.5 277.1L960.1 279.3L960.8 281.7L961.4 284.4L962 287.4L962.7 290.4L963.3 293.7L964 297L964.6 300.4L965.3 303.8L965.9 307.2L966.5 310.5L967.2 313.8L967.8 317L968.5 320.1L969.1 323.2L969.7 326.3L970.4 329.5L971 332.8L971.7 336.3L972.3 339.9L973 343.5L973.6 347L974.2 350.4L974.9 353.5L975.5 356.3L976.2 358.6L976.8 360.6L977.4 362.2L978.1 363.5L978.7 364.6L979.4 365.4L980 366.1L980.6 366.6L981.3 367L981.9 367.2L982.6 367.3L983.2 367.2L983.9 367L984.5 366.6L985.1 366.1L985.8 365.5L986.4 364.7L987.1 363.9L987.7 363L988.3 362L989 361L989.6 360L990.3 358.9L990.9 357.9L991.6 356.8L992.2 355.9L992.8 354.9L993.5 354L994.1 353.2L994.8 352.4L995.4 351.7L996 351L996.7 350.4L997.3 349.8L998 349.3L998.6 348.9L999.2 348.5L999.9 348.1L1000.5 347.8L1001.2 347.6L1001.8 347.4L1002.5 347.2L1003.1 347.1L1003.7 347.1L1004.4 347.1L1005 347.2L1005.7 347.4L1006.3 347.6L1006.9 347.9L1007.6 348.2L1008.2 348.6L1008.9 349L1009.5 349.5L1010.2 350.1L1010.8 350.8L1011.4 351.5L1012.1 352.3L1012.7 353.2L1013.4 354.1L1014 355.1L1014.6 356L1015.3 357L1015.9 358L1016.6 359L1017.2 359.9L1017.8 360.9L1018.5 361.8L1019.1 362.6L1019.8 363.5L1020.4 364.3L1021.1 365.1L1021.7 365.8L1022.3 366.5L1023 367.1L1023.6 367.7L1024.3 368.2L1024.9 368.7L1025.5 369.2L1026.2 369.6L1026.8 370L1027.5 370.3L1028.1 370.6L1028.7 370.9L1029.4 371.1L1030 371.3L1030.7 371.5L1031.3 371.6L1032 371.7L1032.6 371.8L1033.2 371.8L1033.9 371.8L1034.5 371.8L1035.2 371.7L1035.8 371.6L1036.4 371.4L1037.1 371.2L1037.7 370.9L1038.4 370.6L1039 370.3L1039.7 370L1040.3 369.6L1040.9 369.2L1041.6 368.8L1042.2 368.4L1042.9 368L1043.5 367.5L1044.1 367L1044.8 366.5L1045.4 366L1046.1 365.6L1046.7 365.1L1047.3 364.7L1048 364.3L1048.6 363.9L1049.3 363.5L1049.9 363.2L1050.6 362.9L1051.2 362.6L1051.8 362.3L1052.5 362.1L1053.1 361.9L1053.8 361.7L1054.4 361.5L1055 361.3L1055.7 361.2L1056.3 361.1L1057 361L1057.6 361L1058.3 361L1058.9 361L1059.5 361.1L1060.2 361.2L1060.8 361.3L1061.5 361.5L1062.1 361.7L1062.7 361.9L1063.4 362.1L1064 362.4L1064.7 362.7L1065.3 362.9L1065.9 363.2L1066.6 363.5L1067.2 363.8L1067.9 364.2L1068.5 364.5L1069.2 364.9L1069.8 365.3L1070.4 365.7L1071.1 366.1L1071.7 366.5L1072.4 366.9L1073 367.2L1073.6 367.6L1074.3 367.9L1074.9 368.3L1075.6 368.6L1076.2 368.8L1076.9 369.1L1077.5 369.3L1078.1 369.6L1078.8 369.8L1079.4 370L1080.1 370.2L1080.7 370.4L1081.3 370.5L1082 370.7L1082.6 370.8L1083.3 371L1083.9 371.1L1084.5 371.2L1085.2 371.2L1085.8 371.3L1086.5 371.3L1087.1 371.3L1087.8 371.3L1088.4 371.2L1089 371.1L1089.7 371L1090.3 370.9L1091 370.8L1091.6 370.6L1092.2 370.5L1092.9 370.3L1093.5 370.1L1094.2 370L1094.8 369.8L1095.4 369.6L1096.1 369.4L1096.7 369.2L1097.4 369L1098 368.8L1098.7 368.7L1099.3 368.5L1099.9 368.3L1100.6 368.1L1101.2 367.9L1101.9 367.7L1102.5 367.5L1103.1 367.3L1103.8 367.1L1104.4 366.9L1105.1 366.8L1105.7 366.6L1106.4 366.5L1107 366.3L1107.6 366.2L1108.3 366.1L1108.9 365.9L1109.6 365.8L1110.2 365.7L1110.8 365.7L1111.5 365.6L1112.1 365.6L1112.8 365.6L1113.4 365.7L1114 365.8L1114.7 365.9L1115.3 366L1116 366.2L1116.6 366.4L1117.3 366.6L1117.9 366.8L1118.5 367L1119.2 367.3L1119.8 367.6L1120.5 367.9L1121.1 368.2L1121.7 368.5L1122.4 368.8L1123 369.2L1123.7 369.5L1124.3 369.9L1125 370.3L1125.6 370.7L1126.2 371.1L1126.9 371.6L1127.5 372L1128.2 372.4L1128.8 372.8L1129.4 373.3L1130.1 373.7L1130.7 374.1L1131.4 374.6L1132 375L1132.6 375.5L1133.3 375.9L1133.9 376.4L1134.6 376.8L1135.2 377.2L1135.9 377.6L1136.5 377.9L1137.1 378.3L1137.8 378.6L1138.4 378.9L1139.1 379.2L1139.7 379.5L1140.3 379.8L1141 380.1L1141.6 380.3L1142.3 380.5L1142.9 380.8L1143.6 380.9L1144.2 381.1L1144.8 381.3L1145.5 381.4L1146.1 381.5L1146.8 381.5L1147.4 381.5L1148 381.4L1148.7 381.3L1149.3 381.2L1150 381L1150.6 380.8L1151.2 380.5L1151.9 380.3L1152.5 380L1153.2 379.6L1153.8 379.3L1154.5 379L1155.1 378.6L1155.7 378.2L1156.4 377.8L1157 377.4L1157.7 376.9L1158.3 376.5L1158.9 376L1159.6 375.6L1160.2 375.2L1160.9 374.8L1161.5 374.4L1162.1 374.1L1162.8 373.8L1163.4 373.5L1164.1 373.3L1164.7 373.1L1165.4 372.9L1166 372.8L1166.6 372.6L1167.3 372.5L1167.9 372.4L1168.6 372.4L1169.2 372.3L1169.8 372.3L1170.5 372.3L1171.1 372.3L1171.8 372.3L1172.4 372.3L1173.1 372.3L1173.7 372.4L1174.3 372.4L1175 372.4L1175.6 372.4L1176.3 372.5L1176.9 372.5L1177.5 372.4L1178.2 372.4L1178.8 372.3L1179.5 372.2L1180.1 372L1180.7 371.7L1181.4 371.5L1182 371.1L1182.7 370.8L1183.3 370.4L1184 370L1184.6 369.6L1185.2 369.2L1185.9 368.8L1186.5 368.5L1187.2 368.1L1187.8 367.8L1188.4 367.5L1189.1 367.2L1189.7 366.9L1190.4 366.6L1191 366.2L1191.7 365.9L1192.3 365.6L1192.9 365.2L1193.6 364.9L1194.2 364.5L1194.9 364.1L1195.5 363.6L1196.1 363.2L1196.8 362.7L1197.4 362.2L1198.1 361.7L1198.7 361.2L1199.3 360.8L1200 360.4L1200.6 360L1201.3 359.6L1201.9 359.3L1202.6 359.1L1203.2 358.8L1203.8 358.6L1204.5 358.4L1205.1 358.3L1205.8 358.2L1206.4 358L1207 358L1207.7 357.9L1208.3 357.9L1209 358L1209.6 358L1210.3 358.2L1210.9 358.3L1211.5 358.6L1212.2 358.9L1212.8 359.2L1213.5 359.6L1214.1 360L1214.7 360.4L1215.4 360.9L1216 361.4L1216.7 362L1217.3 362.6L1217.9 363.2L1218.6 363.8L1219.2 364.4L1219.9 365L1220.5 365.6L1221.2 366.1L1221.8 366.5L1222.4 366.9L1223.1 367.2L1223.7 367.5L1224.4 367.7L1225 368L1225.6 368.2L1226.3 368.3L1226.9 368.5L1227.6 368.6L1228.2 368.7L1228.9 368.8L1229.5 368.9L1230.1 369L1230.8 369L1231.4 369L1232.1 368.9L1232.7 368.9L1233.3 368.8L1234 368.7L1234.6 368.6L1235.3 368.5L1235.9 368.4L1236.5 368.2L1237.2 368.1L1237.8 368L1238.5 367.8L1239.1 367.7L1239.8 367.6L1240.4 367.4L1241 367.3L1241.7 367.2L1242.3 367L1243 366.9L1243.6 366.8L1244.2 366.6L1244.9 366.5L1245.5 366.3L1246.2 366.2L1246.8 366.1L1247.4 365.9L1248.1 365.8L1248.7 365.7L1249.4 365.6L1250 365.5L1250.7 365.4L1251.3 365.3L1251.9 365.2L1252.6 365.1L1253.2 365L1253.9 364.9L1254.5 364.8L1255.1 364.7L1255.8 364.6L1256.4 364.6L1257.1 364.5L1257.7 364.4L1258.4 364.4L1259 364.3L1259.6 364.2L1260.3 364.2L1260.9 364.1L1261.6 364.1L1262.2 364L1262.8 364L1263.5 364L1264.1 363.9L1264.8 363.9L1265.4 363.9L1266 364L1266.7 364L1267.3 364.1L1268 364.2L1268.6 364.3L1269.3 364.5L1269.9 364.7L1270.5 364.9L1271.2 365.2L1271.8 365.5L1272.5 365.9L1273.1 366.3L1273.7 366.7L1274.4 367.2L1275 367.7L1275.7 368.3L1276.3 368.8L1277 369.3L1277.6 369.9L1278.2 370.4L1278.9 370.9L1279.5 371.4L1280.2 371.9L1280.8 372.4L1281.4 372.8L1282.1 373.2L1282.7 373.6L1283.4 373.9L1284 374.2L1284.6 374.4L1285.3 374.6L1285.9 374.8L1286.6 374.9L1287.2 375L1287.9 375.1L1288.5 375.1L1289.1 375.2L1289.8 375.1L1290.4 375.1L1291.1 375L1291.7 374.9L1292.3 374.7L1293 374.6L1293.6 374.4L1294.3 374.2L1294.9 373.9L1295.6 373.7L1296.2 373.4L1296.8 373.2L1297.5 372.9L1298.1 372.6L1298.8 372.3L1299.4 372L1300 371.7L1300.7 371.5L1301.3 371.2L1302 371L1302.6 370.8L1303.2 370.6L1303.9 370.4L1304.5 370.3L1305.2 370.1L1305.8 370L1306.5 369.9L1307.1 369.8L1307.7 369.8L1308.4 369.7L1309 369.6L1309.7 369.6L1310.3 369.5L1310.9 369.5L1311.6 369.4L1312.2 369.4L1312.9 369.4L1313.5 369.3L1314.1 369.3L1314.8 369.3L1315.4 369.2L1316.1 369.2L1316.7 369.1L1317.4 369.1L1318 369L1318.6 369L1319.3 368.9L1319.9 368.8L1320.6 368.7L1321.2 368.5L1321.8 368.4L1322.5 368.2L1323.1 368.1L1323.8 367.9L1324.4 367.8L1325.1 367.6L1325.7 367.5L1326.3 367.3L1327 367.2L1327.6 367L1328.3 366.9L1328.9 366.8L1329.5 366.7L1330.2 366.6L1330.8 366.5L1331.5 366.4L1332.1 366.3L1332.7 366.2L1333.4 366.1L1334 366.1L1334.7 366L1335.3 366L1336 366L1336.6 365.9L1337.2 365.9L1337.9 365.9L1338.5 365.9L1339.2 365.9L1339.8 365.9L1340.4 365.9L1341.1 365.9L1341.7 366L1342.4 366L1343 366L1343.7 366L1344.3 366.1L1344.9 366.1L1345.6 366.2L1346.2 366.2L1346.9 366.3L1347.5 366.3L1348.1 366.3L1348.8 366.3L1349.4 366.3L1350.1 366.2L1350.7 366.2L1351.3 366.1L1352 366L1352.6 365.9L1353.3 365.8L1353.9 365.7L1354.6 365.6L1355.2 365.6L1355.8 365.5L1356.5 365.4L1357.1 365.4L1357.8 365.3L1358.4 365.2L1359 365.2L1359.7 365.2L1360.3 365.1L1361 365.1L1361.6 365.1L1362.3 365.1L1362.9 365.2L1363.5 365.2L1364.2 365.3L1364.8 365.4L1365.5 365.5L1366.1 365.7L1366.7 365.8L1367.4 366L1368 366.2L1368.7 366.4L1369.3 366.6L1369.9 366.9L1370.6 367.1L1371.2 367.4L1371.9 367.7L1372.5 368L1373.2 368.3L1373.8 368.6L1374.4 368.9L1375.1 369.2L1375.7 369.5L1376.4 369.8L1377 370.1L1377.6 370.4L1378.3 370.7L1378.9 370.9L1379.6 371.2L1380.2 371.4L1380.8 371.7L1381.5 371.9L1382.1 372.2L1382.8 372.4L1383.4 372.6L1384.1 372.9L1384.7 373.1L1385.3 373.3L1386 373.5L1386.6 373.7L1387.3 373.9L1387.9 374.1L1388.5 374.3L1389.2 374.4L1389.8 374.6L1390.5 374.8L1391.1 374.9L1391.8 375.1L1392.4 375.3L1393 375.4L1393.7 375.6L1394.3 375.7L1395 375.8L1395.6 376L1396.2 376.1L1396.9 376.3L1397.5 376.4L1398.2 376.5L1398.8 376.7L1399.4 376.8L1400.1 376.9L1400.7 377L1401.4 377.2L1402 377.3L1402.7 377.4L1403.3 377.5L1403.9 377.5L1404.6 377.6L1405.2 377.6L1405.9 377.7L1406.5 377.7L1407.1 377.6L1407.8 377.6L1408.4 377.5L1409.1 377.4L1409.7 377.3L1410.4 377.1L1411 376.9L1411.6 376.7L1412.3 376.5L1412.9 376.3L1413.6 376.1L1414.2 375.8L1414.8 375.5L1415.5 375.3L1416.1 375L1416.8 374.7L1417.4 374.5L1418 374.2L1418.7 374L1419.3 373.7L1420 373.5L1420.6 373.4L1421.3 373.2L1421.9 373.1L1422.5 373L1423.2 373L1423.8 373L1424.5 373L1425.1 373.1L1425.7 373.3L1426.4 373.5L1427 373.7L1427.7 374L1428.3 374.2" stroke="#0000ff"/>
<path d="M885.1 370.8L885.7 370.6L886.4 370.4L887 370.1L887.7 369.7L888.3 369.3L888.9 368.8L889.6 368.2L890.2 367.6L890.9 366.8L891.5 366L892.1 365.1L892.8 364.1L893.4 363L894.1 361.8L894.7 360.5L895.3 359.1L896 357.7L896.6 356.2L897.3 354.8L897.9 353.3L898.6 351.8L899.2 350.4L899.8 349L900.5 347.7L901.1 346.5L901.8 345.4L902.4 344.4L903 343.6L903.7 342.9L904.3 342.5L905 342.4L905.6 342.6L906.3 343L906.9 343.7L907.5 344.7L908.2 345.9L908.8 347.3L909.5 348.8L910.1 350.3L910.7 351.8L911.4 353.3L912 354.8L912.7 356.1L913.3 357.3L913.9 358.3L914.6 359.2L915.2 360L915.9 360.6L916.5 361.2L917.2 361.6L917.8 361.9L918.4 362.2L919.1 362.4L919.7 362.5L920.4 362.6L921 362.6L921.6 362.6L922.3 362.6L922.9 362.5L923.6 362.4L924.2 362.3L924.9 362.1L925.5 361.9L926.1 361.7L926.8 361.4L927.4 361.1L928.1 360.8L928.7 360.5L929.3 360.1L930 359.7L930.6 359.2L931.3 358.6L931.9 358.1L932.5 357.4L933.2 356.7L933.8 355.9L934.5 355.1L935.1 354.1L935.8 353.1L936.4 351.9L937 350.5L937.7 349L938.3 347.1L939 344.8L939.6 342.1L940.2 338.8L940.9 334.9L941.5 330.4L942.2 325.2L942.8 319.4L943.5 313.3L944.1 306.8L944.7 300.1L945.4 293.3L946 286.6L946.7 280L947.3 273.6L947.9 267.4L948.6 261.5L949.2 256L949.9 250.8L950.5 245.8L951.1 241.2L951.8 236.9L952.4 233L953.1 229.7L953.7 227.2L954.4 225.7L955 225.3L955.6 226.1L956.3 228L956.9 230.9L957.6 234.4L958.2 238.5L958.8 243L959.5 247.7L960.1 252.6L960.8 257.8L961.4 263.1L962 268.7L962.7 274.6L963.3 280.7L964 287L964.6 293.4L965.3 299.8L965.9 306.2L966.5 312.3L967.2 318.1L967.8 323.4L968.5 328L969.1 332L969.7 335.4L970.4 338.2L971 340.5L971.7 342.5L972.3 344.2L973 345.7L973.6 347L974.2 348.2L974.9 349.3L975.5 350.1L976.2 350.9L976.8 351.5L977.4 352L978.1 352.5L978.7 352.9L979.4 353.2L980 353.4L980.6 353.6L981.3 353.7L981.9 353.8L982.6 353.8L983.2 353.7L983.9 353.6L984.5 353.3L985.1 353L985.8 352.6L986.4 352.2L987.1 351.6L987.7 351L988.3 350.2L989 349.3L989.6 348.2L990.3 346.9L990.9 345.4L991.6 343.7L992.2 341.8L992.8 339.6L993.5 337.3L994.1 334.7L994.8 332L995.4 329.2L996 326.2L996.7 323.1L997.3 320.1L998 317L998.6 314L999.2 311.2L999.9 308.6L1000.5 306.1L1001.2 303.9L1001.8 302L1002.5 300.4L1003.1 299.2L1003.7 298.5L1004.4 298.2L1005 298.4L1005.7 299L1006.3 300.1L1006.9 301.7L1007.6 303.5L1008.2 305.6L1008.9 308L1009.5 310.5L1010.2 313.2L1010.8 316L1011.4 318.8L1012.1 321.6L1012.7 324.4L1013.4 327.1L1014 329.7L1014.6 332.2L1015.3 334.6L1015.9 336.8L1016.6 338.9L1017.2 340.8L1017.8 342.5L1018.5 344L1019.1 345.4L1019.8 346.5L1020.4 347.6L1021.1 348.5L1021.7 349.2L1022.3 349.9L1023 350.5L1023.6 351L1024.3 351.5L1024.9 351.9L1025.5 352.2L1026.2 352.6L1026.8 352.9L1027.5 353.1L1028.1 353.4L1028.7 353.6L1029.4 353.7L1030 353.8L1030.7 353.8L1031.3 353.8L1032 353.7L1032.6 353.5L1033.2 353.2L1033.9 352.9L1034.5 352.5L1035.2 352L1035.8 351.5L1036.4 350.9L1037.1 350.3L1037.7 349.6L1038.4 348.8L1039 348L1039.7 347.2L1040.3 346.2L1040.9 345.2L1041.6 344.1L1042.2 342.9L1042.9 341.6L1043.5 340.3L1044.1 338.9L1044.8 337.5L1045.4 336L1046.1 334.5L1046.7 332.9L1047.3 331.3L1048 329.7L1048.6 328L1049.3 326.4L1049.9 324.8L1050.6 323.3L1051.2 321.8L1051.8 320.5L1052.5 319.3L1053.1 318.4L1053.8 317.7L1054.4 317.4L1055 317.4L1055.7 317.7L1056.3 318.4L1057 319.3L1057.6 320.5L1058.3 321.8L1058.9 323.3L1059.5 324.8L1060.2 326.4L1060.8 328L1061.5 329.6L1062.1 331.2L1062.7 332.8L1063.4 334.4L1064 336L1064.7 337.5L1065.3 339L1065.9 340.5L1066.6 342L1067.2 343.3L1067.9 344.6L1068.5 345.8L1069.2 347L1069.8 348L1070.4 348.9L1071.1 349.6L1071.7 350.4L1072.4 351L1073 351.6L1073.6 352.1L1074.3 352.5L1074.9 353L1075.6 353.3L1076.2 353.7L1076.9 354L1077.5 354.2L1078.1 354.4L1078.8 354.5L1079.4 354.6L1080.1 354.6L1080.7 354.6L1081.3 354.5L1082 354.3L1082.6 354.1L1083.3 353.8L1083.9 353.4L1084.5 353L1085.2 352.6L1085.8 352.1L1086.5 351.6L1087.1 351L1087.8 350.3L1088.4 349.5L1089 348.6L1089.7 347.6L1090.3 346.5L1091 345.3L1091.6 344.1L1092.2 342.8L1092.9 341.5L1093.5 340.1L1094.2 338.8L1094.8 337.4L1095.4 336.1L1096.1 334.7L1096.7 333.3L1097.4 331.9L1098 330.4L1098.7 329L1099.3 327.5L1099.9 326L1100.6 324.5L1101.2 323.1L1101.9 321.9L1102.5 320.9L1103.1 320.1L1103.8 319.6L1104.4 319.4L1105.1 319.5L1105.7 320L1106.4 320.7L1107 321.7L1107.6 322.9L1108.3 324.2L1108.9 325.7L1109.6 327.2L1110.2 328.7L1110.8 330.2L1111.5 331.7L1112.1 333.1L1112.8 334.5L1113.4 335.9L1114 337.3L1114.7 338.6L1115.3 339.9L1116 341.1L1116.6 342.4L1117.3 343.5L1117.9 344.6L1118.5 345.7L1119.2 346.6L1119.8 347.4L1120.5 348.2L1121.1 348.8L1121.7 349.4L1122.4 349.9L1123 350.3L1123.7 350.7L1124.3 351L1125 351.3L1125.6 351.5L1126.2 351.7L1126.9 351.9L1127.5 352L1128.2 352.1L1128.8 352.1L1129.4 352.1L1130.1 352L1130.7 351.9L1131.4 351.8L1132 351.6L1132.6 351.3L1133.3 351L1133.9 350.7L1134.6 350.3L1135.2 349.9L1135.9 349.5L1136.5 349L1137.1 348.4L1137.8 347.7L1138.4 347L1139.1 346.1L1139.7 345.2L1140.3 344.2L1141 343.2L1141.6 342L1142.3 340.8L1142.9 339.6L1143.6 338.4L1144.2 337.1L1144.8 335.8L1145.5 334.4L1146.1 333L1146.8 331.6L1147.4 330.1L1148 328.6L1148.7 327.1L1149.3 325.6L1150 324.1L1150.6 322.8L1151.2 321.6L1151.9 320.6L1152.5 319.9L1153.2 319.5L1153.8 319.4L1154.5 319.6L1155.1 320.1L1155.7 320.9L1156.4 321.9L1157 323.2L1157.7 324.6L1158.3 326.1L1158.9 327.7L1159.6 329.3L1160.2 330.9L1160.9 332.4L1161.5 333.9L1162.1 335.3L1162.8 336.7L1163.4 338L1164.1 339.3L1164.7 340.4L1165.4 341.6L1166 342.6L1166.6 343.6L1167.3 344.6L1167.9 345.4L1168.6 346.2L1169.2 346.9L1169.8 347.5L1170.5 348.1L1171.1 348.6L1171.8 349L1172.4 349.3L1173.1 349.6L1173.7 349.9L1174.3 350.1L1175 350.3L1175.6 350.5L1176.3 350.7L1176.9 350.8L1177.5 350.9L1178.2 350.9L1178.8 351L1179.5 351L1180.1 350.9L1180.7 350.8L1181.4 350.6L1182 350.5L1182.7 350.2L1183.3 349.9L1184 349.6L1184.6 349.3L1185.2 348.9L1185.9 348.5L1186.5 348L1187.2 347.5L1187.8 347L1188.4 346.4L1189.1 345.8L1189.7 345.2L1190.4 344.5L1191 343.7L1191.7 342.9L1192.3 342L1192.9 341.2L1193.6 340.3L1194.2 339.4L1194.9 338.6L1195.5 337.7L1196.1 336.9L1196.8 336L1197.4 335.2L1198.1 334.3L1198.7 333.5L1199.3 332.7L1200 331.9L1200.6 331.1L1201.3 330.5L1201.9 329.9L1202.6 329.4L1203.2 329.2L1203.8 329.1L1204.5 329.2L1205.1 329.6L1205.8 330.1L1206.4 330.8L1207 331.6L1207.7 332.5L1208.3 333.4L1209 334.4L1209.6 335.4L1210.3 336.4L1210.9 337.4L1211.5 338.3L1212.2 339.3L1212.8 340.3L1213.5 341.2L1214.1 342.1L1214.7 343L1215.4 343.9L1216 344.7L1216.7 345.4L1217.3 346.1L1217.9 346.7L1218.6 347.2L1219.2 347.7L1219.9 348.1L1220.5 348.5L1221.2 348.8L1221.8 349.1L1222.4 349.4L1223.1 349.6L1223.7 349.8L1224.4 350L1225 350.2L1225.6 350.3L1226.3 350.5L1226.9 350.5L1227.6 350.6L1228.2 350.6L1228.9 350.6L1229.5 350.6L1230.1 350.5L1230.8 350.3L1231.4 350.1L1232.1 349.9L1232.7 349.7L1233.3 349.4L1234 349.1L1234.6 348.7L1235.3 348.3L1235.9 347.9L1236.5 347.4L1237.2 346.9L1237.8 346.4L1238.5 345.8L1239.1 345.2L1239.8 344.4L1240.4 343.7L1241 342.8L1241.7 341.9L1242.3 340.9L1243 339.9L1243.6 338.8L1244.2 337.8L1244.9 336.7L1245.5 335.6L1246.2 334.6L1246.8 333.5L1247.4 332.4L1248.1 331.4L1248.7 330.4L1249.4 329.4L1250 328.5L1250.7 327.7L1251.3 327L1251.9 326.5L1252.6 326.2L1253.2 326L1253.9 326.1L1254.5 326.4L1255.1 326.9L1255.8 327.7L1256.4 328.6L1257.1 329.6L1257.7 330.8L1258.4 332L1259 333.2L1259.6 334.5L1260.3 335.8L1260.9 336.9L1261.6 338.1L1262.2 339.1L1262.8 340.2L1263.5 341.1L1264.1 342L1264.8 342.9L1265.4 343.7L1266 344.5L1266.7 345.2L1267.3 345.8L1268 346.5L1268.6 347L1269.3 347.5L1269.9 348L1270.5 348.5L1271.2 348.9L1271.8 349.3L1272.5 349.7L1273.1 350.1L1273.7 350.4L1274.4 350.7L1275 351.1L1275.7 351.4L1276.3 351.6L1277 351.9L1277.6 352.1L1278.2 352.4L1278.9 352.5L1279.5 352.7L1280.2 352.8L1280.8 352.9L1281.4 352.9L1282.1 353L1282.7 352.9L1283.4 352.9L1284 352.8L1284.6 352.6L1285.3 352.4L1285.9 352.2L1286.6 352L1287.2 351.7L1287.9 351.4L1288.5 351.1L1289.1 350.8L1289.8 350.4L1290.4 350L1291.1 349.6L1291.7 349.2L1292.3 348.8L1293 348.4L1293.6 347.9L1294.3 347.4L1294.9 346.9L1295.6 346.4L1296.2 345.8L1296.8 345.2L1297.5 344.6L1298.1 344.1L1298.8 343.5L1299.4 343L1300 342.5L1300.7 342L1301.3 341.7L1302 341.3L1302.6 341.1L1303.2 341L1303.9 341L1304.5 341.1L1305.2 341.3L1305.8 341.6L1306.5 342L1307.1 342.5L1307.7 343L1308.4 343.6L1309 344.2L1309.7 344.9L1310.3 345.6L1310.9 346.3L1311.6 346.9L1312.2 347.6L1312.9 348.1L1313.5 348.7L1314.1 349.2L1314.8 349.6L1315.4 350L1316.1 350.4L1316.7 350.8L1317.4 351.1L1318 351.4L1318.6 351.7L1319.3 352L1319.9 352.2L1320.6 352.5L1321.2 352.7L1321.8 352.9L1322.5 353.1L1323.1 353.3L1323.8 353.5L1324.4 353.6L1325.1 353.7L1325.7 353.8L1326.3 353.8L1327 353.8L1327.6 353.8L1328.3 353.7L1328.9 353.6L1329.5 353.4L1330.2 353.3L1330.8 353L1331.5 352.8L1332.1 352.5L1332.7 352.2L1333.4 351.9L1334 351.6L1334.7 351.2L1335.3 350.8L1336 350.5L1336.6 350.1L1337.2 349.7L1337.9 349.2L1338.5 348.8L1339.2 348.3L1339.8 347.8L1340.4 347.3L1341.1 346.8L1341.7 346.2L1342.4 345.6L1343 345L1343.7 344.4L1344.3 343.8L1344.9 343.2L1345.6 342.5L1346.2 341.9L1346.9 341.3L1347.5 340.7L1348.1 340.1L1348.8 339.5L1349.4 339L1350.1 338.5L1350.7 338L1351.3 337.7L1352 337.4L1352.6 337.2L1353.3 337.2L1353.9 337.3L1354.6 337.5L1355.2 337.8L1355.8 338.3L1356.5 338.8L1357.1 339.4L1357.8 340L1358.4 340.6L1359 341.3L1359.7 342L1360.3 342.7L1361 343.4L1361.6 344.1L1362.3 344.8L1362.9 345.5L1363.5 346.2L1364.2 346.9L1364.8 347.5L1365.5 348.2L1366.1 348.8L1366.7 349.4L1367.4 349.9L1368 350.4L1368.7 350.8L1369.3 351.2L1369.9 351.6L1370.6 352L1371.2 352.3L1371.9 352.7L1372.5 353L1373.2 353.2L1373.8 353.5L1374.4 353.8L1375.1 354L1375.7 354.2L1376.4 354.4L1377 354.6L1377.6 354.8L1378.3 354.9L1378.9 355L1379.6 355.1L1380.2 355.1L1380.8 355.1L1381.5 355.1L1382.1 355.1L1382.8 355L1383.4 355L1384.1 354.9L1384.7 354.8L1385.3 354.6L1386 354.5L1386.6 354.4L1387.3 354.2L1387.9 354.1L1388.5 353.9L1389.2 353.7L1389.8 353.6L1390.5 353.4L1391.1 353.2L1391.8 353L1392.4 352.8L1393 352.6L1393.7 352.3L1394.3 352.1L1395 351.8L1395.6 351.6L1396.2 351.4L1396.9 351.1L1397.5 350.9L1398.2 350.7L1398.8 350.4L1399.4 350.2L1400.1 350.1L1400.7 349.9L1401.4 349.8L1402 349.7L1402.7 349.6L1403.3 349.6L1403.9 349.7L1404.6 349.8L1405.2 349.9L1405.9 350.1L1406.5 350.3L1407.1 350.5L1407.8 350.8L1408.4 351.1L1409.1 351.4L1409.7 351.7L1410.4 352L1411 352.4L1411.6 352.7L1412.3 353L1412.9 353.4L1413.6 353.7L1414.2 354L1414.8 354.3L1415.5 354.6L1416.1 354.9L1416.8 355.1L1417.4 355.4L1418 355.6L1418.7 355.9L1419.3 356.1L1420 356.3L1420.6 356.5L1421.3 356.7L1421.9 356.8L1422.5 357L1423.2 357.1L1423.8 357.2L1424.5 357.3L1425.1 357.4L1425.7 357.5L1426.4 357.5L1427 357.6L1427.7 357.6L1428.3 357.6" stroke="#ff0000"/>
<path d="M885.1 354.6L885.7 353.5L886.4 352.1L887 350.7L887.7 349.2L888.3 347.6L888.9 346.1L889.6 344.7L890.2 343.3L890.9 341.9L891.5 340.5L892.1 339L892.8 337.5L893.4 335.9L894.1 334.1L894.7 332.3L895.3 330.5L896 328.6L896.6 326.8L897.3 325L897.9 323.4L898.6 321.9L899.2 320.5L899.8 319.2L900.5 318.1L901.1 317.2L901.8 316.3L902.4 315.7L903 315.1L903.7 314.7L904.3 314.4L905 314.2L905.6 314.3L906.3 314.5L906.9 314.8L907.5 315.4L908.2 316.1L908.8 317.1L909.5 318.2L910.1 319.5L910.7 320.9L911.4 322.4L912 324L912.7 325.6L913.3 327.2L913.9 328.8L914.6 330.2L915.2 331.6L915.9 332.8L916.5 333.9L917.2 334.8L917.8 335.5L918.4 336.1L919.1 336.6L919.7 337L920.4 337.3L921 337.5L921.6 337.6L922.3 337.7L922.9 337.6L923.6 337.5L924.2 337.3L924.9 337L925.5 336.5L926.1 335.9L926.8 335L927.4 334L928.1 332.7L928.7 331.2L929.3 329.6L930 327.9L930.6 326L931.3 324L931.9 321.6L932.5 318.9L933.2 315.6L933.8 311.8L934.5 307.4L935.1 302.5L935.8 297.2L936.4 291.6L937 285.6L937.7 279.4L938.3 272.8L939 266L939.6 258.8L940.2 251.6L940.9 244.3L941.5 237.1L942.2 230L942.8 222.7L943.5 215.1L944.1 206.9L944.7 197.9L945.4 188.3L946 178.4L946.7 168.4L947.3 158.7L947.9 149.7L948.6 141.4L949.2 134L949.9 127.5L950.5 121.7L951.1 116.6L951.8 112.3L952.4 108.6L953.1 105.7L953.7 103.5L954.4 102.3L955 101.9L955.6 102.5L956.3 104.1L956.9 106.6L957.6 110L958.2 114.2L958.8 119.1L959.5 124.6L960.1 130.8L960.8 137.7L961.4 145.2L962 153.4L962.7 162.3L963.3 171.6L964 181.2L964.6 190.9L965.3 200.5L965.9 210L966.5 219.3L967.2 228.5L967.8 237.7L968.5 246.9L969.1 255.9L969.7 264.7L970.4 273L971 280.7L971.7 287.8L972.3 294.1L973 299.8L973.6 304.8L974.2 309.2L974.9 313L975.5 316.3L976.2 319L976.8 321.2L977.4 323.1L978.1 324.5L978.7 325.7L979.4 326.6L980 327.3L980.6 327.9L981.3 328.3L981.9 328.5L982.6 328.7L983.2 328.7L983.9 328.6L984.5 328.4L985.1 327.9L985.8 327.3L986.4 326.4L987.1 325.2L987.7 323.8L988.3 322L989 320.1L989.6 317.9L990.3 315.5L990.9 313L991.6 310.3L992.2 307.3L992.8 304.2L993.5 300.9L994.1 297.4L994.8 293.7L995.4 289.9L996 286L996.7 282.1L997.3 278.3L998 274.6L998.6 271L999.2 267.6L999.9 264.4L1000.5 261.5L1001.2 258.9L1001.8 256.7L1002.5 254.9L1003.1 253.6L1003.7 252.8L1004.4 252.5L1005 252.7L1005.7 253.4L1006.3 254.6L1006.9 256.1L1007.6 258.1L1008.2 260.4L1008.9 263L1009.5 266.1L1010.2 269.4L1010.8 272.9L1011.4 276.7L1012.1 280.5L1012.7 284.4L1013.4 288.3L1014 292.1L1014.6 295.9L1015.3 299.5L1015.9 303L1016.6 306.3L1017.2 309.4L1017.8 312.2L1018.5 314.7L1019.1 317L1019.8 318.9L1020.4 320.6L1021.1 322.1L1021.7 323.4L1022.3 324.7L1023 325.8L1023.6 326.8L1024.3 327.8L1024.9 328.7L1025.5 329.5L1026.2 330.2L1026.8 330.8L1027.5 331.3L1028.1 331.7L1028.7 332L1029.4 332.3L1030 332.4L1030.7 332.6L1031.3 332.6L1032 332.6L1032.6 332.6L1033.2 332.5L1033.9 332.3L1034.5 332L1035.2 331.7L1035.8 331.3L1036.4 330.8L1037.1 330.2L1037.7 329.6L1038.4 328.8L1039 327.9L1039.7 326.9L1040.3 325.8L1040.9 324.5L1041.6 323.1L1042.2 321.5L1042.9 319.9L1043.5 318.2L1044.1 316.5L1044.8 314.7L1045.4 312.9L1046.1 311L1046.7 309L1047.3 307L1048 304.8L1048.6 302.6L1049.3 300.3L1049.9 298L1050.6 295.6L1051.2 293.4L1051.8 291.3L1052.5 289.5L1053.1 288.1L1053.8 287.1L1054.4 286.5L1055 286.5L1055.7 287L1056.3 288L1057 289.4L1057.6 291.1L1058.3 293L1058.9 295.1L1059.5 297.3L1060.2 299.5L1060.8 301.6L1061.5 303.8L1062.1 305.8L1062.7 307.8L1063.4 309.7L1064 311.5L1064.7 313.2L1065.3 314.8L1065.9 316.4L1066.6 317.8L1067.2 319.2L1067.9 320.6L1068.5 321.8L1069.2 322.9L1069.8 324L1070.4 325L1071.1 325.8L1071.7 326.6L1072.4 327.3L1073 327.9L1073.6 328.5L1074.3 329L1074.9 329.5L1075.6 330L1076.2 330.4L1076.9 330.7L1077.5 331.1L1078.1 331.4L1078.8 331.6L1079.4 331.8L1080.1 332L1080.7 332.1L1081.3 332.1L1082 332.1L1082.6 332L1083.3 331.9L1083.9 331.7L1084.5 331.5L1085.2 331.3L1085.8 331L1086.5 330.6L1087.1 330.2L1087.8 329.8L1088.4 329.3L1089 328.7L1089.7 328L1090.3 327.2L1091 326.3L1091.6 325.2L1092.2 324L1092.9 322.7L1093.5 321.3L1094.2 319.8L1094.8 318.2L1095.4 316.6L1096.1 315L1096.7 313.3L1097.4 311.5L1098 309.8L1098.7 308L1099.3 306.2L1099.9 304.3L1100.6 302.5L1101.2 300.7L1101.9 298.9L1102.5 297.4L1103.1 296.1L1103.8 295.1L1104.4 294.4L1105.1 294.3L1105.7 294.5L1106.4 295.3L1107 296.4L1107.6 297.7L1108.3 299.3L1108.9 301.1L1109.6 302.8L1110.2 304.6L1110.8 306.3L1111.5 307.9L1112.1 309.5L1112.8 310.9L1113.4 312.3L1114 313.6L1114.7 314.9L1115.3 316.1L1116 317.3L1116.6 318.4L1117.3 319.5L1117.9 320.5L1118.5 321.5L1119.2 322.5L1119.8 323.5L1120.5 324.3L1121.1 325.2L1121.7 325.9L1122.4 326.7L1123 327.3L1123.7 327.9L1124.3 328.5L1125 329L1125.6 329.4L1126.2 329.9L1126.9 330.3L1127.5 330.6L1128.2 331L1128.8 331.3L1129.4 331.6L1130.1 331.9L1130.7 332.2L1131.4 332.4L1132 332.6L1132.6 332.7L1133.3 332.9L1133.9 332.9L1134.6 332.9L1135.2 332.9L1135.9 332.8L1136.5 332.7L1137.1 332.5L1137.8 332.3L1138.4 332L1139.1 331.6L1139.7 331.2L1140.3 330.7L1141 330.1L1141.6 329.4L1142.3 328.6L1142.9 327.7L1143.6 326.6L1144.2 325.4L1144.8 324L1145.5 322.5L1146.1 321L1146.8 319.4L1147.4 317.8L1148 316.2L1148.7 314.6L1149.3 313.1L1150 311.6L1150.6 310.2L1151.2 309L1151.9 307.8L1152.5 306.9L1153.2 306.1L1153.8 305.7L1154.5 305.6L1155.1 305.8L1155.7 306.3L1156.4 307.1L1157 308.3L1157.7 309.6L1158.3 311L1158.9 312.5L1159.6 314.1L1160.2 315.6L1160.9 317L1161.5 318.4L1162.1 319.6L1162.8 320.8L1163.4 321.8L1164.1 322.8L1164.7 323.7L1165.4 324.5L1166 325.3L1166.6 325.9L1167.3 326.6L1167.9 327.1L1168.6 327.6L1169.2 328L1169.8 328.4L1170.5 328.7L1171.1 329L1171.8 329.3L1172.4 329.5L1173.1 329.7L1173.7 329.9L1174.3 330.1L1175 330.3L1175.6 330.4L1176.3 330.5L1176.9 330.6L1177.5 330.6L1178.2 330.6L1178.8 330.6L1179.5 330.5L1180.1 330.4L1180.7 330.2L1181.4 329.9L1182 329.6L1182.7 329.2L1183.3 328.8L1184 328.3L1184.6 327.8L1185.2 327.2L1185.9 326.5L1186.5 325.7L1187.2 324.8L1187.8 323.9L1188.4 322.8L1189.1 321.5L1189.7 320.2L1190.4 318.8L1191 317.4L1191.7 315.9L1192.3 314.4L1192.9 312.9L1193.6 311.4L1194.2 310L1194.9 308.6L1195.5 307.2L1196.1 305.8L1196.8 304.5L1197.4 303.3L1198.1 302.1L1198.7 301L1199.3 299.9L1200 299L1200.6 298.1L1201.3 297.3L1201.9 296.5L1202.6 295.9L1203.2 295.5L1203.8 295.2L1204.5 295.1L1205.1 295.1L1205.8 295.4L1206.4 295.9L1207 296.5L1207.7 297.3L1208.3 298.2L1209 299.2L1209.6 300.4L1210.3 301.5L1210.9 302.8L1211.5 304.1L1212.2 305.5L1212.8 306.8L1213.5 308.2L1214.1 309.6L1214.7 311L1215.4 312.4L1216 313.7L1216.7 315L1217.3 316.2L1217.9 317.4L1218.6 318.5L1219.2 319.5L1219.9 320.5L1220.5 321.4L1221.2 322.2L1221.8 322.9L1222.4 323.5L1223.1 324.1L1223.7 324.6L1224.4 325L1225 325.4L1225.6 325.7L1226.3 326L1226.9 326.3L1227.6 326.5L1228.2 326.6L1228.9 326.7L1229.5 326.8L1230.1 326.7L1230.8 326.7L1231.4 326.5L1232.1 326.3L1232.7 326.1L1233.3 325.8L1234 325.4L1234.6 325L1235.3 324.6L1235.9 324.1L1236.5 323.6L1237.2 323L1237.8 322.3L1238.5 321.6L1239.1 320.8L1239.8 319.9L1240.4 318.9L1241 317.9L1241.7 316.7L1242.3 315.5L1243 314.2L1243.6 313L1244.2 311.6L1244.9 310.3L1245.5 309L1246.2 307.7L1246.8 306.5L1247.4 305.2L1248.1 304.1L1248.7 302.9L1249.4 301.9L1250 301L1250.7 300.2L1251.3 299.5L1251.9 299L1252.6 298.6L1253.2 298.4L1253.9 298.4L1254.5 298.6L1255.1 299L1255.8 299.6L1256.4 300.3L1257.1 301.1L1257.7 302L1258.4 302.9L1259 303.8L1259.6 304.7L1260.3 305.5L1260.9 306.4L1261.6 307.2L1262.2 308L1262.8 308.8L1263.5 309.6L1264.1 310.3L1264.8 311.1L1265.4 311.9L1266 312.6L1266.7 313.4L1267.3 314.2L1268 315L1268.6 315.8L1269.3 316.6L1269.9 317.4L1270.5 318.3L1271.2 319.1L1271.8 320L1272.5 320.8L1273.1 321.7L1273.7 322.6L1274.4 323.4L1275 324.2L1275.7 325L1276.3 325.8L1277 326.5L1277.6 327.2L1278.2 327.9L1278.9 328.6L1279.5 329.3L1280.2 329.9L1280.8 330.5L1281.4 331.1L1282.1 331.7L1282.7 332.2L1283.4 332.6L1284 333L1284.6 333.3L1285.3 333.6L1285.9 333.7L1286.6 333.8L1287.2 333.7L1287.9 333.6L1288.5 333.4L1289.1 333.1L1289.8 332.8L1290.4 332.4L1291.1 331.9L1291.7 331.3L1292.3 330.7L1293 330L1293.6 329.2L1294.3 328.3L1294.9 327.3L1295.6 326.3L1296.2 325.3L1296.8 324.3L1297.5 323.3L1298.1 322.4L1298.8 321.6L1299.4 320.8L1300 320.2L1300.7 319.7L1301.3 319.2L1302 318.9L1302.6 318.6L1303.2 318.5L1303.9 318.4L1304.5 318.4L1305.2 318.6L1305.8 318.8L1306.5 319.1L1307.1 319.5L1307.7 319.9L1308.4 320.4L1309 320.9L1309.7 321.4L1310.3 322L1310.9 322.6L1311.6 323.2L1312.2 323.8L1312.9 324.4L1313.5 325L1314.1 325.5L1314.8 326L1315.4 326.5L1316.1 326.9L1316.7 327.2L1317.4 327.6L1318 327.8L1318.6 328.1L1319.3 328.3L1319.9 328.4L1320.6 328.6L1321.2 328.7L1321.8 328.8L1322.5 328.9L1323.1 328.9L1323.8 328.9L1324.4 328.9L1325.1 328.8L1325.7 328.7L1326.3 328.6L1327 328.5L1327.6 328.3L1328.3 328.1L1328.9 327.8L1329.5 327.6L1330.2 327.3L1330.8 327L1331.5 326.7L1332.1 326.4L1332.7 326.1L1333.4 325.7L1334 325.4L1334.7 325L1335.3 324.5L1336 324.1L1336.6 323.6L1337.2 323.2L1337.9 322.7L1338.5 322.2L1339.2 321.6L1339.8 321.1L1340.4 320.5L1341.1 319.9L1341.7 319.2L1342.4 318.6L1343 317.9L1343.7 317.2L1344.3 316.5L1344.9 315.9L1345.6 315.2L1346.2 314.6L1346.9 313.9L1347.5 313.4L1348.1 312.8L1348.8 312.2L1349.4 311.7L1350.1 311.3L1350.7 310.9L1351.3 310.5L1352 310.3L1352.6 310.1L1353.3 310.1L1353.9 310.1L1354.6 310.3L1355.2 310.5L1355.8 310.8L1356.5 311.2L1357.1 311.7L1357.8 312.2L1358.4 312.7L1359 313.2L1359.7 313.8L1360.3 314.5L1361 315.1L1361.6 315.8L1362.3 316.5L1362.9 317.2L1363.5 318L1364.2 318.7L1364.8 319.5L1365.5 320.3L1366.1 321L1366.7 321.8L1367.4 322.6L1368 323.3L1368.7 324.1L1369.3 324.9L1369.9 325.7L1370.6 326.4L1371.2 327.2L1371.9 327.9L1372.5 328.6L1373.2 329.2L1373.8 329.8L1374.4 330.4L1375.1 330.9L1375.7 331.4L1376.4 331.8L1377 332.2L1377.6 332.5L1378.3 332.8L1378.9 333.1L1379.6 333.4L1380.2 333.6L1380.8 333.9L1381.5 334.1L1382.1 334.3L1382.8 334.5L1383.4 334.6L1384.1 334.8L1384.7 334.9L1385.3 335L1386 335L1386.6 335.1L1387.3 335.1L1387.9 335.1L1388.5 335.1L1389.2 335L1389.8 335L1390.5 334.9L1391.1 334.8L1391.8 334.7L1392.4 334.6L1393 334.5L1393.7 334.4L1394.3 334.3L1395 334.2L1395.6 334.1L1396.2 333.9L1396.9 333.8L1397.5 333.7L1398.2 333.6L1398.8 333.5L1399.4 333.5L1400.1 333.4L1400.7 333.4L1401.4 333.5L1402 333.5L1402.7 333.6L1403.3 333.8L1403.9 333.9L1404.6 334.1L1405.2 334.3L1405.9 334.5L1406.5 334.8L1407.1 335L1407.8 335.3L1408.4 335.5L1409.1 335.8L1409.7 336L1410.4 336.3L1411 336.5L1411.6 336.7L1412.3 336.9L1412.9 337L1413.6 337.1L1414.2 337.1L1414.8 337.1L1415.5 337.1L1416.1 337.1L1416.8 337.1L1417.4 337L1418 337L1418.7 336.9L1419.3 336.9L1420 336.8L1420.6 336.8L1421.3 336.8L1421.9 336.8L1422.5 336.8L1423.2 336.8L1423.8 336.9L1424.5 336.9L1425.1 337.1L1425.7 337.2L1426.4 337.4L1427 337.6L1427.7 337.8L1428.3 338" stroke="#000000"/>
</g>
<rect x="673.5" y="91.5" width="457.1" height="358.5" fill="none" stroke="#747474" stroke-width="1.1"/>
<path d="M744.8 450.0H1055.5M673.5 392.8V127.0M744.8 450.0v7.7M822.4 450.0v7.7M900.1 450.0v7.7M977.8 450.0v7.7M1055.5 450.0v7.7M673.5 392.8h-7.7M673.5 304.2h-7.7M673.5 215.6h-7.7M673.5 127.0h-7.7" fill="none" stroke="#3c3c3c" stroke-width="1.15"/>
<clipPath id="tc-b"><rect x="613.5" y="450.0" width="577.1" height="26.3"/></clipPath>
<g font-family="'Liberation Sans', Arial, Helvetica, sans-serif" font-size="12.3" fill="#262626" stroke="#262626" stroke-width="0.3" text-anchor="middle" clip-path="url(#tc-b)">
<text x="744.8" y="476.3">1</text>
<text x="822.4" y="476.3">2</text>
<text x="900.1" y="476.3">3</text>
<text x="977.8" y="476.3">4</text>
<text x="1055.5" y="476.3">5</text>
</g>
<g font-family="'Liberation Sans', Arial, Helvetica, sans-serif" font-size="12.3" fill="#262626" stroke="#262626" stroke-width="0.3" text-anchor="middle">
<text transform="translate(656.7 392.8) rotate(-90)">0.0</text>
<text transform="translate(656.7 304.2) rotate(-90)">0.2</text>
<text transform="translate(656.7 215.6) rotate(-90)">0.4</text>
<text transform="translate(656.7 127.0) rotate(-90)">0.6</text>
</g>
</g>
<g id="panel-c">
<path d="M1308.4 94.5V448.0M1386.9 94.5V448.0M1465.4 94.5V448.0M1544.0 94.5V448.0M1622.5 94.5V448.0M1239.4 304.2H1695.7M1239.4 215.6H1695.7M1239.4 127.0H1695.7" fill="none" stroke="#dedede" stroke-width="1" stroke-dasharray="1 2.4"/>
<clipPath id="cp-c"><rect x="1236.4" y="91.5" width="462.3" height="358.5"/></clipPath>
<path d="M1235.7 392.8H1698.7" stroke="#c2c2c2" stroke-width="1.9" stroke-dasharray="6.5 4.3" fill="none" clip-path="url(#cp-c)"/>
<g fill="none" stroke-width="2.5" stroke-linejoin="round" stroke-linecap="round" transform="scale(0.78 1)">
<path d="M1606.2 369.3L1606.9 369.3L1607.5 369.3L1608.2 369.3L1608.8 369.2L1609.5 369.2L1610.1 369.1L1610.7 368.9L1611.4 368.8L1612 368.5L1612.7 368.1L1613.3 367.7L1613.9 367.2L1614.6 366.7L1615.2 366.2L1615.9 365.7L1616.5 365.4L1617.1 365.3L1617.8 365.4L1618.4 365.6L1619.1 366L1619.7 366.6L1620.4 367.1L1621 367.7L1621.6 368.2L1622.3 368.6L1622.9 368.9L1623.6 369.1L1624.2 369.2L1624.8 369.3L1625.5 369.3L1626.1 369.4L1626.8 369.4L1627.4 369.3L1628 369.3L1628.7 369.2L1629.3 369.1L1630 368.9L1630.6 368.7L1631.2 368.4L1631.9 368L1632.5 367.5L1633.2 367L1633.8 366.5L1634.5 366L1635.1 365.5L1635.7 365.2L1636.4 364.9L1637 364.8L1637.7 364.9L1638.3 365L1638.9 365.3L1639.6 365.7L1640.2 366.2L1640.9 366.7L1641.5 367.2L1642.1 367.6L1642.8 367.8L1643.4 367.9L1644.1 367.8L1644.7 367.5L1645.4 367.1L1646 366.6L1646.6 366L1647.3 365.5L1647.9 365L1648.6 364.5L1649.2 364.1L1649.8 363.7L1650.5 363.2L1651.1 362.6L1651.8 361.9L1652.4 360.9L1653 359.7L1653.7 358L1654.3 356L1655 353.5L1655.6 350.5L1656.3 346.9L1656.9 343L1657.5 338.6L1658.2 333.9L1658.8 328.9L1659.5 323.8L1660.1 318.7L1660.7 313.6L1661.4 308.6L1662 304L1662.7 299.8L1663.3 296.2L1663.9 293.1L1664.6 290.7L1665.2 288.9L1665.9 287.6L1666.5 286.9L1667.2 286.6L1667.8 286.7L1668.4 287.1L1669.1 287.8L1669.7 288.7L1670.4 289.8L1671 290.9L1671.6 291.9L1672.3 292.8L1672.9 293.3L1673.6 293.6L1674.2 293.6L1674.8 293.4L1675.5 293L1676.1 292.5L1676.8 292.1L1677.4 291.8L1678.1 291.5L1678.7 291.1L1679.3 290.6L1680 289.9L1680.6 288.8L1681.3 287.3L1681.9 285.5L1682.5 283.4L1683.2 281.3L1683.8 279.2L1684.5 277.3L1685.1 275.8L1685.7 274.8L1686.4 274.4L1687 274.5L1687.7 275.2L1688.3 276.4L1689 278.2L1689.6 280.4L1690.2 283.1L1690.9 286.1L1691.5 289.5L1692.2 293.1L1692.8 296.9L1693.4 301L1694.1 305.3L1694.7 309.9L1695.4 314.7L1696 319.8L1696.6 325L1697.3 330.4L1697.9 335.8L1698.6 341.1L1699.2 346L1699.9 350.6L1700.5 354.5L1701.1 357.8L1701.8 360.5L1702.4 362.4L1703.1 363.8L1703.7 364.7L1704.3 365.2L1705 365.4L1705.6 365.5L1706.3 365.5L1706.9 365.3L1707.5 365L1708.2 364.7L1708.8 364.2L1709.5 363.5L1710.1 362.6L1710.8 361.6L1711.4 360.4L1712 359.1L1712.7 357.7L1713.3 356.3L1714 354.9L1714.6 353.7L1715.2 352.7L1715.9 351.9L1716.5 351.3L1717.2 351L1717.8 351L1718.4 351.3L1719.1 351.8L1719.7 352.4L1720.4 353.1L1721 353.8L1721.7 354.6L1722.3 355.3L1722.9 356L1723.6 356.5L1724.2 357L1724.9 357.3L1725.5 357.4L1726.1 357.5L1726.8 357.4L1727.4 357.1L1728.1 356.8L1728.7 356.2L1729.3 355.5L1730 354.5L1730.6 353.3L1731.3 352L1731.9 350.5L1732.6 348.9L1733.2 347.4L1733.8 345.9L1734.5 344.6L1735.1 343.5L1735.8 342.7L1736.4 342.1L1737 341.9L1737.7 341.9L1738.3 342.2L1739 342.8L1739.6 343.5L1740.2 344.4L1740.9 345.5L1741.5 346.6L1742.2 347.8L1742.8 349.1L1743.4 350.4L1744.1 351.8L1744.7 353.2L1745.4 354.8L1746 356.3L1746.7 357.9L1747.3 359.4L1747.9 360.9L1748.6 362.3L1749.2 363.5L1749.9 364.6L1750.5 365.6L1751.1 366.4L1751.8 367.1L1752.4 367.7L1753.1 368.3L1753.7 368.7L1754.3 369.1L1755 369.5L1755.6 369.8L1756.3 370L1756.9 370.3L1757.6 370.4L1758.2 370.5L1758.8 370.6L1759.5 370.5L1760.1 370.4L1760.8 370.1L1761.4 369.8L1762 369.5L1762.7 369.1L1763.3 368.7L1764 368.5L1764.6 368.3L1765.2 368.2L1765.9 368.3L1766.5 368.5L1767.2 368.8L1767.8 369.3L1768.5 369.7L1769.1 370.3L1769.7 370.8L1770.4 371.3L1771 371.8L1771.7 372.2L1772.3 372.6L1772.9 373L1773.6 373.3L1774.2 373.6L1774.9 373.8L1775.5 374L1776.1 374.1L1776.8 374.1L1777.4 374L1778.1 373.8L1778.7 373.4L1779.4 372.8L1780 372L1780.6 371L1781.3 369.8L1781.9 368.4L1782.6 367L1783.2 365.6L1783.8 364.2L1784.5 362.8L1785.1 361.6L1785.8 360.5L1786.4 359.5L1787 358.7L1787.7 358.1L1788.3 357.6L1789 357.3L1789.6 357.2L1790.3 357.2L1790.9 357.3L1791.5 357.6L1792.2 358.1L1792.8 358.7L1793.5 359.4L1794.1 360.3L1794.7 361.2L1795.4 362.1L1796 363.1L1796.7 364.2L1797.3 365.2L1797.9 366.2L1798.6 367.2L1799.2 368.2L1799.9 369.1L1800.5 370L1801.2 370.9L1801.8 371.7L1802.4 372.4L1803.1 373.1L1803.7 373.6L1804.4 374.1L1805 374.4L1805.6 374.7L1806.3 375L1806.9 375.2L1807.6 375.3L1808.2 375.4L1808.8 375.5L1809.5 375.5L1810.1 375.5L1810.8 375.5L1811.4 375.4L1812.1 375.3L1812.7 375.2L1813.3 375L1814 374.8L1814.6 374.6L1815.3 374.5L1815.9 374.4L1816.5 374.3L1817.2 374.4L1817.8 374.5L1818.5 374.7L1819.1 374.9L1819.7 375.2L1820.4 375.4L1821 375.7L1821.7 376L1822.3 376.2L1823 376.4L1823.6 376.5L1824.2 376.5L1824.9 376.4L1825.5 376.3L1826.2 376.1L1826.8 375.8L1827.4 375.4L1828.1 374.8L1828.7 374.2L1829.4 373.4L1830 372.5L1830.6 371.4L1831.3 370.1L1831.9 368.9L1832.6 367.5L1833.2 366.2L1833.9 365L1834.5 363.9L1835.1 362.9L1835.8 362.1L1836.4 361.3L1837.1 360.7L1837.7 360.2L1838.3 359.9L1839 359.5L1839.6 359.3L1840.3 359.2L1840.9 359.1L1841.5 359.2L1842.2 359.3L1842.8 359.7L1843.5 360.1L1844.1 360.8L1844.8 361.7L1845.4 362.7L1846 363.9L1846.7 365.2L1847.3 366.4L1848 367.6L1848.6 368.7L1849.2 369.6L1849.9 370.4L1850.5 371L1851.2 371.5L1851.8 372L1852.4 372.3L1853.1 372.7L1853.7 372.9L1854.4 373.2L1855 373.4L1855.6 373.7L1856.3 373.9L1856.9 374.1L1857.6 374.3L1858.2 374.5L1858.9 374.7L1859.5 374.9L1860.1 375.1L1860.8 375.3L1861.4 375.5L1862.1 375.7L1862.7 375.9L1863.3 376.2L1864 376.4L1864.6 376.7L1865.3 376.9L1865.9 377.2L1866.5 377.5L1867.2 377.8L1867.8 378.1L1868.5 378.4L1869.1 378.7L1869.8 379L1870.4 379.4L1871 379.7L1871.7 380.1L1872.3 380.4L1873 380.8L1873.6 381L1874.2 381.3L1874.9 381.4L1875.5 381.5L1876.2 381.5L1876.8 381.3L1877.4 381L1878.1 380.6L1878.7 380L1879.4 379.2L1880 378.3L1880.7 377.3L1881.3 376.2L1881.9 374.9L1882.6 373.6L1883.2 372.3L1883.9 371L1884.5 369.7L1885.1 368.5L1885.8 367.3L1886.4 366.3L1887.1 365.3L1887.7 364.4L1888.3 363.6L1889 362.9L1889.6 362.2L1890.3 361.7L1890.9 361.3L1891.6 361.1L1892.2 361L1892.8 361.1L1893.5 361.3L1894.1 361.8L1894.8 362.3L1895.4 363L1896 363.8L1896.7 364.6L1897.3 365.4L1898 366.1L1898.6 366.9L1899.2 367.5L1899.9 368.1L1900.5 368.7L1901.2 369.2L1901.8 369.6L1902.5 370L1903.1 370.3L1903.7 370.6L1904.4 370.9L1905 371.2L1905.7 371.4L1906.3 371.7L1906.9 371.9L1907.6 372.2L1908.2 372.5L1908.9 372.7L1909.5 373L1910.1 373.3L1910.8 373.5L1911.4 373.7L1912.1 373.8L1912.7 373.8L1913.4 373.7L1914 373.5L1914.6 373.1L1915.3 372.6L1915.9 372L1916.6 371.3L1917.2 370.5L1917.8 369.6L1918.5 368.8L1919.1 368L1919.8 367.2L1920.4 366.4L1921 365.8L1921.7 365.1L1922.3 364.5L1923 364L1923.6 363.5L1924.3 363L1924.9 362.5L1925.5 362.1L1926.2 361.6L1926.8 361.1L1927.5 360.6L1928.1 360.1L1928.7 359.5L1929.4 358.9L1930 358.3L1930.7 357.5L1931.3 356.7L1931.9 355.8L1932.6 354.9L1933.2 354L1933.9 353.1L1934.5 352.2L1935.2 351.5L1935.8 350.8L1936.4 350.3L1937.1 349.9L1937.7 349.6L1938.4 349.4L1939 349.3L1939.6 349.2L1940.3 349.3L1940.9 349.4L1941.6 349.7L1942.2 350L1942.8 350.4L1943.5 350.9L1944.1 351.5L1944.8 352.1L1945.4 352.9L1946.1 353.8L1946.7 354.7L1947.3 355.8L1948 356.8L1948.6 357.9L1949.3 358.9L1949.9 360L1950.5 360.9L1951.2 361.8L1951.8 362.5L1952.5 363.3L1953.1 363.9L1953.7 364.5L1954.4 365.1L1955 365.7L1955.7 366.4L1956.3 367L1957 367.6L1957.6 368.3L1958.2 369L1958.9 369.8L1959.5 370.5L1960.2 371.3L1960.8 372L1961.4 372.7L1962.1 373.4L1962.7 373.9L1963.4 374.4L1964 374.9L1964.6 375.2L1965.3 375.5L1965.9 375.8L1966.6 376L1967.2 376.2L1967.8 376.4L1968.5 376.5L1969.1 376.6L1969.8 376.7L1970.4 376.8L1971.1 376.9L1971.7 376.9L1972.3 377L1973 377L1973.6 376.9L1974.3 376.8L1974.9 376.6L1975.5 376.4L1976.2 376.1L1976.8 375.7L1977.5 375.2L1978.1 374.7L1978.7 374.1L1979.4 373.5L1980 372.8L1980.7 372L1981.3 371.2L1982 370.4L1982.6 369.6L1983.2 368.7L1983.9 367.9L1984.5 367.1L1985.2 366.4L1985.8 365.7L1986.4 365.1L1987.1 364.4L1987.7 363.8L1988.4 363.3L1989 362.7L1989.6 362.1L1990.3 361.6L1990.9 361.1L1991.6 360.6L1992.2 360.2L1992.9 360L1993.5 359.9L1994.1 359.9L1994.8 360.1L1995.4 360.5L1996.1 361L1996.7 361.6L1997.3 362.3L1998 363L1998.6 363.8L1999.3 364.6L1999.9 365.4L2000.5 366.2L2001.2 367.1L2001.8 367.9L2002.5 368.7L2003.1 369.5L2003.8 370.3L2004.4 371L2005 371.8L2005.7 372.5L2006.3 373.2L2007 373.9L2007.6 374.5L2008.2 375.1L2008.9 375.6L2009.5 376.1L2010.2 376.5L2010.8 377L2011.4 377.3L2012.1 377.6L2012.7 377.9L2013.4 378.2L2014 378.3L2014.7 378.5L2015.3 378.6L2015.9 378.6L2016.6 378.7L2017.2 378.7L2017.9 378.7L2018.5 378.7L2019.1 378.7L2019.8 378.7L2020.4 378.7L2021.1 378.7L2021.7 378.7L2022.3 378.7L2023 378.7L2023.6 378.7L2024.3 378.6L2024.9 378.6L2025.6 378.5L2026.2 378.3L2026.8 378.1L2027.5 377.8L2028.1 377.5L2028.8 377.2L2029.4 376.8L2030 376.4L2030.7 376L2031.3 375.5L2032 375.1L2032.6 374.6L2033.2 374.1L2033.9 373.6L2034.5 373.1L2035.2 372.6L2035.8 372.1L2036.5 371.6L2037.1 371.1L2037.7 370.7L2038.4 370.3L2039 369.9L2039.7 369.6L2040.3 369.3L2040.9 369.1L2041.6 368.9L2042.2 368.7L2042.9 368.6L2043.5 368.4L2044.1 368.3L2044.8 368.2L2045.4 368.2L2046.1 368.1L2046.7 368L2047.4 368L2048 368L2048.6 367.9L2049.3 367.9L2049.9 367.9L2050.6 368L2051.2 368L2051.8 368L2052.5 368L2053.1 368L2053.8 368.1L2054.4 368.1L2055 368.2L2055.7 368.3L2056.3 368.4L2057 368.5L2057.6 368.7L2058.3 368.9L2058.9 369.1L2059.5 369.3L2060.2 369.5L2060.8 369.8L2061.5 370.1L2062.1 370.3L2062.7 370.6L2063.4 370.9L2064 371.2L2064.7 371.4L2065.3 371.6L2065.9 371.8L2066.6 371.9L2067.2 372L2067.9 372.1L2068.5 372.1L2069.2 372.2L2069.8 372.2L2070.4 372.2L2071.1 372.2L2071.7 372.3L2072.4 372.3L2073 372.3L2073.6 372.2L2074.3 372.2L2074.9 372.1L2075.6 372L2076.2 371.9L2076.8 371.7L2077.5 371.4L2078.1 371.2L2078.8 370.9L2079.4 370.5L2080 370.1L2080.7 369.6L2081.3 369.1L2082 368.6L2082.6 368L2083.3 367.3L2083.9 366.7L2084.5 366L2085.2 365.3L2085.8 364.6L2086.5 363.9L2087.1 363.2L2087.7 362.5L2088.4 361.9L2089 361.3L2089.7 360.8L2090.3 360.4L2090.9 360L2091.6 359.7L2092.2 359.4L2092.9 359.2L2093.5 359.1L2094.2 359L2094.8 358.9L2095.4 359L2096.1 359.1L2096.7 359.2L2097.4 359.4L2098 359.6L2098.6 359.9L2099.3 360.3L2099.9 360.7L2100.6 361.2L2101.2 361.7L2101.8 362.4L2102.5 363L2103.1 363.8L2103.8 364.5L2104.4 365.3L2105.1 366.1L2105.7 366.8L2106.3 367.6L2107 368.3L2107.6 369L2108.3 369.7L2108.9 370.4L2109.5 371.1L2110.2 371.8L2110.8 372.5L2111.5 373.2L2112.1 373.9L2112.7 374.5L2113.4 375.1L2114 375.7L2114.7 376.2L2115.3 376.6L2116 377L2116.6 377.2L2117.2 377.4L2117.9 377.5L2118.5 377.6L2119.2 377.6L2119.8 377.7L2120.4 377.7L2121.1 377.7L2121.7 377.7L2122.4 377.7L2123 377.7L2123.6 377.7L2124.3 377.6L2124.9 377.6L2125.6 377.5L2126.2 377.4L2126.9 377.3L2127.5 377.1L2128.1 377L2128.8 376.8L2129.4 376.6L2130.1 376.4L2130.7 376.2L2131.3 376L2132 375.8L2132.6 375.5L2133.3 375.3L2133.9 375.1L2134.5 374.8L2135.2 374.5L2135.8 374.2L2136.5 374L2137.1 373.6L2137.8 373.3L2138.4 373L2139 372.7L2139.7 372.4L2140.3 372.1L2141 371.8L2141.6 371.5L2142.2 371.3L2142.9 371L2143.5 370.8L2144.2 370.7L2144.8 370.5L2145.4 370.3L2146.1 370.2L2146.7 370.1L2147.4 370L2148 369.8L2148.7 369.7L2149.3 369.6L2149.9 369.5L2150.6 369.4L2151.2 369.4L2151.9 369.3L2152.5 369.2L2153.1 369.1L2153.8 369.1L2154.4 369L2155.1 368.9L2155.7 368.9L2156.3 368.8L2157 368.8" stroke="#0000ff"/>
<path d="M1607 370.8L1607.6 370.6L1608.2 370.4L1608.9 370.1L1609.5 369.8L1610.2 369.3L1610.8 368.8L1611.5 368.3L1612.1 367.6L1612.7 366.9L1613.4 366.1L1614 365.2L1614.7 364.3L1615.3 363.2L1615.9 362L1616.6 360.7L1617.2 359.4L1617.9 358L1618.5 356.5L1619.1 355L1619.8 353.6L1620.4 352.1L1621.1 350.7L1621.7 349.4L1622.4 348.1L1623 346.8L1623.6 345.7L1624.3 344.7L1624.9 343.8L1625.6 343.1L1626.2 342.6L1626.8 342.4L1627.5 342.5L1628.1 342.8L1628.8 343.4L1629.4 344.3L1630.1 345.4L1630.7 346.7L1631.3 348.2L1632 349.7L1632.6 351.2L1633.3 352.7L1633.9 354.2L1634.5 355.5L1635.2 356.7L1635.8 357.9L1636.5 358.8L1637.1 359.6L1637.8 360.3L1638.4 360.9L1639 361.4L1639.7 361.7L1640.3 362L1641 362.3L1641.6 362.4L1642.2 362.5L1642.9 362.6L1643.5 362.6L1644.2 362.6L1644.8 362.6L1645.5 362.5L1646.1 362.4L1646.7 362.2L1647.4 362L1648 361.8L1648.7 361.6L1649.3 361.3L1649.9 361L1650.6 360.7L1651.2 360.4L1651.9 360L1652.5 359.5L1653.1 359.1L1653.8 358.5L1654.4 357.9L1655.1 357.3L1655.7 356.6L1656.4 355.8L1657 354.9L1657.6 353.9L1658.3 352.9L1658.9 351.7L1659.6 350.3L1660.2 348.7L1660.8 346.8L1661.5 344.5L1662.1 341.8L1662.8 338.5L1663.4 334.6L1664.1 330L1664.7 324.9L1665.3 319.2L1666 313.1L1666.6 306.6L1667.3 300L1667.9 293.3L1668.5 286.7L1669.2 280.1L1669.8 273.8L1670.5 267.7L1671.1 261.8L1671.8 256.3L1672.4 251.1L1673 246.2L1673.7 241.6L1674.3 237.3L1675 233.4L1675.6 230.1L1676.2 227.5L1676.9 225.8L1677.5 225.3L1678.2 225.9L1678.8 227.6L1679.4 230.3L1680.1 233.7L1680.7 237.7L1681.4 242L1682 246.6L1682.7 251.5L1683.3 256.5L1683.9 261.7L1684.6 267.2L1685.2 272.9L1685.9 278.8L1686.5 285L1687.1 291.3L1687.8 297.7L1688.4 304.1L1689.1 310.3L1689.7 316.1L1690.4 321.5L1691 326.4L1691.6 330.6L1692.3 334.1L1692.9 337.1L1693.6 339.6L1694.2 341.7L1694.8 343.4L1695.5 345L1696.1 346.4L1696.8 347.7L1697.4 348.8L1698.1 349.7L1698.7 350.5L1699.3 351.2L1700 351.8L1700.6 352.3L1701.3 352.7L1701.9 353L1702.5 353.3L1703.2 353.5L1703.8 353.7L1704.5 353.8L1705.1 353.8L1705.7 353.8L1706.4 353.7L1707 353.5L1707.7 353.2L1708.3 352.9L1709 352.5L1709.6 352L1710.2 351.4L1710.9 350.7L1711.5 349.9L1712.2 349L1712.8 347.9L1713.4 346.6L1714.1 345L1714.7 343.3L1715.4 341.3L1716 339.1L1716.7 336.8L1717.3 334.2L1717.9 331.5L1718.6 328.7L1719.2 325.7L1719.9 322.7L1720.5 319.6L1721.1 316.6L1721.8 313.7L1722.4 310.9L1723.1 308.3L1723.7 305.9L1724.4 303.8L1725 301.9L1725.6 300.4L1726.3 299.2L1726.9 298.4L1727.6 298.2L1728.2 298.4L1728.8 299L1729.5 300.1L1730.1 301.6L1730.8 303.5L1731.4 305.6L1732 307.9L1732.7 310.4L1733.3 313L1734 315.7L1734.6 318.5L1735.3 321.3L1735.9 324.1L1736.5 326.8L1737.2 329.4L1737.8 331.9L1738.5 334.2L1739.1 336.5L1739.7 338.5L1740.4 340.4L1741 342.2L1741.7 343.7L1742.3 345.1L1743 346.3L1743.6 347.3L1744.2 348.2L1744.9 349L1745.5 349.7L1746.2 350.3L1746.8 350.9L1747.4 351.3L1748.1 351.8L1748.7 352.1L1749.4 352.5L1750 352.8L1750.7 353L1751.3 353.3L1751.9 353.5L1752.6 353.6L1753.2 353.8L1753.9 353.8L1754.5 353.8L1755.1 353.7L1755.8 353.6L1756.4 353.3L1757.1 353L1757.7 352.7L1758.3 352.2L1759 351.7L1759.6 351.2L1760.3 350.6L1760.9 349.9L1761.6 349.2L1762.2 348.5L1762.8 347.6L1763.5 346.7L1764.1 345.8L1764.8 344.7L1765.4 343.6L1766 342.4L1766.7 341.1L1767.3 339.8L1768 338.4L1768.6 337L1769.3 335.5L1769.9 334L1770.5 332.4L1771.2 330.8L1771.8 329.2L1772.5 327.6L1773.1 326L1773.7 324.4L1774.4 322.9L1775 321.5L1775.7 320.2L1776.3 319.1L1777 318.2L1777.6 317.6L1778.2 317.3L1778.9 317.4L1779.5 317.8L1780.2 318.5L1780.8 319.5L1781.4 320.7L1782.1 322L1782.7 323.4L1783.4 324.9L1784 326.5L1784.6 328.1L1785.3 329.7L1785.9 331.3L1786.6 332.9L1787.2 334.5L1787.9 336L1788.5 337.6L1789.1 339.1L1789.8 340.5L1790.4 342L1791.1 343.3L1791.7 344.6L1792.3 345.8L1793 346.9L1793.6 347.9L1794.3 348.8L1794.9 349.6L1795.6 350.3L1796.2 350.9L1796.8 351.5L1797.5 352L1798.1 352.5L1798.8 352.9L1799.4 353.3L1800 353.6L1800.7 353.9L1801.3 354.2L1802 354.4L1802.6 354.5L1803.3 354.6L1803.9 354.6L1804.5 354.6L1805.2 354.5L1805.8 354.3L1806.5 354.1L1807.1 353.9L1807.7 353.5L1808.4 353.2L1809 352.8L1809.7 352.3L1810.3 351.8L1810.9 351.2L1811.6 350.5L1812.2 349.8L1812.9 348.9L1813.5 348L1814.2 347L1814.8 345.8L1815.4 344.6L1816.1 343.4L1816.7 342.1L1817.4 340.7L1818 339.4L1818.6 338.1L1819.3 336.7L1819.9 335.4L1820.6 334L1821.2 332.6L1821.9 331.2L1822.5 329.8L1823.1 328.3L1823.8 326.8L1824.4 325.3L1825.1 323.9L1825.7 322.6L1826.3 321.4L1827 320.5L1827.6 319.8L1828.3 319.4L1828.9 319.4L1829.6 319.6L1830.2 320.2L1830.8 321L1831.5 322.1L1832.1 323.3L1832.8 324.7L1833.4 326.1L1834 327.6L1834.7 329.1L1835.3 330.6L1836 332L1836.6 333.5L1837.2 334.9L1837.9 336.2L1838.5 337.5L1839.2 338.8L1839.8 340.1L1840.5 341.4L1841.1 342.6L1841.7 343.7L1842.4 344.8L1843 345.8L1843.7 346.7L1844.3 347.5L1844.9 348.3L1845.6 348.9L1846.2 349.4L1846.9 349.9L1847.5 350.3L1848.2 350.7L1848.8 351L1849.4 351.3L1850.1 351.5L1850.7 351.7L1851.4 351.9L1852 352L1852.6 352.1L1853.3 352.1L1853.9 352.1L1854.6 352L1855.2 351.9L1855.9 351.8L1856.5 351.6L1857.1 351.3L1857.8 351.1L1858.4 350.8L1859.1 350.4L1859.7 350L1860.3 349.6L1861 349.1L1861.6 348.5L1862.3 347.9L1862.9 347.1L1863.5 346.3L1864.2 345.4L1864.8 344.5L1865.5 343.4L1866.1 342.3L1866.8 341.2L1867.4 340L1868 338.7L1868.7 337.5L1869.3 336.2L1870 334.8L1870.6 333.5L1871.2 332.1L1871.9 330.6L1872.5 329.1L1873.2 327.6L1873.8 326.1L1874.5 324.7L1875.1 323.3L1875.7 322L1876.4 321L1877 320.2L1877.7 319.6L1878.3 319.4L1878.9 319.4L1879.6 319.8L1880.2 320.5L1880.9 321.4L1881.5 322.6L1882.2 323.9L1882.8 325.4L1883.4 326.9L1884.1 328.5L1884.7 330L1885.4 331.6L1886 333.1L1886.6 334.5L1887.3 335.9L1887.9 337.2L1888.6 338.5L1889.2 339.7L1889.8 340.9L1890.5 341.9L1891.1 343L1891.8 343.9L1892.4 344.8L1893.1 345.7L1893.7 346.4L1894.3 347.1L1895 347.7L1895.6 348.2L1896.3 348.7L1896.9 349.1L1897.5 349.4L1898.2 349.7L1898.8 349.9L1899.5 350.2L1900.1 350.4L1900.8 350.5L1901.4 350.7L1902 350.8L1902.7 350.9L1903.3 350.9L1904 351L1904.6 350.9L1905.2 350.9L1905.9 350.8L1906.5 350.6L1907.2 350.4L1907.8 350.2L1908.5 349.9L1909.1 349.6L1909.7 349.2L1910.4 348.9L1911 348.4L1911.7 348L1912.3 347.5L1912.9 347L1913.6 346.5L1914.2 345.9L1914.9 345.2L1915.5 344.5L1916.1 343.7L1916.8 342.9L1917.4 342.1L1918.1 341.3L1918.7 340.4L1919.4 339.5L1920 338.7L1920.6 337.8L1921.3 337L1921.9 336.1L1922.6 335.3L1923.2 334.5L1923.8 333.7L1924.5 332.9L1925.1 332.1L1925.8 331.3L1926.4 330.6L1927.1 330L1927.7 329.5L1928.3 329.2L1929 329.1L1929.6 329.2L1930.3 329.5L1930.9 329.9L1931.5 330.6L1932.2 331.3L1932.8 332.1L1933.5 333.1L1934.1 334L1934.8 335L1935.4 336L1936 337L1936.7 337.9L1937.3 338.9L1938 339.9L1938.6 340.8L1939.2 341.7L1939.9 342.6L1940.5 343.5L1941.2 344.3L1941.8 345.1L1942.4 345.8L1943.1 346.4L1943.7 347L1944.4 347.5L1945 347.9L1945.7 348.3L1946.3 348.6L1946.9 348.9L1947.6 349.2L1948.2 349.5L1948.9 349.7L1949.5 349.9L1950.1 350.1L1950.8 350.2L1951.4 350.4L1952.1 350.5L1952.7 350.6L1953.4 350.6L1954 350.6L1954.6 350.6L1955.3 350.5L1955.9 350.4L1956.6 350.3L1957.2 350.1L1957.8 349.9L1958.5 349.6L1959.1 349.3L1959.8 349L1960.4 348.6L1961.1 348.2L1961.7 347.8L1962.3 347.4L1963 346.9L1963.6 346.3L1964.3 345.7L1964.9 345.1L1965.5 344.4L1966.2 343.6L1966.8 342.7L1967.5 341.8L1968.1 340.8L1968.7 339.8L1969.4 338.8L1970 337.7L1970.7 336.7L1971.3 335.6L1972 334.5L1972.6 333.5L1973.2 332.4L1973.9 331.4L1974.5 330.4L1975.2 329.5L1975.8 328.6L1976.4 327.8L1977.1 327.1L1977.7 326.5L1978.4 326.2L1979 326L1979.7 326.1L1980.3 326.4L1980.9 326.9L1981.6 327.5L1982.2 328.4L1982.9 329.4L1983.5 330.6L1984.1 331.8L1984.8 333L1985.4 334.3L1986.1 335.5L1986.7 336.7L1987.4 337.8L1988 338.9L1988.6 339.9L1989.3 340.9L1989.9 341.8L1990.6 342.6L1991.2 343.5L1991.8 344.2L1992.5 345L1993.1 345.6L1993.8 346.2L1994.4 346.8L1995 347.4L1995.7 347.8L1996.3 348.3L1997 348.7L1997.6 349.1L1998.3 349.5L1998.9 349.9L1999.5 350.3L2000.2 350.6L2000.8 350.9L2001.5 351.2L2002.1 351.5L2002.7 351.8L2003.4 352L2004 352.3L2004.7 352.4L2005.3 352.6L2006 352.7L2006.6 352.8L2007.2 352.9L2007.9 353L2008.5 352.9L2009.2 352.9L2009.8 352.8L2010.4 352.7L2011.1 352.6L2011.7 352.4L2012.4 352.1L2013 351.9L2013.7 351.6L2014.3 351.3L2014.9 351L2015.6 350.6L2016.2 350.3L2016.9 349.9L2017.5 349.5L2018.1 349.1L2018.8 348.7L2019.4 348.3L2020.1 347.8L2020.7 347.3L2021.3 346.8L2022 346.3L2022.6 345.7L2023.3 345.1L2023.9 344.5L2024.6 344L2025.2 343.4L2025.8 342.9L2026.5 342.4L2027.1 342L2027.8 341.6L2028.4 341.3L2029 341.1L2029.7 341L2030.3 341L2031 341.1L2031.6 341.3L2032.3 341.6L2032.9 342L2033.5 342.5L2034.2 343L2034.8 343.6L2035.5 344.2L2036.1 344.9L2036.7 345.6L2037.4 346.2L2038 346.9L2038.7 347.5L2039.3 348.1L2040 348.6L2040.6 349.1L2041.2 349.6L2041.9 350L2042.5 350.4L2043.2 350.7L2043.8 351L2044.4 351.3L2045.1 351.6L2045.7 351.9L2046.4 352.2L2047 352.4L2047.6 352.7L2048.3 352.9L2048.9 353.1L2049.6 353.3L2050.2 353.4L2050.9 353.6L2051.5 353.7L2052.1 353.7L2052.8 353.8L2053.4 353.8L2054.1 353.8L2054.7 353.7L2055.3 353.6L2056 353.5L2056.6 353.3L2057.3 353.1L2057.9 352.9L2058.6 352.6L2059.2 352.4L2059.8 352L2060.5 351.7L2061.1 351.4L2061.8 351L2062.4 350.6L2063 350.3L2063.7 349.9L2064.3 349.5L2065 349L2065.6 348.6L2066.3 348.1L2066.9 347.6L2067.5 347.1L2068.2 346.5L2068.8 345.9L2069.5 345.4L2070.1 344.8L2070.7 344.2L2071.4 343.5L2072 342.9L2072.7 342.3L2073.3 341.7L2073.9 341.1L2074.6 340.5L2075.2 339.9L2075.9 339.4L2076.5 338.8L2077.2 338.3L2077.8 337.9L2078.4 337.6L2079.1 337.3L2079.7 337.2L2080.4 337.2L2081 337.3L2081.6 337.6L2082.3 337.9L2082.9 338.4L2083.6 338.9L2084.2 339.5L2084.9 340.1L2085.5 340.7L2086.1 341.4L2086.8 342.1L2087.4 342.7L2088.1 343.4L2088.7 344.1L2089.3 344.8L2090 345.5L2090.6 346.2L2091.3 346.9L2091.9 347.6L2092.6 348.2L2093.2 348.8L2093.8 349.4L2094.5 349.9L2095.1 350.4L2095.8 350.8L2096.4 351.2L2097 351.6L2097.7 352L2098.3 352.3L2099 352.6L2099.6 352.9L2100.2 353.2L2100.9 353.5L2101.5 353.8L2102.2 354L2102.8 354.2L2103.5 354.4L2104.1 354.6L2104.7 354.7L2105.4 354.9L2106 355L2106.7 355.1L2107.3 355.1L2107.9 355.1L2108.6 355.1L2109.2 355.1L2109.9 355L2110.5 355L2111.2 354.9L2111.8 354.8L2112.4 354.7L2113.1 354.6L2113.7 354.4L2114.4 354.3L2115 354.1L2115.6 354L2116.3 353.8L2116.9 353.6L2117.6 353.4L2118.2 353.3L2118.9 353.1L2119.5 352.9L2120.1 352.6L2120.8 352.4L2121.4 352.2L2122.1 351.9L2122.7 351.7L2123.3 351.5L2124 351.2L2124.6 351L2125.3 350.8L2125.9 350.5L2126.6 350.3L2127.2 350.1L2127.8 350L2128.5 349.8L2129.1 349.7L2129.8 349.7L2130.4 349.6L2131 349.6L2131.7 349.7L2132.3 349.8L2133 350L2133.6 350.2L2134.2 350.4L2134.9 350.6L2135.5 350.9L2136.2 351.2L2136.8 351.5L2137.5 351.8L2138.1 352.1L2138.7 352.4L2139.4 352.8L2140 353.1L2140.7 353.4L2141.3 353.8L2141.9 354.1L2142.6 354.4L2143.2 354.6L2143.9 354.9L2144.5 355.2L2145.2 355.4L2145.8 355.7L2146.4 355.9L2147.1 356.1L2147.7 356.3L2148.4 356.5L2149 356.7L2149.6 356.8L2150.3 357L2150.9 357.1L2151.6 357.2L2152.2 357.3L2152.9 357.4L2153.5 357.5L2154.1 357.5L2154.8 357.6L2155.4 357.6L2156.1 357.6" stroke="#ff0000"/>
<path d="M1606.2 346.9L1606.9 346.9L1607.5 347L1608.2 347L1608.8 346.9L1609.5 346.7L1610.1 346.4L1610.7 346L1611.4 345.4L1612 344.6L1612.7 343.6L1613.3 342.4L1613.9 341L1614.6 339.5L1615.2 337.9L1615.9 336.1L1616.5 334.3L1617.1 332.5L1617.8 330.8L1618.4 329.1L1619.1 327.5L1619.7 326.1L1620.4 324.8L1621 323.6L1621.6 322.6L1622.3 321.7L1622.9 320.9L1623.6 320.2L1624.2 319.6L1624.8 319.1L1625.5 318.8L1626.1 318.5L1626.8 318.4L1627.4 318.5L1628 318.6L1628.7 319L1629.3 319.4L1630 320L1630.6 320.7L1631.2 321.4L1631.9 322.3L1632.5 323.2L1633.2 324.2L1633.8 325.2L1634.5 326.2L1635.1 327.3L1635.7 328.3L1636.4 329.4L1637 330.4L1637.7 331.5L1638.3 332.5L1638.9 333.5L1639.6 334.5L1640.2 335.5L1640.9 336.4L1641.5 337.1L1642.1 337.7L1642.8 338.1L1643.4 338.2L1644.1 338L1644.7 337.7L1645.4 337.2L1646 336.6L1646.6 336L1647.3 335.3L1647.9 334.7L1648.6 334.2L1649.2 333.6L1649.8 333L1650.5 332.2L1651.1 331.3L1651.8 330.2L1652.4 328.7L1653 326.7L1653.7 324.2L1654.3 321.1L1655 317.3L1655.6 312.9L1656.3 308L1656.9 302.6L1657.5 297L1658.2 291.1L1658.8 285.2L1659.5 279.1L1660.1 273L1660.7 266.8L1661.4 260.4L1662 253.7L1662.7 246.5L1663.3 238.7L1663.9 230.2L1664.6 221.3L1665.2 212.1L1665.9 202.9L1666.5 194.1L1667.2 185.9L1667.8 178.5L1668.4 171.9L1669.1 166.2L1669.7 161L1670.4 156.4L1671 152.2L1671.6 148.2L1672.3 144.3L1672.9 140.6L1673.6 137L1674.2 133.6L1674.8 130.5L1675.5 127.8L1676.1 125.7L1676.8 124.3L1677.4 123.7L1678.1 123.9L1678.7 124.8L1679.3 126.3L1680 128.1L1680.6 130.2L1681.3 132.4L1681.9 134.7L1682.5 137.2L1683.2 139.9L1683.8 143L1684.5 146.7L1685.1 151.1L1685.7 156.3L1686.4 162.3L1687 168.9L1687.7 176.3L1688.3 184L1689 192.1L1689.6 200.3L1690.2 208.5L1690.9 216.6L1691.5 224.5L1692.2 232.2L1692.8 239.7L1693.4 246.9L1694.1 253.8L1694.7 260.5L1695.4 267.1L1696 273.5L1696.6 279.8L1697.3 286L1697.9 292L1698.6 297.8L1699.2 303.3L1699.9 308.4L1700.5 313L1701.1 316.9L1701.8 320L1702.4 322.4L1703.1 324.1L1703.7 325.2L1704.3 325.8L1705 326.1L1705.6 326.2L1706.3 326.1L1706.9 325.9L1707.5 325.6L1708.2 325.1L1708.8 324.4L1709.5 323.6L1710.1 322.4L1710.8 321L1711.4 319.4L1712 317.3L1712.7 315L1713.3 312.4L1714 309.4L1714.6 306.2L1715.2 302.8L1715.9 299.2L1716.5 295.6L1717.2 292L1717.8 288.5L1718.4 285.2L1719.1 282.1L1719.7 279.2L1720.4 276.5L1721 274.1L1721.7 271.8L1722.3 269.8L1722.9 268L1723.6 266.4L1724.2 265L1724.9 263.8L1725.5 262.7L1726.1 261.9L1726.8 261.3L1727.4 261L1728.1 260.8L1728.7 260.9L1729.3 261.1L1730 261.5L1730.6 262.1L1731.3 262.9L1731.9 263.8L1732.6 264.8L1733.2 266L1733.8 267.3L1734.5 268.9L1735.1 270.6L1735.8 272.6L1736.4 274.7L1737 277.1L1737.7 279.7L1738.3 282.5L1739 285.4L1739.6 288.5L1740.2 291.6L1740.9 294.7L1741.5 297.7L1742.2 300.6L1742.8 303.5L1743.4 306.2L1744.1 308.7L1744.7 311.1L1745.4 313.4L1746 315.5L1746.7 317.4L1747.3 319.2L1747.9 320.9L1748.6 322.4L1749.2 323.8L1749.9 325L1750.5 326.1L1751.1 327L1751.8 327.8L1752.4 328.5L1753.1 329L1753.7 329.5L1754.3 329.8L1755 330.1L1755.6 330.3L1756.3 330.4L1756.9 330.5L1757.6 330.5L1758.2 330.4L1758.8 330.3L1759.5 330.1L1760.1 329.8L1760.8 329.5L1761.4 329L1762 328.3L1762.7 327.5L1763.3 326.5L1764 325.2L1764.6 323.9L1765.2 322.3L1765.9 320.7L1766.5 319L1767.2 317.2L1767.8 315.4L1768.5 313.6L1769.1 311.8L1769.7 310.1L1770.4 308.4L1771 306.8L1771.7 305.4L1772.3 304.1L1772.9 302.9L1773.6 301.9L1774.2 301L1774.9 300.2L1775.5 299.5L1776.1 298.9L1776.8 298.4L1777.4 298L1778.1 297.8L1778.7 297.6L1779.4 297.5L1780 297.6L1780.6 297.7L1781.3 297.9L1781.9 298.3L1782.6 298.7L1783.2 299.2L1783.8 299.7L1784.5 300.4L1785.1 301.2L1785.8 302.1L1786.4 303.2L1787 304.3L1787.7 305.7L1788.3 307.1L1789 308.6L1789.6 310.2L1790.3 311.8L1790.9 313.5L1791.5 315.1L1792.2 316.8L1792.8 318.5L1793.5 320.1L1794.1 321.7L1794.7 323.2L1795.4 324.7L1796 326L1796.7 327.3L1797.3 328.5L1797.9 329.5L1798.6 330.5L1799.2 331.5L1799.9 332.3L1800.5 333.1L1801.2 333.9L1801.8 334.5L1802.4 335.1L1803.1 335.6L1803.7 336.1L1804.4 336.4L1805 336.6L1805.6 336.8L1806.3 336.8L1806.9 336.7L1807.6 336.6L1808.2 336.4L1808.8 336.1L1809.5 335.8L1810.1 335.4L1810.8 334.9L1811.4 334.3L1812.1 333.7L1812.7 332.9L1813.3 332.1L1814 331.1L1814.6 330L1815.3 328.8L1815.9 327.5L1816.5 326L1817.2 324.5L1817.8 322.8L1818.5 321L1819.1 319.1L1819.7 317.2L1820.4 315.3L1821 313.5L1821.7 311.7L1822.3 310L1823 308.5L1823.6 307.1L1824.2 305.8L1824.9 304.7L1825.5 303.7L1826.2 302.9L1826.8 302.2L1827.4 301.5L1828.1 301L1828.7 300.6L1829.4 300.3L1830 300L1830.6 299.8L1831.3 299.7L1831.9 299.7L1832.6 299.7L1833.2 299.9L1833.9 300.1L1834.5 300.4L1835.1 300.8L1835.8 301.2L1836.4 301.8L1837.1 302.4L1837.7 303.1L1838.3 303.9L1839 304.8L1839.6 305.7L1840.3 306.8L1840.9 307.9L1841.5 309.1L1842.2 310.4L1842.8 311.7L1843.5 313.2L1844.1 314.6L1844.8 316.1L1845.4 317.7L1846 319.2L1846.7 320.7L1847.3 322.2L1848 323.6L1848.6 324.9L1849.2 326.1L1849.9 327.2L1850.5 328.2L1851.2 329L1851.8 329.7L1852.4 330.4L1853.1 330.8L1853.7 331.3L1854.4 331.6L1855 331.8L1855.6 332L1856.3 332.2L1856.9 332.2L1857.6 332.3L1858.2 332.3L1858.9 332.2L1859.5 332.1L1860.1 332L1860.8 331.8L1861.4 331.6L1862.1 331.3L1862.7 331L1863.3 330.5L1864 330L1864.6 329.4L1865.3 328.6L1865.9 327.7L1866.5 326.7L1867.2 325.6L1867.8 324.5L1868.5 323.3L1869.1 322.1L1869.8 320.8L1870.4 319.6L1871 318.3L1871.7 317.1L1872.3 315.9L1873 314.7L1873.6 313.5L1874.2 312.4L1874.9 311.3L1875.5 310.2L1876.2 309.3L1876.8 308.3L1877.4 307.5L1878.1 306.7L1878.7 306L1879.4 305.4L1880 304.9L1880.7 304.4L1881.3 304L1881.9 303.7L1882.6 303.5L1883.2 303.4L1883.9 303.4L1884.5 303.5L1885.1 303.7L1885.8 304.1L1886.4 304.6L1887.1 305.1L1887.7 305.8L1888.3 306.5L1889 307.3L1889.6 308L1890.3 308.9L1890.9 309.7L1891.6 310.6L1892.2 311.6L1892.8 312.6L1893.5 313.6L1894.1 314.7L1894.8 315.9L1895.4 317.1L1896 318.3L1896.7 319.6L1897.3 320.8L1898 322L1898.6 323.2L1899.2 324.3L1899.9 325.3L1900.5 326.3L1901.2 327.1L1901.8 327.9L1902.5 328.5L1903.1 329L1903.7 329.4L1904.4 329.7L1905 329.9L1905.7 330L1906.3 330.1L1906.9 330.1L1907.6 330.2L1908.2 330.1L1908.9 330.1L1909.5 330.1L1910.1 330L1910.8 329.9L1911.4 329.7L1912.1 329.5L1912.7 329.3L1913.4 328.8L1914 328.3L1914.6 327.5L1915.3 326.5L1915.9 325.3L1916.6 323.9L1917.2 322.2L1917.8 320.4L1918.5 318.5L1919.1 316.4L1919.8 314.4L1920.4 312.3L1921 310.3L1921.7 308.4L1922.3 306.7L1923 305.1L1923.6 303.6L1924.3 302.2L1924.9 301L1925.5 299.8L1926.2 298.8L1926.8 297.8L1927.5 297L1928.1 296.2L1928.7 295.5L1929.4 294.8L1930 294.3L1930.7 293.8L1931.3 293.4L1931.9 293L1932.6 292.8L1933.2 292.6L1933.9 292.5L1934.5 292.6L1935.2 292.7L1935.8 293L1936.4 293.4L1937.1 293.9L1937.7 294.6L1938.4 295.4L1939 296.2L1939.6 297.2L1940.3 298.3L1940.9 299.4L1941.6 300.6L1942.2 301.7L1942.8 302.9L1943.5 304L1944.1 305.1L1944.8 306.2L1945.4 307.3L1946.1 308.5L1946.7 309.8L1947.3 311.1L1948 312.5L1948.6 314L1949.3 315.5L1949.9 316.9L1950.5 318.2L1951.2 319.3L1951.8 320.3L1952.5 321.2L1953.1 321.9L1953.7 322.5L1954.4 323.1L1955 323.6L1955.7 324.1L1956.3 324.6L1957 325.1L1957.6 325.6L1958.2 326L1958.9 326.5L1959.5 326.9L1960.2 327.2L1960.8 327.5L1961.4 327.8L1962.1 327.9L1962.7 328L1963.4 327.9L1964 327.7L1964.6 327.4L1965.3 326.9L1965.9 326.3L1966.6 325.7L1967.2 324.9L1967.8 324L1968.5 323.1L1969.1 322.1L1969.8 321L1970.4 319.9L1971.1 318.7L1971.7 317.5L1972.3 316.3L1973 315.1L1973.6 313.9L1974.3 312.8L1974.9 311.6L1975.5 310.5L1976.2 309.5L1976.8 308.6L1977.5 307.7L1978.1 307L1978.7 306.4L1979.4 305.8L1980 305.4L1980.7 305L1981.3 304.7L1982 304.5L1982.6 304.3L1983.2 304.2L1983.9 304.2L1984.5 304.3L1985.2 304.5L1985.8 304.8L1986.4 305.1L1987.1 305.4L1987.7 305.8L1988.4 306.2L1989 306.7L1989.6 307.1L1990.3 307.6L1990.9 308.1L1991.6 308.6L1992.2 309.2L1992.9 309.8L1993.5 310.6L1994.1 311.4L1994.8 312.4L1995.4 313.5L1996.1 314.7L1996.7 315.9L1997.3 317.3L1998 318.6L1998.6 319.9L1999.3 321.1L1999.9 322.3L2000.5 323.5L2001.2 324.6L2001.8 325.7L2002.5 326.8L2003.1 327.8L2003.8 328.9L2004.4 329.9L2005 330.9L2005.7 331.9L2006.3 332.8L2007 333.7L2007.6 334.4L2008.2 335L2008.9 335.5L2009.5 335.9L2010.2 336.2L2010.8 336.5L2011.4 336.7L2012.1 336.8L2012.7 336.9L2013.4 336.9L2014 336.9L2014.7 336.8L2015.3 336.6L2015.9 336.3L2016.6 335.9L2017.2 335.5L2017.9 335L2018.5 334.4L2019.1 333.8L2019.8 333.1L2020.4 332.5L2021.1 331.9L2021.7 331.2L2022.3 330.6L2023 330L2023.6 329.4L2024.3 328.8L2024.9 328.2L2025.6 327.6L2026.2 327L2026.8 326.5L2027.5 326L2028.1 325.5L2028.8 325L2029.4 324.6L2030 324.2L2030.7 323.9L2031.3 323.6L2032 323.4L2032.6 323.2L2033.2 323.1L2033.9 323L2034.5 323L2035.2 323L2035.8 323L2036.5 323.1L2037.1 323.3L2037.7 323.5L2038.4 323.7L2039 323.9L2039.7 324.2L2040.3 324.5L2040.9 324.8L2041.6 325.1L2042.2 325.4L2042.9 325.7L2043.5 326L2044.1 326.3L2044.8 326.6L2045.4 326.9L2046.1 327.1L2046.7 327.4L2047.4 327.6L2048 327.8L2048.6 328L2049.3 328.2L2049.9 328.3L2050.6 328.5L2051.2 328.6L2051.8 328.7L2052.5 328.8L2053.1 328.9L2053.8 329L2054.4 329.1L2055 329.1L2055.7 329.2L2056.3 329.2L2057 329.3L2057.6 329.3L2058.3 329.3L2058.9 329.2L2059.5 329.2L2060.2 329.1L2060.8 329L2061.5 329L2062.1 328.9L2062.7 328.7L2063.4 328.6L2064 328.4L2064.7 328.2L2065.3 328L2065.9 327.6L2066.6 327.3L2067.2 326.8L2067.9 326.3L2068.5 325.7L2069.2 325.1L2069.8 324.4L2070.4 323.7L2071.1 323L2071.7 322.3L2072.4 321.5L2073 320.8L2073.6 320L2074.3 319.3L2074.9 318.6L2075.6 317.9L2076.2 317.3L2076.8 316.7L2077.5 316.1L2078.1 315.5L2078.8 315L2079.4 314.6L2080 314.1L2080.7 313.8L2081.3 313.4L2082 313.1L2082.6 312.9L2083.3 312.7L2083.9 312.5L2084.5 312.3L2085.2 312.2L2085.8 312.1L2086.5 312.1L2087.1 312.1L2087.7 312.1L2088.4 312.2L2089 312.3L2089.7 312.4L2090.3 312.6L2090.9 312.8L2091.6 313.1L2092.2 313.4L2092.9 313.8L2093.5 314.2L2094.2 314.6L2094.8 315.2L2095.4 315.7L2096.1 316.3L2096.7 316.9L2097.4 317.6L2098 318.2L2098.6 318.9L2099.3 319.6L2099.9 320.4L2100.6 321.1L2101.2 321.9L2101.8 322.8L2102.5 323.6L2103.1 324.6L2103.8 325.5L2104.4 326.5L2105.1 327.6L2105.7 328.6L2106.3 329.7L2107 330.7L2107.6 331.7L2108.3 332.6L2108.9 333.5L2109.5 334.2L2110.2 334.9L2110.8 335.6L2111.5 336.2L2112.1 336.7L2112.7 337.1L2113.4 337.5L2114 337.9L2114.7 338.1L2115.3 338.3L2116 338.4L2116.6 338.4L2117.2 338.4L2117.9 338.2L2118.5 338L2119.2 337.7L2119.8 337.4L2120.4 337.1L2121.1 336.7L2121.7 336.3L2122.4 335.9L2123 335.6L2123.6 335.2L2124.3 334.8L2124.9 334.5L2125.6 334.2L2126.2 333.9L2126.9 333.6L2127.5 333.3L2128.1 333.1L2128.8 332.9L2129.4 332.7L2130.1 332.6L2130.7 332.5L2131.3 332.5L2132 332.5L2132.6 332.4L2133.3 332.4L2133.9 332.4L2134.5 332.4L2135.2 332.5L2135.8 332.5L2136.5 332.5L2137.1 332.5L2137.8 332.5L2138.4 332.6L2139 332.6L2139.7 332.7L2140.3 332.7L2141 332.8L2141.6 332.9L2142.2 333L2142.9 333.1L2143.5 333.2L2144.2 333.3L2144.8 333.4L2145.4 333.5L2146.1 333.5L2146.7 333.6L2147.4 333.7L2148 333.8L2148.7 333.8L2149.3 333.9L2149.9 333.9L2150.6 333.9L2151.2 333.9L2151.9 333.9L2152.5 333.9L2153.1 333.8L2153.8 333.7L2154.4 333.6L2155.1 333.5L2155.7 333.3L2156.3 333.2L2157 333.1" stroke="#000000"/>
</g>
<rect x="1236.4" y="91.5" width="462.3" height="358.5" fill="none" stroke="#747474" stroke-width="1.1"/>
<path d="M1308.4 450.0H1622.5M1236.4 392.8V127.0M1308.4 450.0v7.7M1386.9 450.0v7.7M1465.4 450.0v7.7M1544.0 450.0v7.7M1622.5 450.0v7.7M1236.4 392.8h-7.7M1236.4 304.2h-7.7M1236.4 215.6h-7.7M1236.4 127.0h-7.7" fill="none" stroke="#3c3c3c" stroke-width="1.15"/>
<clipPath id="tc-c"><rect x="1176.4" y="450.0" width="582.3" height="26.3"/></clipPath>
<g font-family="'Liberation Sans', Arial, Helvetica, sans-serif" font-size="12.3" fill="#262626" stroke="#262626" stroke-width="0.3" text-anchor="middle" clip-path="url(#tc-c)">
<text x="1308.4" y="476.3">1</text>
<text x="1386.9" y="476.3">2</text>
<text x="1465.4" y="476.3">3</text>
<text x="1544.0" y="476.3">4</text>
<text x="1622.5" y="476.3">5</text>
</g>
<g font-family="'Liberation Sans', Arial, Helvetica, sans-serif" font-size="12.3" fill="#262626" stroke="#262626" stroke-width="0.3" text-anchor="middle">
<text transform="translate(1219.6 392.8) rotate(-90)">0.0</text>
<text transform="translate(1219.6 304.2) rotate(-90)">0.2</text>
<text transform="translate(1219.6 215.6) rotate(-90)">0.4</text>
<text transform="translate(1219.6 127.0) rotate(-90)">0.6</text>
</g>
</g>
<g id="panel-e">
<path d="M744.8 555.1V895.1M822.4 555.1V895.1M900.1 555.1V895.1M977.8 555.1V895.1M1055.5 555.1V895.1M676.5 756.6H1127.6M676.5 671.3H1127.6M676.5 586.0H1127.6" fill="none" stroke="#dedede" stroke-width="1" stroke-dasharray="1 2.4"/>
<clipPath id="cp-e"><rect x="673.5" y="552.1" width="457.1" height="345.0"/></clipPath>
<path d="M672.8 841.9H1130.6" stroke="#c2c2c2" stroke-width="1.9" stroke-dasharray="7.1 4.4" fill="none" clip-path="url(#cp-e)"/>
<g fill="none" stroke-width="2.5" stroke-linejoin="round" stroke-linecap="round" transform="scale(0.78 1)">
<path d="M885 847.8L885.6 848.1L886.2 848.4L886.9 848.7L887.5 849L888.2 849.3L888.8 849.5L889.4 849.7L890.1 849.8L890.7 849.9L891.4 850L892 850L892.7 850L893.3 850L893.9 850L894.6 849.9L895.2 849.8L895.9 849.8L896.5 849.7L897.1 849.6L897.8 849.6L898.4 849.5L899.1 849.5L899.7 849.5L900.3 849.5L901 849.5L901.6 849.5L902.3 849.6L902.9 849.6L903.6 849.7L904.2 849.8L904.8 849.9L905.5 849.9L906.1 850L906.8 850.1L907.4 850.2L908 850.2L908.7 850.3L909.3 850.3L910 850.4L910.6 850.4L911.2 850.4L911.9 850.5L912.5 850.5L913.2 850.5L913.8 850.5L914.5 850.6L915.1 850.6L915.7 850.6L916.4 850.6L917 850.5L917.7 850.5L918.3 850.5L918.9 850.4L919.6 850.3L920.2 850.2L920.9 850.2L921.5 850.1L922.1 850L922.8 850L923.4 850L924.1 850L924.7 850.1L925.4 850.1L926 850.3L926.6 850.4L927.3 850.6L927.9 850.8L928.6 851.1L929.2 851.4L929.8 851.8L930.5 852.2L931.1 852.6L931.8 853.1L932.4 853.6L933 854.2L933.7 854.8L934.3 855.5L935 856.2L935.6 856.9L936.3 857.6L936.9 858.4L937.5 859.2L938.2 860L938.8 860.7L939.5 861.5L940.1 862.3L940.7 863L941.4 863.7L942 864.4L942.7 865L943.3 865.7L944 866.2L944.6 866.8L945.2 867.3L945.9 867.8L946.5 868.2L947.2 868.6L947.8 868.9L948.4 869.3L949.1 869.5L949.7 869.8L950.4 870L951 870.2L951.6 870.4L952.3 870.5L952.9 870.6L953.6 870.7L954.2 870.7L954.9 870.6L955.5 870.6L956.1 870.4L956.8 870.2L957.4 870L958.1 869.7L958.7 869.4L959.3 869L960 868.6L960.6 868.1L961.3 867.6L961.9 867.1L962.5 866.5L963.2 865.9L963.8 865.3L964.5 864.5L965.1 863.8L965.8 863L966.4 862.2L967 861.4L967.7 860.5L968.3 859.7L969 858.8L969.6 858L970.2 857.2L970.9 856.4L971.5 855.6L972.2 854.9L972.8 854.2L973.4 853.6L974.1 853L974.7 852.4L975.4 851.9L976 851.4L976.7 850.9L977.3 850.5L977.9 850.1L978.6 849.7L979.2 849.5L979.9 849.2L980.5 849L981.1 848.9L981.8 848.8L982.4 848.7L983.1 848.6L983.7 848.6L984.3 848.6L985 848.5L985.6 848.5L986.3 848.5L986.9 848.6L987.6 848.6L988.2 848.6L988.8 848.6L989.5 848.7L990.1 848.7L990.8 848.7L991.4 848.7L992 848.7L992.7 848.6L993.3 848.6L994 848.5L994.6 848.3L995.2 848.2L995.9 848L996.5 847.9L997.2 847.7L997.8 847.5L998.5 847.3L999.1 847.1L999.7 846.9L1000.4 846.7L1001 846.5L1001.7 846.4L1002.3 846.2L1002.9 846L1003.6 845.9L1004.2 845.8L1004.9 845.6L1005.5 845.5L1006.1 845.5L1006.8 845.4L1007.4 845.3L1008.1 845.3L1008.7 845.3L1009.4 845.3L1010 845.4L1010.6 845.5L1011.3 845.6L1011.9 845.7L1012.6 845.9L1013.2 846.1L1013.8 846.3L1014.5 846.6L1015.1 846.8L1015.8 847.1L1016.4 847.3L1017.1 847.6L1017.7 847.9L1018.3 848.2L1019 848.4L1019.6 848.6L1020.3 848.9L1020.9 849.1L1021.5 849.3L1022.2 849.4L1022.8 849.6L1023.5 849.7L1024.1 849.8L1024.7 849.9L1025.4 850L1026 850L1026.7 850L1027.3 850L1028 850L1028.6 850L1029.2 849.9L1029.9 849.9L1030.5 849.8L1031.2 849.8L1031.8 849.7L1032.4 849.7L1033.1 849.6L1033.7 849.6L1034.4 849.5L1035 849.5L1035.6 849.4L1036.3 849.4L1036.9 849.4L1037.6 849.5L1038.2 849.5L1038.9 849.6L1039.5 849.7L1040.1 849.9L1040.8 850.1L1041.4 850.3L1042.1 850.5L1042.7 850.7L1043.3 851L1044 851.2L1044.6 851.5L1045.3 851.8L1045.9 852.1L1046.5 852.3L1047.2 852.6L1047.8 852.9L1048.5 853.2L1049.1 853.5L1049.8 853.7L1050.4 854L1051 854.2L1051.7 854.4L1052.3 854.6L1053 854.8L1053.6 855L1054.2 855.1L1054.9 855.2L1055.5 855.3L1056.2 855.3L1056.8 855.3L1057.4 855.3L1058.1 855.2L1058.7 855.1L1059.4 854.9L1060 854.8L1060.7 854.6L1061.3 854.4L1061.9 854.2L1062.6 853.9L1063.2 853.7L1063.9 853.4L1064.5 853.1L1065.1 852.9L1065.8 852.6L1066.4 852.3L1067.1 852L1067.7 851.7L1068.3 851.4L1069 851.2L1069.6 850.9L1070.3 850.7L1070.9 850.4L1071.6 850.2L1072.2 850L1072.8 849.9L1073.5 849.7L1074.1 849.5L1074.8 849.4L1075.4 849.3L1076 849.2L1076.7 849.1L1077.3 849.1L1078 849L1078.6 849L1079.2 849L1079.9 849.1L1080.5 849.2L1081.2 849.3L1081.8 849.5L1082.5 849.7L1083.1 849.9L1083.7 850.3L1084.4 850.7L1085 851.1L1085.7 851.6L1086.3 852.2L1086.9 852.8L1087.6 853.5L1088.2 854.2L1088.9 854.9L1089.5 855.6L1090.1 856.4L1090.8 857.2L1091.4 857.9L1092.1 858.7L1092.7 859.5L1093.4 860.2L1094 861L1094.6 861.8L1095.3 862.5L1095.9 863.2L1096.6 863.8L1097.2 864.4L1097.8 865L1098.5 865.5L1099.1 865.9L1099.8 866.3L1100.4 866.6L1101.1 866.9L1101.7 867.2L1102.3 867.3L1103 867.5L1103.6 867.6L1104.3 867.6L1104.9 867.6L1105.5 867.5L1106.2 867.3L1106.8 867.2L1107.5 866.9L1108.1 866.7L1108.7 866.4L1109.4 866L1110 865.6L1110.7 865.2L1111.3 864.8L1112 864.3L1112.6 863.8L1113.2 863.2L1113.9 862.7L1114.5 862.1L1115.2 861.5L1115.8 861L1116.4 860.4L1117.1 859.8L1117.7 859.2L1118.4 858.6L1119 858L1119.6 857.4L1120.3 856.9L1120.9 856.4L1121.6 855.8L1122.2 855.3L1122.9 854.9L1123.5 854.4L1124.1 854L1124.8 853.6L1125.4 853.2L1126.1 852.9L1126.7 852.6L1127.3 852.3L1128 852.1L1128.6 851.9L1129.3 851.7L1129.9 851.5L1130.5 851.4L1131.2 851.4L1131.8 851.3L1132.5 851.4L1133.1 851.4L1133.8 851.5L1134.4 851.6L1135 851.8L1135.7 852L1136.3 852.2L1137 852.4L1137.6 852.6L1138.2 852.8L1138.9 853.1L1139.5 853.3L1140.2 853.6L1140.8 853.9L1141.4 854.3L1142.1 854.7L1142.7 855.2L1143.4 855.6L1144 856.1L1144.7 856.6L1145.3 857.1L1145.9 857.6L1146.6 858L1147.2 858.3L1147.9 858.6L1148.5 858.9L1149.1 859.1L1149.8 859.3L1150.4 859.5L1151.1 859.6L1151.7 859.7L1152.3 859.7L1153 859.8L1153.6 859.8L1154.3 859.8L1154.9 859.8L1155.6 859.7L1156.2 859.6L1156.8 859.5L1157.5 859.3L1158.1 859.1L1158.8 858.9L1159.4 858.6L1160 858.3L1160.7 858L1161.3 857.7L1162 857.4L1162.6 857L1163.2 856.7L1163.9 856.3L1164.5 855.9L1165.2 855.6L1165.8 855.2L1166.5 854.8L1167.1 854.4L1167.7 854L1168.4 853.6L1169 853.2L1169.7 852.9L1170.3 852.5L1170.9 852.1L1171.6 851.8L1172.2 851.5L1172.9 851.2L1173.5 851L1174.2 850.8L1174.8 850.6L1175.4 850.4L1176.1 850.3L1176.7 850.1L1177.4 850L1178 850L1178.6 849.9L1179.3 849.9L1179.9 849.9L1180.6 849.9L1181.2 850L1181.8 850.1L1182.5 850.3L1183.1 850.5L1183.8 850.8L1184.4 851.1L1185.1 851.4L1185.7 851.7L1186.3 852.1L1187 852.4L1187.6 852.8L1188.3 853.2L1188.9 853.6L1189.5 854L1190.2 854.4L1190.8 854.7L1191.5 855.1L1192.1 855.4L1192.7 855.7L1193.4 856L1194 856.3L1194.7 856.6L1195.3 856.9L1196 857.1L1196.6 857.3L1197.2 857.5L1197.9 857.7L1198.5 857.9L1199.2 858.1L1199.8 858.2L1200.4 858.3L1201.1 858.4L1201.7 858.5L1202.4 858.6L1203 858.6L1203.6 858.7L1204.3 858.7L1204.9 858.6L1205.6 858.6L1206.2 858.5L1206.9 858.4L1207.5 858.3L1208.1 858.1L1208.8 857.9L1209.4 857.7L1210.1 857.5L1210.7 857.2L1211.3 857L1212 856.7L1212.6 856.4L1213.3 856L1213.9 855.7L1214.5 855.3L1215.2 855L1215.8 854.6L1216.5 854.2L1217.1 853.9L1217.8 853.5L1218.4 853.1L1219 852.8L1219.7 852.4L1220.3 852.1L1221 851.8L1221.6 851.5L1222.2 851.2L1222.9 850.9L1223.5 850.7L1224.2 850.4L1224.8 850.2L1225.4 850L1226.1 849.8L1226.7 849.7L1227.4 849.5L1228 849.4L1228.7 849.3L1229.3 849.2L1229.9 849.2L1230.6 849.2L1231.2 849.2L1231.9 849.3L1232.5 849.4L1233.1 849.5L1233.8 849.7L1234.4 849.8L1235.1 850L1235.7 850.2L1236.3 850.4L1237 850.6L1237.6 850.8L1238.3 851.1L1238.9 851.3L1239.6 851.5L1240.2 851.8L1240.8 852L1241.5 852.3L1242.1 852.5L1242.8 852.7L1243.4 853L1244 853.2L1244.7 853.4L1245.3 853.7L1246 853.9L1246.6 854.1L1247.3 854.3L1247.9 854.5L1248.5 854.6L1249.2 854.8L1249.8 854.9L1250.5 855L1251.1 855.2L1251.7 855.3L1252.4 855.4L1253 855.5L1253.7 855.5L1254.3 855.6L1254.9 855.6L1255.6 855.6L1256.2 855.6L1256.9 855.5L1257.5 855.5L1258.2 855.4L1258.8 855.3L1259.4 855.2L1260.1 855.1L1260.7 854.9L1261.4 854.8L1262 854.6L1262.6 854.4L1263.3 854.1L1263.9 853.9L1264.6 853.6L1265.2 853.4L1265.8 853.1L1266.5 852.8L1267.1 852.6L1267.8 852.3L1268.4 852L1269.1 851.7L1269.7 851.5L1270.3 851.2L1271 850.9L1271.6 850.7L1272.3 850.4L1272.9 850.1L1273.5 849.9L1274.2 849.6L1274.8 849.4L1275.5 849.1L1276.1 848.9L1276.7 848.7L1277.4 848.5L1278 848.3L1278.7 848.1L1279.3 847.9L1280 847.7L1280.6 847.6L1281.2 847.4L1281.9 847.2L1282.5 847.1L1283.2 847L1283.8 846.8L1284.4 846.7L1285.1 846.6L1285.7 846.5L1286.4 846.4L1287 846.3L1287.6 846.2L1288.3 846.1L1288.9 846L1289.6 845.9L1290.2 845.9L1290.9 845.8L1291.5 845.7L1292.1 845.7L1292.8 845.6L1293.4 845.6L1294.1 845.5L1294.7 845.5L1295.3 845.5L1296 845.4L1296.6 845.4L1297.3 845.4L1297.9 845.4L1298.5 845.3L1299.2 845.3L1299.8 845.3L1300.5 845.3L1301.1 845.4L1301.8 845.4L1302.4 845.4L1303 845.4L1303.7 845.5L1304.3 845.5L1305 845.6L1305.6 845.6L1306.2 845.7L1306.9 845.7L1307.5 845.8L1308.2 845.9L1308.8 845.9L1309.4 846L1310.1 846.1L1310.7 846.2L1311.4 846.3L1312 846.3L1312.7 846.4L1313.3 846.5L1313.9 846.5L1314.6 846.6L1315.2 846.7L1315.9 846.7L1316.5 846.7L1317.1 846.8L1317.8 846.8L1318.4 846.8L1319.1 846.8L1319.7 846.9L1320.4 846.9L1321 846.9L1321.6 846.9L1322.3 846.9L1322.9 846.9L1323.6 846.9L1324.2 846.9L1324.8 846.9L1325.5 846.9L1326.1 846.9L1326.8 846.9L1327.4 846.9L1328 846.9L1328.7 846.8L1329.3 846.8L1330 846.8L1330.6 846.8L1331.3 846.7L1331.9 846.7L1332.5 846.7L1333.2 846.6L1333.8 846.6L1334.5 846.5L1335.1 846.5L1335.7 846.4L1336.4 846.4L1337 846.3L1337.7 846.3L1338.3 846.2L1338.9 846.2L1339.6 846.1L1340.2 846.1L1340.9 846L1341.5 846L1342.2 845.9L1342.8 845.9L1343.4 845.9L1344.1 845.8L1344.7 845.8L1345.4 845.8L1346 845.8L1346.6 845.7L1347.3 845.7L1347.9 845.7L1348.6 845.7L1349.2 845.7L1349.8 845.8L1350.5 845.8L1351.1 845.8L1351.8 845.9L1352.4 845.9L1353.1 846L1353.7 846L1354.3 846.1L1355 846.2L1355.6 846.2L1356.3 846.3L1356.9 846.4L1357.5 846.4L1358.2 846.5L1358.8 846.6L1359.5 846.7L1360.1 846.8L1360.7 846.8L1361.4 846.9L1362 847L1362.7 847L1363.3 847.1L1364 847.1L1364.6 847.2L1365.2 847.2L1365.9 847.3L1366.5 847.3L1367.2 847.3L1367.8 847.4L1368.4 847.4L1369.1 847.4L1369.7 847.4L1370.4 847.4L1371 847.5L1371.6 847.5L1372.3 847.5L1372.9 847.5L1373.6 847.5L1374.2 847.5L1374.9 847.5L1375.5 847.5L1376.1 847.4L1376.8 847.4L1377.4 847.4L1378.1 847.4L1378.7 847.4L1379.3 847.4L1380 847.3L1380.6 847.3L1381.3 847.3L1381.9 847.3L1382.5 847.2L1383.2 847.2L1383.8 847.1L1384.5 847.1L1385.1 847L1385.8 847L1386.4 846.9L1387 846.8L1387.7 846.8L1388.3 846.7L1389 846.7L1389.6 846.6L1390.2 846.5L1390.9 846.5L1391.5 846.4L1392.2 846.4L1392.8 846.3L1393.5 846.2L1394.1 846.2L1394.7 846.1L1395.4 846L1396 846L1396.7 845.9L1397.3 845.9L1397.9 845.8L1398.6 845.8L1399.2 845.7L1399.9 845.7L1400.5 845.6L1401.1 845.6L1401.8 845.5L1402.4 845.5L1403.1 845.5L1403.7 845.5L1404.4 845.5L1405 845.5L1405.6 845.5L1406.3 845.5L1406.9 845.5L1407.6 845.6L1408.2 845.6L1408.8 845.7L1409.5 845.7L1410.1 845.8L1410.8 845.9L1411.4 846.1L1412 846.2L1412.7 846.3L1413.3 846.4L1414 846.6L1414.6 846.7L1415.3 846.8L1415.9 846.9L1416.5 847L1417.2 847.1L1417.8 847.2L1418.5 847.2L1419.1 847.3L1419.7 847.3L1420.4 847.3L1421 847.3L1421.7 847.3L1422.3 847.3L1422.9 847.3L1423.6 847.2L1424.2 847.1L1424.9 847L1425.5 846.9L1426.2 846.7L1426.8 846.6L1427.4 846.4L1428.1 846.2L1428.7 846" stroke="#0000ff"/>
<path d="M885.1 820.8L885.7 820.6L886.4 820.4L887 820.1L887.7 819.7L888.3 819.3L888.9 818.8L889.6 818.3L890.2 817.6L890.9 816.9L891.5 816.2L892.1 815.3L892.8 814.3L893.4 813.3L894.1 812.1L894.7 810.9L895.3 809.5L896 808.1L896.6 806.7L897.3 805.3L897.9 803.9L898.6 802.5L899.2 801.1L899.8 799.8L900.5 798.6L901.1 797.4L901.8 796.3L902.4 795.3L903 794.5L903.7 793.9L904.3 793.5L905 793.4L905.6 793.6L906.3 794L906.9 794.7L907.5 795.7L908.2 796.8L908.8 798.1L909.5 799.5L910.1 801L910.7 802.5L911.4 804L912 805.3L912.7 806.6L913.3 807.7L913.9 808.8L914.6 809.6L915.2 810.4L915.9 811L916.5 811.5L917.2 811.9L917.8 812.2L918.4 812.5L919.1 812.6L919.7 812.8L920.4 812.9L921 812.9L921.6 812.9L922.3 812.9L922.9 812.8L923.6 812.7L924.2 812.5L924.9 812.4L925.5 812.2L926.1 812L926.8 811.7L927.4 811.5L928.1 811.2L928.7 810.8L929.3 810.4L930 810L930.6 809.6L931.3 809.1L931.9 808.5L932.5 807.9L933.2 807.2L933.8 806.4L934.5 805.6L935.1 804.7L935.8 803.7L936.4 802.6L937 801.2L937.7 799.7L938.3 797.9L939 795.7L939.6 793.1L940.2 790L940.9 786.2L941.5 781.8L942.2 776.8L942.8 771.3L943.5 765.4L944.1 759.1L944.7 752.7L945.4 746.2L946 739.7L946.7 733.3L947.3 727.2L947.9 721.2L948.6 715.6L949.2 710.2L949.9 705.2L950.5 700.4L951.1 695.9L951.8 691.8L952.4 688L953.1 684.9L953.7 682.5L954.4 681L955 680.7L955.6 681.4L956.3 683.3L956.9 686L957.6 689.5L958.2 693.4L958.8 697.7L959.5 702.2L960.1 707L960.8 711.9L961.4 717.1L962 722.5L962.7 728.1L963.3 734L964 740L964.6 746.2L965.3 752.4L965.9 758.5L966.5 764.5L967.2 770L967.8 775.1L968.5 779.6L969.1 783.4L969.7 786.7L970.4 789.4L971 791.6L971.7 793.5L972.3 795.1L973 796.6L973.6 797.9L974.2 799L974.9 800L975.5 800.9L976.2 801.6L976.8 802.2L977.4 802.7L978.1 803.1L978.7 803.5L979.4 803.8L980 804L980.6 804.2L981.3 804.3L981.9 804.4L982.6 804.4L983.2 804.3L983.9 804.2L984.5 803.9L985.1 803.6L985.8 803.3L986.4 802.8L987.1 802.3L987.7 801.7L988.3 800.9L989 800L989.6 799L990.3 797.8L990.9 796.3L991.6 794.7L992.2 792.8L992.8 790.7L993.5 788.5L994.1 786L994.8 783.4L995.4 780.7L996 777.8L996.7 774.9L997.3 771.9L998 769L998.6 766.1L999.2 763.4L999.9 760.8L1000.5 758.5L1001.2 756.4L1001.8 754.5L1002.5 753L1003.1 751.9L1003.7 751.1L1004.4 750.8L1005 751L1005.7 751.6L1006.3 752.7L1006.9 754.2L1007.6 756L1008.2 758L1008.9 760.3L1009.5 762.7L1010.2 765.3L1010.8 768L1011.4 770.7L1012.1 773.4L1012.7 776.1L1013.4 778.7L1014 781.2L1014.6 783.6L1015.3 785.9L1015.9 788L1016.6 790L1017.2 791.8L1017.8 793.5L1018.5 795L1019.1 796.3L1019.8 797.4L1020.4 798.4L1021.1 799.2L1021.7 800L1022.3 800.6L1023 801.2L1023.6 801.7L1024.3 802.1L1024.9 802.5L1025.5 802.9L1026.2 803.2L1026.8 803.5L1027.5 803.8L1028.1 804L1028.7 804.2L1029.4 804.3L1030 804.4L1030.7 804.4L1031.3 804.4L1032 804.3L1032.6 804.1L1033.2 803.8L1033.9 803.5L1034.5 803.1L1035.2 802.7L1035.8 802.2L1036.4 801.6L1037.1 801L1037.7 800.3L1038.4 799.6L1039 798.8L1039.7 798L1040.3 797.1L1040.9 796.1L1041.6 795L1042.2 793.9L1042.9 792.7L1043.5 791.4L1044.1 790.1L1044.8 788.7L1045.4 787.3L1046.1 785.8L1046.7 784.3L1047.3 782.7L1048 781.2L1048.6 779.6L1049.3 778L1049.9 776.5L1050.6 775L1051.2 773.6L1051.8 772.3L1052.5 771.2L1053.1 770.3L1053.8 769.7L1054.4 769.3L1055 769.3L1055.7 769.6L1056.3 770.3L1057 771.2L1057.6 772.3L1058.3 773.6L1058.9 775L1059.5 776.4L1060.2 778L1060.8 779.5L1061.5 781.1L1062.1 782.6L1062.7 784.2L1063.4 785.7L1064 787.2L1064.7 788.7L1065.3 790.2L1065.9 791.6L1066.6 793L1067.2 794.3L1067.9 795.6L1068.5 796.7L1069.2 797.8L1069.8 798.8L1070.4 799.6L1071.1 800.4L1071.7 801.1L1072.4 801.7L1073 802.2L1073.6 802.7L1074.3 803.2L1074.9 803.6L1075.6 803.9L1076.2 804.3L1076.9 804.6L1077.5 804.8L1078.1 805L1078.8 805.1L1079.4 805.2L1080.1 805.2L1080.7 805.1L1081.3 805L1082 804.9L1082.6 804.6L1083.3 804.4L1083.9 804L1084.5 803.7L1085.2 803.2L1085.8 802.8L1086.5 802.2L1087.1 801.7L1087.8 801L1088.4 800.2L1089 799.4L1089.7 798.4L1090.3 797.4L1091 796.2L1091.6 795L1092.2 793.8L1092.9 792.5L1093.5 791.2L1094.2 789.9L1094.8 788.6L1095.4 787.3L1096.1 786L1096.7 784.6L1097.4 783.3L1098 781.9L1098.7 780.5L1099.3 779L1099.9 777.6L1100.6 776.2L1101.2 774.9L1101.9 773.7L1102.5 772.7L1103.1 771.9L1103.8 771.4L1104.4 771.2L1105.1 771.4L1105.7 771.8L1106.4 772.5L1107 773.5L1107.6 774.6L1108.3 775.9L1108.9 777.3L1109.6 778.7L1110.2 780.2L1110.8 781.7L1111.5 783.1L1112.1 784.5L1112.8 785.8L1113.4 787.2L1114 788.5L1114.7 789.7L1115.3 791L1116 792.2L1116.6 793.4L1117.3 794.5L1117.9 795.6L1118.5 796.6L1119.2 797.5L1119.8 798.3L1120.5 799L1121.1 799.6L1121.7 800.1L1122.4 800.6L1123 801L1123.7 801.4L1124.3 801.7L1125 802L1125.6 802.2L1126.2 802.4L1126.9 802.6L1127.5 802.7L1128.2 802.7L1128.8 802.8L1129.4 802.8L1130.1 802.7L1130.7 802.6L1131.4 802.4L1132 802.2L1132.6 802L1133.3 801.7L1133.9 801.4L1134.6 801.1L1135.2 800.7L1135.9 800.2L1136.5 799.7L1137.1 799.2L1137.8 798.5L1138.4 797.8L1139.1 797L1139.7 796.1L1140.3 795.2L1141 794.1L1141.6 793.1L1142.3 791.9L1142.9 790.7L1143.6 789.5L1144.2 788.3L1144.8 787L1145.5 785.7L1146.1 784.4L1146.8 783L1147.4 781.6L1148 780.1L1148.7 778.6L1149.3 777.2L1150 775.8L1150.6 774.5L1151.2 773.4L1151.9 772.4L1152.5 771.7L1153.2 771.3L1153.8 771.2L1154.5 771.4L1155.1 771.9L1155.7 772.7L1156.4 773.7L1157 774.9L1157.7 776.3L1158.3 777.8L1158.9 779.3L1159.6 780.8L1160.2 782.3L1160.9 783.8L1161.5 785.2L1162.1 786.6L1162.8 787.9L1163.4 789.2L1164.1 790.4L1164.7 791.5L1165.4 792.6L1166 793.6L1166.6 794.6L1167.3 795.5L1167.9 796.3L1168.6 797.1L1169.2 797.8L1169.8 798.4L1170.5 798.9L1171.1 799.3L1171.8 799.7L1172.4 800.1L1173.1 800.4L1173.7 800.6L1174.3 800.8L1175 801L1175.6 801.2L1176.3 801.4L1176.9 801.5L1177.5 801.6L1178.2 801.6L1178.8 801.7L1179.5 801.7L1180.1 801.6L1180.7 801.5L1181.4 801.4L1182 801.2L1182.7 800.9L1183.3 800.7L1184 800.4L1184.6 800L1185.2 799.6L1185.9 799.2L1186.5 798.8L1187.2 798.4L1187.8 797.9L1188.4 797.3L1189.1 796.7L1189.7 796.1L1190.4 795.4L1191 794.7L1191.7 793.9L1192.3 793.1L1192.9 792.2L1193.6 791.4L1194.2 790.6L1194.9 789.7L1195.5 788.9L1196.1 788.1L1196.8 787.3L1197.4 786.4L1198.1 785.6L1198.7 784.8L1199.3 784.1L1200 783.3L1200.6 782.6L1201.3 781.9L1201.9 781.3L1202.6 780.9L1203.2 780.7L1203.8 780.6L1204.5 780.7L1205.1 781.1L1205.8 781.6L1206.4 782.2L1207 783L1207.7 783.8L1208.3 784.7L1209 785.7L1209.6 786.6L1210.3 787.6L1210.9 788.6L1211.5 789.5L1212.2 790.4L1212.8 791.4L1213.5 792.3L1214.1 793.2L1214.7 794L1215.4 794.8L1216 795.6L1216.7 796.3L1217.3 797L1217.9 797.6L1218.6 798.1L1219.2 798.5L1219.9 798.9L1220.5 799.3L1221.2 799.6L1221.8 799.9L1222.4 800.1L1223.1 800.4L1223.7 800.6L1224.4 800.7L1225 800.9L1225.6 801.1L1226.3 801.2L1226.9 801.3L1227.6 801.3L1228.2 801.3L1228.9 801.3L1229.5 801.3L1230.1 801.2L1230.8 801L1231.4 800.9L1232.1 800.7L1232.7 800.4L1233.3 800.1L1234 799.8L1234.6 799.5L1235.3 799.1L1235.9 798.7L1236.5 798.3L1237.2 797.8L1237.8 797.3L1238.5 796.7L1239.1 796.1L1239.8 795.4L1240.4 794.6L1241 793.8L1241.7 792.9L1242.3 792L1243 791L1243.6 790L1244.2 789L1244.9 787.9L1245.5 786.9L1246.2 785.9L1246.8 784.8L1247.4 783.8L1248.1 782.8L1248.7 781.8L1249.4 780.9L1250 780.1L1250.7 779.3L1251.3 778.6L1251.9 778.1L1252.6 777.8L1253.2 777.6L1253.9 777.7L1254.5 778L1255.1 778.5L1255.8 779.2L1256.4 780.1L1257.1 781.1L1257.7 782.2L1258.4 783.4L1259 784.6L1259.6 785.8L1260.3 787L1260.9 788.2L1261.6 789.2L1262.2 790.3L1262.8 791.3L1263.5 792.2L1264.1 793.1L1264.8 793.9L1265.4 794.7L1266 795.4L1266.7 796.1L1267.3 796.7L1268 797.3L1268.6 797.9L1269.3 798.4L1269.9 798.8L1270.5 799.3L1271.2 799.7L1271.8 800.1L1272.5 800.4L1273.1 800.8L1273.7 801.1L1274.4 801.5L1275 801.8L1275.7 802.1L1276.3 802.3L1277 802.6L1277.6 802.8L1278.2 803L1278.9 803.2L1279.5 803.3L1280.2 803.4L1280.8 803.5L1281.4 803.6L1282.1 803.6L1282.7 803.6L1283.4 803.5L1284 803.4L1284.6 803.3L1285.3 803.1L1285.9 802.9L1286.6 802.6L1287.2 802.4L1287.9 802.1L1288.5 801.8L1289.1 801.5L1289.8 801.1L1290.4 800.8L1291.1 800.4L1291.7 800L1292.3 799.6L1293 799.2L1293.6 798.7L1294.3 798.3L1294.9 797.8L1295.6 797.2L1296.2 796.7L1296.8 796.1L1297.5 795.6L1298.1 795L1298.8 794.5L1299.4 794L1300 793.5L1300.7 793.1L1301.3 792.7L1302 792.4L1302.6 792.2L1303.2 792.1L1303.9 792.1L1304.5 792.2L1305.2 792.4L1305.8 792.7L1306.5 793L1307.1 793.5L1307.7 794L1308.4 794.6L1309 795.2L1309.7 795.8L1310.3 796.5L1310.9 797.1L1311.6 797.8L1312.2 798.4L1312.9 798.9L1313.5 799.5L1314.1 799.9L1314.8 800.4L1315.4 800.8L1316.1 801.1L1316.7 801.5L1317.4 801.8L1318 802.1L1318.6 802.4L1319.3 802.6L1319.9 802.9L1320.6 803.1L1321.2 803.4L1321.8 803.6L1322.5 803.8L1323.1 803.9L1323.8 804.1L1324.4 804.2L1325.1 804.3L1325.7 804.3L1326.3 804.4L1327 804.4L1327.6 804.4L1328.3 804.3L1328.9 804.2L1329.5 804L1330.2 803.9L1330.8 803.7L1331.5 803.4L1332.1 803.2L1332.7 802.9L1333.4 802.6L1334 802.2L1334.7 801.9L1335.3 801.6L1336 801.2L1336.6 800.8L1337.2 800.4L1337.9 800L1338.5 799.6L1339.2 799.1L1339.8 798.6L1340.4 798.1L1341.1 797.6L1341.7 797.1L1342.4 796.5L1343 795.9L1343.7 795.3L1344.3 794.7L1344.9 794.2L1345.6 793.6L1346.2 793L1346.9 792.4L1347.5 791.8L1348.1 791.2L1348.8 790.7L1349.4 790.1L1350.1 789.6L1350.7 789.2L1351.3 788.9L1352 788.6L1352.6 788.4L1353.3 788.4L1353.9 788.5L1354.6 788.7L1355.2 789L1355.8 789.4L1356.5 789.9L1357.1 790.5L1357.8 791.1L1358.4 791.7L1359 792.3L1359.7 793L1360.3 793.7L1361 794.3L1361.6 795L1362.3 795.7L1362.9 796.4L1363.5 797.1L1364.2 797.7L1364.8 798.4L1365.5 799L1366.1 799.6L1366.7 800.1L1367.4 800.6L1368 801.1L1368.7 801.5L1369.3 801.9L1369.9 802.3L1370.6 802.7L1371.2 803L1371.9 803.3L1372.5 803.6L1373.2 803.9L1373.8 804.1L1374.4 804.4L1375.1 804.6L1375.7 804.8L1376.4 805L1377 805.2L1377.6 805.3L1378.3 805.4L1378.9 805.5L1379.6 805.6L1380.2 805.7L1380.8 805.7L1381.5 805.7L1382.1 805.6L1382.8 805.6L1383.4 805.5L1384.1 805.4L1384.7 805.3L1385.3 805.2L1386 805.1L1386.6 804.9L1387.3 804.8L1387.9 804.6L1388.5 804.5L1389.2 804.3L1389.8 804.2L1390.5 804L1391.1 803.8L1391.8 803.6L1392.4 803.4L1393 803.2L1393.7 803L1394.3 802.7L1395 802.5L1395.6 802.3L1396.2 802L1396.9 801.8L1397.5 801.6L1398.2 801.4L1398.8 801.2L1399.4 801L1400.1 800.8L1400.7 800.6L1401.4 800.5L1402 800.4L1402.7 800.4L1403.3 800.4L1403.9 800.4L1404.6 800.5L1405.2 800.6L1405.9 800.8L1406.5 801L1407.1 801.2L1407.8 801.5L1408.4 801.8L1409.1 802.1L1409.7 802.4L1410.4 802.7L1411 803L1411.6 803.3L1412.3 803.6L1412.9 804L1413.6 804.3L1414.2 804.6L1414.8 804.9L1415.5 805.1L1416.1 805.4L1416.8 805.7L1417.4 805.9L1418 806.1L1418.7 806.4L1419.3 806.6L1420 806.8L1420.6 807L1421.3 807.1L1421.9 807.3L1422.5 807.4L1423.2 807.6L1423.8 807.7L1424.5 807.8L1425.1 807.8L1425.7 807.9L1426.4 808L1427 808L1427.7 808L1428.3 808.1" stroke="#ff0000"/>
<path d="M885.1 826.9L885.7 827.1L886.4 827.2L887 827.3L887.7 827.3L888.3 827.3L888.9 827.2L889.6 826.9L890.2 826.5L890.9 825.9L891.5 825.2L892.1 824.3L892.8 823.3L893.4 822.1L894.1 820.8L894.7 819.4L895.3 817.9L896 816.3L896.6 814.6L897.3 812.9L897.9 811.3L898.6 809.7L899.2 808.2L899.8 806.8L900.5 805.6L901.1 804.5L901.8 803.6L902.4 802.9L903 802.4L903.7 802L904.3 801.8L905 801.8L905.6 802L906.3 802.3L906.9 802.8L907.5 803.5L908.2 804.3L908.8 805.3L909.5 806.4L910.1 807.6L910.7 809L911.4 810.4L912 811.8L912.7 813.3L913.3 814.7L913.9 816L914.6 817.1L915.2 818.2L915.9 819.1L916.5 819.9L917.2 820.6L917.8 821.1L918.4 821.4L919.1 821.7L919.7 821.8L920.4 821.9L921 821.8L921.6 821.7L922.3 821.6L922.9 821.3L923.6 821.1L924.2 820.8L924.9 820.5L925.5 820.2L926.1 820L926.8 819.7L927.4 819.4L928.1 819.2L928.7 818.9L929.3 818.7L930 818.4L930.6 818.2L931.3 817.9L931.9 817.6L932.5 817.3L933.2 817L933.8 816.6L934.5 816.2L935.1 815.8L935.8 815.2L936.4 814.6L937 813.8L937.7 812.8L938.3 811.6L939 810L939.6 808L940.2 805.5L940.9 802.5L941.5 798.8L942.2 794.5L942.8 789.5L943.5 784L944.1 778.1L944.7 771.8L945.4 765.3L946 758.8L946.7 752.4L947.3 746.1L947.9 740.2L948.6 734.7L949.2 729.6L949.9 725.1L950.5 721.1L951.1 717.6L951.8 714.8L952.4 712.4L953.1 710.6L953.7 709.3L954.4 708.6L955 708.4L955.6 708.9L956.3 710L956.9 711.8L957.6 714.1L958.2 717L958.8 720.4L959.5 724.4L960.1 729L960.8 734.1L961.4 739.7L962 745.6L962.7 751.9L963.3 758.2L964 764.6L964.6 770.7L965.3 776.5L965.9 781.8L966.5 786.5L967.2 790.7L967.8 794.3L968.5 797.4L969.1 800L969.7 802.2L970.4 803.9L971 805.3L971.7 806.4L972.3 807.3L973 808L973.6 808.6L974.2 809.2L974.9 809.7L975.5 810.1L976.2 810.5L976.8 810.8L977.4 811.1L978.1 811.3L978.7 811.5L979.4 811.5L980 811.5L980.6 811.5L981.3 811.4L981.9 811.2L982.6 811.1L983.2 810.9L983.9 810.6L984.5 810.4L985.1 810.1L985.8 809.7L986.4 809.3L987.1 808.9L987.7 808.3L988.3 807.6L989 806.8L989.6 805.7L990.3 804.5L990.9 803L991.6 801.2L992.2 799.3L992.8 797.1L993.5 794.6L994.1 792L994.8 789.2L995.4 786.2L996 783.1L996.7 779.9L997.3 776.7L998 773.5L998.6 770.4L999.2 767.4L999.9 764.6L1000.5 762.1L1001.2 759.9L1001.8 758L1002.5 756.5L1003.1 755.3L1003.7 754.6L1004.4 754.3L1005 754.5L1005.7 755.1L1006.3 756.1L1006.9 757.6L1007.6 759.4L1008.2 761.6L1008.9 764.1L1009.5 766.8L1010.2 769.8L1010.8 772.8L1011.4 775.9L1012.1 778.9L1012.7 781.9L1013.4 784.7L1014 787.4L1014.6 789.9L1015.3 792.3L1015.9 794.5L1016.6 796.5L1017.2 798.3L1017.8 800L1018.5 801.5L1019.1 802.9L1019.8 804.1L1020.4 805.2L1021.1 806.2L1021.7 807.1L1022.3 807.9L1023 808.6L1023.6 809.2L1024.3 809.8L1024.9 810.3L1025.5 810.7L1026.2 811.1L1026.8 811.4L1027.5 811.7L1028.1 812L1028.7 812.1L1029.4 812.3L1030 812.3L1030.7 812.3L1031.3 812.3L1032 812.1L1032.6 812L1033.2 811.8L1033.9 811.6L1034.5 811.4L1035.2 811.1L1035.8 810.9L1036.4 810.7L1037.1 810.4L1037.7 810.1L1038.4 809.8L1039 809.4L1039.7 808.9L1040.3 808.2L1040.9 807.5L1041.6 806.5L1042.2 805.4L1042.9 804.1L1043.5 802.7L1044.1 801.1L1044.8 799.3L1045.4 797.5L1046.1 795.7L1046.7 793.8L1047.3 791.9L1048 790.2L1048.6 788.6L1049.3 787.1L1049.9 785.8L1050.6 784.8L1051.2 783.9L1051.8 783.2L1052.5 782.7L1053.1 782.3L1053.8 782.2L1054.4 782.2L1055 782.3L1055.7 782.6L1056.3 783.1L1057 783.8L1057.6 784.5L1058.3 785.5L1058.9 786.7L1059.5 788L1060.2 789.6L1060.8 791.3L1061.5 793.1L1062.1 795L1062.7 796.8L1063.4 798.7L1064 800.5L1064.7 802.1L1065.3 803.6L1065.9 805L1066.6 806.2L1067.2 807.2L1067.9 808L1068.5 808.7L1069.2 809.3L1069.8 809.7L1070.4 810.1L1071.1 810.4L1071.7 810.7L1072.4 810.9L1073 811L1073.6 811.2L1074.3 811.3L1074.9 811.4L1075.6 811.5L1076.2 811.6L1076.9 811.6L1077.5 811.7L1078.1 811.8L1078.8 811.8L1079.4 811.9L1080.1 812L1080.7 812.1L1081.3 812.2L1082 812.2L1082.6 812.3L1083.3 812.4L1083.9 812.6L1084.5 812.7L1085.2 812.8L1085.8 812.9L1086.5 813L1087.1 813.1L1087.8 813.1L1088.4 813.2L1089 813.1L1089.7 813.1L1090.3 812.9L1091 812.7L1091.6 812.4L1092.2 812L1092.9 811.6L1093.5 811L1094.2 810.3L1094.8 809.5L1095.4 808.7L1096.1 807.7L1096.7 806.7L1097.4 805.6L1098 804.5L1098.7 803.4L1099.3 802.4L1099.9 801.4L1100.6 800.4L1101.2 799.5L1101.9 798.7L1102.5 798.1L1103.1 797.6L1103.8 797.3L1104.4 797.2L1105.1 797.2L1105.7 797.5L1106.4 797.9L1107 798.5L1107.6 799.3L1108.3 800.2L1108.9 801.2L1109.6 802.4L1110.2 803.6L1110.8 804.9L1111.5 806.2L1112.1 807.5L1112.8 808.7L1113.4 809.8L1114 810.9L1114.7 811.7L1115.3 812.5L1116 813.1L1116.6 813.6L1117.3 814L1117.9 814.4L1118.5 814.6L1119.2 814.8L1119.8 815L1120.5 815.1L1121.1 815.2L1121.7 815.2L1122.4 815.2L1123 815.1L1123.7 815L1124.3 814.9L1125 814.7L1125.6 814.5L1126.2 814.3L1126.9 814.1L1127.5 813.9L1128.2 813.6L1128.8 813.4L1129.4 813.1L1130.1 812.9L1130.7 812.7L1131.4 812.4L1132 812.2L1132.6 812L1133.3 811.8L1133.9 811.6L1134.6 811.4L1135.2 811.2L1135.9 811L1136.5 810.8L1137.1 810.6L1137.8 810.3L1138.4 810L1139.1 809.6L1139.7 809.3L1140.3 808.8L1141 808.3L1141.6 807.7L1142.3 807L1142.9 806.2L1143.6 805.4L1144.2 804.4L1144.8 803.3L1145.5 802.1L1146.1 800.8L1146.8 799.4L1147.4 798L1148 796.5L1148.7 795.1L1149.3 793.8L1150 792.6L1150.6 791.6L1151.2 790.7L1151.9 790L1152.5 789.5L1153.2 789.2L1153.8 789.2L1154.5 789.5L1155.1 790L1155.7 790.8L1156.4 791.7L1157 792.9L1157.7 794.1L1158.3 795.4L1158.9 796.8L1159.6 798.1L1160.2 799.5L1160.9 800.7L1161.5 801.9L1162.1 803.1L1162.8 804.1L1163.4 805.1L1164.1 805.9L1164.7 806.7L1165.4 807.4L1166 808L1166.6 808.5L1167.3 808.9L1167.9 809.2L1168.6 809.5L1169.2 809.8L1169.8 810L1170.5 810.2L1171.1 810.3L1171.8 810.4L1172.4 810.5L1173.1 810.6L1173.7 810.6L1174.3 810.7L1175 810.7L1175.6 810.7L1176.3 810.6L1176.9 810.6L1177.5 810.5L1178.2 810.5L1178.8 810.4L1179.5 810.3L1180.1 810.3L1180.7 810.2L1181.4 810.2L1182 810.1L1182.7 810.1L1183.3 810.1L1184 810L1184.6 810L1185.2 810L1185.9 809.9L1186.5 809.9L1187.2 809.8L1187.8 809.7L1188.4 809.5L1189.1 809.3L1189.7 809L1190.4 808.7L1191 808.2L1191.7 807.7L1192.3 807.2L1192.9 806.5L1193.6 805.8L1194.2 805.1L1194.9 804.4L1195.5 803.7L1196.1 802.9L1196.8 802.2L1197.4 801.5L1198.1 800.8L1198.7 800.2L1199.3 799.6L1200 799.1L1200.6 798.6L1201.3 798.2L1201.9 797.9L1202.6 797.7L1203.2 797.7L1203.8 797.7L1204.5 797.8L1205.1 798.1L1205.8 798.5L1206.4 799L1207 799.6L1207.7 800.2L1208.3 800.9L1209 801.6L1209.6 802.4L1210.3 803.1L1210.9 803.9L1211.5 804.6L1212.2 805.3L1212.8 806L1213.5 806.6L1214.1 807.1L1214.7 807.6L1215.4 808L1216 808.4L1216.7 808.7L1217.3 809L1217.9 809.2L1218.6 809.4L1219.2 809.5L1219.9 809.6L1220.5 809.7L1221.2 809.7L1221.8 809.8L1222.4 809.8L1223.1 809.7L1223.7 809.7L1224.4 809.7L1225 809.6L1225.6 809.6L1226.3 809.5L1226.9 809.4L1227.6 809.3L1228.2 809.2L1228.9 809.1L1229.5 809L1230.1 808.8L1230.8 808.6L1231.4 808.4L1232.1 808.2L1232.7 807.9L1233.3 807.7L1234 807.4L1234.6 807.1L1235.3 806.8L1235.9 806.4L1236.5 806L1237.2 805.6L1237.8 805.2L1238.5 804.7L1239.1 804.2L1239.8 803.7L1240.4 803.1L1241 802.4L1241.7 801.7L1242.3 800.9L1243 800L1243.6 799.1L1244.2 798.2L1244.9 797.2L1245.5 796.3L1246.2 795.3L1246.8 794.4L1247.4 793.6L1248.1 792.8L1248.7 792.2L1249.4 791.6L1250 791.1L1250.7 790.7L1251.3 790.4L1251.9 790.3L1252.6 790.2L1253.2 790.2L1253.9 790.3L1254.5 790.5L1255.1 790.8L1255.8 791.2L1256.4 791.7L1257.1 792.3L1257.7 793.1L1258.4 793.9L1259 794.8L1259.6 795.8L1260.3 796.9L1260.9 797.9L1261.6 799L1262.2 800.1L1262.8 801.2L1263.5 802.2L1264.1 803.1L1264.8 803.9L1265.4 804.7L1266 805.3L1266.7 805.9L1267.3 806.4L1268 806.9L1268.6 807.2L1269.3 807.6L1269.9 807.9L1270.5 808.2L1271.2 808.4L1271.8 808.6L1272.5 808.8L1273.1 808.9L1273.7 809.1L1274.4 809.2L1275 809.3L1275.7 809.4L1276.3 809.5L1277 809.6L1277.6 809.6L1278.2 809.7L1278.9 809.7L1279.5 809.7L1280.2 809.7L1280.8 809.6L1281.4 809.5L1282.1 809.3L1282.7 809.2L1283.4 809L1284 808.7L1284.6 808.4L1285.3 808.1L1285.9 807.8L1286.6 807.4L1287.2 807L1287.9 806.6L1288.5 806.1L1289.1 805.6L1289.8 805.1L1290.4 804.5L1291.1 803.9L1291.7 803.3L1292.3 802.6L1293 802L1293.6 801.3L1294.3 800.7L1294.9 800L1295.6 799.4L1296.2 798.8L1296.8 798.3L1297.5 797.7L1298.1 797.2L1298.8 796.8L1299.4 796.4L1300 796.1L1300.7 795.9L1301.3 795.7L1302 795.5L1302.6 795.4L1303.2 795.5L1303.9 795.5L1304.5 795.7L1305.2 795.9L1305.8 796.2L1306.5 796.6L1307.1 797L1307.7 797.5L1308.4 798.1L1309 798.6L1309.7 799.2L1310.3 799.8L1310.9 800.5L1311.6 801.1L1312.2 801.7L1312.9 802.3L1313.5 802.9L1314.1 803.5L1314.8 804.1L1315.4 804.6L1316.1 805.1L1316.7 805.6L1317.4 806L1318 806.4L1318.6 806.8L1319.3 807.2L1319.9 807.5L1320.6 807.7L1321.2 808L1321.8 808.2L1322.5 808.4L1323.1 808.5L1323.8 808.7L1324.4 808.8L1325.1 808.9L1325.7 809L1326.3 809L1327 809L1327.6 809L1328.3 808.9L1328.9 808.7L1329.5 808.5L1330.2 808.3L1330.8 808L1331.5 807.7L1332.1 807.4L1332.7 807.1L1333.4 806.7L1334 806.4L1334.7 806L1335.3 805.5L1336 805.1L1336.6 804.7L1337.2 804.2L1337.9 803.7L1338.5 803.2L1339.2 802.6L1339.8 802.1L1340.4 801.5L1341.1 800.9L1341.7 800.3L1342.4 799.7L1343 799.1L1343.7 798.4L1344.3 797.8L1344.9 797.2L1345.6 796.6L1346.2 796.1L1346.9 795.6L1347.5 795.1L1348.1 794.7L1348.8 794.3L1349.4 794L1350.1 793.7L1350.7 793.4L1351.3 793.2L1352 793.1L1352.6 793L1353.3 793L1353.9 793L1354.6 793.2L1355.2 793.4L1355.8 793.7L1356.5 794L1357.1 794.4L1357.8 794.8L1358.4 795.4L1359 795.9L1359.7 796.6L1360.3 797.3L1361 798L1361.6 798.7L1362.3 799.5L1362.9 800.3L1363.5 801L1364.2 801.8L1364.8 802.5L1365.5 803.2L1366.1 803.9L1366.7 804.6L1367.4 805.2L1368 805.8L1368.7 806.4L1369.3 806.9L1369.9 807.3L1370.6 807.8L1371.2 808.1L1371.9 808.5L1372.5 808.8L1373.2 809.1L1373.8 809.3L1374.4 809.6L1375.1 809.8L1375.7 810L1376.4 810.2L1377 810.3L1377.6 810.5L1378.3 810.6L1378.9 810.8L1379.6 810.9L1380.2 810.9L1380.8 811L1381.5 811L1382.1 811L1382.8 810.9L1383.4 810.8L1384.1 810.7L1384.7 810.5L1385.3 810.3L1386 810.1L1386.6 809.9L1387.3 809.6L1387.9 809.4L1388.5 809.1L1389.2 808.8L1389.8 808.5L1390.5 808.2L1391.1 807.9L1391.8 807.5L1392.4 807.2L1393 806.9L1393.7 806.5L1394.3 806.2L1395 805.9L1395.6 805.6L1396.2 805.3L1396.9 805.1L1397.5 804.8L1398.2 804.6L1398.8 804.4L1399.4 804.3L1400.1 804.1L1400.7 804L1401.4 803.9L1402 803.8L1402.7 803.8L1403.3 803.8L1403.9 803.9L1404.6 804L1405.2 804.2L1405.9 804.4L1406.5 804.6L1407.1 804.9L1407.8 805.2L1408.4 805.5L1409.1 805.8L1409.7 806.2L1410.4 806.6L1411 806.9L1411.6 807.3L1412.3 807.7L1412.9 808.1L1413.6 808.5L1414.2 808.9L1414.8 809.3L1415.5 809.7L1416.1 810.1L1416.8 810.4L1417.4 810.8L1418 811.1L1418.7 811.4L1419.3 811.7L1420 811.9L1420.6 812.2L1421.3 812.3L1421.9 812.5L1422.5 812.6L1423.2 812.7L1423.8 812.7L1424.5 812.7L1425.1 812.7L1425.7 812.6L1426.4 812.4L1427 812.3L1427.7 812.1L1428.3 811.9" stroke="#000000"/>
</g>
<rect x="673.5" y="552.1" width="457.1" height="345.0" fill="none" stroke="#747474" stroke-width="1.1"/>
<path d="M744.8 897.1H1055.5M673.5 841.9V586.0M744.8 897.1v7.7M822.4 897.1v7.7M900.1 897.1v7.7M977.8 897.1v7.7M1055.5 897.1v7.7M673.5 841.9h-7.7M673.5 756.6h-7.7M673.5 671.3h-7.7M673.5 586.0h-7.7" fill="none" stroke="#3c3c3c" stroke-width="1.15"/>
<g font-family="'Liberation Sans', Arial, Helvetica, sans-serif" font-size="12.3" fill="#262626" stroke="#262626" stroke-width="0.3" text-anchor="middle">
<text x="744.8" y="923.4">1</text>
<text x="822.4" y="923.4">2</text>
<text x="900.1" y="923.4">3</text>
<text x="977.8" y="923.4">4</text>
<text x="1055.5" y="923.4">5</text>
</g>
<g font-family="'Liberation Sans', Arial, Helvetica, sans-serif" font-size="12.3" fill="#262626" stroke="#262626" stroke-width="0.3" text-anchor="middle">
<text transform="translate(656.7 841.9) rotate(-90)">0.0</text>
<text transform="translate(656.7 756.6) rotate(-90)">0.2</text>
<text transform="translate(656.7 671.3) rotate(-90)">0.4</text>
<text transform="translate(656.7 586.0) rotate(-90)">0.6</text>
</g>
</g>
<g id="panel-f">
<path d="M1308.4 554.8V895.1M1386.9 554.8V895.1M1465.4 554.8V895.1M1544.0 554.8V895.1M1622.5 554.8V895.1M1239.4 756.6H1695.7M1239.4 671.3H1695.7M1239.4 586.0H1695.7" fill="none" stroke="#dedede" stroke-width="1" stroke-dasharray="1 2.4"/>
<clipPath id="cp-f"><rect x="1236.4" y="551.8" width="462.3" height="345.3"/></clipPath>
<path d="M1235.7 841.9H1698.7" stroke="#c2c2c2" stroke-width="1.9" stroke-dasharray="6.5 4.3" fill="none" clip-path="url(#cp-f)"/>
<g fill="none" stroke-width="2.5" stroke-linejoin="round" stroke-linecap="round" transform="scale(0.78 1)">
<path d="M1606.4 845.6L1607.1 845.5L1607.7 845.5L1608.3 845.4L1609 845.4L1609.6 845.4L1610.3 845.4L1610.9 845.4L1611.5 845.5L1612.2 845.5L1612.8 845.4L1613.5 845.2L1614.1 844.9L1614.8 844.5L1615.4 843.8L1616 843L1616.7 842.1L1617.3 841.1L1618 840L1618.6 838.8L1619.2 837.7L1619.9 836.5L1620.5 835.3L1621.2 834.2L1621.8 833.2L1622.4 832.2L1623.1 831.3L1623.7 830.6L1624.4 830.1L1625 829.6L1625.7 829.4L1626.3 829.3L1626.9 829.3L1627.6 829.4L1628.2 829.7L1628.9 830.2L1629.5 830.8L1630.1 831.5L1630.8 832.4L1631.4 833.4L1632.1 834.5L1632.7 835.6L1633.4 836.7L1634 837.8L1634.6 838.9L1635.3 839.9L1635.9 840.8L1636.6 841.6L1637.2 842.3L1637.8 843L1638.5 843.5L1639.1 843.9L1639.8 844.3L1640.4 844.6L1641.1 844.8L1641.7 845L1642.3 845.1L1643 845.2L1643.6 845.4L1644.3 845.5L1644.9 845.6L1645.5 845.8L1646.2 845.9L1646.8 846.1L1647.5 846.2L1648.1 846.4L1648.8 846.6L1649.4 846.7L1650 846.9L1650.7 847.1L1651.3 847.3L1652 847.6L1652.6 847.8L1653.2 848.1L1653.9 848.5L1654.5 848.9L1655.2 849.3L1655.8 849.9L1656.4 850.4L1657.1 851L1657.7 851.7L1658.4 852.4L1659 853.1L1659.7 853.9L1660.3 854.7L1660.9 855.7L1661.6 856.8L1662.2 858L1662.9 859.4L1663.5 860.9L1664.1 862.5L1664.8 864L1665.4 865.5L1666.1 866.8L1666.7 867.8L1667.4 868.6L1668 869.2L1668.6 869.6L1669.3 869.8L1669.9 870L1670.6 870.3L1671.2 870.6L1671.8 871L1672.5 871.4L1673.1 871.9L1673.8 872.5L1674.4 873L1675.1 873.5L1675.7 873.9L1676.3 874.2L1677 874.4L1677.6 874.5L1678.3 874.5L1678.9 874.4L1679.5 874.2L1680.2 874L1680.8 873.8L1681.5 873.7L1682.1 873.7L1682.8 873.9L1683.4 874.2L1684 874.5L1684.7 874.7L1685.3 874.6L1686 874L1686.6 872.8L1687.2 871L1687.9 868.6L1688.5 865.7L1689.2 862.5L1689.8 859.3L1690.4 856.3L1691.1 853.5L1691.7 851L1692.4 848.9L1693 847.2L1693.7 845.8L1694.3 844.6L1694.9 843.6L1695.6 842.7L1696.2 842L1696.9 841.3L1697.5 840.8L1698.1 840.4L1698.8 840.1L1699.4 839.9L1700.1 839.9L1700.7 840.1L1701.4 840.4L1702 840.8L1702.6 841.2L1703.3 841.7L1703.9 842.1L1704.6 842.4L1705.2 842.6L1705.8 842.8L1706.5 842.9L1707.1 843L1707.8 843L1708.4 843L1709.1 843.1L1709.7 843.1L1710.3 843.3L1711 843.5L1711.6 843.9L1712.3 844.3L1712.9 844.8L1713.5 845.4L1714.2 846.1L1714.8 846.8L1715.5 847.4L1716.1 848.1L1716.8 848.7L1717.4 849.3L1718 849.7L1718.7 850L1719.3 850.2L1720 850.3L1720.6 850.2L1721.2 850.1L1721.9 849.8L1722.5 849.5L1723.2 849.3L1723.8 849L1724.5 848.9L1725.1 848.8L1725.7 848.8L1726.4 848.8L1727 849L1727.7 849.2L1728.3 849.5L1728.9 849.9L1729.6 850.3L1730.2 850.7L1730.9 851.1L1731.5 851.5L1732.1 851.8L1732.8 852.1L1733.4 852.4L1734.1 852.5L1734.7 852.6L1735.4 852.7L1736 852.6L1736.6 852.5L1737.3 852.2L1737.9 851.9L1738.6 851.5L1739.2 851.1L1739.8 850.6L1740.5 850L1741.1 849.4L1741.8 848.7L1742.4 848.1L1743.1 847.5L1743.7 846.9L1744.3 846.3L1745 845.8L1745.6 845.3L1746.3 844.9L1746.9 844.5L1747.5 844.2L1748.2 844L1748.8 843.8L1749.5 843.8L1750.1 843.8L1750.8 843.9L1751.4 844L1752 844.2L1752.7 844.5L1753.3 844.8L1754 845.1L1754.6 845.5L1755.2 845.8L1755.9 846.1L1756.5 846.5L1757.2 846.8L1757.8 847.1L1758.5 847.5L1759.1 847.8L1759.7 848.2L1760.4 848.6L1761 848.9L1761.7 849.3L1762.3 849.7L1762.9 850.2L1763.6 850.6L1764.2 851.1L1764.9 851.6L1765.5 852.1L1766.1 852.7L1766.8 853.3L1767.4 853.9L1768.1 854.5L1768.7 855.1L1769.4 855.7L1770 856.3L1770.6 856.9L1771.3 857.5L1771.9 858.1L1772.6 858.7L1773.2 859.3L1773.8 859.9L1774.5 860.4L1775.1 861L1775.8 861.5L1776.4 862L1777.1 862.5L1777.7 862.9L1778.3 863.2L1779 863.3L1779.6 863.4L1780.3 863.3L1780.9 863.1L1781.5 862.7L1782.2 862.2L1782.8 861.5L1783.5 860.7L1784.1 859.7L1784.8 858.7L1785.4 857.6L1786 856.6L1786.7 855.6L1787.3 854.6L1788 853.8L1788.6 853L1789.2 852.2L1789.9 851.6L1790.5 851L1791.2 850.4L1791.8 849.9L1792.5 849.4L1793.1 849L1793.7 848.6L1794.4 848.2L1795 847.9L1795.7 847.6L1796.3 847.3L1796.9 847L1797.6 846.8L1798.2 846.6L1798.9 846.4L1799.5 846.2L1800.2 846.1L1800.8 845.9L1801.4 845.8L1802.1 845.7L1802.7 845.6L1803.4 845.6L1804 845.5L1804.6 845.4L1805.3 845.3L1805.9 845.3L1806.6 845.2L1807.2 845.1L1807.8 845.1L1808.5 845.1L1809.1 845.1L1809.8 845.3L1810.4 845.5L1811.1 845.9L1811.7 846.4L1812.3 847L1813 847.8L1813.6 848.6L1814.3 849.5L1814.9 850.4L1815.5 851.4L1816.2 852.4L1816.8 853.4L1817.5 854.5L1818.1 855.6L1818.8 856.7L1819.4 857.9L1820 859.1L1820.7 860.2L1821.3 861.3L1822 862.3L1822.6 863.2L1823.2 864L1823.9 864.7L1824.5 865.2L1825.2 865.6L1825.8 865.9L1826.5 866.1L1827.1 866.3L1827.7 866.3L1828.4 866.3L1829 866.3L1829.7 866.2L1830.3 866L1830.9 865.8L1831.6 865.5L1832.2 865.2L1832.9 864.8L1833.5 864.3L1834.2 863.8L1834.8 863.2L1835.4 862.5L1836.1 861.8L1836.7 861L1837.4 860.2L1838 859.3L1838.6 858.4L1839.3 857.4L1839.9 856.4L1840.6 855.3L1841.2 854.3L1841.8 853.3L1842.5 852.3L1843.1 851.4L1843.8 850.5L1844.4 849.8L1845.1 849.1L1845.7 848.6L1846.3 848.2L1847 847.9L1847.6 847.8L1848.3 847.7L1848.9 847.8L1849.5 848L1850.2 848.1L1850.8 848.3L1851.5 848.5L1852.1 848.7L1852.8 848.8L1853.4 849L1854 849.1L1854.7 849.2L1855.3 849.3L1856 849.4L1856.6 849.6L1857.2 849.8L1857.9 850.1L1858.5 850.3L1859.2 850.5L1859.8 850.7L1860.5 850.9L1861.1 851L1861.7 851.2L1862.4 851.4L1863 851.8L1863.7 852.3L1864.3 853.1L1864.9 854L1865.6 855.1L1866.2 856.3L1866.9 857.5L1867.5 858.6L1868.2 859.8L1868.8 860.9L1869.4 861.9L1870.1 862.9L1870.7 863.8L1871.4 864.7L1872 865.5L1872.6 866.4L1873.3 867.1L1873.9 867.9L1874.6 868.6L1875.2 869.2L1875.9 869.8L1876.5 870.3L1877.1 870.8L1877.8 871.1L1878.4 871.4L1879.1 871.6L1879.7 871.6L1880.3 871.5L1881 871.3L1881.6 871L1882.3 870.5L1882.9 869.8L1883.5 869L1884.2 868.1L1884.8 867.1L1885.5 866L1886.1 864.9L1886.8 863.7L1887.4 862.4L1888 861.2L1888.7 860L1889.3 858.8L1890 857.7L1890.6 856.7L1891.2 855.6L1891.9 854.7L1892.5 853.7L1893.2 852.9L1893.8 852L1894.5 851.3L1895.1 850.6L1895.7 849.9L1896.4 849.3L1897 848.7L1897.7 848.1L1898.3 847.6L1898.9 847.1L1899.6 846.7L1900.2 846.2L1900.9 845.8L1901.5 845.4L1902.2 845L1902.8 844.6L1903.4 844.3L1904.1 844L1904.7 843.8L1905.4 843.6L1906 843.6L1906.6 843.7L1907.3 844L1907.9 844.3L1908.6 844.7L1909.2 845.2L1909.9 845.7L1910.5 846.2L1911.1 846.6L1911.8 847.1L1912.4 847.4L1913.1 847.8L1913.7 848.1L1914.3 848.5L1915 848.8L1915.6 849.2L1916.3 849.7L1916.9 850.1L1917.5 850.6L1918.2 851.2L1918.8 851.8L1919.5 852.4L1920.1 853.1L1920.8 853.8L1921.4 854.5L1922 855.3L1922.7 856.1L1923.3 856.8L1924 857.6L1924.6 858.3L1925.2 859L1925.9 859.6L1926.5 860.1L1927.2 860.6L1927.8 860.9L1928.5 861.2L1929.1 861.5L1929.7 861.6L1930.4 861.6L1931 861.5L1931.7 861.3L1932.3 861L1932.9 860.7L1933.6 860.2L1934.2 859.7L1934.9 859.1L1935.5 858.4L1936.2 857.7L1936.8 856.9L1937.4 856.1L1938.1 855.3L1938.7 854.5L1939.4 853.8L1940 853.1L1940.6 852.4L1941.3 851.7L1941.9 851.2L1942.6 850.6L1943.2 850.1L1943.9 849.7L1944.5 849.3L1945.1 848.9L1945.8 848.6L1946.4 848.3L1947.1 848.1L1947.7 847.9L1948.3 847.8L1949 847.7L1949.6 847.6L1950.3 847.6L1950.9 847.7L1951.6 847.7L1952.2 847.9L1952.8 848L1953.5 848.2L1954.1 848.4L1954.8 848.6L1955.4 848.9L1956 849.1L1956.7 849.3L1957.3 849.5L1958 849.7L1958.6 850L1959.2 850.2L1959.9 850.4L1960.5 850.7L1961.2 850.9L1961.8 851.2L1962.5 851.6L1963.1 851.9L1963.7 852.3L1964.4 852.8L1965 853.4L1965.7 854L1966.3 854.8L1966.9 855.7L1967.6 856.7L1968.2 857.7L1968.9 858.9L1969.5 860.1L1970.2 861.3L1970.8 862.5L1971.4 863.6L1972.1 864.7L1972.7 865.8L1973.4 866.8L1974 867.7L1974.6 868.5L1975.3 869.3L1975.9 869.9L1976.6 870.5L1977.2 871L1977.9 871.4L1978.5 871.7L1979.1 871.9L1979.8 872L1980.4 871.9L1981.1 871.7L1981.7 871.4L1982.3 871L1983 870.5L1983.6 869.9L1984.3 869.3L1984.9 868.6L1985.6 867.9L1986.2 867.1L1986.8 866.3L1987.5 865.6L1988.1 864.8L1988.8 864L1989.4 863.2L1990 862.5L1990.7 861.8L1991.3 861L1992 860.3L1992.6 859.6L1993.2 858.9L1993.9 858.2L1994.5 857.5L1995.2 856.8L1995.8 856.1L1996.5 855.4L1997.1 854.7L1997.7 853.9L1998.4 853.2L1999 852.5L1999.7 851.8L2000.3 851.1L2000.9 850.4L2001.6 849.7L2002.2 849L2002.9 848.3L2003.5 847.7L2004.2 847.1L2004.8 846.6L2005.4 846.2L2006.1 845.8L2006.7 845.4L2007.4 845.2L2008 845.1L2008.6 845L2009.3 845L2009.9 845.1L2010.6 845.4L2011.2 845.7L2011.9 846L2012.5 846.4L2013.1 846.8L2013.8 847.2L2014.4 847.6L2015.1 847.8L2015.7 848.1L2016.3 848.2L2017 848.3L2017.6 848.3L2018.3 848.2L2018.9 848.1L2019.6 848L2020.2 847.9L2020.8 847.8L2021.5 847.8L2022.1 847.8L2022.8 847.8L2023.4 847.9L2024 848.1L2024.7 848.3L2025.3 848.5L2026 848.7L2026.6 848.9L2027.2 849.2L2027.9 849.4L2028.5 849.6L2029.2 849.8L2029.8 850L2030.5 850.2L2031.1 850.3L2031.7 850.5L2032.4 850.6L2033 850.6L2033.7 850.7L2034.3 850.7L2034.9 850.6L2035.6 850.5L2036.2 850.4L2036.9 850.3L2037.5 850.1L2038.2 849.9L2038.8 849.6L2039.4 849.3L2040.1 849L2040.7 848.7L2041.4 848.3L2042 848L2042.6 847.6L2043.3 847.3L2043.9 847L2044.6 846.7L2045.2 846.5L2045.9 846.3L2046.5 846.1L2047.1 845.9L2047.8 845.7L2048.4 845.5L2049.1 845.3L2049.7 845.2L2050.3 845L2051 844.8L2051.6 844.7L2052.3 844.5L2052.9 844.5L2053.6 844.4L2054.2 844.4L2054.8 844.5L2055.5 844.6L2056.1 844.7L2056.8 844.9L2057.4 845.1L2058 845.3L2058.7 845.4L2059.3 845.6L2060 845.7L2060.6 845.8L2061.3 845.8L2061.9 845.8L2062.5 845.9L2063.2 845.8L2063.8 845.8L2064.5 845.7L2065.1 845.6L2065.7 845.4L2066.4 845.3L2067 845.2L2067.7 845.2L2068.3 845.3L2068.9 845.5L2069.6 845.9L2070.2 846.4L2070.9 847L2071.5 847.7L2072.2 848.5L2072.8 849.4L2073.4 850.2L2074.1 851.1L2074.7 851.9L2075.4 852.7L2076 853.5L2076.6 854.2L2077.3 854.8L2077.9 855.4L2078.6 855.9L2079.2 856.3L2079.9 856.7L2080.5 857L2081.1 857.2L2081.8 857.4L2082.4 857.5L2083.1 857.5L2083.7 857.4L2084.3 857.3L2085 857L2085.6 856.7L2086.3 856.3L2086.9 855.9L2087.6 855.4L2088.2 854.9L2088.8 854.4L2089.5 853.9L2090.1 853.4L2090.8 853L2091.4 852.6L2092 852.2L2092.7 851.8L2093.3 851.5L2094 851.2L2094.6 850.9L2095.3 850.6L2095.9 850.4L2096.5 850.2L2097.2 849.9L2097.8 849.7L2098.5 849.5L2099.1 849.3L2099.7 849L2100.4 848.7L2101 848.4L2101.7 848.1L2102.3 847.8L2102.9 847.5L2103.6 847.1L2104.2 846.7L2104.9 846.4L2105.5 846L2106.2 845.6L2106.8 845.3L2107.4 844.9L2108.1 844.6L2108.7 844.2L2109.4 843.9L2110 843.7L2110.6 843.5L2111.3 843.4L2111.9 843.3L2112.6 843.3L2113.2 843.3L2113.9 843.4L2114.5 843.5L2115.1 843.6L2115.8 843.8L2116.4 843.9L2117.1 844.1L2117.7 844.3L2118.3 844.5L2119 844.8L2119.6 845L2120.3 845.3L2120.9 845.6L2121.6 845.9L2122.2 846.2L2122.8 846.5L2123.5 846.8L2124.1 847.1L2124.8 847.4L2125.4 847.7L2126 848.1L2126.7 848.4L2127.3 848.7L2128 849L2128.6 849.3L2129.3 849.7L2129.9 850L2130.5 850.3L2131.2 850.6L2131.8 850.9L2132.5 851.1L2133.1 851.2L2133.7 851.3L2134.4 851.3L2135 851.2L2135.7 851.1L2136.3 850.8L2137 850.5L2137.6 850.1L2138.2 849.7L2138.9 849.3L2139.5 848.8L2140.2 848.4L2140.8 848L2141.4 847.6L2142.1 847.3L2142.7 847L2143.4 846.7L2144 846.5L2144.6 846.3L2145.3 846.2L2145.9 846.1L2146.6 846.1L2147.2 846L2147.9 846L2148.5 846L2149.1 846L2149.8 846L2150.4 846L2151.1 846L2151.7 846L2152.3 845.9L2153 845.9L2153.6 845.9L2154.3 845.8L2154.9 845.8L2155.6 845.7L2156.2 845.7L2156.8 845.6" stroke="#0000ff"/>
<path d="M1607 820.8L1607.6 820.6L1608.2 820.4L1608.9 820.1L1609.5 819.8L1610.2 819.3L1610.8 818.9L1611.5 818.3L1612.1 817.7L1612.7 817L1613.4 816.3L1614 815.4L1614.7 814.5L1615.3 813.4L1615.9 812.3L1616.6 811.1L1617.2 809.8L1617.9 808.4L1618.5 807L1619.1 805.6L1619.8 804.2L1620.4 802.8L1621.1 801.4L1621.7 800.1L1622.4 798.9L1623 797.7L1623.6 796.6L1624.3 795.6L1624.9 794.7L1625.6 794.1L1626.2 793.6L1626.8 793.4L1627.5 793.5L1628.1 793.8L1628.8 794.4L1629.4 795.3L1630.1 796.3L1630.7 797.6L1631.3 799L1632 800.4L1632.6 801.9L1633.3 803.4L1633.9 804.7L1634.5 806L1635.2 807.2L1635.8 808.3L1636.5 809.2L1637.1 810L1637.8 810.7L1638.4 811.2L1639 811.7L1639.7 812L1640.3 812.3L1641 812.5L1641.6 812.7L1642.2 812.8L1642.9 812.9L1643.5 812.9L1644.2 812.9L1644.8 812.8L1645.5 812.7L1646.1 812.6L1646.7 812.5L1647.4 812.3L1648 812.1L1648.7 811.9L1649.3 811.6L1649.9 811.4L1650.6 811.1L1651.2 810.7L1651.9 810.3L1652.5 809.9L1653.1 809.4L1653.8 808.9L1654.4 808.4L1655.1 807.7L1655.7 807L1656.4 806.3L1657 805.5L1657.6 804.5L1658.3 803.5L1658.9 802.4L1659.6 801L1660.2 799.5L1660.8 797.7L1661.5 795.5L1662.1 792.8L1662.8 789.7L1663.4 785.9L1664.1 781.5L1664.7 776.6L1665.3 771.1L1666 765.2L1666.6 759L1667.3 752.6L1667.9 746.2L1668.5 739.8L1669.2 733.5L1669.8 727.3L1670.5 721.4L1671.1 715.8L1671.8 710.5L1672.4 705.5L1673 700.8L1673.7 696.4L1674.3 692.2L1675 688.5L1675.6 685.2L1676.2 682.7L1676.9 681.1L1677.5 680.6L1678.2 681.2L1678.8 682.9L1679.4 685.5L1680.1 688.8L1680.7 692.6L1681.4 696.8L1682 701.2L1682.7 705.8L1683.3 710.7L1683.9 715.7L1684.6 721L1685.2 726.5L1685.9 732.2L1686.5 738.2L1687.1 744.2L1687.8 750.4L1688.4 756.5L1689.1 762.5L1689.7 768.1L1690.4 773.3L1691 778L1691.6 782L1692.3 785.5L1692.9 788.3L1693.6 790.7L1694.2 792.7L1694.8 794.4L1695.5 795.9L1696.1 797.3L1696.8 798.5L1697.4 799.5L1698.1 800.5L1698.7 801.2L1699.3 801.9L1700 802.4L1700.6 802.9L1701.3 803.3L1701.9 803.6L1702.5 803.9L1703.2 804.1L1703.8 804.3L1704.5 804.4L1705.1 804.4L1705.7 804.4L1706.4 804.3L1707 804.1L1707.7 803.8L1708.3 803.5L1709 803.1L1709.6 802.7L1710.2 802.1L1710.9 801.4L1711.5 800.7L1712.2 799.8L1712.8 798.7L1713.4 797.4L1714.1 795.9L1714.7 794.3L1715.4 792.4L1716 790.3L1716.7 788L1717.3 785.5L1717.9 782.9L1718.6 780.2L1719.2 777.3L1719.9 774.4L1720.5 771.5L1721.1 768.6L1721.8 765.8L1722.4 763.1L1723.1 760.6L1723.7 758.3L1724.4 756.2L1725 754.4L1725.6 752.9L1726.3 751.8L1726.9 751.1L1727.6 750.8L1728.2 751L1728.8 751.6L1729.5 752.7L1730.1 754.1L1730.8 755.9L1731.4 757.9L1732 760.2L1732.7 762.6L1733.3 765.1L1734 767.7L1734.6 770.4L1735.3 773.1L1735.9 775.8L1736.5 778.4L1737.2 780.9L1737.8 783.3L1738.5 785.6L1739.1 787.7L1739.7 789.7L1740.4 791.5L1741 793.2L1741.7 794.7L1742.3 796L1743 797.2L1743.6 798.2L1744.2 799L1744.9 799.8L1745.5 800.5L1746.2 801L1746.8 801.6L1747.4 802L1748.1 802.4L1748.7 802.8L1749.4 803.1L1750 803.4L1750.7 803.7L1751.3 803.9L1751.9 804.1L1752.6 804.2L1753.2 804.3L1753.9 804.4L1754.5 804.4L1755.1 804.3L1755.8 804.2L1756.4 804L1757.1 803.7L1757.7 803.3L1758.3 802.9L1759 802.4L1759.6 801.9L1760.3 801.3L1760.9 800.7L1761.6 800L1762.2 799.3L1762.8 798.5L1763.5 797.6L1764.1 796.7L1764.8 795.6L1765.4 794.6L1766 793.4L1766.7 792.2L1767.3 790.9L1768 789.6L1768.6 788.2L1769.3 786.8L1769.9 785.3L1770.5 783.8L1771.2 782.2L1771.8 780.7L1772.5 779.1L1773.1 777.6L1773.7 776.1L1774.4 774.6L1775 773.3L1775.7 772L1776.3 771L1777 770.1L1777.6 769.6L1778.2 769.3L1778.9 769.4L1779.5 769.7L1780.2 770.4L1780.8 771.3L1781.4 772.5L1782.1 773.8L1782.7 775.1L1783.4 776.6L1784 778.1L1784.6 779.6L1785.3 781.2L1785.9 782.7L1786.6 784.3L1787.2 785.8L1787.9 787.3L1788.5 788.8L1789.1 790.2L1789.8 791.6L1790.4 793L1791.1 794.3L1791.7 795.5L1792.3 796.7L1793 797.8L1793.6 798.7L1794.3 799.6L1794.9 800.3L1795.6 801L1796.2 801.6L1796.8 802.2L1797.5 802.7L1798.1 803.1L1798.8 803.5L1799.4 803.9L1800 804.2L1800.7 804.5L1801.3 804.7L1802 804.9L1802.6 805.1L1803.3 805.2L1803.9 805.2L1804.5 805.2L1805.2 805.1L1805.8 804.9L1806.5 804.7L1807.1 804.4L1807.7 804.1L1808.4 803.8L1809 803.4L1809.7 802.9L1810.3 802.4L1810.9 801.9L1811.6 801.2L1812.2 800.5L1812.9 799.7L1813.5 798.8L1814.2 797.8L1814.8 796.7L1815.4 795.6L1816.1 794.3L1816.7 793.1L1817.4 791.8L1818 790.5L1818.6 789.2L1819.3 787.9L1819.9 786.6L1820.6 785.3L1821.2 784L1821.9 782.6L1822.5 781.2L1823.1 779.8L1823.8 778.4L1824.4 777L1825.1 775.6L1825.7 774.4L1826.3 773.2L1827 772.3L1827.6 771.7L1828.3 771.3L1828.9 771.3L1829.6 771.5L1830.2 772L1830.8 772.8L1831.5 773.8L1832.1 775L1832.8 776.3L1833.4 777.7L1834 779.2L1834.7 780.6L1835.3 782L1836 783.4L1836.6 784.8L1837.2 786.2L1837.9 787.5L1838.5 788.7L1839.2 790L1839.8 791.2L1840.5 792.4L1841.1 793.6L1841.7 794.7L1842.4 795.7L1843 796.7L1843.7 797.6L1844.3 798.4L1844.9 799L1845.6 799.7L1846.2 800.2L1846.9 800.6L1847.5 801L1848.2 801.4L1848.8 801.7L1849.4 802L1850.1 802.2L1850.7 802.4L1851.4 802.6L1852 802.7L1852.6 802.7L1853.3 802.8L1853.9 802.8L1854.6 802.7L1855.2 802.6L1855.9 802.4L1856.5 802.3L1857.1 802L1857.8 801.8L1858.4 801.5L1859.1 801.1L1859.7 800.7L1860.3 800.3L1861 799.8L1861.6 799.3L1862.3 798.7L1862.9 798L1863.5 797.2L1864.2 796.3L1864.8 795.4L1865.5 794.4L1866.1 793.3L1866.8 792.2L1867.4 791.1L1868 789.9L1868.7 788.7L1869.3 787.4L1870 786.1L1870.6 784.8L1871.2 783.5L1871.9 782.1L1872.5 780.6L1873.2 779.2L1873.8 777.7L1874.5 776.3L1875.1 775L1875.7 773.8L1876.4 772.8L1877 772L1877.7 771.5L1878.3 771.2L1878.9 771.3L1879.6 771.6L1880.2 772.3L1880.9 773.2L1881.5 774.3L1882.2 775.6L1882.8 777L1883.4 778.5L1884.1 780L1884.7 781.5L1885.4 783L1886 784.4L1886.6 785.8L1887.3 787.2L1887.9 788.4L1888.6 789.7L1889.2 790.8L1889.8 791.9L1890.5 793L1891.1 794L1891.8 794.9L1892.4 795.8L1893.1 796.6L1893.7 797.3L1894.3 798L1895 798.5L1895.6 799L1896.3 799.5L1896.9 799.8L1897.5 800.1L1898.2 800.4L1898.8 800.7L1899.5 800.9L1900.1 801.1L1900.8 801.2L1901.4 801.4L1902 801.5L1902.7 801.6L1903.3 801.6L1904 801.7L1904.6 801.6L1905.2 801.6L1905.9 801.5L1906.5 801.3L1907.2 801.2L1907.8 800.9L1908.5 800.6L1909.1 800.3L1909.7 800L1910.4 799.6L1911 799.2L1911.7 798.8L1912.3 798.4L1912.9 797.9L1913.6 797.3L1914.2 796.7L1914.9 796.1L1915.5 795.4L1916.1 794.7L1916.8 793.9L1917.4 793.1L1918.1 792.3L1918.7 791.5L1919.4 790.7L1920 789.8L1920.6 789L1921.3 788.2L1921.9 787.4L1922.6 786.6L1923.2 785.8L1923.8 785L1924.5 784.2L1925.1 783.5L1925.8 782.7L1926.4 782.1L1927.1 781.5L1927.7 781L1928.3 780.7L1929 780.6L1929.6 780.7L1930.3 781L1930.9 781.4L1931.5 782L1932.2 782.7L1932.8 783.5L1933.5 784.4L1934.1 785.3L1934.8 786.3L1935.4 787.2L1936 788.2L1936.7 789.1L1937.3 790.1L1938 791L1938.6 791.9L1939.2 792.8L1939.9 793.6L1940.5 794.5L1941.2 795.3L1941.8 796L1942.4 796.7L1943.1 797.3L1943.7 797.8L1944.4 798.3L1945 798.7L1945.7 799.1L1946.3 799.4L1946.9 799.7L1947.6 800L1948.2 800.2L1948.9 800.4L1949.5 800.6L1950.1 800.8L1950.8 801L1951.4 801.1L1952.1 801.2L1952.7 801.3L1953.4 801.3L1954 801.3L1954.6 801.3L1955.3 801.3L1955.9 801.1L1956.6 801L1957.2 800.8L1957.8 800.6L1958.5 800.4L1959.1 800.1L1959.8 799.7L1960.4 799.4L1961.1 799L1961.7 798.6L1962.3 798.2L1963 797.7L1963.6 797.2L1964.3 796.6L1964.9 796L1965.5 795.3L1966.2 794.5L1966.8 793.7L1967.5 792.8L1968.1 791.9L1968.7 790.9L1969.4 789.9L1970 788.9L1970.7 787.9L1971.3 786.9L1972 785.8L1972.6 784.8L1973.2 783.8L1973.9 782.8L1974.5 781.9L1975.2 781L1975.8 780.1L1976.4 779.3L1977.1 778.7L1977.7 778.1L1978.4 777.8L1979 777.6L1979.7 777.7L1980.3 778L1980.9 778.4L1981.6 779.1L1982.2 779.9L1982.9 780.9L1983.5 782L1984.1 783.2L1984.8 784.4L1985.4 785.6L1986.1 786.8L1986.7 787.9L1987.4 789L1988 790L1988.6 791L1989.3 791.9L1989.9 792.8L1990.6 793.6L1991.2 794.4L1991.8 795.2L1992.5 795.9L1993.1 796.5L1993.8 797.1L1994.4 797.7L1995 798.2L1995.7 798.7L1996.3 799.1L1997 799.5L1997.6 799.9L1998.3 800.3L1998.9 800.6L1999.5 801L2000.2 801.3L2000.8 801.6L2001.5 801.9L2002.1 802.2L2002.7 802.5L2003.4 802.7L2004 802.9L2004.7 803.1L2005.3 803.2L2006 803.4L2006.6 803.5L2007.2 803.5L2007.9 803.6L2008.5 803.6L2009.2 803.5L2009.8 803.5L2010.4 803.3L2011.1 803.2L2011.7 803L2012.4 802.8L2013 802.5L2013.7 802.3L2014.3 802L2014.9 801.7L2015.6 801.4L2016.2 801L2016.9 800.7L2017.5 800.3L2018.1 799.9L2018.8 799.5L2019.4 799.1L2020.1 798.6L2020.7 798.2L2021.3 797.6L2022 797.1L2022.6 796.6L2023.3 796L2023.9 795.5L2024.6 794.9L2025.2 794.4L2025.8 793.9L2026.5 793.5L2027.1 793L2027.8 792.7L2028.4 792.4L2029 792.2L2029.7 792.1L2030.3 792.1L2031 792.2L2031.6 792.4L2032.3 792.7L2032.9 793L2033.5 793.5L2034.2 794L2034.8 794.6L2035.5 795.2L2036.1 795.8L2036.7 796.5L2037.4 797.1L2038 797.7L2038.7 798.3L2039.3 798.9L2040 799.4L2040.6 799.9L2041.2 800.3L2041.9 800.7L2042.5 801.1L2043.2 801.4L2043.8 801.7L2044.4 802L2045.1 802.3L2045.7 802.6L2046.4 802.8L2047 803.1L2047.6 803.3L2048.3 803.5L2048.9 803.7L2049.6 803.9L2050.2 804L2050.9 804.2L2051.5 804.3L2052.1 804.3L2052.8 804.4L2053.4 804.4L2054.1 804.4L2054.7 804.3L2055.3 804.2L2056 804.1L2056.6 803.9L2057.3 803.7L2057.9 803.5L2058.6 803.3L2059.2 803L2059.8 802.7L2060.5 802.4L2061.1 802.1L2061.8 801.7L2062.4 801.4L2063 801L2063.7 800.6L2064.3 800.2L2065 799.8L2065.6 799.4L2066.3 798.9L2066.9 798.4L2067.5 797.9L2068.2 797.4L2068.8 796.8L2069.5 796.3L2070.1 795.7L2070.7 795.1L2071.4 794.5L2072 793.9L2072.7 793.3L2073.3 792.8L2073.9 792.2L2074.6 791.6L2075.2 791L2075.9 790.5L2076.5 790L2077.2 789.5L2077.8 789.1L2078.4 788.8L2079.1 788.5L2079.7 788.4L2080.4 788.4L2081 788.5L2081.6 788.8L2082.3 789.1L2082.9 789.5L2083.6 790L2084.2 790.6L2084.9 791.2L2085.5 791.8L2086.1 792.4L2086.8 793.1L2087.4 793.8L2088.1 794.4L2088.7 795.1L2089.3 795.8L2090 796.4L2090.6 797.1L2091.3 797.8L2091.9 798.4L2092.6 799L2093.2 799.6L2093.8 800.1L2094.5 800.6L2095.1 801.1L2095.8 801.5L2096.4 801.9L2097 802.3L2097.7 802.6L2098.3 803L2099 803.3L2099.6 803.6L2100.2 803.8L2100.9 804.1L2101.5 804.3L2102.2 804.6L2102.8 804.8L2103.5 805L2104.1 805.2L2104.7 805.3L2105.4 805.4L2106 805.5L2106.7 805.6L2107.3 805.6L2107.9 805.7L2108.6 805.7L2109.2 805.6L2109.9 805.6L2110.5 805.5L2111.2 805.4L2111.8 805.3L2112.4 805.2L2113.1 805.1L2113.7 805L2114.4 804.8L2115 804.7L2115.6 804.5L2116.3 804.4L2116.9 804.2L2117.6 804L2118.2 803.9L2118.9 803.7L2119.5 803.5L2120.1 803.3L2120.8 803.1L2121.4 802.8L2122.1 802.6L2122.7 802.4L2123.3 802.1L2124 801.9L2124.6 801.7L2125.3 801.5L2125.9 801.3L2126.6 801.1L2127.2 800.9L2127.8 800.7L2128.5 800.6L2129.1 800.5L2129.8 800.4L2130.4 800.4L2131 800.4L2131.7 800.5L2132.3 800.6L2133 800.7L2133.6 800.9L2134.2 801.1L2134.9 801.3L2135.5 801.6L2136.2 801.9L2136.8 802.1L2137.5 802.5L2138.1 802.8L2138.7 803.1L2139.4 803.4L2140 803.7L2140.7 804L2141.3 804.4L2141.9 804.6L2142.6 804.9L2143.2 805.2L2143.9 805.5L2144.5 805.7L2145.2 805.9L2145.8 806.2L2146.4 806.4L2147.1 806.6L2147.7 806.8L2148.4 807L2149 807.2L2149.6 807.3L2150.3 807.4L2150.9 807.6L2151.6 807.7L2152.2 807.8L2152.9 807.8L2153.5 807.9L2154.1 808L2154.8 808L2155.4 808L2156.1 808.1" stroke="#ff0000"/>
<path d="M1606.2 824.3L1606.9 824.2L1607.5 824L1608.2 823.9L1608.8 823.7L1609.5 823.5L1610.1 823.3L1610.7 823L1611.4 822.7L1612 822.2L1612.7 821.6L1613.3 820.7L1613.9 819.6L1614.6 818.1L1615.2 816.4L1615.9 814.3L1616.5 812L1617.1 809.5L1617.8 806.8L1618.4 804.1L1619.1 801.2L1619.7 798.4L1620.4 795.6L1621 792.9L1621.6 790.4L1622.3 788.1L1622.9 786.2L1623.6 784.6L1624.2 783.3L1624.8 782.3L1625.5 781.7L1626.1 781.4L1626.8 781.4L1627.4 781.7L1628 782.3L1628.7 783.2L1629.3 784.5L1630 786.1L1630.6 788L1631.2 790.1L1631.9 792.5L1632.5 794.9L1633.2 797.4L1633.8 799.9L1634.5 802.3L1635.1 804.5L1635.7 806.5L1636.4 808.4L1637 810.1L1637.7 811.5L1638.3 812.7L1638.9 813.8L1639.6 814.7L1640.2 815.4L1640.9 815.9L1641.5 816.3L1642.1 816.7L1642.8 816.9L1643.4 817.1L1644.1 817.2L1644.7 817.2L1645.4 817.2L1646 817.2L1646.6 817.1L1647.3 817.1L1647.9 816.9L1648.6 816.8L1649.2 816.6L1649.8 816.4L1650.5 816.2L1651.1 816L1651.8 815.7L1652.4 815.4L1653 815L1653.7 814.7L1654.3 814.3L1655 813.9L1655.6 813.4L1656.3 812.9L1656.9 812.4L1657.5 811.9L1658.2 811.4L1658.8 810.7L1659.5 810.1L1660.1 809.3L1660.7 808.4L1661.4 807.3L1662 806L1662.7 804.3L1663.3 802.3L1663.9 799.7L1664.6 796.7L1665.2 793.1L1665.9 789L1666.5 784.2L1667.2 778.9L1667.8 773.2L1668.4 767.2L1669.1 761L1669.7 754.7L1670.4 748.5L1671 742.6L1671.6 737.2L1672.3 732.2L1672.9 727.7L1673.6 723.7L1674.2 720.4L1674.8 717.5L1675.5 715.2L1676.1 713.5L1676.8 712.4L1677.4 712L1678.1 712.3L1678.7 713.4L1679.3 715.3L1680 717.8L1680.6 721L1681.3 724.9L1681.9 729.3L1682.5 734.3L1683.2 739.8L1683.8 745.6L1684.5 751.7L1685.1 757.7L1685.7 763.6L1686.4 769.1L1687 774L1687.7 778.4L1688.3 782.1L1689 785.2L1689.6 787.8L1690.2 789.9L1690.9 791.6L1691.5 792.9L1692.2 793.9L1692.8 794.6L1693.4 795.2L1694.1 795.7L1694.7 796.2L1695.4 796.6L1696 797.2L1696.6 797.7L1697.3 798.4L1697.9 799.1L1698.6 799.8L1699.2 800.6L1699.9 801.3L1700.5 802.1L1701.1 802.8L1701.8 803.4L1702.4 804L1703.1 804.5L1703.7 804.9L1704.3 805.3L1705 805.5L1705.6 805.6L1706.3 805.6L1706.9 805.5L1707.5 805.3L1708.2 805L1708.8 804.7L1709.5 804.3L1710.1 803.9L1710.8 803.5L1711.4 803.1L1712 802.6L1712.7 802.1L1713.3 801.5L1714 800.7L1714.6 799.8L1715.2 798.7L1715.9 797.3L1716.5 795.6L1717.2 793.6L1717.8 791.3L1718.4 788.8L1719.1 786L1719.7 783L1720.4 779.9L1721 776.7L1721.7 773.6L1722.3 770.5L1722.9 767.7L1723.6 765.1L1724.2 762.9L1724.9 761L1725.5 759.6L1726.1 758.5L1726.8 757.8L1727.4 757.5L1728.1 757.6L1728.7 758L1729.3 758.9L1730 760.1L1730.6 761.8L1731.3 763.9L1731.9 766.3L1732.6 769L1733.2 771.9L1733.8 775L1734.5 778L1735.1 780.9L1735.8 783.8L1736.4 786.5L1737 789L1737.7 791.3L1738.3 793.5L1739 795.4L1739.6 797.1L1740.2 798.6L1740.9 799.8L1741.5 800.8L1742.2 801.6L1742.8 802.2L1743.4 802.7L1744.1 803.1L1744.7 803.5L1745.4 803.8L1746 804L1746.7 804.2L1747.3 804.5L1747.9 804.7L1748.6 804.9L1749.2 805.1L1749.9 805.4L1750.5 805.6L1751.1 805.9L1751.8 806.2L1752.4 806.5L1753.1 806.8L1753.7 807.1L1754.3 807.4L1755 807.7L1755.6 807.9L1756.3 808.1L1756.9 808.2L1757.6 808.3L1758.2 808.4L1758.8 808.5L1759.5 808.6L1760.1 808.6L1760.8 808.7L1761.4 808.7L1762 808.6L1762.7 808.6L1763.3 808.5L1764 808.3L1764.6 807.9L1765.2 807.5L1765.9 807L1766.5 806.2L1767.2 805.3L1767.8 804.3L1768.5 803.1L1769.1 801.8L1769.7 800.3L1770.4 798.8L1771 797.3L1771.7 795.8L1772.3 794.5L1772.9 793.2L1773.6 792.1L1774.2 791.3L1774.9 790.6L1775.5 790.1L1776.1 789.8L1776.8 789.6L1777.4 789.6L1778.1 789.8L1778.7 790.1L1779.4 790.5L1780 791.1L1780.6 791.9L1781.3 792.7L1781.9 793.7L1782.6 794.8L1783.2 795.9L1783.8 797.1L1784.5 798.3L1785.1 799.4L1785.8 800.6L1786.4 801.6L1787 802.6L1787.7 803.6L1788.3 804.4L1789 805.2L1789.6 805.8L1790.3 806.4L1790.9 806.8L1791.5 807.2L1792.2 807.5L1792.8 807.8L1793.5 808L1794.1 808.2L1794.7 808.3L1795.4 808.4L1796 808.5L1796.7 808.5L1797.3 808.6L1797.9 808.6L1798.6 808.6L1799.2 808.7L1799.9 808.7L1800.5 808.7L1801.2 808.7L1801.8 808.6L1802.4 808.6L1803.1 808.6L1803.7 808.5L1804.4 808.4L1805 808.2L1805.6 808L1806.3 807.8L1806.9 807.6L1807.6 807.4L1808.2 807.2L1808.8 807L1809.5 806.9L1810.1 806.9L1810.8 806.8L1811.4 806.9L1812.1 806.9L1812.7 807L1813.3 807.1L1814 807.1L1814.6 807.2L1815.3 807.2L1815.9 807.1L1816.5 807L1817.2 806.8L1817.8 806.5L1818.5 806.1L1819.1 805.7L1819.7 805.1L1820.4 804.5L1821 803.8L1821.7 803.1L1822.3 802.3L1823 801.5L1823.6 800.7L1824.2 799.9L1824.9 799.2L1825.5 798.5L1826.2 798L1826.8 797.5L1827.4 797.1L1828.1 796.9L1828.7 796.8L1829.4 796.9L1830 797.1L1830.6 797.5L1831.3 798L1831.9 798.6L1832.6 799.3L1833.2 800.1L1833.9 801L1834.5 801.9L1835.1 802.9L1835.8 803.8L1836.4 804.6L1837.1 805.4L1837.7 806L1838.3 806.6L1839 807.1L1839.6 807.5L1840.3 807.7L1840.9 808L1841.5 808.1L1842.2 808.2L1842.8 808.2L1843.5 808.1L1844.1 808.1L1844.8 808L1845.4 807.9L1846 807.8L1846.7 807.7L1847.3 807.7L1848 807.7L1848.6 807.8L1849.2 808L1849.9 808.3L1850.5 808.6L1851.2 808.9L1851.8 809.3L1852.4 809.6L1853.1 809.8L1853.7 810L1854.4 810.1L1855 810.2L1855.6 810.2L1856.3 810.1L1856.9 810L1857.6 809.8L1858.2 809.7L1858.9 809.5L1859.5 809.4L1860.1 809.2L1860.8 809.1L1861.4 809.1L1862.1 809L1862.7 809L1863.3 809L1864 809L1864.6 809L1865.3 809.1L1865.9 809.1L1866.5 809L1867.2 808.9L1867.8 808.6L1868.5 808.3L1869.1 807.8L1869.8 807.2L1870.4 806.4L1871 805.7L1871.7 804.8L1872.3 804L1873 803.3L1873.6 802.6L1874.2 802.1L1874.9 801.6L1875.5 801.2L1876.2 800.9L1876.8 800.7L1877.4 800.5L1878.1 800.4L1878.7 800.5L1879.4 800.6L1880 800.8L1880.7 801L1881.3 801.4L1881.9 801.8L1882.6 802.2L1883.2 802.7L1883.9 803.2L1884.5 803.7L1885.1 804.2L1885.8 804.7L1886.4 805.1L1887.1 805.4L1887.7 805.7L1888.3 805.9L1889 806.1L1889.6 806.1L1890.3 806.1L1890.9 806.1L1891.6 806L1892.2 805.9L1892.8 805.9L1893.5 805.8L1894.1 805.7L1894.8 805.7L1895.4 805.7L1896 805.7L1896.7 805.7L1897.3 805.7L1898 805.7L1898.6 805.7L1899.2 805.7L1899.9 805.6L1900.5 805.6L1901.2 805.5L1901.8 805.3L1902.5 805.1L1903.1 804.9L1903.7 804.7L1904.4 804.4L1905 804.2L1905.7 804L1906.3 803.9L1906.9 803.9L1907.6 803.9L1908.2 804.1L1908.9 804.3L1909.5 804.5L1910.1 804.7L1910.8 804.9L1911.4 805L1912.1 805.1L1912.7 805.1L1913.4 805.1L1914 805L1914.6 804.8L1915.3 804.5L1915.9 804.3L1916.6 804L1917.2 803.6L1917.8 803.2L1918.5 802.8L1919.1 802.4L1919.8 801.9L1920.4 801.5L1921 801.1L1921.7 800.7L1922.3 800.4L1923 800.1L1923.6 799.8L1924.3 799.6L1924.9 799.5L1925.5 799.4L1926.2 799.3L1926.8 799.3L1927.5 799.3L1928.1 799.4L1928.7 799.6L1929.4 799.8L1930 800L1930.7 800.2L1931.3 800.5L1931.9 800.8L1932.6 801.1L1933.2 801.4L1933.9 801.7L1934.5 802.1L1935.2 802.4L1935.8 802.7L1936.4 803L1937.1 803.3L1937.7 803.6L1938.4 803.8L1939 804.1L1939.6 804.2L1940.3 804.4L1940.9 804.6L1941.6 804.7L1942.2 804.8L1942.8 805L1943.5 805.1L1944.1 805.2L1944.8 805.4L1945.4 805.5L1946.1 805.7L1946.7 805.9L1947.3 806.1L1948 806.3L1948.6 806.6L1949.3 806.8L1949.9 807L1950.5 807.3L1951.2 807.5L1951.8 807.7L1952.5 808L1953.1 808.2L1953.7 808.4L1954.4 808.6L1955 808.7L1955.7 808.9L1956.3 808.9L1957 809L1957.6 809L1958.2 808.9L1958.9 808.8L1959.5 808.7L1960.2 808.6L1960.8 808.5L1961.4 808.4L1962.1 808.3L1962.7 808.2L1963.4 808.2L1964 808.2L1964.6 808.2L1965.3 808.3L1965.9 808.3L1966.6 808.4L1967.2 808.5L1967.8 808.6L1968.5 808.7L1969.1 808.8L1969.8 808.8L1970.4 808.8L1971.1 808.8L1971.7 808.7L1972.3 808.6L1973 808.5L1973.6 808.3L1974.3 808.1L1974.9 808L1975.5 807.8L1976.2 807.7L1976.8 807.6L1977.5 807.5L1978.1 807.4L1978.7 807.4L1979.4 807.5L1980 807.5L1980.7 807.6L1981.3 807.6L1982 807.7L1982.6 807.9L1983.2 808L1983.9 808.2L1984.5 808.4L1985.2 808.7L1985.8 809L1986.4 809.3L1987.1 809.6L1987.7 809.9L1988.4 810.2L1989 810.5L1989.6 810.8L1990.3 811.1L1990.9 811.3L1991.6 811.5L1992.2 811.6L1992.9 811.7L1993.5 811.8L1994.1 811.9L1994.8 811.9L1995.4 811.8L1996.1 811.7L1996.7 811.6L1997.3 811.3L1998 811L1998.6 810.7L1999.3 810.4L1999.9 810L2000.5 809.6L2001.2 809.2L2001.8 808.9L2002.5 808.5L2003.1 808.2L2003.8 807.8L2004.4 807.5L2005 807.2L2005.7 807L2006.3 806.8L2007 806.6L2007.6 806.5L2008.2 806.5L2008.9 806.6L2009.5 806.7L2010.2 806.8L2010.8 807L2011.4 807.2L2012.1 807.4L2012.7 807.6L2013.4 807.7L2014 807.7L2014.7 807.6L2015.3 807.4L2015.9 807L2016.6 806.6L2017.2 806.1L2017.9 805.5L2018.5 804.9L2019.1 804.2L2019.8 803.7L2020.4 803.1L2021.1 802.6L2021.7 802.1L2022.3 801.7L2023 801.3L2023.6 801L2024.3 800.7L2024.9 800.4L2025.6 800.2L2026.2 800L2026.8 799.9L2027.5 799.8L2028.1 799.7L2028.8 799.7L2029.4 799.8L2030 799.9L2030.7 800.1L2031.3 800.3L2032 800.6L2032.6 801L2033.2 801.4L2033.9 801.8L2034.5 802.3L2035.2 802.7L2035.8 803.2L2036.5 803.6L2037.1 804L2037.7 804.4L2038.4 804.8L2039 805.1L2039.7 805.4L2040.3 805.6L2040.9 805.8L2041.6 806L2042.2 806.1L2042.9 806.2L2043.5 806.3L2044.1 806.4L2044.8 806.4L2045.4 806.5L2046.1 806.6L2046.7 806.6L2047.4 806.7L2048 806.7L2048.6 806.8L2049.3 806.9L2049.9 806.9L2050.6 807L2051.2 807.1L2051.8 807.1L2052.5 807.2L2053.1 807.3L2053.8 807.3L2054.4 807.4L2055 807.4L2055.7 807.4L2056.3 807.4L2057 807.4L2057.6 807.3L2058.3 807.2L2058.9 807L2059.5 806.8L2060.2 806.6L2060.8 806.3L2061.5 806L2062.1 805.6L2062.7 805.2L2063.4 804.7L2064 804.2L2064.7 803.7L2065.3 803.2L2065.9 802.6L2066.6 802.1L2067.2 801.5L2067.9 801.1L2068.5 800.6L2069.2 800.2L2069.8 799.9L2070.4 799.7L2071.1 799.5L2071.7 799.3L2072.4 799.3L2073 799.3L2073.6 799.3L2074.3 799.5L2074.9 799.6L2075.6 799.9L2076.2 800.2L2076.8 800.5L2077.5 800.9L2078.1 801.3L2078.8 801.7L2079.4 802.1L2080 802.6L2080.7 803L2081.3 803.4L2082 803.7L2082.6 804.1L2083.3 804.4L2083.9 804.7L2084.5 804.9L2085.2 805.1L2085.8 805.3L2086.5 805.5L2087.1 805.6L2087.7 805.8L2088.4 805.9L2089 806L2089.7 806.2L2090.3 806.4L2090.9 806.6L2091.6 806.8L2092.2 807.1L2092.9 807.3L2093.5 807.6L2094.2 807.9L2094.8 808.1L2095.4 808.4L2096.1 808.7L2096.7 808.9L2097.4 809.1L2098 809.3L2098.6 809.4L2099.3 809.6L2099.9 809.7L2100.6 809.8L2101.2 809.8L2101.8 809.9L2102.5 809.9L2103.1 809.9L2103.8 809.8L2104.4 809.6L2105.1 809.4L2105.7 809.2L2106.3 809L2107 808.7L2107.6 808.4L2108.3 808.2L2108.9 807.9L2109.5 807.8L2110.2 807.6L2110.8 807.5L2111.5 807.4L2112.1 807.4L2112.7 807.3L2113.4 807.3L2114 807.3L2114.7 807.3L2115.3 807.2L2116 807.2L2116.6 807.2L2117.2 807.2L2117.9 807.1L2118.5 807.1L2119.2 807L2119.8 807L2120.4 806.9L2121.1 806.9L2121.7 806.8L2122.4 806.8L2123 806.8L2123.6 806.8L2124.3 806.9L2124.9 806.9L2125.6 807L2126.2 807.1L2126.9 807.3L2127.5 807.5L2128.1 807.7L2128.8 807.9L2129.4 808.2L2130.1 808.4L2130.7 808.7L2131.3 809L2132 809.4L2132.6 809.7L2133.3 810L2133.9 810.2L2134.5 810.4L2135.2 810.6L2135.8 810.7L2136.5 810.7L2137.1 810.6L2137.8 810.6L2138.4 810.4L2139 810.3L2139.7 810.2L2140.3 810.1L2141 810L2141.6 809.9L2142.2 809.8L2142.9 809.8L2143.5 809.8L2144.2 809.8L2144.8 809.9L2145.4 810L2146.1 810.1L2146.7 810.3L2147.4 810.6L2148 810.8L2148.7 811.1L2149.3 811.4L2149.9 811.6L2150.6 811.8L2151.2 811.9L2151.9 812L2152.5 812.1L2153.1 812.1L2153.8 812.1L2154.4 812L2155.1 812L2155.7 812L2156.3 811.9L2157 811.9" stroke="#000000"/>
</g>
<rect x="1236.4" y="551.8" width="462.3" height="345.3" fill="none" stroke="#747474" stroke-width="1.1"/>
<path d="M1308.4 897.1H1622.5M1236.4 841.9V586.0M1308.4 897.1v7.7M1386.9 897.1v7.7M1465.4 897.1v7.7M1544.0 897.1v7.7M1622.5 897.1v7.7M1236.4 841.9h-7.7M1236.4 756.6h-7.7M1236.4 671.3h-7.7M1236.4 586.0h-7.7" fill="none" stroke="#3c3c3c" stroke-width="1.15"/>
<g font-family="'Liberation Sans', Arial, Helvetica, sans-serif" font-size="12.3" fill="#262626" stroke="#262626" stroke-width="0.3" text-anchor="middle">
<text x="1308.4" y="923.4">1</text>
<text x="1386.9" y="923.4">2</text>
<text x="1465.4" y="923.4">3</text>
<text x="1544.0" y="923.4">4</text>
<text x="1622.5" y="923.4">5</text>
</g>
<g font-family="'Liberation Sans', Arial, Helvetica, sans-serif" font-size="12.3" fill="#262626" stroke="#262626" stroke-width="0.3" text-anchor="middle">
<text transform="translate(1219.6 841.9) rotate(-90)">0.0</text>
<text transform="translate(1219.6 756.6) rotate(-90)">0.2</text>
<text transform="translate(1219.6 671.3) rotate(-90)">0.4</text>
<text transform="translate(1219.6 586.0) rotate(-90)">0.6</text>
</g>
</g>
<g id="legend-b" transform="translate(1130.6 91.5) scale(1 1.0)">
<rect x="-96.3" y="0" width="96.3" height="72.0" fill="#fff" stroke="#747474" stroke-width="1.1"/>
<path d="M-84.30 19.2H-61.40" stroke="#0000ff" stroke-width="2.5" stroke-linecap="round"/>
<path d="M-84.30 38.0H-61.40" stroke="#ff0000" stroke-width="2.5" stroke-linecap="round"/>
<path d="M-84.30 57.1H-61.40" stroke="#000000" stroke-width="2.5" stroke-linecap="round"/>
<g font-family="'Liberation Sans', Arial, Helvetica, sans-serif" fill="#141414" stroke="#141414" stroke-width="0.3">
<text transform="translate(-49.70 25.50)" font-size="13.5">Y</text>
<text transform="translate(-39.70 15.40)" font-size="9.5">sub</text>
<text transform="translate(-40.40 30.30)" font-size="10">A</text>
<path d="M-49.80 12.80c1.82 -2.2 3.76 -2 5.70 -0.9s3.88 1.3 5.70 -0.9" fill="none" stroke="#141414" stroke-width="1"/>
<text transform="translate(-49.70 63.50)" font-size="13.5">Y</text>
<text transform="translate(-39.70 53.40)" font-size="9.5">sub</text>
<text transform="translate(-40.40 68.30)" font-size="10">A</text>
<path d="M-49.80 50.80c1.82 -2.2 3.76 -2 5.70 -0.9s3.88 1.3 5.70 -0.9" fill="none" stroke="#141414" stroke-width="1"/>
<text transform="translate(-49.70 42.10)" font-size="13.4">μ</text>
<path d="M-49.30 33.60L-45.10 30.60L-40.90 33.60" fill="none" stroke="#141414" stroke-width="1" stroke-linejoin="miter"/>
<text transform="translate(-22.20 64.80)" font-size="13.4">+</text>
<text transform="translate(-12.00 63.20)" font-size="13.4">μ</text>
<path d="M-11.60 54.40L-7.40 51.40L-3.20 54.40" fill="none" stroke="#141414" stroke-width="1" stroke-linejoin="miter"/>
</g></g>
<g id="legend-c" transform="translate(1698.7 91.5) scale(1 1.0)">
<rect x="-92.3" y="0" width="92.3" height="73.9" fill="#fff" stroke="#747474" stroke-width="1.1"/>
<path d="M-80.35 19.65H-57.90" stroke="#0000ff" stroke-width="2.5" stroke-linecap="round"/>
<path d="M-80.35 39.4H-57.90" stroke="#ff0000" stroke-width="2.5" stroke-linecap="round"/>
<path d="M-80.35 58.76H-57.90" stroke="#000000" stroke-width="2.5" stroke-linecap="round"/>
<g font-family="'Liberation Sans', Arial, Helvetica, sans-serif" fill="#141414" stroke="#141414" stroke-width="0.3">
<text transform="translate(-46.00 28.70) scale(0.82 1)" font-size="14.7">Y</text>
<text transform="translate(-37.10 21.10) scale(0.9 1)" font-size="9.7">X</text>
<text transform="translate(-31.10 31.30) scale(0.9 1)" font-size="10.2">A</text>
<path d="M-45.90 11.50L-38.60 8.20L-30.90 11.50" fill="none" stroke="#141414" stroke-width="1" stroke-linejoin="miter"/>
<text transform="translate(-46.00 67.20) scale(0.82 1)" font-size="14.7">Y</text>
<text transform="translate(-37.10 59.60) scale(0.9 1)" font-size="9.7">X</text>
<text transform="translate(-31.10 69.80) scale(0.9 1)" font-size="10.2">A</text>
<path d="M-45.90 50.20L-38.60 46.90L-30.90 50.20" fill="none" stroke="#141414" stroke-width="1" stroke-linejoin="miter"/>
<text transform="translate(-46.40 44.10) scale(0.88 1)" font-size="13.5">μ</text>
<path d="M-45.90 34.95L-42.20 31.55L-38.20 34.95" fill="none" stroke="#141414" stroke-width="1" stroke-linejoin="miter"/>
<text transform="translate(-22.60 68.40) scale(0.9 1)" font-size="13.4">+</text>
<text transform="translate(-13.70 67.20) scale(0.88 1)" font-size="13.5">μ</text>
<path d="M-13.20 58.30L-9.40 55.00L-5.80 58.30" fill="none" stroke="#141414" stroke-width="1" stroke-linejoin="miter"/>
</g></g>
<g id="legend-e" transform="translate(1130.6 552.1) scale(1 0.96)">
<rect x="-96.3" y="0" width="96.3" height="72.0" fill="#fff" stroke="#747474" stroke-width="1.1"/>
<path d="M-84.30 19.2H-61.40" stroke="#0000ff" stroke-width="2.5" stroke-linecap="round"/>
<path d="M-84.30 38.0H-61.40" stroke="#ff0000" stroke-width="2.5" stroke-linecap="round"/>
<path d="M-84.30 57.1H-61.40" stroke="#000000" stroke-width="2.5" stroke-linecap="round"/>
<g font-family="'Liberation Sans', Arial, Helvetica, sans-serif" fill="#141414" stroke="#141414" stroke-width="0.3">
<text transform="translate(-49.70 25.50)" font-size="13.5">Y</text>
<text transform="translate(-39.70 15.40)" font-size="9.5">sub</text>
<text transform="translate(-40.40 30.30)" font-size="10">B</text>
<path d="M-49.80 12.80c1.82 -2.2 3.76 -2 5.70 -0.9s3.88 1.3 5.70 -0.9" fill="none" stroke="#141414" stroke-width="1"/>
<text transform="translate(-49.70 63.50)" font-size="13.5">Y</text>
<text transform="translate(-39.70 53.40)" font-size="9.5">sub</text>
<text transform="translate(-40.40 68.30)" font-size="10">B</text>
<path d="M-49.80 50.80c1.82 -2.2 3.76 -2 5.70 -0.9s3.88 1.3 5.70 -0.9" fill="none" stroke="#141414" stroke-width="1"/>
<text transform="translate(-49.70 42.10)" font-size="13.4">μ</text>
<path d="M-49.30 33.60L-45.10 30.60L-40.90 33.60" fill="none" stroke="#141414" stroke-width="1" stroke-linejoin="miter"/>
<text transform="translate(-22.20 64.80)" font-size="13.4">+</text>
<text transform="translate(-12.00 63.20)" font-size="13.4">μ</text>
<path d="M-11.60 54.40L-7.40 51.40L-3.20 54.40" fill="none" stroke="#141414" stroke-width="1" stroke-linejoin="miter"/>
</g></g>
<g id="legend-f" transform="translate(1698.7 551.8) scale(1 0.965)">
<rect x="-92.3" y="0" width="92.3" height="73.9" fill="#fff" stroke="#747474" stroke-width="1.1"/>
<path d="M-80.35 19.65H-57.90" stroke="#0000ff" stroke-width="2.5" stroke-linecap="round"/>
<path d="M-80.35 39.4H-57.90" stroke="#ff0000" stroke-width="2.5" stroke-linecap="round"/>
<path d="M-80.35 58.76H-57.90" stroke="#000000" stroke-width="2.5" stroke-linecap="round"/>
<g font-family="'Liberation Sans', Arial, Helvetica, sans-serif" fill="#141414" stroke="#141414" stroke-width="0.3">
<text transform="translate(-46.00 28.70) scale(0.82 1)" font-size="14.7">Y</text>
<text transform="translate(-37.10 21.10) scale(0.9 1)" font-size="9.7">X</text>
<text transform="translate(-31.10 31.30) scale(0.9 1)" font-size="10.2">B</text>
<path d="M-45.90 11.50L-38.60 8.20L-30.90 11.50" fill="none" stroke="#141414" stroke-width="1" stroke-linejoin="miter"/>
<text transform="translate(-46.00 67.20) scale(0.82 1)" font-size="14.7">Y</text>
<text transform="translate(-37.10 59.60) scale(0.9 1)" font-size="9.7">X</text>
<text transform="translate(-31.10 69.80) scale(0.9 1)" font-size="10.2">B</text>
<path d="M-45.90 50.20L-38.60 46.90L-30.90 50.20" fill="none" stroke="#141414" stroke-width="1" stroke-linejoin="miter"/>
<text transform="translate(-46.40 44.10) scale(0.88 1)" font-size="13.5">μ</text>
<path d="M-45.90 34.95L-42.20 31.55L-38.20 34.95" fill="none" stroke="#141414" stroke-width="1" stroke-linejoin="miter"/>
<text transform="translate(-22.60 68.40) scale(0.9 1)" font-size="13.4">+</text>
<text transform="translate(-13.70 67.20) scale(0.88 1)" font-size="13.5">μ</text>
<path d="M-13.20 58.30L-9.40 55.00L-5.80 58.30" fill="none" stroke="#141414" stroke-width="1" stroke-linejoin="miter"/>
</g></g>
<g font-family="'Liberation Serif', 'Times New Roman', serif" fill="#000">
<g font-size="35" font-weight="bold"><text transform="translate(326.75 20.70) scale(0.86 0.908)" text-anchor="end">(</text><text x="335.5" y="24.5" text-anchor="middle">a</text><text transform="translate(344.25 20.70) scale(0.86 0.908)">)</text></g>
<g font-size="35" font-weight="bold"><text transform="translate(890.77 20.70) scale(0.86 0.908)" text-anchor="end">(</text><text x="901.4" y="24.5" text-anchor="middle">b</text><text transform="translate(912.03 20.70) scale(0.86 0.908)">)</text></g>
<g font-size="35" font-weight="bold"><text transform="translate(1459.53 20.70) scale(0.86 0.908)" text-anchor="end">(</text><text x="1467.3" y="24.5" text-anchor="middle">c</text><text transform="translate(1475.07 20.70) scale(0.86 0.908)">)</text></g>
<g font-size="35" font-weight="bold"><text transform="translate(325.17 1042.50) scale(0.86 0.908)" text-anchor="end">(</text><text x="335.5" y="1046.3" text-anchor="middle">d</text><text transform="translate(345.83 1042.50) scale(0.86 0.908)">)</text></g>
<g font-size="35" font-weight="bold"><text transform="translate(892.73 1042.50) scale(0.86 0.908)" text-anchor="end">(</text><text transform="translate(901.4 1046.3) scale(1.06 1)" text-anchor="middle">e</text><text transform="translate(910.07 1042.50) scale(0.86 0.908)">)</text></g>
<g font-size="35" font-weight="bold"><text transform="translate(1460.27 1042.50) scale(0.86 0.908)" text-anchor="end">(</text><text x="1467.3" y="1046.3" text-anchor="middle">f</text><text transform="translate(1474.33 1042.50) scale(0.86 0.908)">)</text></g>
<text x="335.5" y="988.9" font-size="28.9" text-anchor="middle" stroke="#000" stroke-width="0.3">order domain</text>
<text x="901.4" y="988.9" font-size="28.9" text-anchor="middle" stroke="#000" stroke-width="0.3">order domain</text>
<text x="1467.3" y="988.9" font-size="28.9" text-anchor="middle" stroke="#000" stroke-width="0.3">order domain</text>
<g transform="translate(19 414.8) rotate(-90)"><text font-size="28.4" stroke="#000" stroke-width="0.3">sqrt(acc. magnitude) (</text><text transform="translate(247.6 7.8) scale(0.74 1)" font-size="40" stroke="#000" stroke-width="0.5">√</text><path d="M262.6 -18.4H280" stroke="#000" stroke-width="1.5" fill="none"/><text x="263.6" font-size="28.4" font-style="italic">g</text><text x="279" font-size="28.4">)</text></g>
<g transform="translate(19 869.6) rotate(-90)"><text font-size="28.4" stroke="#000" stroke-width="0.3">sqrt(acc. magnitude) (</text><text transform="translate(247.6 7.8) scale(0.74 1)" font-size="40" stroke="#000" stroke-width="0.5">√</text><path d="M262.6 -18.4H280" stroke="#000" stroke-width="1.5" fill="none"/><text x="263.6" font-size="28.4" font-style="italic">g</text><text x="279" font-size="28.4">)</text></g>
</g>
</svg>
</body></html>
